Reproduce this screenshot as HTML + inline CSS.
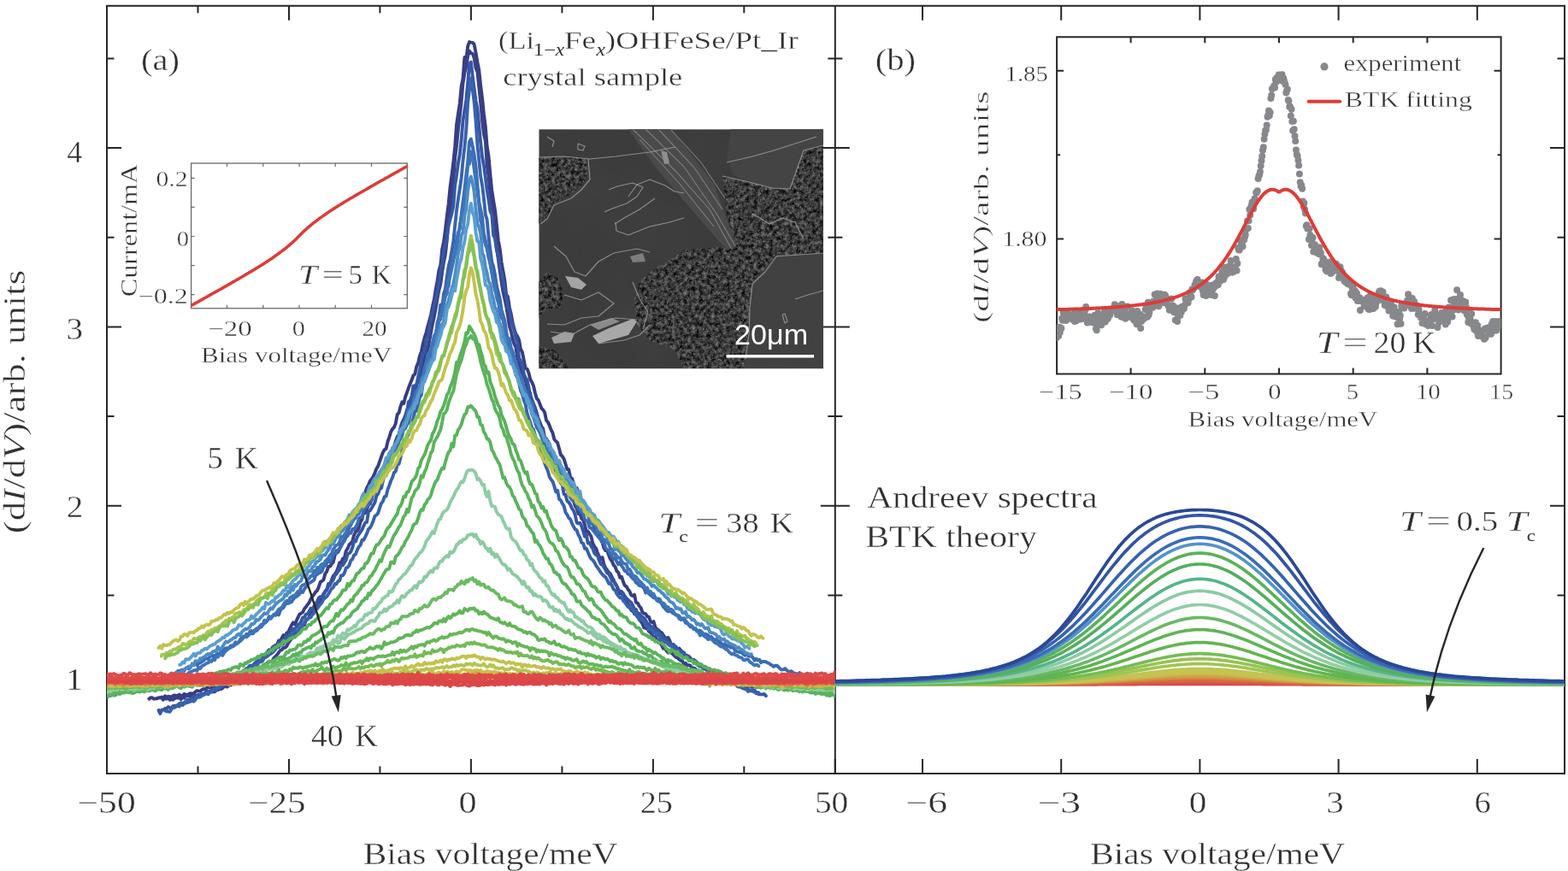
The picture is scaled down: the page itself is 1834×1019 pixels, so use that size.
<!DOCTYPE html>
<html><head><meta charset="utf-8"><style>html,body{margin:0;padding:0;background:#fff;overflow:hidden}svg{display:block}</style></head><body>
<svg width="1834" height="1019" viewBox="0 0 1834 1019">
<style>.t{stroke:#fff;stroke-width:0.4px;paint-order:fill stroke}</style>
<defs>
<clipPath id="clipA"><rect x="125.0" y="6.8" width="851.8" height="898.2"/></clipPath>
<clipPath id="clipB"><rect x="976.8" y="6.8" width="853.2" height="898.2"/></clipPath>
<clipPath id="clipIA"><rect x="223.6" y="191.0" width="252.70000000000002" height="169.7"/></clipPath>
<clipPath id="clipIB"><rect x="1236.1" y="43.3" width="519.5" height="394.2"/></clipPath>
<clipPath id="clipSEM"><rect x="630.3" y="151.2" width="332.70000000000005" height="280.2"/></clipPath>
<filter id="porous" x="0" y="0" width="100%" height="100%" color-interpolation-filters="sRGB"><feTurbulence type="fractalNoise" baseFrequency="0.22" numOctaves="4" seed="9"/><feColorMatrix type="matrix" values="0.65 0 0 0 -0.11  0.65 0 0 0 -0.11  0.65 0 0 0 -0.11  0 0 0 0 1"/></filter>
<filter id="speck" x="0" y="0" width="100%" height="100%" color-interpolation-filters="sRGB"><feTurbulence type="fractalNoise" baseFrequency="0.45" numOctaves="2" seed="21"/><feColorMatrix type="matrix" values="0 0 0 0 0.62  0 0 0 0 0.62  0 0 0 0 0.62  7 0 0 0 -4.1"/></filter>
<filter id="semsmooth" x="0" y="0" width="100%" height="100%" color-interpolation-filters="sRGB"><feTurbulence type="fractalNoise" baseFrequency="0.015" numOctaves="2" seed="3"/><feColorMatrix type="matrix" values="0 0 0 0 0.3  0 0 0 0 0.3  0 0 0 0 0.3  1.5 0 0 0 -0.5"/></filter>
<filter id="semnoise" x="0" y="0" width="100%" height="100%"><feTurbulence type="fractalNoise" baseFrequency="0.08" numOctaves="3" seed="4"/><feColorMatrix type="matrix" values="0 0 0 0 0.25  0 0 0 0 0.25  0 0 0 0 0.25  0 0 0 1.2 -0.3"/></filter>
</defs>
<rect width="1834" height="1019" fill="#fff"/>
<rect x="125.0" y="6.8" width="1705.0" height="898.2" fill="none" stroke="#262626" stroke-width="2"/>
<line x1="976.8" y1="6.8" x2="976.8" y2="905.0" stroke="#262626" stroke-width="2"/>
<path d="M338.0,6.8L338.0,23.8 M338.0,905.0L338.0,888.0 M550.9,6.8L550.9,23.8 M550.9,905.0L550.9,888.0 M763.9,6.8L763.9,23.8 M763.9,905.0L763.9,888.0 M231.5,6.8L231.5,15.3 M231.5,905.0L231.5,896.5 M444.4,6.8L444.4,15.3 M444.4,905.0L444.4,896.5 M657.4,6.8L657.4,15.3 M657.4,905.0L657.4,896.5 M870.3,6.8L870.3,15.3 M870.3,905.0L870.3,896.5 M1079.0,6.8L1079.0,23.8 M1079.0,905.0L1079.0,888.0 M1241.2,6.8L1241.2,23.8 M1241.2,905.0L1241.2,888.0 M1403.4,6.8L1403.4,23.8 M1403.4,905.0L1403.4,888.0 M1565.6,6.8L1565.6,23.8 M1565.6,905.0L1565.6,888.0 M1727.8,6.8L1727.8,23.8 M1727.8,905.0L1727.8,888.0 M125.0,801.0L142.0,801.0 M959.8,801.0L993.8,801.0 M1830.0,801.0L1813.0,801.0 M125.0,591.7L142.0,591.7 M959.8,591.7L993.8,591.7 M1830.0,591.7L1813.0,591.7 M125.0,382.4L142.0,382.4 M959.8,382.4L993.8,382.4 M1830.0,382.4L1813.0,382.4 M125.0,173.1L142.0,173.1 M959.8,173.1L993.8,173.1 M1830.0,173.1L1813.0,173.1 M125.0,696.4L133.5,696.4 M968.3,696.4L985.3,696.4 M1830.0,696.4L1821.5,696.4 M125.0,487.0L133.5,487.0 M968.3,487.0L985.3,487.0 M1830.0,487.0L1821.5,487.0 M125.0,277.8L133.5,277.8 M968.3,277.8L985.3,277.8 M1830.0,277.8L1821.5,277.8 M125.0,68.4L133.5,68.4 M968.3,68.4L985.3,68.4 M1830.0,68.4L1821.5,68.4 M976.8,905.0L976.8,888.0" stroke="#262626" stroke-width="2" fill="none"/>
<g clip-path="url(#clipA)">
<path d="M174.4,817.6 L176.1,816.3 L178.0,816.2 L179.9,817.7 L181.7,817.3 L183.6,817.3 L185.5,816.1 L187.4,816.5 L189.2,815.5 L191.1,817.7 L193.0,814.3 L194.8,815.6 L196.7,814.7 L198.6,815.2 L200.5,815.1 L202.3,814.1 L204.2,813.4 L206.1,814.1 L208.0,813.7 L209.8,812.6 L211.7,813.8 L213.6,814.0 L215.5,811.9 L217.3,812.5 L219.2,813.3 L221.1,811.9 L223.0,811.1 L224.8,811.4 L226.7,811.2 L228.6,809.3 L230.5,808.0 L232.3,808.6 L234.2,808.6 L236.1,807.0 L237.9,806.1 L239.8,806.5 L241.7,805.1 L243.6,804.1 L245.4,804.6 L247.3,804.5 L249.2,802.8 L251.1,802.2 L252.9,800.7 L254.8,802.2 L256.7,800.9 L258.6,800.2 L260.4,800.3 L262.3,797.7 L264.2,796.5 L266.1,796.8 L267.9,793.9 L269.8,793.5 L271.7,792.7 L273.6,791.9 L275.4,790.4 L277.3,791.6 L279.2,788.6 L281.0,787.5 L282.9,788.7 L284.8,785.4 L286.7,784.8 L288.5,782.5 L290.4,782.5 L292.3,780.8 L294.2,779.1 L296.0,778.9 L297.9,776.0 L299.8,775.3 L301.7,773.2 L303.5,772.7 L305.4,769.5 L307.3,768.4 L309.2,767.6 L311.0,765.0 L312.9,762.6 L314.8,760.3 L316.7,762.2 L318.5,757.6 L320.4,756.2 L322.3,754.9 L324.2,754.0 L326.0,749.4 L327.9,750.3 L329.8,746.1 L331.6,743.1 L333.5,744.3 L335.4,740.5 L337.3,739.5 L339.1,735.3 L341.0,731.4 L342.9,728.3 L344.8,730.5 L346.6,726.6 L348.5,722.4 L350.4,718.7 L352.3,717.5 L354.1,716.3 L356.0,712.2 L357.9,709.9 L359.8,707.3 L361.6,705.1 L363.5,700.7 L365.4,697.8 L367.3,695.4 L369.1,692.5 L371.0,690.9 L372.9,686.6 L374.7,681.0 L376.6,679.8 L378.5,678.3 L380.4,670.9 L382.2,668.7 L384.1,663.0 L386.0,662.6 L387.9,659.8 L389.7,657.8 L391.6,650.0 L393.5,644.4 L395.4,646.0 L397.2,642.1 L399.1,636.4 L401.0,634.9 L402.9,630.2 L404.7,626.5 L406.6,621.7 L408.5,616.3 L410.4,614.1 L412.2,608.6 L414.1,606.9 L416.0,601.6 L417.8,601.8 L419.7,596.6 L421.6,588.5 L423.5,586.8 L425.3,580.5 L427.2,576.4 L429.1,570.7 L431.0,567.4 L432.8,562.8 L434.7,560.6 L436.6,557.5 L438.5,553.2 L440.3,548.4 L442.2,545.3 L444.1,539.8 L446.0,534.5 L447.8,529.4 L449.7,526.2 L451.6,525.0 L453.5,516.7 L455.3,511.6 L457.2,505.3 L459.1,501.8 L460.9,499.9 L462.8,495.4 L464.7,484.8 L466.6,482.9 L468.4,475.8 L470.3,470.3 L472.2,472.1 L474.1,464.5 L475.9,459.4 L477.8,454.1 L479.7,449.0 L481.6,444.5 L483.4,439.3 L485.3,437.8 L487.2,429.0 L489.1,424.6 L490.9,416.4 L492.8,411.7 L494.7,402.5 L496.6,395.2 L498.4,389.5 L500.3,382.1 L502.2,374.9 L504.1,368.2 L505.9,358.8 L507.8,350.5 L509.7,338.4 L511.5,329.1 L513.4,316.5 L515.3,310.3 L517.2,291.4 L519.0,283.1 L520.9,269.1 L522.8,252.7 L524.7,238.3 L526.5,219.3 L528.4,205.3 L530.3,189.7 L532.2,171.4 L534.0,146.1 L535.9,133.2 L537.8,120.8 L539.7,100.7 L541.5,92.2 L543.4,66.9 L545.3,69.4 L547.2,54.0 L549.0,49.1 L550.9,49.6 L552.8,49.9 L554.6,51.8 L556.5,61.5 L558.4,72.5 L560.3,82.4 L562.1,99.7 L564.0,114.8 L565.9,133.3 L567.8,148.0 L569.6,171.1 L571.5,182.7 L573.4,204.3 L575.3,223.0 L577.1,234.5 L579.0,245.8 L580.9,262.9 L582.8,281.3 L584.6,290.8 L586.5,306.5 L588.4,317.2 L590.3,327.5 L592.1,344.5 L594.0,347.2 L595.9,359.6 L597.7,367.2 L599.6,377.4 L601.5,385.1 L603.4,390.9 L605.2,393.4 L607.1,397.9 L609.0,408.6 L610.9,412.0 L612.7,421.3 L614.6,431.0 L616.5,431.6 L618.4,436.3 L620.2,443.6 L622.1,447.1 L624.0,451.5 L625.9,459.8 L627.7,466.1 L629.6,468.1 L631.5,472.8 L633.4,477.8 L635.2,479.5 L637.1,482.5 L639.0,491.7 L640.9,493.9 L642.7,497.9 L644.6,502.9 L646.5,506.6 L648.3,514.0 L650.2,516.1 L652.1,517.9 L654.0,524.8 L655.8,532.0 L657.7,533.9 L659.6,536.9 L661.5,542.9 L663.3,549.0 L665.2,549.2 L667.1,558.8 L669.0,559.7 L670.8,564.9 L672.7,571.2 L674.6,570.9 L676.5,576.6 L678.3,583.5 L680.2,584.4 L682.1,590.3 L684.0,596.9 L685.8,598.7 L687.7,601.0 L689.6,604.3 L691.4,609.1 L693.3,613.1 L695.2,616.3 L697.1,621.2 L698.9,622.7 L700.8,628.2 L702.7,631.6 L704.6,634.9 L706.4,641.1 L708.3,644.1 L710.2,644.2 L712.1,649.6 L713.9,654.0 L715.8,656.5 L717.7,661.1 L719.6,663.3 L721.4,668.0 L723.3,669.9 L725.2,675.8 L727.1,674.8 L728.9,680.5 L730.8,685.1 L732.7,686.2 L734.5,689.4 L736.4,691.7 L738.3,696.3 L740.2,697.1 L742.0,695.7 L743.9,704.9 L745.8,705.5 L747.7,709.0 L749.5,711.0 L751.4,716.1 L753.3,717.8 L755.2,718.2 L757.0,721.3 L758.9,721.6 L760.8,726.8 L762.7,728.1 L764.5,727.1 L766.4,733.7 L768.3,736.0 L770.2,737.1 L772.0,739.2 L773.9,740.2 L775.8,743.0 L777.6,745.9 L779.5,746.7 L781.4,745.9 L783.3,749.2 L785.1,755.5 L787.0,754.3 L788.9,756.8 L790.8,756.8 L792.6,759.3 L794.5,758.6 L796.4,761.2 L798.3,762.7 L800.1,764.9 L802.0,766.6 L803.9,767.6 L805.8,767.9 L807.6,770.0 L809.5,772.2 L811.4,771.8 L813.3,774.1 L815.1,775.5 L817.0,777.4 L818.9,778.3 L820.8,779.4 L822.6,782.6 L824.5,779.8 L826.4,781.3 L828.2,783.0 L830.1,782.7 L832.0,784.2 L833.9,785.1 L835.7,788.7 L837.6,787.3 L839.5,787.4 L841.4,787.1 L843.2,787.7 L845.1,788.8 L847.0,791.9 L848.9,793.5 L850.7,791.6 L852.6,792.7 L854.5,792.4 L856.4,794.0 L858.2,794.3 L860.1,796.4 L862.0,795.1 L863.9,796.4 L865.7,796.2 L867.6,796.5 L869.5,797.5 L871.3,797.5 L873.2,798.3 L875.1,797.9 L877.0,798.6 L878.8,799.9 L880.7,800.3 L882.6,798.4 L884.5,800.5 L886.3,799.8 L888.2,800.6 L890.1,801.8 L892.0,802.3 L893.8,801.7 L894.2,801.6" fill="none" stroke="#373d82" stroke-width="3.9" stroke-linejoin="round" stroke-linecap="round"/>
<path d="M190.6,818.6 L191.1,817.5 L193.0,817.6 L194.8,817.5 L196.7,816.5 L198.6,818.9 L200.5,818.2 L202.3,818.7 L204.2,817.3 L206.1,816.0 L208.0,816.8 L209.8,816.0 L211.7,818.1 L213.6,815.9 L215.5,816.6 L217.3,813.8 L219.2,814.3 L221.1,814.0 L223.0,814.6 L224.8,813.6 L226.7,813.3 L228.6,813.8 L230.5,813.6 L232.3,812.9 L234.2,812.9 L236.1,812.5 L237.9,811.8 L239.8,811.8 L241.7,809.9 L243.6,811.7 L245.4,808.9 L247.3,809.7 L249.2,809.1 L251.1,809.4 L252.9,807.7 L254.8,807.2 L256.7,806.1 L258.6,806.2 L260.4,805.0 L262.3,802.7 L264.2,803.3 L266.1,803.5 L267.9,801.3 L269.8,801.6 L271.7,800.1 L273.6,799.3 L275.4,799.4 L277.3,800.0 L279.2,797.6 L281.0,795.8 L282.9,795.7 L284.8,794.0 L286.7,792.4 L288.5,792.9 L290.4,790.0 L292.3,788.5 L294.2,787.9 L296.0,786.7 L297.9,785.5 L299.8,783.1 L301.7,783.9 L303.5,782.8 L305.4,780.8 L307.3,781.0 L309.2,780.2 L311.0,778.1 L312.9,775.3 L314.8,773.7 L316.7,774.2 L318.5,773.0 L320.4,769.6 L322.3,767.8 L324.2,765.9 L326.0,763.3 L327.9,760.9 L329.8,760.1 L331.6,757.8 L333.5,757.7 L335.4,755.8 L337.3,752.2 L339.1,749.6 L341.0,747.3 L342.9,745.3 L344.8,742.8 L346.6,740.5 L348.5,741.2 L350.4,737.6 L352.3,733.8 L354.1,731.1 L356.0,731.2 L357.9,725.3 L359.8,724.7 L361.6,721.7 L363.5,718.4 L365.4,715.0 L367.3,715.0 L369.1,709.0 L371.0,707.2 L372.9,705.4 L374.7,701.7 L376.6,701.2 L378.5,696.0 L380.4,691.7 L382.2,689.8 L384.1,686.0 L386.0,682.4 L387.9,678.8 L389.7,674.0 L391.6,672.1 L393.5,668.9 L395.4,664.2 L397.2,658.3 L399.1,658.3 L401.0,653.4 L402.9,652.9 L404.7,644.6 L406.6,641.9 L408.5,637.0 L410.4,635.4 L412.2,633.1 L414.1,626.0 L416.0,622.2 L417.8,620.9 L419.7,617.9 L421.6,610.6 L423.5,607.6 L425.3,598.6 L427.2,600.1 L429.1,595.7 L431.0,590.8 L432.8,589.3 L434.7,583.7 L436.6,574.8 L438.5,573.7 L440.3,570.3 L442.2,567.2 L444.1,559.3 L446.0,554.7 L447.8,551.1 L449.7,547.9 L451.6,542.1 L453.5,537.4 L455.3,535.0 L457.2,527.9 L459.1,528.9 L460.9,522.6 L462.8,516.0 L464.7,510.9 L466.6,508.5 L468.4,500.6 L470.3,494.3 L472.2,490.7 L474.1,486.3 L475.9,480.1 L477.8,476.0 L479.7,474.4 L481.6,467.1 L483.4,458.3 L485.3,458.5 L487.2,450.2 L489.1,445.5 L490.9,440.8 L492.8,435.0 L494.7,426.0 L496.6,418.9 L498.4,412.0 L500.3,409.2 L502.2,398.7 L504.1,389.0 L505.9,379.0 L507.8,370.7 L509.7,360.7 L511.5,349.7 L513.4,339.6 L515.3,332.6 L517.2,317.8 L519.0,306.8 L520.9,297.8 L522.8,280.9 L524.7,253.4 L526.5,246.9 L528.4,233.2 L530.3,209.9 L532.2,184.4 L534.0,171.1 L535.9,151.1 L537.8,135.5 L539.7,117.9 L541.5,97.4 L543.4,85.5 L545.3,77.7 L547.2,65.6 L549.0,59.7 L550.9,62.2 L552.8,62.8 L554.6,67.9 L556.5,79.7 L558.4,83.9 L560.3,102.4 L562.1,119.5 L564.0,140.2 L565.9,156.5 L567.8,165.1 L569.6,192.8 L571.5,205.8 L573.4,226.4 L575.3,240.9 L577.1,257.2 L579.0,277.1 L580.9,290.5 L582.8,303.3 L584.6,316.4 L586.5,329.2 L588.4,341.5 L590.3,349.7 L592.1,358.0 L594.0,369.6 L595.9,381.9 L597.7,387.3 L599.6,396.1 L601.5,402.6 L603.4,406.4 L605.2,418.3 L607.1,424.3 L609.0,432.7 L610.9,437.3 L612.7,443.8 L614.6,444.4 L616.5,452.9 L618.4,460.3 L620.2,459.8 L622.1,472.3 L624.0,472.4 L625.9,477.1 L627.7,482.9 L629.6,489.6 L631.5,494.0 L633.4,499.2 L635.2,501.5 L637.1,512.6 L639.0,513.4 L640.9,516.6 L642.7,522.6 L644.6,529.6 L646.5,530.9 L648.3,536.3 L650.2,537.7 L652.1,540.9 L654.0,547.9 L655.8,556.1 L657.7,557.1 L659.6,562.8 L661.5,564.1 L663.3,566.5 L665.2,573.3 L667.1,574.4 L669.0,579.6 L670.8,585.2 L672.7,592.1 L674.6,594.4 L676.5,601.1 L678.3,600.9 L680.2,606.5 L682.1,608.4 L684.0,614.2 L685.8,621.8 L687.7,621.4 L689.6,624.9 L691.4,627.5 L693.3,635.5 L695.2,639.2 L697.1,641.4 L698.9,646.8 L700.8,650.9 L702.7,654.1 L704.6,652.1 L706.4,660.4 L708.3,664.4 L710.2,667.0 L712.1,669.8 L713.9,671.3 L715.8,675.1 L717.7,678.5 L719.6,682.8 L721.4,685.8 L723.3,690.0 L725.2,694.2 L727.1,692.4 L728.9,698.7 L730.8,699.7 L732.7,704.3 L734.5,706.8 L736.4,709.6 L738.3,713.9 L740.2,714.9 L742.0,716.9 L743.9,718.9 L745.8,721.9 L747.7,723.7 L749.5,727.0 L751.4,729.7 L753.3,734.4 L755.2,735.0 L757.0,734.7 L758.9,738.6 L760.8,739.9 L762.7,743.2 L764.5,745.7 L766.4,744.7 L768.3,748.5 L770.2,749.1 L772.0,752.1 L773.9,754.8 L775.8,758.7 L777.6,757.9 L779.5,761.3 L781.4,763.6 L783.3,761.6 L785.1,763.7 L787.0,765.3 L788.9,767.4 L790.8,768.9 L792.6,769.8 L794.5,771.4 L796.4,772.9 L798.3,773.5 L800.1,777.9 L802.0,775.8 L803.9,778.5 L805.8,778.1 L807.6,778.9 L809.5,782.0 L811.4,781.4 L813.3,782.5 L815.1,784.9 L817.0,785.7 L818.9,786.0 L820.8,789.1 L822.6,788.3 L824.5,788.5 L826.4,789.9 L828.2,791.8 L830.1,791.4 L832.0,790.3 L833.9,791.2 L835.7,793.3 L837.6,794.6 L839.5,794.5 L841.4,795.0 L843.2,796.3 L845.1,796.5 L847.0,796.2 L848.9,796.4 L850.7,800.1 L852.6,797.3 L854.5,798.6 L856.4,798.1 L858.2,799.6 L860.1,799.6 L862.0,798.8 L863.9,803.6 L865.7,799.6 L867.6,801.3 L869.5,803.5 L871.3,804.6 L873.2,802.1 L875.1,803.7 L877.0,802.0 L878.8,803.1 L880.7,803.6 L882.6,802.8 L884.5,803.8 L886.3,803.5 L888.2,803.6 L890.1,804.3 L891.6,804.0" fill="none" stroke="#394087" stroke-width="3.9" stroke-linejoin="round" stroke-linecap="round"/>
<path d="M185.5,830.9 L187.4,834.9 L189.2,830.4 L191.1,830.6 L193.0,828.8 L194.8,829.1 L196.7,827.0 L198.6,828.1 L200.5,827.9 L202.3,826.2 L204.2,825.6 L206.1,825.7 L208.0,824.9 L209.8,823.2 L211.7,822.5 L213.6,822.9 L215.5,822.0 L217.3,822.6 L219.2,818.6 L221.1,819.6 L223.0,817.3 L224.8,817.4 L226.7,815.1 L228.6,814.7 L230.5,815.0 L232.3,813.1 L234.2,814.5 L236.1,811.5 L237.9,813.2 L239.8,810.6 L241.7,809.0 L243.6,808.9 L245.4,808.5 L247.3,808.0 L249.2,806.6 L251.1,804.3 L252.9,803.5 L254.8,803.6 L256.7,803.5 L258.6,800.7 L260.4,801.7 L262.3,799.7 L264.2,798.9 L266.1,796.4 L267.9,795.8 L269.8,794.4 L271.7,793.5 L273.6,793.3 L275.4,790.9 L277.3,788.9 L279.2,789.1 L281.0,787.2 L282.9,786.8 L284.8,784.4 L286.7,783.5 L288.5,782.0 L290.4,781.2 L292.3,778.6 L294.2,779.3 L296.0,777.9 L297.9,776.8 L299.8,774.2 L301.7,774.0 L303.5,772.6 L305.4,769.7 L307.3,767.8 L309.2,766.9 L311.0,768.9 L312.9,765.5 L314.8,764.1 L316.7,762.7 L318.5,760.2 L320.4,756.1 L322.3,756.8 L324.2,755.6 L326.0,752.3 L327.9,751.3 L329.8,749.5 L331.6,748.7 L333.5,746.1 L335.4,743.7 L337.3,744.6 L339.1,742.4 L341.0,737.3 L342.9,735.7 L344.8,735.3 L346.6,734.0 L348.5,730.9 L350.4,730.1 L352.3,727.0 L354.1,722.4 L356.0,722.1 L357.9,718.7 L359.8,718.2 L361.6,715.2 L363.5,711.6 L365.4,712.8 L367.3,709.2 L369.1,706.6 L371.0,703.6 L372.9,699.4 L374.7,698.1 L376.6,698.5 L378.5,694.3 L380.4,692.5 L382.2,689.9 L384.1,683.1 L386.0,684.7 L387.9,680.1 L389.7,678.7 L391.6,673.5 L393.5,671.4 L395.4,668.7 L397.2,666.0 L399.1,661.2 L401.0,661.2 L402.9,657.8 L404.7,655.2 L406.6,648.2 L408.5,647.4 L410.4,645.2 L412.2,640.8 L414.1,632.7 L416.0,633.4 L417.8,628.3 L419.7,625.3 L421.6,622.4 L423.5,619.7 L425.3,615.3 L427.2,611.5 L429.1,610.8 L431.0,598.5 L432.8,597.3 L434.7,594.5 L436.6,590.9 L438.5,587.7 L440.3,580.2 L442.2,577.8 L444.1,572.1 L446.0,571.0 L447.8,563.0 L449.7,555.2 L451.6,554.7 L453.5,547.7 L455.3,544.2 L457.2,537.0 L459.1,531.9 L460.9,528.6 L462.8,524.5 L464.7,517.3 L466.6,512.2 L468.4,508.0 L470.3,499.9 L472.2,494.1 L474.1,491.0 L475.9,483.2 L477.8,470.2 L479.7,468.5 L481.6,463.7 L483.4,451.5 L485.3,451.6 L487.2,449.6 L489.1,441.3 L490.9,433.2 L492.8,421.6 L494.7,412.4 L496.6,412.7 L498.4,396.6 L500.3,394.7 L502.2,382.7 L504.1,373.8 L505.9,365.4 L507.8,357.9 L509.7,348.5 L511.5,343.1 L513.4,329.7 L515.3,318.1 L517.2,308.4 L519.0,293.3 L520.9,287.4 L522.8,277.7 L524.7,263.7 L526.5,256.7 L528.4,249.8 L530.3,240.7 L532.2,216.6 L534.0,205.7 L535.9,190.9 L537.8,180.4 L539.7,162.7 L541.5,141.0 L543.4,129.3 L545.3,116.8 L547.2,96.7 L549.0,74.7 L550.9,72.6 L552.8,89.8 L554.6,103.5 L556.5,117.5 L558.4,127.4 L560.3,147.1 L562.1,166.2 L564.0,183.2 L565.9,193.6 L567.8,207.5 L569.6,222.0 L571.5,233.6 L573.4,247.3 L575.3,251.0 L577.1,275.2 L579.0,278.6 L580.9,292.6 L582.8,297.8 L584.6,310.6 L586.5,318.7 L588.4,327.7 L590.3,338.0 L592.1,344.9 L594.0,360.2 L595.9,362.5 L597.7,374.0 L599.6,380.7 L601.5,385.7 L603.4,394.8 L605.2,400.3 L607.1,418.5 L609.0,422.6 L610.9,425.1 L612.7,437.3 L614.6,441.9 L616.5,444.3 L618.4,452.9 L620.2,463.7 L622.1,466.9 L624.0,472.7 L625.9,480.2 L627.7,486.6 L629.6,492.0 L631.5,501.3 L633.4,503.6 L635.2,511.5 L637.1,514.1 L639.0,519.5 L640.9,527.5 L642.7,529.6 L644.6,535.2 L646.5,541.1 L648.3,544.5 L650.2,551.4 L652.1,556.1 L654.0,560.0 L655.8,564.9 L657.7,567.2 L659.6,578.1 L661.5,578.7 L663.3,586.0 L665.2,587.6 L667.1,590.3 L669.0,594.9 L670.8,597.2 L672.7,602.3 L674.6,611.4 L676.5,612.4 L678.3,611.7 L680.2,615.4 L682.1,621.4 L684.0,627.7 L685.8,625.2 L687.7,635.5 L689.6,635.0 L691.4,638.9 L693.3,641.8 L695.2,647.2 L697.1,649.2 L698.9,650.0 L700.8,655.5 L702.7,659.9 L704.6,660.8 L706.4,663.6 L708.3,666.8 L710.2,670.6 L712.1,671.5 L713.9,675.2 L715.8,679.4 L717.7,680.0 L719.6,683.0 L721.4,685.4 L723.3,690.4 L725.2,691.7 L727.1,692.4 L728.9,694.2 L730.8,697.4 L732.7,700.0 L734.5,701.6 L736.4,703.5 L738.3,704.8 L740.2,708.6 L742.0,712.1 L743.9,713.0 L745.8,718.1 L747.7,717.7 L749.5,720.3 L751.4,721.8 L753.3,723.2 L755.2,725.7 L757.0,729.4 L758.9,730.0 L760.8,732.4 L762.7,733.3 L764.5,734.6 L766.4,738.0 L768.3,737.8 L770.2,738.8 L772.0,742.4 L773.9,742.9 L775.8,747.1 L777.6,747.6 L779.5,747.5 L781.4,752.2 L783.3,752.3 L785.1,754.3 L787.0,753.6 L788.9,755.1 L790.8,758.5 L792.6,759.1 L794.5,763.5 L796.4,761.2 L798.3,763.1 L800.1,763.4 L802.0,768.7 L803.9,767.1 L805.8,769.2 L807.6,772.8 L809.5,772.1 L811.4,772.7 L813.3,773.0 L815.1,774.9 L817.0,776.8 L818.9,777.0 L820.8,778.7 L822.6,780.4 L824.5,781.9 L826.4,781.8 L828.2,782.9 L830.1,782.4 L832.0,785.6 L833.9,784.7 L835.7,786.9 L837.6,787.2 L839.5,790.2 L841.4,791.1 L843.2,791.6 L845.1,791.4 L847.0,793.0 L848.9,793.4 L850.7,794.7 L852.6,795.0 L854.5,796.6 L856.4,798.2 L858.2,798.1 L860.1,799.3 L862.0,798.6 L863.9,801.2 L865.7,801.8 L867.6,803.0 L869.5,802.4 L871.3,803.5 L873.2,804.4 L875.1,807.0 L877.0,808.0 L878.8,807.1 L880.7,807.3 L882.6,807.4 L884.5,811.1 L886.3,810.3 L888.2,812.4 L890.1,812.4 L892.0,812.4 L893.8,811.9 L895.7,814.0 L895.9,814.2" fill="none" stroke="#3557a4" stroke-width="3.9" stroke-linejoin="round" stroke-linecap="round"/>
<path d="M193.1,831.4 L194.8,832.4 L196.7,832.3 L198.6,832.8 L200.5,829.7 L202.3,827.5 L204.2,827.9 L206.1,826.7 L208.0,825.5 L209.8,826.6 L211.7,822.5 L213.6,825.0 L215.5,823.1 L217.3,820.1 L219.2,822.0 L221.1,821.0 L223.0,820.7 L224.8,819.1 L226.7,820.6 L228.6,818.4 L230.5,815.3 L232.3,815.9 L234.2,815.4 L236.1,814.0 L237.9,813.0 L239.8,812.4 L241.7,811.1 L243.6,812.3 L245.4,809.2 L247.3,809.4 L249.2,807.1 L251.1,806.9 L252.9,806.9 L254.8,805.0 L256.7,804.9 L258.6,802.0 L260.4,801.9 L262.3,800.0 L264.2,800.9 L266.1,797.2 L267.9,798.0 L269.8,795.3 L271.7,794.6 L273.6,795.4 L275.4,792.9 L277.3,792.6 L279.2,790.5 L281.0,788.3 L282.9,787.9 L284.8,786.3 L286.7,787.3 L288.5,784.7 L290.4,783.3 L292.3,781.3 L294.2,781.8 L296.0,779.3 L297.9,778.1 L299.8,778.8 L301.7,776.9 L303.5,774.0 L305.4,774.4 L307.3,773.0 L309.2,769.4 L311.0,768.6 L312.9,767.7 L314.8,765.8 L316.7,764.9 L318.5,763.5 L320.4,761.9 L322.3,759.5 L324.2,756.8 L326.0,757.2 L327.9,755.2 L329.8,753.7 L331.6,753.3 L333.5,749.9 L335.4,747.5 L337.3,747.7 L339.1,744.0 L341.0,743.9 L342.9,740.1 L344.8,738.2 L346.6,738.2 L348.5,738.3 L350.4,734.5 L352.3,733.8 L354.1,731.8 L356.0,728.5 L357.9,724.5 L359.8,724.3 L361.6,722.4 L363.5,722.4 L365.4,718.7 L367.3,717.6 L369.1,713.0 L371.0,712.1 L372.9,709.3 L374.7,707.0 L376.6,704.9 L378.5,701.0 L380.4,699.3 L382.2,698.0 L384.1,694.9 L386.0,691.9 L387.9,688.3 L389.7,687.4 L391.6,683.0 L393.5,683.3 L395.4,680.1 L397.2,679.2 L399.1,673.1 L401.0,673.1 L402.9,670.3 L404.7,664.6 L406.6,663.8 L408.5,661.1 L410.4,655.6 L412.2,654.2 L414.1,649.4 L416.0,648.4 L417.8,643.4 L419.7,639.6 L421.6,637.9 L423.5,631.8 L425.3,631.9 L427.2,628.1 L429.1,624.1 L431.0,619.0 L432.8,617.5 L434.7,614.1 L436.6,609.2 L438.5,603.6 L440.3,602.6 L442.2,600.2 L444.1,594.2 L446.0,588.7 L447.8,586.7 L449.7,581.2 L451.6,580.6 L453.5,572.7 L455.3,568.1 L457.2,562.5 L459.1,558.5 L460.9,552.9 L462.8,551.5 L464.7,543.3 L466.6,542.9 L468.4,535.7 L470.3,527.1 L472.2,522.3 L474.1,522.5 L475.9,511.9 L477.8,508.4 L479.7,503.4 L481.6,495.5 L483.4,489.6 L485.3,480.7 L487.2,480.8 L489.1,472.1 L490.9,465.0 L492.8,462.2 L494.7,448.4 L496.6,439.9 L498.4,438.4 L500.3,428.7 L502.2,422.7 L504.1,413.6 L505.9,408.1 L507.8,396.1 L509.7,392.9 L511.5,377.7 L513.4,371.4 L515.3,356.7 L517.2,358.3 L519.0,344.3 L520.9,337.6 L522.8,323.9 L524.7,311.4 L526.5,304.1 L528.4,294.0 L530.3,282.6 L532.2,263.8 L534.0,246.8 L535.9,232.7 L537.8,220.9 L539.7,207.7 L541.5,187.9 L543.4,172.4 L545.3,151.8 L547.2,120.2 L549.0,104.7 L550.9,91.5 L552.8,104.6 L554.6,119.2 L556.5,140.8 L558.4,169.6 L560.3,187.6 L562.1,206.4 L564.0,216.3 L565.9,231.9 L567.8,251.2 L569.6,256.7 L571.5,276.6 L573.4,292.5 L575.3,306.6 L577.1,312.2 L579.0,321.7 L580.9,334.6 L582.8,342.0 L584.6,349.4 L586.5,362.2 L588.4,368.8 L590.3,375.5 L592.1,387.2 L594.0,398.2 L595.9,403.8 L597.7,411.4 L599.6,415.1 L601.5,428.9 L603.4,438.9 L605.2,441.5 L607.1,448.4 L609.0,456.9 L610.9,461.3 L612.7,468.3 L614.6,472.7 L616.5,483.4 L618.4,489.1 L620.2,493.6 L622.1,500.4 L624.0,502.3 L625.9,509.4 L627.7,516.1 L629.6,518.2 L631.5,525.6 L633.4,529.7 L635.2,535.1 L637.1,542.0 L639.0,546.8 L640.9,551.2 L642.7,558.0 L644.6,561.1 L646.5,563.4 L648.3,568.8 L650.2,575.4 L652.1,573.7 L654.0,584.0 L655.8,585.1 L657.7,589.0 L659.6,592.0 L661.5,599.6 L663.3,601.9 L665.2,606.0 L667.1,607.4 L669.0,612.3 L670.8,615.9 L672.7,619.2 L674.6,620.3 L676.5,625.8 L678.3,628.8 L680.2,635.0 L682.1,635.6 L684.0,641.9 L685.8,641.6 L687.7,645.9 L689.6,650.5 L691.4,653.8 L693.3,655.2 L695.2,657.7 L697.1,661.6 L698.9,664.0 L700.8,666.8 L702.7,669.8 L704.6,672.0 L706.4,673.9 L708.3,675.1 L710.2,678.6 L712.1,682.8 L713.9,682.2 L715.8,685.2 L717.7,689.6 L719.6,690.3 L721.4,694.7 L723.3,697.3 L725.2,699.5 L727.1,698.6 L728.9,702.8 L730.8,704.7 L732.7,707.2 L734.5,709.9 L736.4,710.8 L738.3,712.6 L740.2,713.0 L742.0,718.5 L743.9,717.5 L745.8,720.5 L747.7,725.4 L749.5,723.9 L751.4,725.0 L753.3,727.5 L755.2,730.3 L757.0,732.2 L758.9,736.5 L760.8,735.5 L762.7,737.3 L764.5,740.3 L766.4,740.7 L768.3,743.3 L770.2,741.6 L772.0,747.1 L773.9,748.3 L775.8,751.3 L777.6,750.8 L779.5,751.8 L781.4,753.4 L783.3,755.6 L785.1,755.4 L787.0,757.5 L788.9,757.9 L790.8,760.7 L792.6,763.8 L794.5,763.4 L796.4,765.7 L798.3,765.0 L800.1,767.8 L802.0,768.7 L803.9,769.8 L805.8,772.6 L807.6,772.6 L809.5,772.6 L811.4,775.2 L813.3,776.0 L815.1,776.9 L817.0,778.8 L818.9,779.6 L820.8,780.0 L822.6,781.9 L824.5,782.6 L826.4,783.9 L828.2,785.8 L830.1,787.1 L832.0,785.0 L833.9,786.6 L835.7,789.0 L837.6,789.0 L839.5,789.9 L841.4,791.0 L843.2,793.2 L845.1,795.1 L847.0,795.9 L848.9,795.9 L850.7,795.3 L852.6,796.0 L854.5,798.6 L856.4,799.5 L858.2,799.0 L860.1,799.0 L862.0,802.7 L863.9,802.2 L865.7,803.3 L867.6,804.6 L869.5,805.4 L871.3,806.2 L873.2,806.7 L875.1,808.9 L877.0,808.2 L878.8,808.2 L880.7,809.0 L882.6,809.7 L884.5,810.8 L886.3,811.7 L887.4,810.4" fill="none" stroke="#3862ae" stroke-width="3.9" stroke-linejoin="round" stroke-linecap="round"/>
<path d="M125.0,816.0 L125.5,815.4 L127.4,813.6 L129.3,814.0 L131.1,812.5 L133.0,811.7 L134.9,813.3 L136.8,810.4 L138.6,811.4 L140.5,808.3 L142.4,809.1 L144.3,809.7 L146.1,808.5 L148.0,807.9 L149.9,807.2 L151.7,805.6 L153.6,805.8 L155.5,804.2 L157.4,804.6 L159.2,804.7 L161.1,805.4 L163.0,804.8 L164.9,802.5 L166.7,801.5 L168.6,800.1 L170.5,801.4 L172.4,800.1 L174.2,800.3 L176.1,799.3 L178.0,800.4 L179.9,796.9 L181.7,797.6 L183.6,796.3 L185.5,795.1 L187.4,794.5 L189.2,795.4 L191.1,791.9 L193.0,792.0 L194.8,791.5 L196.7,791.9 L198.6,792.1 L200.5,791.4 L202.3,789.2 L204.2,788.1 L206.1,788.2 L208.0,784.9 L209.8,785.6 L211.7,784.1 L213.6,783.4 L215.5,784.6 L217.3,781.7 L219.2,781.4 L221.1,782.3 L223.0,779.4 L224.8,778.2 L226.7,777.5 L228.6,776.5 L230.5,778.2 L232.3,776.1 L234.2,775.5 L236.1,773.9 L237.9,773.0 L239.8,771.0 L241.7,770.4 L243.6,771.2 L245.4,768.3 L247.3,766.6 L249.2,767.0 L251.1,768.0 L252.9,766.1 L254.8,764.6 L256.7,765.1 L258.6,762.5 L260.4,762.7 L262.3,759.3 L264.2,758.4 L266.1,758.1 L267.9,758.4 L269.8,755.5 L271.7,755.5 L273.6,754.4 L275.4,751.2 L277.3,752.2 L279.2,751.7 L281.0,748.1 L282.9,745.7 L284.8,744.7 L286.7,744.4 L288.5,741.7 L290.4,743.3 L292.3,739.0 L294.2,737.9 L296.0,739.5 L297.9,737.3 L299.8,738.0 L301.7,736.3 L303.5,733.1 L305.4,733.8 L307.3,730.7 L309.2,729.0 L311.0,728.0 L312.9,725.6 L314.8,722.9 L316.7,723.6 L318.5,721.1 L320.4,719.0 L322.3,719.9 L324.2,718.7 L326.0,719.4 L327.9,714.1 L329.8,711.7 L331.6,710.9 L333.5,707.1 L335.4,706.2 L337.3,705.5 L339.1,704.9 L341.0,704.3 L342.9,701.3 L344.8,699.0 L346.6,698.0 L348.5,696.6 L350.4,694.9 L352.3,691.5 L354.1,693.0 L356.0,689.2 L357.9,686.8 L359.8,684.0 L361.6,682.0 L363.5,681.3 L365.4,679.9 L367.3,678.7 L369.1,673.3 L371.0,672.0 L372.9,670.5 L374.7,669.7 L376.6,668.2 L378.5,662.6 L380.4,662.1 L382.2,659.1 L384.1,654.8 L386.0,657.6 L387.9,654.1 L389.7,650.0 L391.6,647.2 L393.5,647.4 L395.4,643.4 L397.2,641.8 L399.1,639.2 L401.0,635.1 L402.9,632.8 L404.7,628.6 L406.6,626.9 L408.5,622.7 L410.4,623.8 L412.2,619.0 L414.1,619.2 L416.0,616.8 L417.8,613.5 L419.7,607.0 L421.6,604.9 L423.5,605.0 L425.3,596.8 L427.2,594.3 L429.1,593.2 L431.0,590.1 L432.8,586.4 L434.7,585.3 L436.6,575.5 L438.5,577.2 L440.3,573.3 L442.2,570.0 L444.1,567.1 L446.0,564.0 L447.8,557.9 L449.7,557.2 L451.6,553.1 L453.5,548.8 L455.3,541.7 L457.2,541.3 L459.1,537.3 L460.9,530.5 L462.8,529.3 L464.7,523.5 L466.6,516.6 L468.4,513.2 L470.3,509.5 L472.2,501.8 L474.1,501.3 L475.9,497.0 L477.8,494.8 L479.7,485.9 L481.6,479.6 L483.4,477.5 L485.3,466.5 L487.2,463.2 L489.1,458.0 L490.9,457.5 L492.8,448.4 L494.7,442.5 L496.6,442.4 L498.4,431.6 L500.3,426.0 L502.2,423.5 L504.1,411.6 L505.9,401.1 L507.8,397.7 L509.7,395.0 L511.5,386.4 L513.4,375.6 L515.3,373.4 L517.2,362.6 L519.0,355.6 L520.9,347.1 L522.8,334.6 L524.7,334.9 L526.5,318.3 L528.4,311.6 L530.3,302.9 L532.2,297.5 L534.0,281.0 L535.9,272.0 L537.8,268.0 L539.7,250.6 L541.5,236.5 L543.4,221.2 L545.3,204.2 L547.2,188.8 L549.0,165.7 L550.9,162.6 L552.8,171.4 L554.6,181.1 L556.5,194.8 L558.4,216.0 L560.3,236.5 L562.1,244.6 L564.0,253.9 L565.9,273.3 L567.8,281.4 L569.6,289.1 L571.5,298.4 L573.4,309.1 L575.3,319.7 L577.1,330.1 L579.0,339.8 L580.9,343.7 L582.8,352.0 L584.6,363.6 L586.5,371.7 L588.4,373.9 L590.3,381.8 L592.1,393.3 L594.0,402.3 L595.9,404.4 L597.7,409.2 L599.6,415.1 L601.5,421.7 L603.4,433.5 L605.2,435.5 L607.1,442.3 L609.0,448.8 L610.9,446.4 L612.7,458.0 L614.6,462.7 L616.5,469.2 L618.4,472.1 L620.2,476.0 L622.1,484.2 L624.0,488.4 L625.9,494.1 L627.7,500.0 L629.6,502.7 L631.5,506.1 L633.4,511.2 L635.2,516.1 L637.1,523.7 L639.0,523.3 L640.9,527.8 L642.7,529.1 L644.6,537.4 L646.5,542.8 L648.3,547.7 L650.2,548.9 L652.1,551.6 L654.0,554.6 L655.8,561.7 L657.7,563.3 L659.6,563.8 L661.5,569.0 L663.3,573.2 L665.2,576.6 L667.1,582.0 L669.0,584.9 L670.8,586.5 L672.7,586.6 L674.6,589.8 L676.5,595.1 L678.3,596.8 L680.2,600.1 L682.1,601.7 L684.0,607.8 L685.8,609.0 L687.7,610.6 L689.6,617.1 L691.4,617.8 L693.3,619.9 L695.2,622.3 L697.1,624.7 L698.9,627.2 L700.8,629.1 L702.7,630.9 L704.6,635.0 L706.4,634.6 L708.3,641.2 L710.2,643.1 L712.1,644.6 L713.9,648.6 L715.8,651.9 L717.7,653.9 L719.6,652.3 L721.4,657.3 L723.3,660.4 L725.2,657.7 L727.1,662.1 L728.9,664.4 L730.8,668.1 L732.7,668.4 L734.5,671.5 L736.4,672.3 L738.3,674.7 L740.2,676.9 L742.0,678.1 L743.9,681.6 L745.8,682.7 L747.7,685.0 L749.5,685.2 L751.4,686.5 L753.3,688.2 L755.2,693.6 L757.0,690.3 L758.9,694.6 L760.8,696.2 L762.7,697.7 L764.5,699.4 L766.4,699.2 L768.3,702.3 L770.2,703.6 L772.0,704.3 L773.9,705.4 L775.8,709.9 L777.6,711.6 L779.5,714.0 L781.4,715.4 L783.3,714.0 L785.1,715.7 L787.0,717.2 L788.9,718.2 L790.8,719.6 L792.6,719.8 L794.5,720.5 L796.4,724.9 L798.3,723.4 L800.1,725.2 L802.0,728.7 L803.9,728.8 L805.8,730.8 L807.6,733.5 L809.5,732.7 L811.4,735.8 L813.3,735.0 L815.1,737.5 L817.0,737.8 L818.9,737.6 L820.8,739.5 L822.6,741.7 L824.5,741.6 L826.4,742.2 L828.2,743.0 L830.1,746.1 L832.0,744.9 L833.9,747.4 L835.7,748.8 L837.6,747.9 L839.5,749.6 L841.4,750.5 L843.2,752.1 L845.1,755.2 L847.0,753.6 L848.9,754.5 L850.7,756.2 L852.6,755.1 L854.5,757.7 L856.4,757.0 L858.2,758.4 L860.1,761.3 L862.0,762.3 L863.9,762.6 L865.7,763.2 L867.6,763.3 L869.5,765.4 L871.3,766.7 L873.2,764.2 L875.1,767.2 L877.0,767.8 L878.8,767.1 L880.7,769.5 L882.6,772.7 L884.5,770.7 L886.3,772.5 L888.2,771.7 L890.1,775.2 L892.0,773.9 L893.8,774.0 L895.7,774.1 L897.6,775.3 L899.5,776.0 L901.3,777.6 L903.2,778.3 L905.1,780.0 L907.0,778.7 L908.8,778.8 L910.7,780.4 L912.6,782.5 L914.4,783.6 L916.3,783.4 L918.2,782.0 L920.1,784.0 L921.9,785.7 L923.8,785.7 L925.7,785.2 L927.6,787.2 L929.4,787.6 L931.3,788.2 L933.2,789.1 L935.1,787.0 L936.9,790.1 L938.8,789.7 L940.7,789.4 L942.6,791.1 L944.4,791.9 L946.3,792.2 L948.2,792.6 L949.5,793.2" fill="none" stroke="#3a6bb3" stroke-width="3.9" stroke-linejoin="round" stroke-linecap="round"/>
<path d="M197.4,800.4 L198.6,798.7 L200.5,797.4 L202.3,796.5 L204.2,794.8 L206.1,796.0 L208.0,794.1 L209.8,794.1 L211.7,794.1 L213.6,792.5 L215.5,790.7 L217.3,790.7 L219.2,789.0 L221.1,786.7 L223.0,786.2 L224.8,785.2 L226.7,784.4 L228.6,783.9 L230.5,784.6 L232.3,780.6 L234.2,782.1 L236.1,779.2 L237.9,778.5 L239.8,777.1 L241.7,775.9 L243.6,775.4 L245.4,773.0 L247.3,774.1 L249.2,770.8 L251.1,772.3 L252.9,768.0 L254.8,768.7 L256.7,766.5 L258.6,764.1 L260.4,766.9 L262.3,763.6 L264.2,761.4 L266.1,759.8 L267.9,758.0 L269.8,757.6 L271.7,756.4 L273.6,755.6 L275.4,754.1 L277.3,753.0 L279.2,750.6 L281.0,750.2 L282.9,748.2 L284.8,745.8 L286.7,744.9 L288.5,745.2 L290.4,743.5 L292.3,741.1 L294.2,741.3 L296.0,741.3 L297.9,738.8 L299.8,735.5 L301.7,734.9 L303.5,733.5 L305.4,730.7 L307.3,731.3 L309.2,725.7 L311.0,726.9 L312.9,725.7 L314.8,721.1 L316.7,723.4 L318.5,721.1 L320.4,718.9 L322.3,718.3 L324.2,715.8 L326.0,712.9 L327.9,711.7 L329.8,710.3 L331.6,707.2 L333.5,704.2 L335.4,702.8 L337.3,705.8 L339.1,699.4 L341.0,698.3 L342.9,696.9 L344.8,696.9 L346.6,694.3 L348.5,692.0 L350.4,691.7 L352.3,686.1 L354.1,684.5 L356.0,683.8 L357.9,683.1 L359.8,677.7 L361.6,676.7 L363.5,673.9 L365.4,673.9 L367.3,667.7 L369.1,669.2 L371.0,663.9 L372.9,667.5 L374.7,661.8 L376.6,659.9 L378.5,661.5 L380.4,656.4 L382.2,654.9 L384.1,652.8 L386.0,649.4 L387.9,647.6 L389.7,642.8 L391.6,640.1 L393.5,637.8 L395.4,637.0 L397.2,633.9 L399.1,627.8 L401.0,628.4 L402.9,625.2 L404.7,623.4 L406.6,618.8 L408.5,615.4 L410.4,612.8 L412.2,610.5 L414.1,607.1 L416.0,605.8 L417.8,601.4 L419.7,601.2 L421.6,596.3 L423.5,591.8 L425.3,592.1 L427.2,585.7 L429.1,583.3 L431.0,582.9 L432.8,580.5 L434.7,577.1 L436.6,572.7 L438.5,566.7 L440.3,563.4 L442.2,558.0 L444.1,552.4 L446.0,554.1 L447.8,553.5 L449.7,548.8 L451.6,546.1 L453.5,539.6 L455.3,535.5 L457.2,527.9 L459.1,529.6 L460.9,523.0 L462.8,518.9 L464.7,514.5 L466.6,511.2 L468.4,501.2 L470.3,501.7 L472.2,496.8 L474.1,490.8 L475.9,487.3 L477.8,479.2 L479.7,481.1 L481.6,474.1 L483.4,469.9 L485.3,463.9 L487.2,456.6 L489.1,454.9 L490.9,452.9 L492.8,442.7 L494.7,440.0 L496.6,430.4 L498.4,425.7 L500.3,415.3 L502.2,413.2 L504.1,410.6 L505.9,401.4 L507.8,393.3 L509.7,389.4 L511.5,383.1 L513.4,377.0 L515.3,370.4 L517.2,364.7 L519.0,351.6 L520.9,346.2 L522.8,343.6 L524.7,328.5 L526.5,323.2 L528.4,314.0 L530.3,305.3 L532.2,292.9 L534.0,293.3 L535.9,276.4 L537.8,263.8 L539.7,254.3 L541.5,246.7 L543.4,232.1 L545.3,212.9 L547.2,194.0 L549.0,191.8 L550.9,177.3 L552.8,184.0 L554.6,197.8 L556.5,211.6 L558.4,224.0 L560.3,238.6 L562.1,258.0 L564.0,265.9 L565.9,279.1 L567.8,286.0 L569.6,291.2 L571.5,301.9 L573.4,307.1 L575.3,318.4 L577.1,327.5 L579.0,335.6 L580.9,348.0 L582.8,354.0 L584.6,359.3 L586.5,365.9 L588.4,373.2 L590.3,383.9 L592.1,390.8 L594.0,397.3 L595.9,396.0 L597.7,407.0 L599.6,410.6 L601.5,418.7 L603.4,424.7 L605.2,430.5 L607.1,436.3 L609.0,440.6 L610.9,444.2 L612.7,454.2 L614.6,456.3 L616.5,462.0 L618.4,467.3 L620.2,469.6 L622.1,472.3 L624.0,483.5 L625.9,484.8 L627.7,487.3 L629.6,492.2 L631.5,501.9 L633.4,501.7 L635.2,507.8 L637.1,512.0 L639.0,513.7 L640.9,521.4 L642.7,522.8 L644.6,525.4 L646.5,532.3 L648.3,536.8 L650.2,534.3 L652.1,544.2 L654.0,543.4 L655.8,550.8 L657.7,552.7 L659.6,557.5 L661.5,559.7 L663.3,563.1 L665.2,568.7 L667.1,570.3 L669.0,571.6 L670.8,577.9 L672.7,583.7 L674.6,582.3 L676.5,587.4 L678.3,588.3 L680.2,592.7 L682.1,596.3 L684.0,598.3 L685.8,600.2 L687.7,603.1 L689.6,608.7 L691.4,611.6 L693.3,614.1 L695.2,612.8 L697.1,617.1 L698.9,621.6 L700.8,623.1 L702.7,623.1 L704.6,629.7 L706.4,631.1 L708.3,631.7 L710.2,634.2 L712.1,636.8 L713.9,641.6 L715.8,642.6 L717.7,648.6 L719.6,647.8 L721.4,650.5 L723.3,652.7 L725.2,652.3 L727.1,656.6 L728.9,658.8 L730.8,659.6 L732.7,660.1 L734.5,666.1 L736.4,665.9 L738.3,669.5 L740.2,673.3 L742.0,673.9 L743.9,674.7 L745.8,677.5 L747.7,679.7 L749.5,681.0 L751.4,683.3 L753.3,685.2 L755.2,688.1 L757.0,687.7 L758.9,693.5 L760.8,691.9 L762.7,695.0 L764.5,694.7 L766.4,699.0 L768.3,702.3 L770.2,700.3 L772.0,701.3 L773.9,706.7 L775.8,705.5 L777.6,707.3 L779.5,710.5 L781.4,710.1 L783.3,713.5 L785.1,712.8 L787.0,714.1 L788.9,717.7 L790.8,719.1 L792.6,720.1 L794.5,724.0 L796.4,724.0 L798.3,724.6 L800.1,723.4 L802.0,726.1 L803.9,728.6 L805.8,731.4 L807.6,731.3 L809.5,733.0 L811.4,736.1 L813.3,736.1 L815.1,738.7 L817.0,739.1 L818.9,743.6 L820.8,739.5 L822.6,743.0 L824.5,744.9 L826.4,745.7 L828.2,748.0 L830.1,747.6 L832.0,747.1 L833.9,749.5 L835.7,751.4 L837.6,752.4 L839.5,753.3 L841.4,755.0 L843.2,756.4 L845.1,756.8 L847.0,757.7 L848.9,759.7 L850.7,759.9 L852.6,762.6 L854.5,764.3 L856.4,765.5 L858.2,764.2 L860.1,766.4 L862.0,766.7 L863.9,768.5 L865.7,769.1 L867.6,769.5 L869.5,772.2 L871.3,772.4 L873.2,771.2 L875.1,771.7 L877.0,774.5 L878.8,775.4 L880.7,777.1 L882.6,778.5 L884.5,777.6 L886.3,778.1 L887.4,779.3" fill="none" stroke="#3d74ba" stroke-width="3.9" stroke-linejoin="round" stroke-linecap="round"/>
<path d="M205.9,786.7 L206.1,787.3 L208.0,787.2 L209.8,786.9 L211.7,786.5 L213.6,783.6 L215.5,783.4 L217.3,782.4 L219.2,780.7 L221.1,779.5 L223.0,780.7 L224.8,776.3 L226.7,778.3 L228.6,773.1 L230.5,773.4 L232.3,773.4 L234.2,770.3 L236.1,770.6 L237.9,768.7 L239.8,768.2 L241.7,766.0 L243.6,764.9 L245.4,765.8 L247.3,764.3 L249.2,762.1 L251.1,761.5 L252.9,762.6 L254.8,756.6 L256.7,760.0 L258.6,758.7 L260.4,756.5 L262.3,753.2 L264.2,750.5 L266.1,751.5 L267.9,750.4 L269.8,748.5 L271.7,747.8 L273.6,745.9 L275.4,746.0 L277.3,742.8 L279.2,741.5 L281.0,743.5 L282.9,739.4 L284.8,737.6 L286.7,735.8 L288.5,736.0 L290.4,735.2 L292.3,733.3 L294.2,730.0 L296.0,730.3 L297.9,728.7 L299.8,724.8 L301.7,725.7 L303.5,724.3 L305.4,721.8 L307.3,719.9 L309.2,717.3 L311.0,718.1 L312.9,717.4 L314.8,714.0 L316.7,711.4 L318.5,712.5 L320.4,709.6 L322.3,706.9 L324.2,705.3 L326.0,703.8 L327.9,702.5 L329.8,701.6 L331.6,700.0 L333.5,695.4 L335.4,696.7 L337.3,691.8 L339.1,693.4 L341.0,685.8 L342.9,690.4 L344.8,683.9 L346.6,685.5 L348.5,682.5 L350.4,680.6 L352.3,679.5 L354.1,673.4 L356.0,674.5 L357.9,674.6 L359.8,669.7 L361.6,667.6 L363.5,668.3 L365.4,663.7 L367.3,662.4 L369.1,659.1 L371.0,657.2 L372.9,656.1 L374.7,654.6 L376.6,650.3 L378.5,649.1 L380.4,649.6 L382.2,645.9 L384.1,643.5 L386.0,640.9 L387.9,634.5 L389.7,636.4 L391.6,632.7 L393.5,628.4 L395.4,627.8 L397.2,625.5 L399.1,621.5 L401.0,620.9 L402.9,618.3 L404.7,614.9 L406.6,612.8 L408.5,612.0 L410.4,610.2 L412.2,605.8 L414.1,600.4 L416.0,600.5 L417.8,595.3 L419.7,593.8 L421.6,592.3 L423.5,593.6 L425.3,585.6 L427.2,583.5 L429.1,583.0 L431.0,576.1 L432.8,574.1 L434.7,570.2 L436.6,569.0 L438.5,564.3 L440.3,562.4 L442.2,556.2 L444.1,554.7 L446.0,554.4 L447.8,547.9 L449.7,544.7 L451.6,541.8 L453.5,540.6 L455.3,532.2 L457.2,532.2 L459.1,523.9 L460.9,524.8 L462.8,519.6 L464.7,516.0 L466.6,511.7 L468.4,502.5 L470.3,505.2 L472.2,495.6 L474.1,494.6 L475.9,493.3 L477.8,484.8 L479.7,481.4 L481.6,476.8 L483.4,477.5 L485.3,468.9 L487.2,466.3 L489.1,461.1 L490.9,456.3 L492.8,451.1 L494.7,442.5 L496.6,440.3 L498.4,440.5 L500.3,427.8 L502.2,425.3 L504.1,419.8 L505.9,419.1 L507.8,407.9 L509.7,404.3 L511.5,394.7 L513.4,389.8 L515.3,382.6 L517.2,379.3 L519.0,376.6 L520.9,362.3 L522.8,356.8 L524.7,351.6 L526.5,344.7 L528.4,337.9 L530.3,332.3 L532.2,322.2 L534.0,310.2 L535.9,295.9 L537.8,289.3 L539.7,275.1 L541.5,271.6 L543.4,252.1 L545.3,243.8 L547.2,223.5 L549.0,210.9 L550.9,206.6 L552.8,214.4 L554.6,224.2 L556.5,244.8 L558.4,262.5 L560.3,265.6 L562.1,273.0 L564.0,295.8 L565.9,299.5 L567.8,312.8 L569.6,319.0 L571.5,329.4 L573.4,332.2 L575.3,343.9 L577.1,350.3 L579.0,359.9 L580.9,361.9 L582.8,372.0 L584.6,378.2 L586.5,383.7 L588.4,393.5 L590.3,395.8 L592.1,405.7 L594.0,407.9 L595.9,413.5 L597.7,419.5 L599.6,424.3 L601.5,430.8 L603.4,433.1 L605.2,439.3 L607.1,445.4 L609.0,449.7 L610.9,455.5 L612.7,458.9 L614.6,463.9 L616.5,471.8 L618.4,468.5 L620.2,477.6 L622.1,482.3 L624.0,484.4 L625.9,493.8 L627.7,494.2 L629.6,496.7 L631.5,501.9 L633.4,505.1 L635.2,510.0 L637.1,513.7 L639.0,516.7 L640.9,520.0 L642.7,526.2 L644.6,527.0 L646.5,530.5 L648.3,535.8 L650.2,539.1 L652.1,541.2 L654.0,542.5 L655.8,545.9 L657.7,552.9 L659.6,555.5 L661.5,558.7 L663.3,560.1 L665.2,564.2 L667.1,566.3 L669.0,567.7 L670.8,572.5 L672.7,575.2 L674.6,578.2 L676.5,583.1 L678.3,584.8 L680.2,587.7 L682.1,591.0 L684.0,590.2 L685.8,594.6 L687.7,602.9 L689.6,602.3 L691.4,603.6 L693.3,606.1 L695.2,610.0 L697.1,611.7 L698.9,614.3 L700.8,616.9 L702.7,617.5 L704.6,621.0 L706.4,624.3 L708.3,626.2 L710.2,628.0 L712.1,632.1 L713.9,633.5 L715.8,633.9 L717.7,635.5 L719.6,643.0 L721.4,637.7 L723.3,644.6 L725.2,644.5 L727.1,650.0 L728.9,648.9 L730.8,652.0 L732.7,654.2 L734.5,656.6 L736.4,658.5 L738.3,659.1 L740.2,663.2 L742.0,664.5 L743.9,666.6 L745.8,670.3 L747.7,669.7 L749.5,671.8 L751.4,674.3 L753.3,677.3 L755.2,677.7 L757.0,679.3 L758.9,680.8 L760.8,682.5 L762.7,686.0 L764.5,684.7 L766.4,686.7 L768.3,688.4 L770.2,690.6 L772.0,691.1 L773.9,693.5 L775.8,694.7 L777.6,697.4 L779.5,699.2 L781.4,700.2 L783.3,703.5 L785.1,704.4 L787.0,705.4 L788.9,708.0 L790.8,711.9 L792.6,711.0 L794.5,712.7 L796.4,712.2 L798.3,717.1 L800.1,717.1 L802.0,715.6 L803.9,722.0 L805.8,720.8 L807.6,722.6 L809.5,725.3 L811.4,724.6 L813.3,727.1 L815.1,730.6 L817.0,729.4 L818.9,731.6 L820.8,730.1 L822.6,732.6 L824.5,735.2 L826.4,735.0 L828.2,734.3 L830.1,739.3 L832.0,740.2 L833.9,740.4 L835.7,741.4 L837.6,742.5 L839.5,745.6 L841.4,745.0 L843.2,747.6 L845.1,748.4 L847.0,747.6 L848.9,750.6 L850.7,750.3 L852.6,752.5 L854.5,753.1 L856.4,754.2 L858.2,754.8 L860.1,755.8 L862.0,758.4 L863.9,757.0 L865.7,759.2 L867.6,759.9 L869.5,760.9 L871.3,763.5 L873.2,764.1 L875.1,764.9 L877.0,765.8 L878.8,765.3" fill="none" stroke="#4b8cc6" stroke-width="3.9" stroke-linejoin="round" stroke-linecap="round"/>
<path d="M210.2,777.7 L211.7,777.5 L213.6,774.6 L215.5,775.4 L217.3,771.1 L219.2,771.2 L221.1,771.5 L223.0,769.4 L224.8,767.2 L226.7,764.8 L228.6,767.7 L230.5,764.5 L232.3,763.9 L234.2,763.7 L236.1,761.0 L237.9,760.5 L239.8,758.7 L241.7,759.4 L243.6,757.6 L245.4,756.0 L247.3,755.2 L249.2,754.0 L251.1,753.7 L252.9,751.5 L254.8,750.2 L256.7,749.2 L258.6,747.9 L260.4,745.8 L262.3,746.1 L264.2,743.3 L266.1,743.0 L267.9,741.5 L269.8,740.4 L271.7,737.8 L273.6,736.7 L275.4,736.2 L277.3,735.4 L279.2,731.3 L281.0,731.5 L282.9,732.2 L284.8,729.4 L286.7,728.1 L288.5,725.7 L290.4,725.4 L292.3,724.7 L294.2,720.6 L296.0,723.3 L297.9,721.1 L299.8,718.5 L301.7,717.0 L303.5,715.0 L305.4,713.4 L307.3,710.5 L309.2,712.2 L311.0,704.8 L312.9,706.3 L314.8,706.6 L316.7,704.7 L318.5,703.0 L320.4,703.7 L322.3,698.5 L324.2,698.9 L326.0,696.5 L327.9,695.6 L329.8,693.2 L331.6,690.6 L333.5,690.7 L335.4,685.1 L337.3,687.2 L339.1,684.4 L341.0,681.9 L342.9,679.2 L344.8,677.9 L346.6,676.4 L348.5,673.9 L350.4,672.2 L352.3,672.2 L354.1,668.1 L356.0,668.0 L357.9,666.8 L359.8,663.3 L361.6,661.9 L363.5,658.8 L365.4,656.7 L367.3,656.0 L369.1,652.6 L371.0,651.1 L372.9,651.4 L374.7,644.4 L376.6,644.7 L378.5,642.8 L380.4,639.0 L382.2,640.4 L384.1,637.1 L386.0,632.2 L387.9,634.6 L389.7,630.6 L391.6,624.2 L393.5,623.6 L395.4,623.9 L397.2,619.8 L399.1,616.2 L401.0,616.4 L402.9,612.6 L404.7,609.6 L406.6,607.6 L408.5,602.5 L410.4,602.4 L412.2,600.3 L414.1,597.0 L416.0,595.5 L417.8,593.6 L419.7,589.9 L421.6,587.9 L423.5,580.6 L425.3,577.3 L427.2,579.1 L429.1,580.7 L431.0,573.3 L432.8,568.5 L434.7,568.0 L436.6,562.6 L438.5,559.6 L440.3,559.0 L442.2,555.2 L444.1,553.5 L446.0,549.3 L447.8,547.4 L449.7,543.1 L451.6,535.8 L453.5,536.1 L455.3,529.9 L457.2,528.0 L459.1,528.3 L460.9,522.0 L462.8,519.2 L464.7,517.2 L466.6,512.0 L468.4,504.8 L470.3,501.0 L472.2,500.7 L474.1,497.5 L475.9,492.2 L477.8,487.4 L479.7,481.3 L481.6,481.4 L483.4,478.1 L485.3,471.9 L487.2,472.0 L489.1,463.5 L490.9,457.8 L492.8,458.7 L494.7,447.7 L496.6,446.6 L498.4,440.9 L500.3,436.3 L502.2,431.1 L504.1,425.8 L505.9,422.1 L507.8,420.4 L509.7,407.9 L511.5,405.0 L513.4,397.8 L515.3,392.8 L517.2,384.5 L519.0,381.7 L520.9,376.9 L522.8,362.0 L524.7,358.7 L526.5,353.6 L528.4,345.8 L530.3,337.9 L532.2,340.2 L534.0,328.0 L535.9,317.7 L537.8,307.6 L539.7,302.0 L541.5,289.6 L543.4,282.4 L545.3,268.6 L547.2,261.9 L549.0,246.1 L550.9,238.0 L552.8,248.6 L554.6,253.7 L556.5,271.5 L558.4,282.3 L560.3,282.8 L562.1,302.3 L564.0,309.3 L565.9,318.9 L567.8,333.7 L569.6,334.2 L571.5,339.3 L573.4,352.0 L575.3,358.8 L577.1,364.2 L579.0,367.1 L580.9,377.0 L582.8,378.5 L584.6,384.8 L586.5,397.0 L588.4,401.4 L590.3,403.6 L592.1,411.1 L594.0,412.0 L595.9,416.2 L597.7,425.7 L599.6,426.5 L601.5,432.1 L603.4,438.4 L605.2,440.7 L607.1,448.6 L609.0,451.3 L610.9,458.1 L612.7,463.0 L614.6,461.6 L616.5,465.6 L618.4,473.1 L620.2,475.1 L622.1,482.3 L624.0,486.9 L625.9,488.1 L627.7,489.9 L629.6,496.9 L631.5,500.3 L633.4,504.3 L635.2,509.8 L637.1,515.5 L639.0,514.8 L640.9,521.3 L642.7,518.6 L644.6,525.0 L646.5,527.4 L648.3,530.3 L650.2,537.3 L652.1,540.7 L654.0,538.9 L655.8,543.8 L657.7,547.6 L659.6,549.3 L661.5,557.9 L663.3,554.9 L665.2,559.4 L667.1,561.9 L669.0,564.2 L670.8,564.6 L672.7,569.9 L674.6,574.1 L676.5,578.2 L678.3,574.7 L680.2,585.7 L682.1,585.3 L684.0,587.9 L685.8,591.8 L687.7,593.9 L689.6,595.6 L691.4,600.1 L693.3,601.2 L695.2,602.6 L697.1,608.2 L698.9,608.1 L700.8,610.1 L702.7,613.0 L704.6,615.3 L706.4,617.5 L708.3,620.4 L710.2,623.1 L712.1,622.9 L713.9,626.1 L715.8,628.1 L717.7,627.8 L719.6,630.5 L721.4,635.1 L723.3,633.8 L725.2,638.6 L727.1,638.8 L728.9,645.4 L730.8,642.0 L732.7,646.9 L734.5,649.8 L736.4,651.9 L738.3,656.3 L740.2,656.5 L742.0,657.6 L743.9,656.1 L745.8,660.2 L747.7,662.7 L749.5,662.3 L751.4,665.2 L753.3,668.5 L755.2,670.6 L757.0,673.7 L758.9,673.1 L760.8,677.7 L762.7,675.2 L764.5,680.4 L766.4,679.7 L768.3,680.0 L770.2,684.3 L772.0,684.9 L773.9,683.7 L775.8,688.6 L777.6,688.3 L779.5,690.0 L781.4,695.2 L783.3,693.9 L785.1,697.5 L787.0,697.1 L788.9,698.5 L790.8,698.9 L792.6,702.0 L794.5,703.2 L796.4,704.4 L798.3,703.3 L800.1,707.3 L802.0,706.7 L803.9,711.4 L805.8,713.1 L807.6,712.5 L809.5,715.7 L811.4,715.8 L813.3,717.5 L815.1,716.1 L817.0,718.1 L818.9,718.7 L820.8,721.8 L822.6,724.2 L824.5,725.5 L826.4,724.3 L828.2,729.3 L830.1,729.8 L832.0,731.6 L833.9,730.4 L835.7,733.0 L837.6,733.1 L839.5,733.8 L841.4,733.2 L843.2,736.7 L845.1,741.6 L847.0,742.5 L848.9,741.5 L850.7,740.7 L852.6,744.6 L854.5,745.1 L856.4,747.4 L858.2,747.6 L860.1,747.7 L862.0,749.2 L863.9,750.1 L865.7,750.3 L867.6,752.7 L869.5,754.3 L871.3,757.5 L873.2,756.8 L875.1,755.3 L876.3,758.7" fill="none" stroke="#5b9fd0" stroke-width="3.9" stroke-linejoin="round" stroke-linecap="round"/>
<path d="M188.9,767.5 L189.2,765.9 L191.1,765.6 L193.0,765.9 L194.8,763.6 L196.7,765.0 L198.6,761.9 L200.5,762.3 L202.3,760.0 L204.2,759.3 L206.1,759.8 L208.0,757.4 L209.8,756.7 L211.7,756.8 L213.6,752.9 L215.5,753.3 L217.3,754.6 L219.2,753.4 L221.1,751.0 L223.0,750.0 L224.8,750.2 L226.7,747.0 L228.6,747.3 L230.5,747.4 L232.3,745.8 L234.2,744.6 L236.1,745.2 L237.9,743.3 L239.8,743.4 L241.7,740.6 L243.6,738.5 L245.4,739.7 L247.3,736.7 L249.2,737.4 L251.1,735.1 L252.9,734.5 L254.8,734.2 L256.7,732.3 L258.6,732.1 L260.4,729.1 L262.3,728.3 L264.2,725.7 L266.1,727.9 L267.9,723.5 L269.8,723.8 L271.7,722.1 L273.6,721.6 L275.4,718.3 L277.3,717.3 L279.2,716.5 L281.0,716.3 L282.9,718.4 L284.8,713.5 L286.7,713.0 L288.5,711.9 L290.4,709.9 L292.3,707.6 L294.2,707.6 L296.0,707.3 L297.9,706.4 L299.8,703.6 L301.7,701.3 L303.5,700.7 L305.4,699.5 L307.3,699.4 L309.2,699.1 L311.0,694.8 L312.9,693.8 L314.8,695.8 L316.7,692.9 L318.5,689.1 L320.4,687.6 L322.3,688.6 L324.2,683.1 L326.0,682.8 L327.9,682.0 L329.8,682.0 L331.6,682.3 L333.5,677.7 L335.4,674.8 L337.3,674.5 L339.1,675.9 L341.0,671.1 L342.9,672.2 L344.8,672.8 L346.6,667.6 L348.5,670.4 L350.4,664.7 L352.3,661.7 L354.1,660.0 L356.0,655.8 L357.9,657.2 L359.8,658.0 L361.6,653.9 L363.5,652.1 L365.4,652.3 L367.3,652.4 L369.1,648.5 L371.0,647.2 L372.9,645.0 L374.7,642.8 L376.6,639.5 L378.5,637.9 L380.4,634.7 L382.2,636.0 L384.1,631.8 L386.0,634.2 L387.9,629.4 L389.7,630.1 L391.6,627.0 L393.5,621.8 L395.4,623.1 L397.2,617.1 L399.1,614.6 L401.0,614.5 L402.9,613.8 L404.7,612.9 L406.6,610.5 L408.5,607.1 L410.4,606.5 L412.2,602.7 L414.1,601.7 L416.0,597.1 L417.8,599.1 L419.7,592.7 L421.6,589.6 L423.5,590.7 L425.3,583.9 L427.2,581.4 L429.1,580.5 L431.0,582.1 L432.8,576.4 L434.7,577.4 L436.6,572.7 L438.5,571.7 L440.3,566.4 L442.2,565.5 L444.1,560.8 L446.0,557.0 L447.8,557.4 L449.7,552.3 L451.6,551.3 L453.5,548.1 L455.3,545.5 L457.2,543.5 L459.1,540.2 L460.9,534.2 L462.8,531.0 L464.7,530.1 L466.6,525.2 L468.4,521.8 L470.3,519.3 L472.2,521.7 L474.1,514.3 L475.9,508.1 L477.8,506.7 L479.7,504.2 L481.6,501.2 L483.4,496.3 L485.3,494.1 L487.2,487.8 L489.1,486.2 L490.9,482.2 L492.8,477.2 L494.7,471.6 L496.6,470.7 L498.4,465.3 L500.3,462.8 L502.2,460.7 L504.1,453.5 L505.9,447.8 L507.8,443.7 L509.7,440.1 L511.5,435.8 L513.4,433.3 L515.3,425.6 L517.2,416.3 L519.0,415.4 L520.9,409.5 L522.8,400.3 L524.7,397.7 L526.5,391.3 L528.4,388.6 L530.3,376.9 L532.2,368.5 L534.0,365.1 L535.9,354.4 L537.8,346.4 L539.7,347.9 L541.5,326.9 L543.4,324.2 L545.3,307.3 L547.2,294.8 L549.0,284.7 L550.9,275.7 L552.8,285.1 L554.6,297.6 L556.5,309.9 L558.4,322.2 L560.3,331.0 L562.1,340.0 L564.0,349.7 L565.9,356.5 L567.8,367.2 L569.6,371.7 L571.5,377.0 L573.4,381.6 L575.3,395.2 L577.1,396.0 L579.0,403.1 L580.9,414.3 L582.8,416.4 L584.6,422.6 L586.5,424.0 L588.4,426.7 L590.3,432.2 L592.1,439.3 L594.0,441.3 L595.9,448.2 L597.7,453.0 L599.6,461.4 L601.5,463.8 L603.4,467.1 L605.2,472.1 L607.1,476.6 L609.0,479.4 L610.9,480.0 L612.7,484.9 L614.6,489.1 L616.5,494.1 L618.4,497.9 L620.2,500.5 L622.1,505.5 L624.0,507.0 L625.9,511.1 L627.7,514.7 L629.6,517.0 L631.5,520.7 L633.4,523.2 L635.2,528.9 L637.1,532.0 L639.0,534.8 L640.9,538.1 L642.7,536.6 L644.6,543.7 L646.5,544.2 L648.3,546.4 L650.2,547.9 L652.1,553.8 L654.0,557.2 L655.8,558.5 L657.7,558.2 L659.6,564.7 L661.5,565.1 L663.3,567.6 L665.2,574.0 L667.1,572.4 L669.0,575.6 L670.8,582.2 L672.7,580.1 L674.6,582.0 L676.5,586.5 L678.3,588.5 L680.2,590.1 L682.1,593.0 L684.0,597.4 L685.8,600.2 L687.7,601.7 L689.6,603.9 L691.4,603.8 L693.3,609.1 L695.2,610.6 L697.1,612.7 L698.9,611.3 L700.8,612.6 L702.7,616.8 L704.6,618.2 L706.4,620.5 L708.3,625.1 L710.2,626.6 L712.1,626.8 L713.9,629.3 L715.8,634.8 L717.7,634.8 L719.6,635.3 L721.4,639.4 L723.3,638.0 L725.2,639.8 L727.1,640.6 L728.9,646.2 L730.8,646.6 L732.7,646.7 L734.5,651.1 L736.4,651.4 L738.3,654.3 L740.2,655.0 L742.0,658.5 L743.9,658.3 L745.8,657.7 L747.7,659.9 L749.5,664.2 L751.4,665.1 L753.3,668.1 L755.2,666.7 L757.0,669.3 L758.9,669.7 L760.8,672.8 L762.7,675.3 L764.5,674.8 L766.4,679.2 L768.3,679.2 L770.2,678.9 L772.0,682.8 L773.9,687.3 L775.8,686.3 L777.6,683.8 L779.5,688.3 L781.4,690.9 L783.3,691.3 L785.1,690.1 L787.0,694.1 L788.9,696.3 L790.8,693.7 L792.6,697.4 L794.5,697.8 L796.4,702.2 L798.3,699.6 L800.1,702.6 L802.0,702.0 L803.9,703.9 L805.8,706.7 L807.6,707.8 L809.5,709.2 L811.4,706.7 L813.3,710.6 L815.1,711.2 L817.0,713.2 L818.9,717.8 L820.8,718.3 L822.6,715.9 L824.5,718.8 L826.4,721.0 L828.2,720.7 L830.1,722.3 L832.0,720.9 L833.9,725.6 L835.7,726.8 L837.6,726.8 L839.5,726.9 L841.4,729.3 L843.2,729.7 L845.1,731.8 L847.0,732.9 L848.9,734.1 L850.7,735.4 L852.6,734.9 L854.5,737.6 L856.4,736.9 L858.2,741.1 L860.1,742.8 L862.0,738.1 L863.9,743.7 L865.7,742.3 L867.6,744.2 L869.5,744.3 L871.3,743.7 L873.2,747.1 L875.1,747.5 L877.0,749.8 L878.8,749.6 L880.7,752.8 L882.6,750.7 L884.5,753.2 L885.7,755.0" fill="none" stroke="#a6c64e" stroke-width="3.9" stroke-linejoin="round" stroke-linecap="round"/>
<path d="M193.1,770.1 L194.8,767.6 L196.7,766.5 L198.6,766.7 L200.5,765.7 L202.3,765.8 L204.2,765.3 L206.1,764.3 L208.0,763.5 L209.8,760.4 L211.7,760.5 L213.6,759.3 L215.5,759.2 L217.3,758.7 L219.2,757.9 L221.1,756.5 L223.0,753.9 L224.8,753.5 L226.7,753.0 L228.6,751.8 L230.5,752.1 L232.3,748.0 L234.2,749.8 L236.1,747.3 L237.9,743.8 L239.8,748.2 L241.7,745.7 L243.6,743.9 L245.4,741.8 L247.3,742.9 L249.2,740.0 L251.1,738.6 L252.9,737.3 L254.8,739.2 L256.7,734.4 L258.6,732.1 L260.4,732.4 L262.3,732.6 L264.2,731.3 L266.1,732.7 L267.9,727.6 L269.8,725.2 L271.7,725.0 L273.6,728.3 L275.4,723.9 L277.3,722.3 L279.2,721.5 L281.0,718.4 L282.9,720.6 L284.8,718.1 L286.7,715.1 L288.5,713.3 L290.4,713.1 L292.3,710.6 L294.2,710.0 L296.0,710.7 L297.9,706.3 L299.8,707.4 L301.7,707.5 L303.5,703.4 L305.4,700.2 L307.3,699.9 L309.2,698.5 L311.0,698.1 L312.9,700.3 L314.8,694.6 L316.7,693.9 L318.5,696.3 L320.4,692.1 L322.3,690.9 L324.2,686.8 L326.0,686.6 L327.9,684.8 L329.8,683.4 L331.6,684.1 L333.5,683.4 L335.4,679.0 L337.3,677.9 L339.1,675.9 L341.0,674.6 L342.9,673.4 L344.8,670.3 L346.6,669.2 L348.5,668.7 L350.4,668.9 L352.3,668.3 L354.1,664.9 L356.0,661.3 L357.9,657.9 L359.8,658.2 L361.6,654.8 L363.5,652.3 L365.4,648.6 L367.3,650.0 L369.1,646.3 L371.0,646.5 L372.9,646.9 L374.7,646.7 L376.6,640.8 L378.5,637.9 L380.4,633.5 L382.2,636.6 L384.1,632.7 L386.0,631.8 L387.9,633.4 L389.7,627.0 L391.6,626.1 L393.5,625.6 L395.4,618.6 L397.2,620.4 L399.1,616.5 L401.0,615.6 L402.9,614.2 L404.7,611.1 L406.6,607.3 L408.5,607.6 L410.4,607.1 L412.2,598.8 L414.1,598.9 L416.0,599.1 L417.8,595.2 L419.7,595.5 L421.6,590.4 L423.5,586.4 L425.3,589.0 L427.2,581.5 L429.1,579.1 L431.0,578.6 L432.8,575.4 L434.7,573.6 L436.6,571.2 L438.5,571.3 L440.3,562.1 L442.2,563.7 L444.1,559.5 L446.0,557.5 L447.8,553.4 L449.7,550.3 L451.6,550.6 L453.5,545.0 L455.3,543.4 L457.2,541.6 L459.1,534.3 L460.9,531.5 L462.8,532.6 L464.7,528.3 L466.6,526.6 L468.4,523.7 L470.3,520.2 L472.2,513.7 L474.1,514.5 L475.9,511.3 L477.8,504.1 L479.7,502.8 L481.6,495.1 L483.4,496.3 L485.3,491.6 L487.2,488.6 L489.1,488.2 L490.9,478.5 L492.8,473.9 L494.7,469.3 L496.6,467.9 L498.4,461.8 L500.3,459.5 L502.2,455.2 L504.1,452.5 L505.9,446.6 L507.8,443.9 L509.7,435.6 L511.5,434.0 L513.4,430.1 L515.3,422.8 L517.2,417.6 L519.0,416.5 L520.9,409.6 L522.8,402.9 L524.7,394.7 L526.5,388.4 L528.4,381.6 L530.3,378.0 L532.2,372.9 L534.0,367.6 L535.9,356.1 L537.8,349.7 L539.7,339.0 L541.5,328.3 L543.4,315.6 L545.3,313.2 L547.2,297.8 L549.0,293.7 L550.9,281.9 L552.8,292.4 L554.6,299.8 L556.5,313.9 L558.4,316.9 L560.3,329.6 L562.1,337.7 L564.0,348.9 L565.9,355.3 L567.8,366.7 L569.6,371.9 L571.5,373.7 L573.4,388.5 L575.3,389.6 L577.1,392.6 L579.0,398.7 L580.9,405.2 L582.8,412.2 L584.6,414.1 L586.5,423.3 L588.4,427.6 L590.3,436.4 L592.1,436.3 L594.0,442.4 L595.9,446.2 L597.7,455.9 L599.6,457.7 L601.5,459.5 L603.4,466.1 L605.2,466.0 L607.1,466.8 L609.0,475.5 L610.9,478.3 L612.7,484.1 L614.6,487.9 L616.5,493.8 L618.4,493.1 L620.2,500.7 L622.1,502.5 L624.0,506.1 L625.9,510.9 L627.7,513.2 L629.6,515.3 L631.5,516.2 L633.4,521.6 L635.2,522.2 L637.1,527.3 L639.0,530.8 L640.9,533.2 L642.7,537.7 L644.6,538.3 L646.5,542.8 L648.3,545.8 L650.2,545.4 L652.1,553.3 L654.0,556.4 L655.8,557.4 L657.7,559.5 L659.6,563.3 L661.5,563.7 L663.3,567.4 L665.2,570.0 L667.1,575.6 L669.0,572.7 L670.8,578.1 L672.7,582.4 L674.6,580.8 L676.5,585.7 L678.3,589.4 L680.2,592.4 L682.1,592.9 L684.0,596.3 L685.8,599.2 L687.7,600.0 L689.6,602.5 L691.4,605.3 L693.3,605.0 L695.2,606.3 L697.1,608.5 L698.9,613.7 L700.8,616.1 L702.7,620.0 L704.6,619.9 L706.4,623.1 L708.3,623.3 L710.2,626.1 L712.1,626.7 L713.9,629.8 L715.8,631.0 L717.7,632.7 L719.6,639.4 L721.4,639.1 L723.3,639.1 L725.2,641.3 L727.1,642.9 L728.9,645.9 L730.8,645.8 L732.7,649.5 L734.5,651.0 L736.4,653.4 L738.3,653.1 L740.2,654.7 L742.0,657.8 L743.9,658.9 L745.8,664.2 L747.7,661.4 L749.5,667.5 L751.4,667.1 L753.3,671.4 L755.2,670.4 L757.0,672.1 L758.9,669.9 L760.8,676.1 L762.7,679.9 L764.5,677.4 L766.4,679.7 L768.3,679.1 L770.2,681.2 L772.0,686.3 L773.9,685.9 L775.8,687.3 L777.6,688.2 L779.5,690.3 L781.4,691.5 L783.3,692.4 L785.1,696.7 L787.0,697.0 L788.9,695.2 L790.8,696.8 L792.6,699.6 L794.5,700.5 L796.4,701.3 L798.3,702.1 L800.1,705.4 L802.0,707.5 L803.9,706.4 L805.8,709.7 L807.6,711.8 L809.5,711.2 L811.4,713.5 L813.3,714.7 L815.1,716.0 L817.0,716.2 L818.9,718.2 L820.8,719.5 L822.6,722.7 L824.5,723.9 L826.4,724.8 L828.2,725.4 L830.1,724.4 L832.0,727.7 L833.9,728.8 L835.7,726.9 L837.6,730.1 L839.5,732.2 L841.4,732.1 L843.2,733.9 L845.1,733.3 L847.0,735.4 L848.9,738.4 L850.7,737.0 L852.6,740.9 L854.5,738.3 L856.4,741.1 L858.2,745.2 L860.1,741.2 L862.0,745.8 L863.9,748.6 L865.7,744.7 L867.6,749.1 L869.5,749.3 L871.3,750.4 L873.2,751.1 L875.1,751.6 L877.0,755.3 L878.8,751.3 L880.7,754.5 L882.6,756.3 L883.1,755.8" fill="none" stroke="#86c157" stroke-width="3.9" stroke-linejoin="round" stroke-linecap="round"/>
<path d="M185.5,758.0 L187.4,755.9 L189.2,758.8 L191.1,754.0 L193.0,755.1 L194.8,755.1 L196.7,754.3 L198.6,753.8 L200.5,751.9 L202.3,749.8 L204.2,749.3 L206.1,748.3 L208.0,750.1 L209.8,749.1 L211.7,744.6 L213.6,744.3 L215.5,742.0 L217.3,742.2 L219.2,743.9 L221.1,740.3 L223.0,740.1 L224.8,739.7 L226.7,740.0 L228.6,738.1 L230.5,737.3 L232.3,735.1 L234.2,735.0 L236.1,732.3 L237.9,734.2 L239.8,731.7 L241.7,730.6 L243.6,731.3 L245.4,730.7 L247.3,727.0 L249.2,726.6 L251.1,726.4 L252.9,724.7 L254.8,725.0 L256.7,722.8 L258.6,722.8 L260.4,720.8 L262.3,718.7 L264.2,719.3 L266.1,716.7 L267.9,718.0 L269.8,716.0 L271.7,716.3 L273.6,713.5 L275.4,712.2 L277.3,711.4 L279.2,710.4 L281.0,707.1 L282.9,705.9 L284.8,708.2 L286.7,703.9 L288.5,706.6 L290.4,704.1 L292.3,702.1 L294.2,700.6 L296.0,700.9 L297.9,699.3 L299.8,697.0 L301.7,696.8 L303.5,695.5 L305.4,692.5 L307.3,690.8 L309.2,690.9 L311.0,689.6 L312.9,688.3 L314.8,687.6 L316.7,686.4 L318.5,685.9 L320.4,682.2 L322.3,681.9 L324.2,680.6 L326.0,678.8 L327.9,676.9 L329.8,674.3 L331.6,675.3 L333.5,674.1 L335.4,671.9 L337.3,672.0 L339.1,667.5 L341.0,666.5 L342.9,665.4 L344.8,665.2 L346.6,662.4 L348.5,660.5 L350.4,659.8 L352.3,659.5 L354.1,660.1 L356.0,654.5 L357.9,655.0 L359.8,654.2 L361.6,649.9 L363.5,649.2 L365.4,650.4 L367.3,646.7 L369.1,645.3 L371.0,641.7 L372.9,644.6 L374.7,640.6 L376.6,638.5 L378.5,634.3 L380.4,636.6 L382.2,637.9 L384.1,633.7 L386.0,629.3 L387.9,626.6 L389.7,623.3 L391.6,623.7 L393.5,623.9 L395.4,619.2 L397.2,618.9 L399.1,617.3 L401.0,615.1 L402.9,611.0 L404.7,612.8 L406.6,611.1 L408.5,607.5 L410.4,605.5 L412.2,604.8 L414.1,602.9 L416.0,598.7 L417.8,594.9 L419.7,594.0 L421.6,591.9 L423.5,588.8 L425.3,592.4 L427.2,589.4 L429.1,585.8 L431.0,584.5 L432.8,581.9 L434.7,577.7 L436.6,577.9 L438.5,574.0 L440.3,574.7 L442.2,570.3 L444.1,563.6 L446.0,564.7 L447.8,560.6 L449.7,557.4 L451.6,557.2 L453.5,552.6 L455.3,550.7 L457.2,547.2 L459.1,547.2 L460.9,546.1 L462.8,542.6 L464.7,538.9 L466.6,533.9 L468.4,532.6 L470.3,530.2 L472.2,526.8 L474.1,521.3 L475.9,521.7 L477.8,514.4 L479.7,517.0 L481.6,512.6 L483.4,506.4 L485.3,503.9 L487.2,503.6 L489.1,498.6 L490.9,496.6 L492.8,489.7 L494.7,486.9 L496.6,486.1 L498.4,480.0 L500.3,478.0 L502.2,473.6 L504.1,469.5 L505.9,467.0 L507.8,460.7 L509.7,456.5 L511.5,452.4 L513.4,446.5 L515.3,445.3 L517.2,443.6 L519.0,436.6 L520.9,430.1 L522.8,425.6 L524.7,419.1 L526.5,413.2 L528.4,410.0 L530.3,404.2 L532.2,400.4 L534.0,388.9 L535.9,385.5 L537.8,380.5 L539.7,372.9 L541.5,362.7 L543.4,348.1 L545.3,340.1 L547.2,336.1 L549.0,321.0 L550.9,313.3 L552.8,318.9 L554.6,330.4 L556.5,344.0 L558.4,351.2 L560.3,363.0 L562.1,375.9 L564.0,379.5 L565.9,386.6 L567.8,389.1 L569.6,395.2 L571.5,406.6 L573.4,409.3 L575.3,415.0 L577.1,424.1 L579.0,430.7 L580.9,430.9 L582.8,435.1 L584.6,441.5 L586.5,451.1 L588.4,449.1 L590.3,454.7 L592.1,459.6 L594.0,462.4 L595.9,468.3 L597.7,468.3 L599.6,473.4 L601.5,478.5 L603.4,480.3 L605.2,484.6 L607.1,491.4 L609.0,491.9 L610.9,496.0 L612.7,502.2 L614.6,503.1 L616.5,504.1 L618.4,509.5 L620.2,508.4 L622.1,510.9 L624.0,518.2 L625.9,519.4 L627.7,519.4 L629.6,527.1 L631.5,531.2 L633.4,533.1 L635.2,537.8 L637.1,540.5 L639.0,540.1 L640.9,544.1 L642.7,545.4 L644.6,547.6 L646.5,552.6 L648.3,554.1 L650.2,556.8 L652.1,560.0 L654.0,562.8 L655.8,563.1 L657.7,566.4 L659.6,567.9 L661.5,569.0 L663.3,571.3 L665.2,577.5 L667.1,579.4 L669.0,580.5 L670.8,582.1 L672.7,582.8 L674.6,588.4 L676.5,589.6 L678.3,590.6 L680.2,590.9 L682.1,592.8 L684.0,599.1 L685.8,599.7 L687.7,602.8 L689.6,601.9 L691.4,604.6 L693.3,608.0 L695.2,610.4 L697.1,610.8 L698.9,611.5 L700.8,616.4 L702.7,617.5 L704.6,618.7 L706.4,620.7 L708.3,622.0 L710.2,626.0 L712.1,627.1 L713.9,631.4 L715.8,629.6 L717.7,629.7 L719.6,636.5 L721.4,635.9 L723.3,635.2 L725.2,638.5 L727.1,643.0 L728.9,639.8 L730.8,645.5 L732.7,642.8 L734.5,647.5 L736.4,649.2 L738.3,649.7 L740.2,651.4 L742.0,652.0 L743.9,653.7 L745.8,656.2 L747.7,655.5 L749.5,658.0 L751.4,660.1 L753.3,661.8 L755.2,663.7 L757.0,665.1 L758.9,665.5 L760.8,667.2 L762.7,669.3 L764.5,669.3 L766.4,672.5 L768.3,672.9 L770.2,673.7 L772.0,677.9 L773.9,678.1 L775.8,676.7 L777.6,681.8 L779.5,680.1 L781.4,684.6 L783.3,683.8 L785.1,687.2 L787.0,687.9 L788.9,688.8 L790.8,690.3 L792.6,689.5 L794.5,691.0 L796.4,692.2 L798.3,694.4 L800.1,693.6 L802.0,695.7 L803.9,697.9 L805.8,700.9 L807.6,699.8 L809.5,701.0 L811.4,703.0 L813.3,703.3 L815.1,704.4 L817.0,707.0 L818.9,707.0 L820.8,708.4 L822.6,709.6 L824.5,711.6 L826.4,712.9 L828.2,713.3 L830.1,712.7 L832.0,712.6 L833.9,717.2 L835.7,719.1 L837.6,719.3 L839.5,721.0 L841.4,721.5 L843.2,721.6 L845.1,724.2 L847.0,723.4 L848.9,724.2 L850.7,724.3 L852.6,725.0 L854.5,727.0 L856.4,726.5 L858.2,730.9 L860.1,730.9 L862.0,732.0 L863.9,732.7 L865.7,733.0 L867.6,735.6 L869.5,734.1 L871.3,735.6 L873.2,737.6 L875.1,738.4 L877.0,741.1 L878.8,743.8 L880.7,741.9 L882.6,742.4 L884.5,743.4 L886.3,745.8 L888.2,746.0 L890.1,744.3 L892.0,746.4 L892.5,746.8" fill="none" stroke="#c3c34f" stroke-width="3.9" stroke-linejoin="round" stroke-linecap="round"/>
<path d="M125.0,814.4 L125.5,814.1 L127.4,814.0 L129.3,813.2 L131.1,811.1 L133.0,813.7 L134.9,811.1 L136.8,810.6 L138.6,811.9 L140.5,812.0 L142.4,810.7 L144.3,809.8 L146.1,808.7 L148.0,809.6 L149.9,808.7 L151.7,810.4 L153.6,810.6 L155.5,811.1 L157.4,810.3 L159.2,809.3 L161.1,808.5 L163.0,809.7 L164.9,807.4 L166.7,808.0 L168.6,808.2 L170.5,808.1 L172.4,805.1 L174.2,806.6 L176.1,807.3 L178.0,807.0 L179.9,804.1 L181.7,806.1 L183.6,804.1 L185.5,803.5 L187.4,806.7 L189.2,802.9 L191.1,804.1 L193.0,804.5 L194.8,803.7 L196.7,802.3 L198.6,802.1 L200.5,801.7 L202.3,802.4 L204.2,800.1 L206.1,799.5 L208.0,798.8 L209.8,799.2 L211.7,797.9 L213.6,797.3 L215.5,798.2 L217.3,797.6 L219.2,797.4 L221.1,797.0 L223.0,796.2 L224.8,798.2 L226.7,796.4 L228.6,795.2 L230.5,797.2 L232.3,796.1 L234.2,792.6 L236.1,794.7 L237.9,793.6 L239.8,792.2 L241.7,792.5 L243.6,792.4 L245.4,791.5 L247.3,790.8 L249.2,790.4 L251.1,789.1 L252.9,787.1 L254.8,787.7 L256.7,785.8 L258.6,786.1 L260.4,785.3 L262.3,784.9 L264.2,785.2 L266.1,783.8 L267.9,783.2 L269.8,784.0 L271.7,781.4 L273.6,780.8 L275.4,780.3 L277.3,780.5 L279.2,781.9 L281.0,776.9 L282.9,777.8 L284.8,779.2 L286.7,775.4 L288.5,776.0 L290.4,773.7 L292.3,773.7 L294.2,771.6 L296.0,771.7 L297.9,770.7 L299.8,770.0 L301.7,767.9 L303.5,769.7 L305.4,766.1 L307.3,765.7 L309.2,766.0 L311.0,764.4 L312.9,763.9 L314.8,762.4 L316.7,760.4 L318.5,761.1 L320.4,758.4 L322.3,757.1 L324.2,756.4 L326.0,754.2 L327.9,754.9 L329.8,752.9 L331.6,749.7 L333.5,751.3 L335.4,750.2 L337.3,748.8 L339.1,746.9 L341.0,747.0 L342.9,745.3 L344.8,745.7 L346.6,743.6 L348.5,742.2 L350.4,741.0 L352.3,738.7 L354.1,736.0 L356.0,735.8 L357.9,735.5 L359.8,732.1 L361.6,730.6 L363.5,731.0 L365.4,727.6 L367.3,727.5 L369.1,725.3 L371.0,723.8 L372.9,720.2 L374.7,720.6 L376.6,718.2 L378.5,715.8 L380.4,713.0 L382.2,711.0 L384.1,712.0 L386.0,707.2 L387.9,706.5 L389.7,703.4 L391.6,701.6 L393.5,701.8 L395.4,699.0 L397.2,697.4 L399.1,694.4 L401.0,690.5 L402.9,690.6 L404.7,689.4 L406.6,682.8 L408.5,685.5 L410.4,681.8 L412.2,679.5 L414.1,679.0 L416.0,673.6 L417.8,670.8 L419.7,670.0 L421.6,667.3 L423.5,665.1 L425.3,664.9 L427.2,659.3 L429.1,658.9 L431.0,655.8 L432.8,651.0 L434.7,647.5 L436.6,647.4 L438.5,641.4 L440.3,637.5 L442.2,637.1 L444.1,634.6 L446.0,631.1 L447.8,629.0 L449.7,626.6 L451.6,621.0 L453.5,617.7 L455.3,616.5 L457.2,613.0 L459.1,610.0 L460.9,606.8 L462.8,603.8 L464.7,601.3 L466.6,593.5 L468.4,592.1 L470.3,587.8 L472.2,580.9 L474.1,581.3 L475.9,575.6 L477.8,575.3 L479.7,570.0 L481.6,563.6 L483.4,561.4 L485.3,559.6 L487.2,555.7 L489.1,547.9 L490.9,546.1 L492.8,538.6 L494.7,535.1 L496.6,531.8 L498.4,526.9 L500.3,520.7 L502.2,517.5 L504.1,514.9 L505.9,507.5 L507.8,504.2 L509.7,499.1 L511.5,492.5 L513.4,488.0 L515.3,481.5 L517.2,479.0 L519.0,474.4 L520.9,469.0 L522.8,462.0 L524.7,459.4 L526.5,452.9 L528.4,448.5 L530.3,442.8 L532.2,435.8 L534.0,423.8 L535.9,424.7 L537.8,417.3 L539.7,411.7 L541.5,406.3 L543.4,399.9 L545.3,389.3 L547.2,389.9 L549.0,381.6 L550.9,384.5 L552.8,387.9 L554.6,390.9 L556.5,395.4 L558.4,402.7 L560.3,403.1 L562.1,410.9 L564.0,416.6 L565.9,426.2 L567.8,428.5 L569.6,436.6 L571.5,435.3 L573.4,446.8 L575.3,451.4 L577.1,456.6 L579.0,463.9 L580.9,469.0 L582.8,474.3 L584.6,476.7 L586.5,485.2 L588.4,489.0 L590.3,493.0 L592.1,499.4 L594.0,506.3 L595.9,510.7 L597.7,513.8 L599.6,519.5 L601.5,520.2 L603.4,526.7 L605.2,531.2 L607.1,537.6 L609.0,539.0 L610.9,545.0 L612.7,550.3 L614.6,553.9 L616.5,552.4 L618.4,562.0 L620.2,566.5 L622.1,566.8 L624.0,571.5 L625.9,577.2 L627.7,578.0 L629.6,586.8 L631.5,588.7 L633.4,594.4 L635.2,592.8 L637.1,598.6 L639.0,597.8 L640.9,604.8 L642.7,608.2 L644.6,614.2 L646.5,617.6 L648.3,619.7 L650.2,620.7 L652.1,627.0 L654.0,632.2 L655.8,630.1 L657.7,633.1 L659.6,638.9 L661.5,639.8 L663.3,641.6 L665.2,644.4 L667.1,651.4 L669.0,651.7 L670.8,655.6 L672.7,655.8 L674.6,659.7 L676.5,664.2 L678.3,664.9 L680.2,666.7 L682.1,672.2 L684.0,674.4 L685.8,675.9 L687.7,677.7 L689.6,680.4 L691.4,684.5 L693.3,686.4 L695.2,686.5 L697.1,688.1 L698.9,692.0 L700.8,692.8 L702.7,692.6 L704.6,697.4 L706.4,699.8 L708.3,702.1 L710.2,702.5 L712.1,704.8 L713.9,706.7 L715.8,709.4 L717.7,710.2 L719.6,712.1 L721.4,714.6 L723.3,714.7 L725.2,719.8 L727.1,718.7 L728.9,721.5 L730.8,721.9 L732.7,722.3 L734.5,726.2 L736.4,728.0 L738.3,729.4 L740.2,729.2 L742.0,730.6 L743.9,733.7 L745.8,734.6 L747.7,734.7 L749.5,737.6 L751.4,741.4 L753.3,742.0 L755.2,742.9 L757.0,743.3 L758.9,745.7 L760.8,744.7 L762.7,748.1 L764.5,747.1 L766.4,750.8 L768.3,749.8 L770.2,752.3 L772.0,752.1 L773.9,752.6 L775.8,754.0 L777.6,755.9 L779.5,759.0 L781.4,760.1 L783.3,763.8 L785.1,759.8 L787.0,761.0 L788.9,762.3 L790.8,765.6 L792.6,762.4 L794.5,767.1 L796.4,766.4 L798.3,770.0 L800.1,769.8 L802.0,768.8 L803.9,769.9 L805.8,773.0 L807.6,772.8 L809.5,772.4 L811.4,776.3 L813.3,774.4 L815.1,777.6 L817.0,776.2 L818.9,777.9 L820.8,777.4 L822.6,779.7 L824.5,780.3 L826.4,781.0 L828.2,782.4 L830.1,782.4 L832.0,783.8 L833.9,784.1 L835.7,783.5 L837.6,785.2 L839.5,784.5 L841.4,785.5 L843.2,786.0 L845.1,788.6 L847.0,787.6 L848.9,787.2 L850.7,788.3 L852.6,788.6 L854.5,788.9 L856.4,792.4 L858.2,791.0 L860.1,791.5 L862.0,792.8 L863.9,794.4 L865.7,793.5 L867.6,794.3 L869.5,792.8 L871.3,793.9 L873.2,796.0 L875.1,797.1 L877.0,797.4 L878.8,797.1 L880.7,798.2 L882.6,796.1 L884.5,799.5 L886.3,798.9 L888.2,799.1 L890.1,799.3 L892.0,801.0 L893.8,800.7 L895.7,800.7 L897.6,801.0 L899.5,802.2 L901.3,802.3 L903.2,802.2 L905.1,801.0 L907.0,804.3 L908.8,802.8 L910.7,802.4 L912.6,805.5 L914.4,803.2 L916.3,803.5 L918.2,805.1 L920.1,804.6 L921.9,804.4 L923.8,806.2 L925.7,806.2 L927.6,807.7 L929.4,807.6 L931.3,807.2 L933.2,807.6 L935.1,806.3 L936.9,808.3 L938.8,809.5 L940.7,807.8 L942.6,808.0 L944.4,808.8 L946.3,809.5 L948.2,810.4 L950.1,810.5 L951.9,808.7 L953.8,809.6 L955.7,810.5 L957.5,810.4 L959.4,811.4 L961.3,812.1 L963.2,811.9 L965.0,811.8 L966.9,813.5 L968.8,813.5 L970.7,814.0 L972.5,813.0 L974.4,812.2 L976.3,814.2 L976.8,814.1" fill="none" stroke="#59b25a" stroke-width="3.9" stroke-linejoin="round" stroke-linecap="round"/>
<path d="M125.0,810.8 L125.5,811.1 L127.4,811.3 L129.3,813.3 L131.1,810.6 L133.0,812.9 L134.9,809.9 L136.8,810.1 L138.6,809.7 L140.5,809.6 L142.4,810.0 L144.3,810.6 L146.1,810.3 L148.0,808.4 L149.9,810.3 L151.7,809.8 L153.6,810.1 L155.5,809.8 L157.4,809.4 L159.2,808.7 L161.1,809.1 L163.0,809.0 L164.9,809.0 L166.7,808.2 L168.6,809.4 L170.5,807.9 L172.4,806.5 L174.2,808.3 L176.1,807.4 L178.0,804.5 L179.9,807.9 L181.7,808.3 L183.6,807.0 L185.5,804.7 L187.4,804.3 L189.2,807.1 L191.1,805.2 L193.0,805.5 L194.8,805.8 L196.7,806.9 L198.6,803.8 L200.5,805.4 L202.3,804.0 L204.2,804.0 L206.1,802.0 L208.0,802.4 L209.8,804.3 L211.7,803.2 L213.6,801.7 L215.5,803.7 L217.3,802.5 L219.2,801.6 L221.1,803.0 L223.0,802.3 L224.8,802.5 L226.7,800.3 L228.6,800.7 L230.5,799.0 L232.3,799.4 L234.2,798.6 L236.1,798.9 L237.9,797.7 L239.8,798.2 L241.7,798.6 L243.6,796.1 L245.4,795.9 L247.3,794.3 L249.2,796.2 L251.1,796.2 L252.9,796.6 L254.8,798.5 L256.7,795.6 L258.6,793.4 L260.4,794.2 L262.3,795.4 L264.2,791.8 L266.1,792.5 L267.9,791.8 L269.8,791.3 L271.7,790.5 L273.6,789.4 L275.4,791.0 L277.3,788.9 L279.2,788.7 L281.0,786.4 L282.9,788.0 L284.8,784.7 L286.7,785.1 L288.5,783.5 L290.4,785.2 L292.3,783.0 L294.2,782.8 L296.0,784.0 L297.9,782.0 L299.8,781.5 L301.7,781.3 L303.5,780.4 L305.4,780.3 L307.3,778.6 L309.2,777.0 L311.0,777.3 L312.9,777.3 L314.8,773.8 L316.7,774.4 L318.5,773.1 L320.4,772.5 L322.3,772.0 L324.2,769.9 L326.0,770.1 L327.9,768.6 L329.8,769.2 L331.6,768.4 L333.5,766.1 L335.4,762.6 L337.3,763.4 L339.1,760.4 L341.0,760.9 L342.9,759.8 L344.8,759.9 L346.6,758.1 L348.5,754.9 L350.4,754.4 L352.3,755.2 L354.1,753.8 L356.0,750.5 L357.9,751.3 L359.8,748.3 L361.6,749.1 L363.5,746.0 L365.4,743.5 L367.3,742.9 L369.1,742.2 L371.0,740.8 L372.9,739.6 L374.7,738.0 L376.6,735.0 L378.5,733.4 L380.4,732.7 L382.2,733.1 L384.1,730.6 L386.0,727.8 L387.9,726.4 L389.7,726.4 L391.6,722.1 L393.5,717.8 L395.4,720.8 L397.2,717.2 L399.1,713.3 L401.0,714.0 L402.9,711.9 L404.7,709.1 L406.6,706.5 L408.5,705.7 L410.4,701.7 L412.2,703.4 L414.1,697.7 L416.0,695.8 L417.8,694.2 L419.7,691.1 L421.6,689.1 L423.5,684.9 L425.3,684.9 L427.2,681.8 L429.1,681.1 L431.0,678.2 L432.8,674.2 L434.7,673.4 L436.6,669.6 L438.5,667.5 L440.3,663.4 L442.2,659.6 L444.1,655.4 L446.0,656.8 L447.8,651.0 L449.7,646.3 L451.6,642.3 L453.5,639.0 L455.3,640.2 L457.2,635.4 L459.1,630.3 L460.9,626.2 L462.8,623.7 L464.7,620.2 L466.6,616.6 L468.4,614.6 L470.3,609.3 L472.2,604.3 L474.1,602.4 L475.9,595.9 L477.8,598.9 L479.7,590.4 L481.6,582.6 L483.4,579.9 L485.3,574.6 L487.2,572.6 L489.1,570.7 L490.9,565.0 L492.8,556.6 L494.7,558.4 L496.6,552.0 L498.4,548.8 L500.3,541.7 L502.2,536.5 L504.1,529.6 L505.9,527.4 L507.8,517.0 L509.7,514.0 L511.5,511.1 L513.4,506.9 L515.3,502.6 L517.2,493.6 L519.0,484.0 L520.9,483.0 L522.8,479.2 L524.7,471.3 L526.5,466.4 L528.4,461.4 L530.3,457.7 L532.2,447.3 L534.0,437.4 L535.9,431.7 L537.8,425.9 L539.7,421.3 L541.5,414.2 L543.4,406.5 L545.3,403.1 L547.2,397.0 L549.0,395.1 L550.9,392.9 L552.8,396.4 L554.6,395.9 L556.5,400.8 L558.4,406.9 L560.3,413.6 L562.1,423.0 L564.0,429.6 L565.9,435.6 L567.8,441.8 L569.6,449.8 L571.5,454.3 L573.4,460.7 L575.3,467.4 L577.1,470.3 L579.0,478.6 L580.9,482.1 L582.8,485.0 L584.6,490.2 L586.5,499.3 L588.4,502.6 L590.3,509.6 L592.1,510.4 L594.0,517.1 L595.9,523.4 L597.7,531.0 L599.6,536.2 L601.5,539.5 L603.4,545.5 L605.2,550.6 L607.1,553.5 L609.0,561.8 L610.9,567.8 L612.7,570.4 L614.6,575.0 L616.5,577.4 L618.4,583.1 L620.2,586.0 L622.1,593.4 L624.0,591.3 L625.9,597.2 L627.7,603.3 L629.6,605.2 L631.5,607.4 L633.4,611.9 L635.2,617.1 L637.1,619.6 L639.0,622.7 L640.9,629.7 L642.7,633.5 L644.6,635.5 L646.5,636.3 L648.3,638.8 L650.2,644.2 L652.1,645.2 L654.0,649.2 L655.8,653.9 L657.7,657.9 L659.6,660.7 L661.5,662.6 L663.3,663.4 L665.2,667.1 L667.1,673.0 L669.0,675.6 L670.8,675.3 L672.7,678.9 L674.6,683.1 L676.5,683.3 L678.3,684.8 L680.2,688.1 L682.1,691.4 L684.0,692.1 L685.8,696.8 L687.7,699.4 L689.6,702.0 L691.4,700.4 L693.3,702.3 L695.2,707.3 L697.1,708.6 L698.9,710.8 L700.8,712.2 L702.7,713.8 L704.6,716.4 L706.4,719.3 L708.3,721.7 L710.2,724.2 L712.1,728.0 L713.9,726.6 L715.8,729.2 L717.7,729.9 L719.6,731.7 L721.4,734.5 L723.3,735.4 L725.2,735.9 L727.1,737.7 L728.9,740.5 L730.8,741.9 L732.7,741.8 L734.5,743.6 L736.4,744.9 L738.3,746.9 L740.2,747.2 L742.0,749.3 L743.9,747.8 L745.8,752.5 L747.7,754.0 L749.5,752.6 L751.4,755.8 L753.3,757.7 L755.2,757.6 L757.0,761.8 L758.9,759.8 L760.8,761.4 L762.7,762.2 L764.5,764.5 L766.4,763.2 L768.3,765.3 L770.2,766.7 L772.0,767.2 L773.9,769.5 L775.8,769.7 L777.6,772.1 L779.5,772.6 L781.4,772.0 L783.3,773.0 L785.1,773.2 L787.0,775.6 L788.9,775.8 L790.8,777.2 L792.6,777.0 L794.5,777.3 L796.4,777.8 L798.3,779.0 L800.1,781.2 L802.0,780.9 L803.9,782.8 L805.8,784.4 L807.6,783.0 L809.5,783.7 L811.4,783.7 L813.3,784.3 L815.1,787.0 L817.0,787.3 L818.9,787.0 L820.8,787.5 L822.6,787.8 L824.5,790.0 L826.4,789.5 L828.2,789.2 L830.1,788.5 L832.0,792.1 L833.9,789.8 L835.7,792.2 L837.6,793.8 L839.5,791.6 L841.4,794.4 L843.2,795.0 L845.1,793.6 L847.0,793.8 L848.9,795.2 L850.7,796.4 L852.6,797.5 L854.5,796.4 L856.4,799.1 L858.2,798.7 L860.1,796.7 L862.0,797.5 L863.9,797.3 L865.7,798.4 L867.6,800.3 L869.5,799.1 L871.3,801.6 L873.2,799.6 L875.1,799.3 L877.0,801.8 L878.8,800.3 L880.7,801.5 L882.6,802.0 L884.5,804.0 L886.3,802.6 L888.2,801.9 L890.1,804.6 L892.0,803.7 L893.8,804.2 L895.7,805.4 L897.6,803.1 L899.5,804.3 L901.3,804.6 L903.2,803.9 L905.1,805.8 L907.0,802.3 L908.8,806.0 L910.7,806.9 L912.6,805.4 L914.4,805.9 L916.3,807.3 L918.2,807.5 L920.1,806.0 L921.9,806.8 L923.8,806.8 L925.7,806.6 L927.6,808.2 L929.4,806.6 L931.3,807.9 L933.2,807.5 L935.1,809.2 L936.9,807.8 L938.8,808.4 L940.7,806.5 L942.6,809.1 L944.4,807.7 L946.3,808.7 L948.2,807.9 L950.1,809.3 L951.9,809.2 L953.8,811.9 L955.7,811.2 L957.5,809.1 L959.4,809.8 L961.3,809.6 L963.2,810.7 L965.0,809.9 L966.9,811.1 L968.8,810.9 L970.7,809.8 L972.5,810.1 L974.4,811.6 L976.3,811.3 L976.8,811.1" fill="none" stroke="#5cb45c" stroke-width="3.9" stroke-linejoin="round" stroke-linecap="round"/>
<path d="M125.0,807.9 L125.5,808.8 L127.4,810.2 L129.3,809.2 L131.1,809.2 L133.0,809.0 L134.9,808.2 L136.8,809.9 L138.6,807.6 L140.5,809.5 L142.4,808.5 L144.3,807.4 L146.1,807.5 L148.0,808.7 L149.9,806.3 L151.7,807.5 L153.6,808.6 L155.5,807.6 L157.4,808.3 L159.2,807.0 L161.1,808.6 L163.0,806.7 L164.9,808.7 L166.7,805.9 L168.6,806.5 L170.5,805.4 L172.4,807.2 L174.2,808.3 L176.1,807.5 L178.0,806.3 L179.9,804.1 L181.7,805.2 L183.6,804.4 L185.5,806.3 L187.4,805.8 L189.2,805.4 L191.1,803.9 L193.0,805.3 L194.8,804.9 L196.7,802.9 L198.6,805.1 L200.5,804.1 L202.3,805.1 L204.2,803.9 L206.1,802.7 L208.0,802.1 L209.8,804.3 L211.7,805.2 L213.6,802.1 L215.5,800.8 L217.3,802.8 L219.2,801.6 L221.1,801.6 L223.0,803.4 L224.8,803.7 L226.7,801.0 L228.6,800.2 L230.5,801.8 L232.3,800.4 L234.2,800.5 L236.1,800.4 L237.9,800.4 L239.8,797.8 L241.7,798.6 L243.6,798.5 L245.4,798.4 L247.3,797.3 L249.2,797.8 L251.1,796.8 L252.9,797.4 L254.8,795.9 L256.7,796.2 L258.6,795.0 L260.4,796.7 L262.3,795.6 L264.2,795.6 L266.1,792.5 L267.9,794.2 L269.8,793.2 L271.7,794.4 L273.6,793.2 L275.4,793.5 L277.3,791.5 L279.2,791.9 L281.0,789.0 L282.9,790.9 L284.8,788.5 L286.7,789.1 L288.5,788.0 L290.4,788.9 L292.3,787.4 L294.2,787.0 L296.0,787.1 L297.9,785.1 L299.8,786.6 L301.7,784.7 L303.5,784.1 L305.4,783.2 L307.3,783.8 L309.2,781.3 L311.0,782.2 L312.9,781.2 L314.8,780.9 L316.7,779.6 L318.5,778.1 L320.4,774.8 L322.3,779.8 L324.2,775.3 L326.0,774.5 L327.9,773.1 L329.8,773.6 L331.6,772.5 L333.5,770.3 L335.4,771.2 L337.3,770.2 L339.1,769.5 L341.0,768.1 L342.9,765.7 L344.8,767.6 L346.6,764.4 L348.5,767.2 L350.4,763.2 L352.3,763.1 L354.1,760.2 L356.0,759.7 L357.9,758.6 L359.8,757.7 L361.6,756.8 L363.5,758.3 L365.4,754.5 L367.3,755.2 L369.1,751.3 L371.0,752.0 L372.9,749.9 L374.7,749.2 L376.6,747.2 L378.5,745.8 L380.4,744.0 L382.2,744.7 L384.1,740.0 L386.0,741.6 L387.9,739.1 L389.7,740.6 L391.6,735.5 L393.5,733.1 L395.4,731.2 L397.2,730.4 L399.1,728.8 L401.0,728.6 L402.9,726.5 L404.7,724.5 L406.6,722.3 L408.5,722.1 L410.4,719.3 L412.2,716.3 L414.1,714.9 L416.0,713.3 L417.8,712.2 L419.7,708.8 L421.6,706.9 L423.5,703.1 L425.3,702.9 L427.2,699.5 L429.1,700.4 L431.0,694.0 L432.8,696.0 L434.7,691.9 L436.6,690.0 L438.5,687.9 L440.3,685.1 L442.2,683.0 L444.1,679.6 L446.0,676.8 L447.8,673.0 L449.7,670.2 L451.6,666.7 L453.5,665.9 L455.3,665.1 L457.2,657.6 L459.1,657.4 L460.9,659.2 L462.8,651.2 L464.7,649.6 L466.6,647.5 L468.4,644.3 L470.3,640.1 L472.2,638.3 L474.1,633.5 L475.9,630.9 L477.8,627.6 L479.7,623.2 L481.6,620.0 L483.4,614.4 L485.3,612.8 L487.2,611.7 L489.1,606.4 L490.9,599.9 L492.8,596.2 L494.7,596.8 L496.6,590.4 L498.4,588.6 L500.3,584.4 L502.2,582.8 L504.1,579.1 L505.9,572.6 L507.8,567.6 L509.7,563.0 L511.5,561.5 L513.4,556.1 L515.3,551.2 L517.2,547.5 L519.0,548.4 L520.9,540.7 L522.8,534.0 L524.7,528.7 L526.5,527.3 L528.4,518.8 L530.3,522.6 L532.2,509.3 L534.0,509.0 L535.9,502.9 L537.8,500.4 L539.7,496.4 L541.5,490.1 L543.4,484.9 L545.3,483.5 L547.2,475.9 L549.0,476.4 L550.9,474.5 L552.8,477.1 L554.6,479.2 L556.5,481.1 L558.4,488.1 L560.3,487.9 L562.1,496.7 L564.0,497.6 L565.9,505.4 L567.8,508.0 L569.6,513.5 L571.5,514.0 L573.4,517.5 L575.3,526.4 L577.1,529.0 L579.0,533.8 L580.9,537.2 L582.8,540.9 L584.6,543.7 L586.5,551.4 L588.4,559.2 L590.3,558.6 L592.1,564.8 L594.0,568.4 L595.9,569.8 L597.7,573.3 L599.6,579.9 L601.5,581.7 L603.4,587.0 L605.2,590.2 L607.1,595.6 L609.0,596.8 L610.9,603.9 L612.7,606.3 L614.6,608.4 L616.5,615.2 L618.4,616.4 L620.2,619.7 L622.1,622.5 L624.0,624.4 L625.9,634.0 L627.7,632.2 L629.6,636.4 L631.5,638.3 L633.4,642.2 L635.2,647.4 L637.1,650.2 L639.0,653.9 L640.9,653.4 L642.7,659.1 L644.6,660.5 L646.5,664.2 L648.3,669.6 L650.2,669.8 L652.1,672.2 L654.0,672.5 L655.8,677.5 L657.7,681.3 L659.6,683.0 L661.5,683.5 L663.3,686.3 L665.2,688.7 L667.1,690.9 L669.0,695.2 L670.8,695.1 L672.7,698.1 L674.6,703.6 L676.5,703.8 L678.3,703.3 L680.2,707.9 L682.1,709.7 L684.0,711.1 L685.8,712.9 L687.7,715.1 L689.6,716.2 L691.4,719.8 L693.3,722.5 L695.2,722.5 L697.1,724.3 L698.9,724.8 L700.8,725.1 L702.7,728.7 L704.6,729.9 L706.4,730.5 L708.3,733.2 L710.2,734.9 L712.1,738.4 L713.9,739.3 L715.8,741.2 L717.7,742.1 L719.6,741.9 L721.4,743.7 L723.3,745.9 L725.2,749.8 L727.1,747.9 L728.9,749.3 L730.8,752.5 L732.7,752.3 L734.5,754.0 L736.4,754.1 L738.3,758.4 L740.2,758.6 L742.0,756.9 L743.9,760.6 L745.8,761.4 L747.7,762.1 L749.5,762.4 L751.4,762.3 L753.3,764.8 L755.2,764.7 L757.0,766.2 L758.9,768.2 L760.8,766.8 L762.7,768.4 L764.5,770.8 L766.4,771.4 L768.3,773.2 L770.2,774.8 L772.0,773.9 L773.9,773.5 L775.8,778.5 L777.6,776.8 L779.5,774.8 L781.4,776.0 L783.3,779.4 L785.1,779.8 L787.0,778.4 L788.9,781.6 L790.8,781.2 L792.6,782.7 L794.5,782.0 L796.4,782.9 L798.3,781.9 L800.1,785.4 L802.0,786.6 L803.9,785.9 L805.8,785.8 L807.6,787.0 L809.5,784.7 L811.4,788.3 L813.3,788.5 L815.1,787.9 L817.0,787.6 L818.9,789.7 L820.8,789.7 L822.6,792.1 L824.5,792.3 L826.4,791.4 L828.2,791.4 L830.1,792.1 L832.0,792.5 L833.9,792.7 L835.7,793.9 L837.6,794.6 L839.5,794.9 L841.4,796.3 L843.2,796.1 L845.1,796.6 L847.0,795.6 L848.9,794.1 L850.7,796.1 L852.6,795.2 L854.5,798.3 L856.4,798.2 L858.2,798.3 L860.1,797.3 L862.0,796.8 L863.9,798.1 L865.7,798.9 L867.6,799.4 L869.5,800.4 L871.3,799.6 L873.2,800.0 L875.1,800.6 L877.0,801.7 L878.8,801.0 L880.7,801.5 L882.6,802.4 L884.5,800.8 L886.3,802.2 L888.2,801.8 L890.1,803.7 L892.0,803.2 L893.8,803.7 L895.7,804.3 L897.6,803.3 L899.5,803.9 L901.3,805.0 L903.2,804.6 L905.1,804.2 L907.0,804.4 L908.8,802.8 L910.7,806.9 L912.6,804.1 L914.4,804.4 L916.3,804.8 L918.2,806.1 L920.1,806.2 L921.9,807.6 L923.8,805.4 L925.7,806.5 L927.6,806.7 L929.4,804.7 L931.3,807.3 L933.2,806.6 L935.1,806.1 L936.9,806.9 L938.8,806.5 L940.7,806.8 L942.6,806.9 L944.4,808.4 L946.3,808.6 L948.2,806.5 L950.1,807.1 L951.9,807.9 L953.8,808.5 L955.7,806.6 L957.5,808.4 L959.4,809.0 L961.3,807.2 L963.2,809.3 L965.0,808.8 L966.9,808.4 L968.8,809.7 L970.7,808.4 L972.5,808.5 L974.4,808.3 L976.3,809.1 L976.8,807.4" fill="none" stroke="#5ab45e" stroke-width="3.9" stroke-linejoin="round" stroke-linecap="round"/>
<path d="M125.0,806.9 L125.5,807.2 L127.4,807.6 L129.3,809.2 L131.1,806.9 L133.0,806.0 L134.9,805.8 L136.8,807.3 L138.6,804.6 L140.5,804.8 L142.4,806.7 L144.3,806.6 L146.1,805.5 L148.0,806.5 L149.9,806.0 L151.7,804.9 L153.6,804.9 L155.5,806.4 L157.4,806.2 L159.2,806.2 L161.1,805.6 L163.0,805.5 L164.9,805.8 L166.7,804.6 L168.6,805.2 L170.5,805.1 L172.4,806.8 L174.2,806.2 L176.1,805.4 L178.0,804.3 L179.9,805.3 L181.7,802.9 L183.6,804.1 L185.5,803.9 L187.4,803.9 L189.2,803.4 L191.1,802.8 L193.0,804.1 L194.8,802.0 L196.7,804.0 L198.6,802.6 L200.5,803.2 L202.3,803.0 L204.2,802.0 L206.1,802.3 L208.0,800.8 L209.8,802.6 L211.7,801.5 L213.6,801.2 L215.5,799.6 L217.3,799.9 L219.2,800.6 L221.1,799.4 L223.0,800.0 L224.8,801.4 L226.7,800.1 L228.6,799.0 L230.5,800.5 L232.3,798.3 L234.2,799.2 L236.1,799.9 L237.9,798.6 L239.8,800.3 L241.7,799.2 L243.6,799.3 L245.4,797.6 L247.3,798.8 L249.2,799.0 L251.1,796.9 L252.9,797.4 L254.8,797.4 L256.7,796.9 L258.6,795.1 L260.4,795.6 L262.3,796.2 L264.2,792.4 L266.1,794.3 L267.9,792.6 L269.8,793.1 L271.7,792.5 L273.6,794.3 L275.4,793.6 L277.3,792.1 L279.2,792.4 L281.0,791.9 L282.9,790.5 L284.8,793.4 L286.7,791.1 L288.5,788.8 L290.4,790.4 L292.3,789.4 L294.2,788.7 L296.0,788.3 L297.9,787.8 L299.8,788.6 L301.7,786.8 L303.5,787.3 L305.4,784.6 L307.3,786.3 L309.2,784.9 L311.0,784.8 L312.9,782.9 L314.8,783.4 L316.7,782.3 L318.5,783.0 L320.4,782.2 L322.3,782.2 L324.2,780.8 L326.0,780.3 L327.9,780.5 L329.8,780.0 L331.6,777.9 L333.5,777.6 L335.4,777.4 L337.3,777.0 L339.1,776.5 L341.0,774.5 L342.9,774.4 L344.8,773.8 L346.6,772.9 L348.5,772.0 L350.4,771.1 L352.3,769.8 L354.1,771.0 L356.0,768.5 L357.9,768.7 L359.8,766.9 L361.6,764.3 L363.5,766.8 L365.4,765.2 L367.3,763.4 L369.1,764.4 L371.0,758.3 L372.9,760.6 L374.7,757.1 L376.6,758.0 L378.5,755.5 L380.4,754.8 L382.2,755.0 L384.1,753.0 L386.0,753.1 L387.9,751.8 L389.7,748.4 L391.6,749.9 L393.5,748.7 L395.4,743.4 L397.2,745.6 L399.1,743.5 L401.0,740.6 L402.9,741.8 L404.7,740.5 L406.6,736.3 L408.5,737.1 L410.4,735.3 L412.2,734.6 L414.1,732.1 L416.0,733.1 L417.8,729.5 L419.7,726.9 L421.6,725.3 L423.5,725.6 L425.3,722.5 L427.2,718.9 L429.1,719.8 L431.0,717.3 L432.8,716.9 L434.7,716.9 L436.6,711.9 L438.5,712.3 L440.3,710.1 L442.2,707.2 L444.1,705.4 L446.0,703.5 L447.8,699.9 L449.7,699.2 L451.6,697.3 L453.5,696.7 L455.3,691.9 L457.2,692.7 L459.1,691.9 L460.9,687.7 L462.8,683.3 L464.7,681.5 L466.6,677.9 L468.4,676.8 L470.3,674.4 L472.2,672.1 L474.1,671.0 L475.9,668.3 L477.8,665.8 L479.7,662.3 L481.6,661.3 L483.4,658.0 L485.3,654.2 L487.2,652.1 L489.1,649.7 L490.9,646.8 L492.8,645.6 L494.7,643.0 L496.6,639.2 L498.4,633.5 L500.3,630.9 L502.2,628.7 L504.1,625.1 L505.9,621.8 L507.8,624.0 L509.7,617.9 L511.5,612.4 L513.4,607.7 L515.3,607.2 L517.2,601.3 L519.0,599.0 L520.9,597.5 L522.8,596.3 L524.7,592.9 L526.5,587.9 L528.4,584.1 L530.3,581.2 L532.2,576.6 L534.0,573.2 L535.9,570.8 L537.8,566.6 L539.7,563.5 L541.5,564.3 L543.4,559.9 L545.3,553.8 L547.2,550.5 L549.0,550.1 L550.9,549.8 L552.8,549.9 L554.6,551.1 L556.5,554.1 L558.4,561.2 L560.3,560.1 L562.1,562.7 L564.0,567.2 L565.9,566.8 L567.8,576.9 L569.6,581.0 L571.5,574.9 L573.4,586.3 L575.3,592.2 L577.1,592.2 L579.0,593.0 L580.9,599.0 L582.8,601.8 L584.6,603.0 L586.5,604.1 L588.4,609.4 L590.3,613.3 L592.1,617.7 L594.0,618.8 L595.9,618.5 L597.7,628.0 L599.6,630.9 L601.5,632.7 L603.4,633.9 L605.2,637.0 L607.1,641.2 L609.0,644.4 L610.9,644.3 L612.7,648.5 L614.6,649.9 L616.5,655.0 L618.4,655.6 L620.2,661.2 L622.1,659.4 L624.0,665.7 L625.9,668.1 L627.7,669.5 L629.6,672.8 L631.5,675.8 L633.4,676.7 L635.2,680.6 L637.1,679.3 L639.0,685.3 L640.9,685.4 L642.7,689.8 L644.6,693.4 L646.5,696.3 L648.3,695.2 L650.2,699.2 L652.1,699.2 L654.0,702.5 L655.8,703.5 L657.7,705.4 L659.6,704.9 L661.5,709.4 L663.3,712.8 L665.2,715.9 L667.1,713.5 L669.0,716.3 L670.8,716.4 L672.7,722.0 L674.6,721.8 L676.5,724.3 L678.3,724.3 L680.2,726.9 L682.1,726.4 L684.0,730.2 L685.8,731.5 L687.7,733.5 L689.6,733.6 L691.4,734.3 L693.3,736.4 L695.2,739.2 L697.1,741.1 L698.9,742.3 L700.8,742.3 L702.7,744.4 L704.6,745.3 L706.4,745.1 L708.3,747.1 L710.2,748.6 L712.1,750.6 L713.9,751.5 L715.8,752.7 L717.7,753.5 L719.6,754.9 L721.4,755.5 L723.3,757.5 L725.2,756.4 L727.1,758.5 L728.9,759.6 L730.8,759.9 L732.7,763.1 L734.5,764.2 L736.4,765.4 L738.3,765.5 L740.2,765.0 L742.0,766.3 L743.9,765.7 L745.8,769.8 L747.7,768.6 L749.5,771.3 L751.4,772.1 L753.3,772.9 L755.2,771.1 L757.0,773.0 L758.9,772.5 L760.8,774.5 L762.7,774.6 L764.5,775.3 L766.4,776.1 L768.3,777.2 L770.2,777.1 L772.0,778.5 L773.9,779.3 L775.8,780.0 L777.6,781.2 L779.5,782.8 L781.4,782.6 L783.3,780.6 L785.1,782.8 L787.0,784.6 L788.9,784.4 L790.8,783.6 L792.6,783.3 L794.5,787.5 L796.4,787.8 L798.3,788.8 L800.1,787.8 L802.0,788.6 L803.9,787.0 L805.8,787.9 L807.6,789.6 L809.5,787.2 L811.4,790.5 L813.3,790.0 L815.1,790.0 L817.0,792.2 L818.9,791.4 L820.8,791.7 L822.6,792.5 L824.5,792.0 L826.4,793.2 L828.2,794.1 L830.1,793.0 L832.0,794.6 L833.9,794.0 L835.7,795.3 L837.6,794.6 L839.5,795.3 L841.4,796.9 L843.2,795.7 L845.1,796.8 L847.0,795.0 L848.9,797.5 L850.7,796.4 L852.6,799.7 L854.5,798.3 L856.4,799.8 L858.2,798.3 L860.1,799.3 L862.0,797.5 L863.9,798.4 L865.7,797.9 L867.6,800.4 L869.5,801.9 L871.3,800.0 L873.2,798.9 L875.1,800.1 L877.0,798.8 L878.8,801.1 L880.7,801.6 L882.6,800.7 L884.5,800.4 L886.3,802.0 L888.2,802.4 L890.1,802.6 L892.0,800.3 L893.8,804.3 L895.7,801.3 L897.6,802.8 L899.5,801.3 L901.3,802.2 L903.2,804.2 L905.1,803.1 L907.0,803.9 L908.8,804.1 L910.7,805.0 L912.6,802.6 L914.4,805.8 L916.3,803.9 L918.2,802.3 L920.1,803.9 L921.9,803.0 L923.8,803.8 L925.7,803.5 L927.6,805.7 L929.4,804.8 L931.3,804.6 L933.2,805.0 L935.1,806.2 L936.9,806.4 L938.8,805.5 L940.7,805.2 L942.6,805.5 L944.4,807.3 L946.3,806.4 L948.2,806.5 L950.1,805.7 L951.9,807.0 L953.8,806.2 L955.7,807.5 L957.5,806.8 L959.4,805.9 L961.3,805.8 L963.2,807.8 L965.0,806.6 L966.9,807.5 L968.8,805.1 L970.7,806.5 L972.5,807.0 L974.4,805.3 L976.3,809.9 L976.8,808.0" fill="none" stroke="#8ecda5" stroke-width="3.9" stroke-linejoin="round" stroke-linecap="round"/>
<path d="M125.0,809.2 L125.5,810.2 L127.4,806.2 L129.3,805.7 L131.1,805.8 L133.0,807.3 L134.9,806.9 L136.8,807.0 L138.6,805.3 L140.5,805.7 L142.4,806.3 L144.3,805.6 L146.1,804.9 L148.0,805.7 L149.9,806.9 L151.7,805.9 L153.6,806.1 L155.5,807.0 L157.4,807.3 L159.2,805.1 L161.1,806.1 L163.0,804.6 L164.9,805.6 L166.7,804.0 L168.6,803.8 L170.5,804.1 L172.4,805.4 L174.2,806.1 L176.1,802.0 L178.0,803.9 L179.9,801.7 L181.7,803.7 L183.6,804.5 L185.5,803.2 L187.4,804.2 L189.2,802.8 L191.1,801.1 L193.0,801.6 L194.8,799.4 L196.7,801.8 L198.6,801.6 L200.5,802.6 L202.3,802.4 L204.2,801.1 L206.1,802.0 L208.0,801.2 L209.8,801.0 L211.7,801.6 L213.6,798.1 L215.5,801.9 L217.3,799.7 L219.2,798.7 L221.1,798.3 L223.0,799.5 L224.8,799.9 L226.7,796.3 L228.6,796.3 L230.5,798.0 L232.3,797.9 L234.2,797.5 L236.1,798.4 L237.9,797.1 L239.8,795.7 L241.7,795.8 L243.6,797.2 L245.4,795.2 L247.3,796.5 L249.2,797.0 L251.1,794.7 L252.9,794.1 L254.8,793.0 L256.7,795.0 L258.6,792.8 L260.4,792.9 L262.3,792.9 L264.2,793.2 L266.1,792.7 L267.9,791.6 L269.8,791.4 L271.7,792.6 L273.6,791.6 L275.4,790.7 L277.3,789.3 L279.2,789.4 L281.0,789.5 L282.9,789.4 L284.8,787.1 L286.7,788.8 L288.5,788.7 L290.4,787.9 L292.3,786.7 L294.2,786.6 L296.0,786.7 L297.9,786.2 L299.8,784.7 L301.7,784.3 L303.5,784.0 L305.4,784.8 L307.3,783.3 L309.2,781.5 L311.0,783.1 L312.9,780.0 L314.8,781.0 L316.7,779.7 L318.5,781.3 L320.4,778.2 L322.3,779.0 L324.2,778.1 L326.0,777.2 L327.9,775.7 L329.8,776.9 L331.6,775.5 L333.5,775.3 L335.4,776.5 L337.3,775.5 L339.1,775.2 L341.0,773.2 L342.9,772.1 L344.8,771.2 L346.6,770.0 L348.5,770.1 L350.4,771.0 L352.3,767.0 L354.1,768.1 L356.0,768.2 L357.9,768.6 L359.8,765.4 L361.6,767.0 L363.5,763.2 L365.4,763.5 L367.3,765.0 L369.1,762.7 L371.0,759.3 L372.9,762.7 L374.7,760.4 L376.6,761.3 L378.5,757.9 L380.4,755.1 L382.2,756.4 L384.1,755.6 L386.0,754.9 L387.9,754.0 L389.7,753.1 L391.6,751.0 L393.5,749.6 L395.4,752.6 L397.2,752.0 L399.1,746.7 L401.0,745.7 L402.9,747.6 L404.7,745.2 L406.6,743.4 L408.5,741.9 L410.4,741.5 L412.2,740.2 L414.1,739.7 L416.0,737.4 L417.8,737.2 L419.7,736.4 L421.6,735.3 L423.5,734.6 L425.3,731.7 L427.2,730.9 L429.1,729.8 L431.0,729.2 L432.8,726.7 L434.7,726.0 L436.6,726.5 L438.5,726.9 L440.3,723.1 L442.2,721.2 L444.1,717.1 L446.0,716.6 L447.8,716.0 L449.7,712.5 L451.6,714.9 L453.5,712.6 L455.3,710.3 L457.2,709.9 L459.1,708.7 L460.9,706.4 L462.8,705.7 L464.7,702.4 L466.6,705.1 L468.4,700.2 L470.3,697.0 L472.2,698.6 L474.1,697.3 L475.9,694.1 L477.8,692.9 L479.7,690.6 L481.6,690.3 L483.4,687.6 L485.3,685.3 L487.2,687.9 L489.1,683.0 L490.9,680.5 L492.8,681.2 L494.7,679.6 L496.6,674.7 L498.4,675.2 L500.3,672.0 L502.2,669.4 L504.1,667.6 L505.9,669.4 L507.8,664.9 L509.7,664.3 L511.5,664.7 L513.4,659.2 L515.3,656.6 L517.2,656.6 L519.0,653.2 L520.9,651.7 L522.8,650.0 L524.7,651.4 L526.5,645.7 L528.4,646.9 L530.3,645.4 L532.2,642.2 L534.0,637.3 L535.9,636.4 L537.8,633.3 L539.7,634.3 L541.5,631.1 L543.4,631.0 L545.3,629.5 L547.2,626.2 L549.0,625.8 L550.9,625.2 L552.8,624.8 L554.6,627.9 L556.5,625.4 L558.4,630.3 L560.3,631.6 L562.1,636.2 L564.0,633.8 L565.9,636.3 L567.8,640.8 L569.6,641.7 L571.5,645.0 L573.4,641.8 L575.3,648.6 L577.1,646.8 L579.0,652.0 L580.9,648.5 L582.8,651.5 L584.6,654.5 L586.5,658.0 L588.4,660.5 L590.3,660.5 L592.1,662.8 L594.0,666.8 L595.9,665.3 L597.7,668.1 L599.6,671.2 L601.5,672.5 L603.4,673.4 L605.2,675.0 L607.1,677.6 L609.0,679.2 L610.9,683.6 L612.7,680.2 L614.6,684.7 L616.5,687.8 L618.4,687.0 L620.2,691.7 L622.1,691.5 L624.0,696.7 L625.9,694.9 L627.7,697.4 L629.6,697.8 L631.5,697.7 L633.4,699.1 L635.2,703.0 L637.1,702.0 L639.0,703.0 L640.9,705.4 L642.7,709.8 L644.6,710.6 L646.5,710.0 L648.3,714.8 L650.2,712.9 L652.1,715.5 L654.0,714.0 L655.8,718.3 L657.7,718.8 L659.6,721.6 L661.5,724.0 L663.3,723.6 L665.2,725.9 L667.1,725.2 L669.0,726.4 L670.8,728.4 L672.7,730.2 L674.6,731.1 L676.5,733.1 L678.3,733.8 L680.2,734.6 L682.1,735.5 L684.0,737.5 L685.8,738.0 L687.7,740.7 L689.6,740.3 L691.4,739.3 L693.3,742.3 L695.2,743.9 L697.1,745.2 L698.9,747.3 L700.8,746.5 L702.7,747.1 L704.6,748.6 L706.4,750.5 L708.3,750.7 L710.2,752.2 L712.1,751.3 L713.9,754.1 L715.8,753.5 L717.7,756.1 L719.6,757.3 L721.4,757.2 L723.3,758.0 L725.2,759.5 L727.1,758.7 L728.9,762.2 L730.8,761.7 L732.7,762.2 L734.5,763.9 L736.4,763.5 L738.3,766.2 L740.2,767.0 L742.0,765.9 L743.9,766.7 L745.8,766.4 L747.7,767.9 L749.5,768.9 L751.4,769.5 L753.3,770.0 L755.2,772.5 L757.0,771.2 L758.9,772.6 L760.8,772.5 L762.7,775.3 L764.5,773.4 L766.4,773.6 L768.3,775.2 L770.2,773.8 L772.0,778.3 L773.9,778.0 L775.8,778.0 L777.6,777.9 L779.5,779.0 L781.4,779.3 L783.3,779.6 L785.1,781.3 L787.0,780.0 L788.9,780.5 L790.8,782.8 L792.6,783.6 L794.5,783.8 L796.4,784.7 L798.3,784.1 L800.1,784.9 L802.0,784.7 L803.9,786.9 L805.8,786.2 L807.6,786.6 L809.5,786.7 L811.4,787.1 L813.3,787.5 L815.1,788.3 L817.0,789.9 L818.9,789.3 L820.8,787.9 L822.6,789.0 L824.5,789.6 L826.4,792.2 L828.2,790.5 L830.1,790.6 L832.0,791.9 L833.9,793.7 L835.7,791.2 L837.6,793.5 L839.5,793.0 L841.4,792.7 L843.2,792.9 L845.1,793.5 L847.0,796.7 L848.9,795.0 L850.7,796.1 L852.6,795.4 L854.5,796.5 L856.4,794.3 L858.2,797.8 L860.1,795.5 L862.0,797.0 L863.9,796.7 L865.7,797.7 L867.6,798.0 L869.5,798.7 L871.3,796.9 L873.2,798.3 L875.1,798.9 L877.0,798.5 L878.8,798.9 L880.7,799.7 L882.6,799.3 L884.5,799.3 L886.3,798.4 L888.2,801.3 L890.1,802.4 L892.0,801.1 L893.8,799.1 L895.7,800.6 L897.6,801.4 L899.5,801.9 L901.3,803.1 L903.2,800.6 L905.1,801.1 L907.0,800.7 L908.8,803.4 L910.7,801.3 L912.6,801.9 L914.4,802.4 L916.3,804.1 L918.2,803.3 L920.1,804.1 L921.9,803.6 L923.8,805.4 L925.7,805.0 L927.6,804.6 L929.4,806.2 L931.3,804.2 L933.2,803.9 L935.1,805.1 L936.9,805.1 L938.8,805.1 L940.7,804.1 L942.6,804.6 L944.4,804.5 L946.3,805.0 L948.2,805.4 L950.1,805.1 L951.9,804.7 L953.8,803.7 L955.7,805.2 L957.5,806.7 L959.4,806.8 L961.3,807.3 L963.2,806.3 L965.0,806.2 L966.9,807.6 L968.8,807.3 L970.7,806.6 L972.5,806.1 L974.4,807.3 L976.3,805.2 L976.8,806.7" fill="none" stroke="#8dcaa1" stroke-width="3.9" stroke-linejoin="round" stroke-linecap="round"/>
<path d="M125.0,801.3 L125.5,801.7 L127.4,801.5 L129.3,803.3 L131.1,801.3 L133.0,802.2 L134.9,802.1 L136.8,800.8 L138.6,802.1 L140.5,802.8 L142.4,801.9 L144.3,802.5 L146.1,803.0 L148.0,801.2 L149.9,800.6 L151.7,802.9 L153.6,800.7 L155.5,800.4 L157.4,800.3 L159.2,801.5 L161.1,800.5 L163.0,800.3 L164.9,799.5 L166.7,801.0 L168.6,799.3 L170.5,798.6 L172.4,801.5 L174.2,799.0 L176.1,800.5 L178.0,799.1 L179.9,799.4 L181.7,797.4 L183.6,798.4 L185.5,797.5 L187.4,799.1 L189.2,797.5 L191.1,796.4 L193.0,798.3 L194.8,796.8 L196.7,796.8 L198.6,797.2 L200.5,798.1 L202.3,796.5 L204.2,796.8 L206.1,795.8 L208.0,795.4 L209.8,794.5 L211.7,796.6 L213.6,794.8 L215.5,794.7 L217.3,795.1 L219.2,794.4 L221.1,794.6 L223.0,793.9 L224.8,794.0 L226.7,794.7 L228.6,793.8 L230.5,793.0 L232.3,794.3 L234.2,793.6 L236.1,791.7 L237.9,792.4 L239.8,793.1 L241.7,792.8 L243.6,790.6 L245.4,791.3 L247.3,793.4 L249.2,790.8 L251.1,791.9 L252.9,790.9 L254.8,792.1 L256.7,790.5 L258.6,790.7 L260.4,790.9 L262.3,788.5 L264.2,786.7 L266.1,788.3 L267.9,788.3 L269.8,789.5 L271.7,788.2 L273.6,788.3 L275.4,789.2 L277.3,786.5 L279.2,786.8 L281.0,787.1 L282.9,787.6 L284.8,785.3 L286.7,784.1 L288.5,785.0 L290.4,785.2 L292.3,783.8 L294.2,785.0 L296.0,785.9 L297.9,781.6 L299.8,781.3 L301.7,782.9 L303.5,782.2 L305.4,780.2 L307.3,782.6 L309.2,781.0 L311.0,779.8 L312.9,778.5 L314.8,780.7 L316.7,780.3 L318.5,778.9 L320.4,779.3 L322.3,776.7 L324.2,778.6 L326.0,777.2 L327.9,776.8 L329.8,776.8 L331.6,777.8 L333.5,774.2 L335.4,774.9 L337.3,774.0 L339.1,773.6 L341.0,774.3 L342.9,773.7 L344.8,773.2 L346.6,771.1 L348.5,772.3 L350.4,773.7 L352.3,771.1 L354.1,771.2 L356.0,768.7 L357.9,769.9 L359.8,768.2 L361.6,768.2 L363.5,767.4 L365.4,768.0 L367.3,767.0 L369.1,766.0 L371.0,764.8 L372.9,764.3 L374.7,765.4 L376.6,763.9 L378.5,761.9 L380.4,761.6 L382.2,762.3 L384.1,761.6 L386.0,758.8 L387.9,759.0 L389.7,761.1 L391.6,756.2 L393.5,757.1 L395.4,756.9 L397.2,757.1 L399.1,757.1 L401.0,755.9 L402.9,755.3 L404.7,755.1 L406.6,755.4 L408.5,750.7 L410.4,750.1 L412.2,750.2 L414.1,750.0 L416.0,750.1 L417.8,749.1 L419.7,747.9 L421.6,748.1 L423.5,745.9 L425.3,745.5 L427.2,745.1 L429.1,743.7 L431.0,743.0 L432.8,741.1 L434.7,741.7 L436.6,741.7 L438.5,739.3 L440.3,737.3 L442.2,735.8 L444.1,736.0 L446.0,737.7 L447.8,736.2 L449.7,736.3 L451.6,733.4 L453.5,732.8 L455.3,732.9 L457.2,728.8 L459.1,728.7 L460.9,729.3 L462.8,726.8 L464.7,729.4 L466.6,725.3 L468.4,724.7 L470.3,721.1 L472.2,721.2 L474.1,721.1 L475.9,721.2 L477.8,720.4 L479.7,718.4 L481.6,718.0 L483.4,717.6 L485.3,714.0 L487.2,715.2 L489.1,715.8 L490.9,712.0 L492.8,712.1 L494.7,710.1 L496.6,708.1 L498.4,709.8 L500.3,709.5 L502.2,707.3 L504.1,703.8 L505.9,701.3 L507.8,700.5 L509.7,702.0 L511.5,700.4 L513.4,698.6 L515.3,699.1 L517.2,696.9 L519.0,696.0 L520.9,693.0 L522.8,694.0 L524.7,689.7 L526.5,689.9 L528.4,689.7 L530.3,691.0 L532.2,687.3 L534.0,686.3 L535.9,683.4 L537.8,683.6 L539.7,679.9 L541.5,682.0 L543.4,683.2 L545.3,678.9 L547.2,680.6 L549.0,677.7 L550.9,677.5 L552.8,676.1 L554.6,679.9 L556.5,678.6 L558.4,683.2 L560.3,680.5 L562.1,684.6 L564.0,683.7 L565.9,683.7 L567.8,687.1 L569.6,687.7 L571.5,686.9 L573.4,689.7 L575.3,690.9 L577.1,690.4 L579.0,692.7 L580.9,694.6 L582.8,695.2 L584.6,699.8 L586.5,701.6 L588.4,700.5 L590.3,699.6 L592.1,702.7 L594.0,703.3 L595.9,703.3 L597.7,703.9 L599.6,705.1 L601.5,707.8 L603.4,707.5 L605.2,709.5 L607.1,710.2 L609.0,709.9 L610.9,709.3 L612.7,715.9 L614.6,715.6 L616.5,717.8 L618.4,718.2 L620.2,716.2 L622.1,715.5 L624.0,718.6 L625.9,721.7 L627.7,724.0 L629.6,725.4 L631.5,722.5 L633.4,723.8 L635.2,726.3 L637.1,725.3 L639.0,727.1 L640.9,727.4 L642.7,730.2 L644.6,729.0 L646.5,733.4 L648.3,732.1 L650.2,731.7 L652.1,734.8 L654.0,734.8 L655.8,735.9 L657.7,737.4 L659.6,738.8 L661.5,740.0 L663.3,739.8 L665.2,737.6 L667.1,741.8 L669.0,742.6 L670.8,741.6 L672.7,746.9 L674.6,745.9 L676.5,746.1 L678.3,746.1 L680.2,747.7 L682.1,748.1 L684.0,749.4 L685.8,749.9 L687.7,750.1 L689.6,752.3 L691.4,749.6 L693.3,754.6 L695.2,752.0 L697.1,752.8 L698.9,754.4 L700.8,754.4 L702.7,757.5 L704.6,755.4 L706.4,757.0 L708.3,757.2 L710.2,757.5 L712.1,758.3 L713.9,758.2 L715.8,759.9 L717.7,759.5 L719.6,762.8 L721.4,761.1 L723.3,764.8 L725.2,764.1 L727.1,767.4 L728.9,764.8 L730.8,763.5 L732.7,767.9 L734.5,767.3 L736.4,767.5 L738.3,768.5 L740.2,766.5 L742.0,770.0 L743.9,766.7 L745.8,768.3 L747.7,770.6 L749.5,769.0 L751.4,770.9 L753.3,772.3 L755.2,772.2 L757.0,771.6 L758.9,773.3 L760.8,773.9 L762.7,774.4 L764.5,775.6 L766.4,774.6 L768.3,775.5 L770.2,777.1 L772.0,776.9 L773.9,777.1 L775.8,778.9 L777.6,777.6 L779.5,779.0 L781.4,778.1 L783.3,779.8 L785.1,779.2 L787.0,780.0 L788.9,780.2 L790.8,780.4 L792.6,779.9 L794.5,780.8 L796.4,782.2 L798.3,783.1 L800.1,780.6 L802.0,783.3 L803.9,783.8 L805.8,785.0 L807.6,784.4 L809.5,786.3 L811.4,785.2 L813.3,784.6 L815.1,785.8 L817.0,783.6 L818.9,785.4 L820.8,784.7 L822.6,787.7 L824.5,788.3 L826.4,788.5 L828.2,787.1 L830.1,789.4 L832.0,788.0 L833.9,788.9 L835.7,787.8 L837.6,789.8 L839.5,789.9 L841.4,788.7 L843.2,791.8 L845.1,789.8 L847.0,790.3 L848.9,791.1 L850.7,791.2 L852.6,790.2 L854.5,790.5 L856.4,790.6 L858.2,790.8 L860.1,792.9 L862.0,791.8 L863.9,792.6 L865.7,790.8 L867.6,792.4 L869.5,793.1 L871.3,794.7 L873.2,793.3 L875.1,793.7 L877.0,794.5 L878.8,796.3 L880.7,794.7 L882.6,793.4 L884.5,795.2 L886.3,795.3 L888.2,795.2 L890.1,794.8 L892.0,796.0 L893.8,795.8 L895.7,798.6 L897.6,797.4 L899.5,798.1 L901.3,796.1 L903.2,797.4 L905.1,796.8 L907.0,799.9 L908.8,799.2 L910.7,798.0 L912.6,797.6 L914.4,796.5 L916.3,797.3 L918.2,799.3 L920.1,799.8 L921.9,800.4 L923.8,797.5 L925.7,798.4 L927.6,799.3 L929.4,798.3 L931.3,799.3 L933.2,800.6 L935.1,798.2 L936.9,801.9 L938.8,799.3 L940.7,800.2 L942.6,801.0 L944.4,799.9 L946.3,801.7 L948.2,799.0 L950.1,800.9 L951.9,803.0 L953.8,801.6 L955.7,801.0 L957.5,801.9 L959.4,802.3 L961.3,801.9 L963.2,801.5 L965.0,800.9 L966.9,801.4 L968.8,801.6 L970.7,802.0 L972.5,801.1 L974.4,802.0 L976.3,803.4 L976.8,801.1" fill="none" stroke="#6cbb63" stroke-width="3.9" stroke-linejoin="round" stroke-linecap="round"/>
<path d="M125.0,805.4 L125.5,804.1 L127.4,804.4 L129.3,804.6 L131.1,803.8 L133.0,803.1 L134.9,803.9 L136.8,804.9 L138.6,803.3 L140.5,804.1 L142.4,802.6 L144.3,803.8 L146.1,802.7 L148.0,804.4 L149.9,801.6 L151.7,803.9 L153.6,803.5 L155.5,802.6 L157.4,800.6 L159.2,802.8 L161.1,802.4 L163.0,804.6 L164.9,801.5 L166.7,802.6 L168.6,801.6 L170.5,800.5 L172.4,803.6 L174.2,802.2 L176.1,800.6 L178.0,800.3 L179.9,801.2 L181.7,802.4 L183.6,802.1 L185.5,801.9 L187.4,800.9 L189.2,800.5 L191.1,800.7 L193.0,800.6 L194.8,800.2 L196.7,801.2 L198.6,800.3 L200.5,802.1 L202.3,800.8 L204.2,799.2 L206.1,799.3 L208.0,798.4 L209.8,801.0 L211.7,798.6 L213.6,800.2 L215.5,798.4 L217.3,800.8 L219.2,799.5 L221.1,798.9 L223.0,800.0 L224.8,799.3 L226.7,796.3 L228.6,797.0 L230.5,797.5 L232.3,798.0 L234.2,797.9 L236.1,797.8 L237.9,794.7 L239.8,796.5 L241.7,796.0 L243.6,797.0 L245.4,796.3 L247.3,795.6 L249.2,796.3 L251.1,795.6 L252.9,795.7 L254.8,795.6 L256.7,795.8 L258.6,794.4 L260.4,794.8 L262.3,793.7 L264.2,794.1 L266.1,795.0 L267.9,793.6 L269.8,793.4 L271.7,792.4 L273.6,793.1 L275.4,792.6 L277.3,791.5 L279.2,791.6 L281.0,792.5 L282.9,790.6 L284.8,792.1 L286.7,791.8 L288.5,790.4 L290.4,791.1 L292.3,792.5 L294.2,790.7 L296.0,790.2 L297.9,788.6 L299.8,790.3 L301.7,790.7 L303.5,788.1 L305.4,788.7 L307.3,787.7 L309.2,788.4 L311.0,788.1 L312.9,787.8 L314.8,787.6 L316.7,787.9 L318.5,786.3 L320.4,787.5 L322.3,787.5 L324.2,786.2 L326.0,783.8 L327.9,788.2 L329.8,786.2 L331.6,787.0 L333.5,784.2 L335.4,784.7 L337.3,785.6 L339.1,782.7 L341.0,784.3 L342.9,780.5 L344.8,781.8 L346.6,781.4 L348.5,781.9 L350.4,780.4 L352.3,780.6 L354.1,781.9 L356.0,780.5 L357.9,780.7 L359.8,779.7 L361.6,779.5 L363.5,778.9 L365.4,778.2 L367.3,778.7 L369.1,776.4 L371.0,778.9 L372.9,777.4 L374.7,777.8 L376.6,775.0 L378.5,775.7 L380.4,774.5 L382.2,775.2 L384.1,773.4 L386.0,773.0 L387.9,772.6 L389.7,771.2 L391.6,770.8 L393.5,772.0 L395.4,772.9 L397.2,771.8 L399.1,769.1 L401.0,769.9 L402.9,768.3 L404.7,770.1 L406.6,767.5 L408.5,767.8 L410.4,767.2 L412.2,766.9 L414.1,766.2 L416.0,764.5 L417.8,763.2 L419.7,763.5 L421.6,762.3 L423.5,762.0 L425.3,763.0 L427.2,762.7 L429.1,760.3 L431.0,759.4 L432.8,757.3 L434.7,758.6 L436.6,759.1 L438.5,758.0 L440.3,756.0 L442.2,756.9 L444.1,755.9 L446.0,758.9 L447.8,756.4 L449.7,751.3 L451.6,753.9 L453.5,753.1 L455.3,752.7 L457.2,751.2 L459.1,751.4 L460.9,751.0 L462.8,750.0 L464.7,749.0 L466.6,746.4 L468.4,746.8 L470.3,746.2 L472.2,745.3 L474.1,743.4 L475.9,743.0 L477.8,742.9 L479.7,743.6 L481.6,743.1 L483.4,740.1 L485.3,739.9 L487.2,737.2 L489.1,739.0 L490.9,737.1 L492.8,737.3 L494.7,736.5 L496.6,735.6 L498.4,734.7 L500.3,733.8 L502.2,734.6 L504.1,732.9 L505.9,731.6 L507.8,729.0 L509.7,729.0 L511.5,729.7 L513.4,726.6 L515.3,726.3 L517.2,727.4 L519.0,724.0 L520.9,727.1 L522.8,723.7 L524.7,721.0 L526.5,723.3 L528.4,721.3 L530.3,718.4 L532.2,719.5 L534.0,718.2 L535.9,717.1 L537.8,714.5 L539.7,717.4 L541.5,717.0 L543.4,712.0 L545.3,713.3 L547.2,714.5 L549.0,712.2 L550.9,712.0 L552.8,712.3 L554.6,711.5 L556.5,714.6 L558.4,714.2 L560.3,718.2 L562.1,716.5 L564.0,718.3 L565.9,715.6 L567.8,717.8 L569.6,718.3 L571.5,720.0 L573.4,722.3 L575.3,723.0 L577.1,723.4 L579.0,724.4 L580.9,725.2 L582.8,723.2 L584.6,727.6 L586.5,728.1 L588.4,729.5 L590.3,728.1 L592.1,730.4 L594.0,731.8 L595.9,729.0 L597.7,732.1 L599.6,732.6 L601.5,732.7 L603.4,733.8 L605.2,735.6 L607.1,736.4 L609.0,736.8 L610.9,737.7 L612.7,739.8 L614.6,739.0 L616.5,741.0 L618.4,739.9 L620.2,739.8 L622.1,741.8 L624.0,742.0 L625.9,743.5 L627.7,745.1 L629.6,749.0 L631.5,748.8 L633.4,747.8 L635.2,748.5 L637.1,747.3 L639.0,750.1 L640.9,750.7 L642.7,751.7 L644.6,752.8 L646.5,751.9 L648.3,750.2 L650.2,754.3 L652.1,754.2 L654.0,753.8 L655.8,755.8 L657.7,756.9 L659.6,756.2 L661.5,757.3 L663.3,757.9 L665.2,760.0 L667.1,759.2 L669.0,759.9 L670.8,760.6 L672.7,760.2 L674.6,761.9 L676.5,763.6 L678.3,762.6 L680.2,764.5 L682.1,764.9 L684.0,764.8 L685.8,767.1 L687.7,764.6 L689.6,766.8 L691.4,766.1 L693.3,767.5 L695.2,767.1 L697.1,769.7 L698.9,768.7 L700.8,768.1 L702.7,771.3 L704.6,769.4 L706.4,770.3 L708.3,771.6 L710.2,770.6 L712.1,772.1 L713.9,774.0 L715.8,772.7 L717.7,774.4 L719.6,773.9 L721.4,775.3 L723.3,776.9 L725.2,776.1 L727.1,775.4 L728.9,778.0 L730.8,775.3 L732.7,777.2 L734.5,776.9 L736.4,777.6 L738.3,777.6 L740.2,779.3 L742.0,780.6 L743.9,780.7 L745.8,779.7 L747.7,781.1 L749.5,780.5 L751.4,781.2 L753.3,780.6 L755.2,782.7 L757.0,784.2 L758.9,781.7 L760.8,783.0 L762.7,785.3 L764.5,784.2 L766.4,781.9 L768.3,785.9 L770.2,783.7 L772.0,785.4 L773.9,787.2 L775.8,785.7 L777.6,785.9 L779.5,785.3 L781.4,787.4 L783.3,785.5 L785.1,787.0 L787.0,789.3 L788.9,787.6 L790.8,789.2 L792.6,789.1 L794.5,788.9 L796.4,788.6 L798.3,788.5 L800.1,790.1 L802.0,788.7 L803.9,790.6 L805.8,790.7 L807.6,790.7 L809.5,792.3 L811.4,793.2 L813.3,790.7 L815.1,791.7 L817.0,790.9 L818.9,791.0 L820.8,793.9 L822.6,791.9 L824.5,792.8 L826.4,794.9 L828.2,792.8 L830.1,792.3 L832.0,792.3 L833.9,792.9 L835.7,793.4 L837.6,795.7 L839.5,793.7 L841.4,794.7 L843.2,796.4 L845.1,791.7 L847.0,795.3 L848.9,795.0 L850.7,795.8 L852.6,795.5 L854.5,797.0 L856.4,796.5 L858.2,796.9 L860.1,797.1 L862.0,797.7 L863.9,794.3 L865.7,797.9 L867.6,797.3 L869.5,795.8 L871.3,798.6 L873.2,795.8 L875.1,799.1 L877.0,798.0 L878.8,798.5 L880.7,799.5 L882.6,799.0 L884.5,799.8 L886.3,799.4 L888.2,799.6 L890.1,799.7 L892.0,801.0 L893.8,799.9 L895.7,800.1 L897.6,799.1 L899.5,800.2 L901.3,800.4 L903.2,799.8 L905.1,801.6 L907.0,801.1 L908.8,799.8 L910.7,801.1 L912.6,801.1 L914.4,800.7 L916.3,801.2 L918.2,802.1 L920.1,801.8 L921.9,800.9 L923.8,801.7 L925.7,802.7 L927.6,802.8 L929.4,801.9 L931.3,802.2 L933.2,802.4 L935.1,801.4 L936.9,804.2 L938.8,803.8 L940.7,801.0 L942.6,804.2 L944.4,803.3 L946.3,803.5 L948.2,803.3 L950.1,802.4 L951.9,803.0 L953.8,803.9 L955.7,803.1 L957.5,802.8 L959.4,804.0 L961.3,803.4 L963.2,804.4 L965.0,803.2 L966.9,803.6 L968.8,803.0 L970.7,805.8 L972.5,804.8 L974.4,803.2 L976.3,803.9 L976.8,805.2" fill="none" stroke="#62b658" stroke-width="3.9" stroke-linejoin="round" stroke-linecap="round"/>
<path d="M125.0,804.9 L125.5,804.5 L127.4,804.6 L129.3,804.6 L131.1,804.3 L133.0,804.5 L134.9,804.0 L136.8,804.2 L138.6,803.6 L140.5,804.7 L142.4,804.3 L144.3,804.7 L146.1,805.4 L148.0,805.9 L149.9,803.7 L151.7,804.4 L153.6,804.3 L155.5,804.1 L157.4,803.1 L159.2,802.8 L161.1,802.7 L163.0,802.4 L164.9,800.4 L166.7,802.8 L168.6,802.9 L170.5,805.0 L172.4,804.4 L174.2,800.7 L176.1,800.1 L178.0,802.2 L179.9,802.6 L181.7,801.9 L183.6,804.3 L185.5,802.8 L187.4,802.5 L189.2,800.4 L191.1,802.9 L193.0,801.5 L194.8,801.1 L196.7,800.7 L198.6,802.0 L200.5,802.2 L202.3,803.5 L204.2,800.2 L206.1,800.1 L208.0,801.6 L209.8,800.8 L211.7,802.2 L213.6,801.0 L215.5,800.0 L217.3,801.0 L219.2,800.4 L221.1,799.3 L223.0,799.6 L224.8,800.7 L226.7,798.5 L228.6,798.2 L230.5,798.8 L232.3,799.0 L234.2,798.8 L236.1,798.5 L237.9,800.4 L239.8,798.1 L241.7,799.8 L243.6,798.6 L245.4,798.8 L247.3,798.1 L249.2,796.7 L251.1,797.8 L252.9,798.2 L254.8,797.4 L256.7,797.7 L258.6,799.3 L260.4,799.3 L262.3,797.9 L264.2,795.3 L266.1,797.3 L267.9,796.3 L269.8,795.5 L271.7,797.9 L273.6,795.1 L275.4,795.4 L277.3,795.6 L279.2,795.0 L281.0,797.7 L282.9,795.4 L284.8,796.9 L286.7,794.9 L288.5,795.2 L290.4,795.3 L292.3,794.1 L294.2,796.2 L296.0,794.2 L297.9,792.0 L299.8,792.9 L301.7,794.6 L303.5,793.1 L305.4,793.4 L307.3,792.6 L309.2,794.0 L311.0,792.2 L312.9,792.4 L314.8,793.3 L316.7,791.3 L318.5,790.4 L320.4,790.4 L322.3,793.9 L324.2,790.7 L326.0,790.5 L327.9,790.8 L329.8,790.5 L331.6,789.7 L333.5,789.2 L335.4,790.3 L337.3,789.1 L339.1,789.3 L341.0,789.6 L342.9,788.2 L344.8,788.9 L346.6,789.8 L348.5,788.3 L350.4,789.2 L352.3,786.3 L354.1,787.2 L356.0,785.6 L357.9,788.4 L359.8,784.4 L361.6,785.2 L363.5,786.6 L365.4,783.1 L367.3,785.5 L369.1,785.7 L371.0,784.4 L372.9,783.5 L374.7,782.7 L376.6,780.8 L378.5,783.8 L380.4,784.4 L382.2,781.9 L384.1,783.2 L386.0,782.9 L387.9,781.2 L389.7,779.5 L391.6,781.4 L393.5,780.9 L395.4,780.0 L397.2,779.7 L399.1,777.9 L401.0,778.6 L402.9,779.6 L404.7,775.4 L406.6,778.1 L408.5,778.8 L410.4,776.1 L412.2,776.2 L414.1,775.2 L416.0,775.6 L417.8,775.0 L419.7,774.4 L421.6,773.3 L423.5,776.1 L425.3,773.2 L427.2,772.9 L429.1,770.1 L431.0,772.8 L432.8,770.2 L434.7,770.1 L436.6,771.4 L438.5,769.5 L440.3,768.8 L442.2,767.8 L444.1,767.8 L446.0,768.3 L447.8,767.2 L449.7,768.0 L451.6,767.8 L453.5,766.8 L455.3,766.5 L457.2,766.2 L459.1,762.9 L460.9,766.2 L462.8,763.3 L464.7,762.7 L466.6,763.9 L468.4,760.6 L470.3,762.7 L472.2,760.8 L474.1,762.4 L475.9,761.5 L477.8,760.3 L479.7,758.5 L481.6,756.5 L483.4,759.0 L485.3,756.1 L487.2,757.1 L489.1,755.1 L490.9,754.5 L492.8,754.5 L494.7,753.8 L496.6,755.7 L498.4,752.1 L500.3,750.9 L502.2,751.8 L504.1,750.1 L505.9,749.6 L507.8,748.4 L509.7,750.1 L511.5,749.2 L513.4,747.1 L515.3,746.5 L517.2,745.1 L519.0,746.4 L520.9,745.4 L522.8,745.6 L524.7,744.4 L526.5,741.9 L528.4,742.9 L530.3,741.6 L532.2,741.7 L534.0,741.4 L535.9,740.4 L537.8,739.8 L539.7,740.3 L541.5,739.4 L543.4,738.2 L545.3,736.6 L547.2,736.9 L549.0,738.2 L550.9,736.1 L552.8,735.9 L554.6,737.1 L556.5,737.2 L558.4,737.9 L560.3,738.5 L562.1,738.5 L564.0,739.2 L565.9,740.2 L567.8,739.7 L569.6,742.7 L571.5,739.8 L573.4,742.6 L575.3,744.7 L577.1,746.5 L579.0,744.5 L580.9,744.5 L582.8,746.5 L584.6,747.0 L586.5,747.8 L588.4,747.2 L590.3,748.3 L592.1,750.9 L594.0,749.3 L595.9,750.4 L597.7,750.5 L599.6,752.7 L601.5,751.3 L603.4,751.3 L605.2,755.9 L607.1,753.0 L609.0,754.8 L610.9,755.4 L612.7,756.2 L614.6,756.9 L616.5,756.8 L618.4,758.0 L620.2,761.0 L622.1,758.0 L624.0,759.2 L625.9,759.2 L627.7,762.5 L629.6,760.5 L631.5,762.3 L633.4,761.2 L635.2,762.3 L637.1,761.5 L639.0,762.4 L640.9,763.0 L642.7,767.1 L644.6,763.8 L646.5,765.0 L648.3,766.3 L650.2,765.4 L652.1,767.0 L654.0,767.3 L655.8,767.7 L657.7,769.3 L659.6,768.9 L661.5,771.2 L663.3,769.3 L665.2,770.7 L667.1,770.6 L669.0,772.5 L670.8,772.8 L672.7,772.1 L674.6,771.3 L676.5,774.9 L678.3,775.4 L680.2,774.9 L682.1,773.4 L684.0,774.9 L685.8,774.1 L687.7,776.1 L689.6,777.2 L691.4,776.9 L693.3,776.6 L695.2,778.6 L697.1,777.6 L698.9,778.2 L700.8,778.8 L702.7,778.4 L704.6,780.8 L706.4,780.6 L708.3,779.6 L710.2,780.3 L712.1,780.3 L713.9,780.4 L715.8,779.5 L717.7,781.0 L719.6,780.8 L721.4,782.6 L723.3,782.0 L725.2,782.9 L727.1,784.1 L728.9,784.0 L730.8,784.5 L732.7,785.1 L734.5,785.4 L736.4,783.1 L738.3,786.4 L740.2,785.9 L742.0,788.4 L743.9,787.0 L745.8,786.4 L747.7,785.9 L749.5,788.5 L751.4,787.4 L753.3,788.3 L755.2,787.9 L757.0,789.1 L758.9,788.6 L760.8,788.5 L762.7,789.1 L764.5,787.7 L766.4,789.0 L768.3,789.2 L770.2,792.0 L772.0,789.2 L773.9,790.0 L775.8,789.3 L777.6,791.5 L779.5,790.8 L781.4,789.1 L783.3,791.5 L785.1,791.7 L787.0,791.6 L788.9,791.2 L790.8,793.1 L792.6,792.5 L794.5,794.3 L796.4,795.0 L798.3,794.3 L800.1,794.5 L802.0,795.5 L803.9,795.4 L805.8,795.2 L807.6,794.2 L809.5,794.3 L811.4,793.9 L813.3,795.0 L815.1,795.9 L817.0,796.4 L818.9,795.0 L820.8,795.8 L822.6,795.3 L824.5,796.8 L826.4,797.4 L828.2,796.7 L830.1,793.9 L832.0,796.5 L833.9,796.9 L835.7,796.9 L837.6,798.2 L839.5,795.6 L841.4,798.7 L843.2,798.0 L845.1,798.0 L847.0,799.3 L848.9,798.7 L850.7,799.1 L852.6,798.1 L854.5,799.0 L856.4,798.0 L858.2,797.9 L860.1,800.9 L862.0,798.6 L863.9,799.1 L865.7,799.9 L867.6,798.5 L869.5,799.4 L871.3,800.6 L873.2,801.3 L875.1,800.1 L877.0,799.6 L878.8,801.0 L880.7,798.4 L882.6,802.3 L884.5,800.2 L886.3,801.3 L888.2,799.6 L890.1,800.3 L892.0,800.7 L893.8,801.6 L895.7,801.9 L897.6,800.2 L899.5,802.1 L901.3,801.7 L903.2,802.6 L905.1,802.0 L907.0,804.0 L908.8,799.9 L910.7,800.8 L912.6,803.4 L914.4,803.4 L916.3,802.3 L918.2,801.9 L920.1,802.1 L921.9,803.8 L923.8,802.4 L925.7,802.9 L927.6,803.5 L929.4,801.8 L931.3,802.7 L933.2,802.5 L935.1,802.9 L936.9,803.4 L938.8,801.4 L940.7,803.7 L942.6,805.2 L944.4,803.8 L946.3,805.0 L948.2,802.7 L950.1,802.4 L951.9,804.2 L953.8,803.4 L955.7,804.3 L957.5,802.8 L959.4,802.7 L961.3,803.8 L963.2,804.3 L965.0,805.0 L966.9,806.2 L968.8,805.1 L970.7,804.6 L972.5,804.6 L974.4,803.8 L976.3,804.1 L976.8,804.4" fill="none" stroke="#66b856" stroke-width="3.9" stroke-linejoin="round" stroke-linecap="round"/>
<path d="M125.0,802.9 L125.5,803.7 L127.4,805.2 L129.3,804.5 L131.1,804.5 L133.0,802.0 L134.9,805.0 L136.8,802.8 L138.6,803.9 L140.5,803.0 L142.4,804.0 L144.3,803.5 L146.1,803.4 L148.0,803.7 L149.9,803.1 L151.7,803.4 L153.6,802.5 L155.5,801.9 L157.4,803.6 L159.2,803.7 L161.1,803.0 L163.0,804.9 L164.9,803.0 L166.7,803.7 L168.6,804.0 L170.5,804.6 L172.4,803.3 L174.2,802.5 L176.1,803.4 L178.0,803.7 L179.9,803.3 L181.7,802.9 L183.6,803.8 L185.5,803.1 L187.4,803.6 L189.2,802.6 L191.1,800.8 L193.0,802.2 L194.8,800.4 L196.7,802.8 L198.6,803.2 L200.5,802.3 L202.3,801.9 L204.2,801.5 L206.1,801.4 L208.0,802.0 L209.8,800.8 L211.7,801.6 L213.6,800.8 L215.5,801.0 L217.3,801.1 L219.2,801.0 L221.1,801.8 L223.0,800.5 L224.8,800.4 L226.7,801.3 L228.6,798.4 L230.5,800.5 L232.3,801.8 L234.2,802.0 L236.1,801.2 L237.9,802.4 L239.8,799.8 L241.7,801.1 L243.6,799.6 L245.4,801.2 L247.3,799.6 L249.2,798.6 L251.1,799.0 L252.9,801.1 L254.8,799.3 L256.7,799.6 L258.6,798.0 L260.4,798.6 L262.3,797.1 L264.2,798.6 L266.1,799.6 L267.9,799.3 L269.8,797.2 L271.7,799.2 L273.6,798.0 L275.4,795.9 L277.3,797.8 L279.2,798.6 L281.0,796.7 L282.9,797.1 L284.8,798.4 L286.7,796.4 L288.5,796.8 L290.4,796.2 L292.3,797.4 L294.2,795.5 L296.0,796.9 L297.9,795.1 L299.8,797.2 L301.7,795.7 L303.5,795.5 L305.4,796.9 L307.3,797.3 L309.2,796.0 L311.0,795.9 L312.9,795.6 L314.8,795.0 L316.7,792.5 L318.5,794.3 L320.4,792.8 L322.3,793.8 L324.2,792.9 L326.0,793.2 L327.9,793.5 L329.8,792.9 L331.6,791.1 L333.5,794.6 L335.4,792.6 L337.3,792.0 L339.1,793.6 L341.0,791.7 L342.9,791.9 L344.8,790.6 L346.6,791.0 L348.5,791.4 L350.4,790.9 L352.3,793.1 L354.1,788.8 L356.0,790.3 L357.9,791.7 L359.8,791.1 L361.6,790.1 L363.5,790.3 L365.4,789.3 L367.3,789.9 L369.1,788.5 L371.0,789.2 L372.9,788.6 L374.7,789.6 L376.6,788.8 L378.5,787.9 L380.4,788.5 L382.2,787.5 L384.1,787.3 L386.0,788.3 L387.9,785.4 L389.7,787.6 L391.6,784.3 L393.5,784.7 L395.4,784.8 L397.2,785.2 L399.1,785.7 L401.0,782.9 L402.9,782.2 L404.7,784.6 L406.6,781.8 L408.5,782.2 L410.4,782.1 L412.2,782.2 L414.1,782.6 L416.0,782.1 L417.8,781.5 L419.7,780.0 L421.6,782.4 L423.5,780.5 L425.3,781.5 L427.2,780.0 L429.1,780.0 L431.0,780.1 L432.8,778.4 L434.7,778.0 L436.6,779.6 L438.5,778.7 L440.3,777.1 L442.2,777.8 L444.1,776.6 L446.0,779.4 L447.8,776.6 L449.7,776.1 L451.6,775.1 L453.5,772.7 L455.3,774.9 L457.2,774.4 L459.1,772.3 L460.9,773.6 L462.8,771.3 L464.7,771.8 L466.6,774.1 L468.4,771.6 L470.3,769.7 L472.2,770.7 L474.1,770.2 L475.9,769.9 L477.8,769.5 L479.7,767.9 L481.6,768.2 L483.4,768.1 L485.3,765.4 L487.2,769.0 L489.1,767.7 L490.9,766.9 L492.8,766.5 L494.7,767.5 L496.6,762.3 L498.4,764.8 L500.3,763.7 L502.2,763.8 L504.1,764.6 L505.9,760.3 L507.8,762.5 L509.7,761.8 L511.5,761.5 L513.4,760.6 L515.3,758.9 L517.2,760.0 L519.0,763.2 L520.9,759.7 L522.8,759.7 L524.7,757.4 L526.5,758.0 L528.4,756.5 L530.3,756.4 L532.2,756.7 L534.0,754.7 L535.9,755.4 L537.8,756.0 L539.7,755.9 L541.5,754.8 L543.4,756.2 L545.3,752.8 L547.2,752.1 L549.0,753.4 L550.9,751.8 L552.8,753.3 L554.6,751.3 L556.5,753.0 L558.4,753.2 L560.3,753.4 L562.1,754.2 L564.0,754.9 L565.9,754.4 L567.8,754.9 L569.6,756.9 L571.5,757.4 L573.4,757.2 L575.3,757.2 L577.1,757.4 L579.0,758.7 L580.9,759.2 L582.8,760.8 L584.6,758.7 L586.5,760.5 L588.4,760.1 L590.3,761.8 L592.1,763.1 L594.0,763.0 L595.9,763.5 L597.7,762.8 L599.6,764.2 L601.5,763.1 L603.4,764.1 L605.2,762.5 L607.1,767.5 L609.0,764.6 L610.9,767.1 L612.7,767.1 L614.6,767.2 L616.5,766.7 L618.4,768.3 L620.2,769.3 L622.1,767.4 L624.0,770.4 L625.9,769.0 L627.7,770.7 L629.6,769.6 L631.5,771.4 L633.4,772.6 L635.2,773.4 L637.1,773.3 L639.0,772.3 L640.9,771.9 L642.7,773.7 L644.6,773.8 L646.5,776.1 L648.3,775.2 L650.2,774.2 L652.1,774.7 L654.0,777.4 L655.8,777.0 L657.7,777.5 L659.6,776.9 L661.5,778.3 L663.3,778.0 L665.2,777.0 L667.1,778.5 L669.0,779.4 L670.8,779.2 L672.7,781.2 L674.6,780.1 L676.5,780.3 L678.3,779.1 L680.2,782.1 L682.1,780.3 L684.0,781.1 L685.8,780.2 L687.7,780.8 L689.6,782.1 L691.4,783.2 L693.3,781.6 L695.2,781.7 L697.1,784.0 L698.9,782.3 L700.8,784.2 L702.7,783.7 L704.6,786.0 L706.4,784.6 L708.3,785.5 L710.2,785.8 L712.1,786.7 L713.9,786.9 L715.8,786.0 L717.7,787.2 L719.6,789.0 L721.4,788.5 L723.3,786.4 L725.2,787.9 L727.1,788.4 L728.9,786.9 L730.8,790.5 L732.7,790.0 L734.5,788.5 L736.4,788.3 L738.3,789.3 L740.2,791.1 L742.0,789.1 L743.9,790.1 L745.8,791.5 L747.7,792.9 L749.5,791.0 L751.4,792.0 L753.3,792.4 L755.2,792.5 L757.0,792.3 L758.9,792.6 L760.8,792.2 L762.7,791.2 L764.5,794.9 L766.4,793.8 L768.3,793.1 L770.2,793.2 L772.0,793.0 L773.9,793.9 L775.8,794.0 L777.6,793.7 L779.5,793.2 L781.4,793.8 L783.3,794.9 L785.1,794.0 L787.0,794.5 L788.9,795.8 L790.8,794.4 L792.6,794.6 L794.5,796.5 L796.4,794.7 L798.3,796.1 L800.1,794.1 L802.0,797.1 L803.9,796.4 L805.8,796.7 L807.6,797.6 L809.5,797.3 L811.4,796.7 L813.3,797.4 L815.1,797.0 L817.0,797.9 L818.9,797.2 L820.8,797.4 L822.6,798.7 L824.5,800.5 L826.4,797.7 L828.2,799.1 L830.1,802.7 L832.0,797.5 L833.9,798.8 L835.7,798.0 L837.6,797.9 L839.5,795.8 L841.4,798.6 L843.2,798.2 L845.1,797.9 L847.0,797.6 L848.9,799.5 L850.7,799.3 L852.6,798.9 L854.5,801.1 L856.4,799.3 L858.2,798.5 L860.1,799.9 L862.0,799.2 L863.9,801.1 L865.7,799.5 L867.6,802.0 L869.5,800.9 L871.3,799.6 L873.2,801.4 L875.1,800.3 L877.0,802.0 L878.8,801.0 L880.7,801.0 L882.6,801.5 L884.5,802.1 L886.3,801.8 L888.2,802.5 L890.1,802.4 L892.0,802.8 L893.8,802.0 L895.7,800.7 L897.6,799.6 L899.5,801.4 L901.3,801.6 L903.2,802.9 L905.1,802.9 L907.0,801.5 L908.8,801.2 L910.7,803.2 L912.6,802.9 L914.4,801.4 L916.3,801.4 L918.2,801.8 L920.1,803.2 L921.9,803.2 L923.8,802.8 L925.7,805.2 L927.6,802.7 L929.4,802.2 L931.3,803.0 L933.2,802.9 L935.1,804.2 L936.9,803.0 L938.8,803.1 L940.7,804.0 L942.6,803.3 L944.4,804.7 L946.3,804.3 L948.2,803.7 L950.1,804.5 L951.9,804.8 L953.8,804.9 L955.7,803.5 L957.5,802.9 L959.4,802.8 L961.3,804.0 L963.2,804.2 L965.0,804.1 L966.9,803.3 L968.8,805.1 L970.7,804.3 L972.5,804.2 L974.4,804.7 L976.3,803.2 L976.8,804.2" fill="none" stroke="#74bb55" stroke-width="3.9" stroke-linejoin="round" stroke-linecap="round"/>
<path d="M125.0,802.5 L125.5,801.9 L127.4,801.5 L129.3,803.0 L131.1,801.3 L133.0,801.8 L134.9,801.2 L136.8,801.7 L138.6,800.8 L140.5,802.8 L142.4,800.2 L144.3,800.7 L146.1,802.3 L148.0,801.1 L149.9,801.3 L151.7,803.3 L153.6,801.1 L155.5,802.2 L157.4,801.8 L159.2,802.1 L161.1,801.9 L163.0,801.4 L164.9,801.3 L166.7,802.9 L168.6,801.6 L170.5,802.6 L172.4,802.5 L174.2,801.6 L176.1,800.4 L178.0,800.6 L179.9,801.7 L181.7,801.7 L183.6,801.8 L185.5,800.8 L187.4,800.1 L189.2,800.9 L191.1,800.2 L193.0,800.5 L194.8,799.3 L196.7,802.6 L198.6,802.7 L200.5,800.8 L202.3,800.0 L204.2,800.9 L206.1,800.1 L208.0,801.5 L209.8,801.5 L211.7,801.0 L213.6,799.5 L215.5,799.5 L217.3,800.8 L219.2,799.9 L221.1,800.6 L223.0,800.0 L224.8,801.0 L226.7,799.9 L228.6,800.5 L230.5,799.8 L232.3,800.3 L234.2,800.4 L236.1,799.5 L237.9,799.8 L239.8,799.4 L241.7,799.8 L243.6,798.7 L245.4,800.0 L247.3,798.4 L249.2,797.8 L251.1,799.3 L252.9,797.3 L254.8,797.0 L256.7,798.4 L258.6,800.0 L260.4,800.2 L262.3,798.8 L264.2,796.8 L266.1,797.9 L267.9,797.7 L269.8,798.5 L271.7,798.9 L273.6,797.8 L275.4,799.1 L277.3,798.2 L279.2,797.4 L281.0,797.8 L282.9,797.2 L284.8,798.1 L286.7,797.0 L288.5,797.1 L290.4,798.9 L292.3,798.3 L294.2,797.9 L296.0,796.5 L297.9,796.7 L299.8,796.6 L301.7,796.6 L303.5,796.1 L305.4,795.7 L307.3,797.0 L309.2,797.9 L311.0,795.7 L312.9,796.4 L314.8,796.0 L316.7,796.1 L318.5,796.9 L320.4,797.2 L322.3,794.7 L324.2,794.5 L326.0,794.5 L327.9,795.1 L329.8,794.9 L331.6,795.5 L333.5,794.9 L335.4,795.2 L337.3,795.2 L339.1,794.4 L341.0,792.8 L342.9,796.2 L344.8,793.6 L346.6,793.4 L348.5,795.1 L350.4,793.5 L352.3,793.6 L354.1,794.0 L356.0,793.9 L357.9,794.6 L359.8,791.5 L361.6,790.7 L363.5,791.3 L365.4,793.0 L367.3,792.3 L369.1,792.0 L371.0,793.0 L372.9,792.3 L374.7,791.4 L376.6,792.2 L378.5,793.3 L380.4,792.7 L382.2,791.0 L384.1,791.4 L386.0,791.2 L387.9,789.4 L389.7,790.5 L391.6,791.1 L393.5,790.3 L395.4,787.9 L397.2,791.0 L399.1,787.9 L401.0,788.1 L402.9,789.5 L404.7,789.5 L406.6,787.6 L408.5,788.5 L410.4,789.1 L412.2,786.6 L414.1,788.0 L416.0,787.7 L417.8,787.7 L419.7,787.9 L421.6,787.2 L423.5,787.5 L425.3,786.4 L427.2,785.7 L429.1,785.4 L431.0,785.1 L432.8,784.6 L434.7,785.1 L436.6,786.2 L438.5,784.4 L440.3,786.8 L442.2,785.6 L444.1,784.4 L446.0,786.1 L447.8,782.7 L449.7,785.0 L451.6,785.2 L453.5,784.2 L455.3,784.0 L457.2,783.0 L459.1,782.9 L460.9,781.4 L462.8,782.4 L464.7,781.7 L466.6,782.7 L468.4,780.9 L470.3,781.9 L472.2,782.8 L474.1,779.2 L475.9,781.4 L477.8,781.1 L479.7,780.6 L481.6,778.7 L483.4,780.7 L485.3,779.2 L487.2,777.9 L489.1,776.3 L490.9,778.2 L492.8,777.6 L494.7,778.2 L496.6,775.0 L498.4,776.9 L500.3,776.5 L502.2,775.9 L504.1,776.7 L505.9,775.4 L507.8,776.4 L509.7,773.2 L511.5,774.6 L513.4,774.3 L515.3,772.6 L517.2,774.7 L519.0,771.6 L520.9,771.2 L522.8,773.3 L524.7,771.4 L526.5,771.9 L528.4,770.5 L530.3,771.0 L532.2,771.7 L534.0,769.7 L535.9,770.3 L537.8,769.5 L539.7,768.3 L541.5,767.7 L543.4,767.9 L545.3,769.8 L547.2,767.2 L549.0,768.0 L550.9,767.5 L552.8,767.8 L554.6,766.4 L556.5,767.7 L558.4,768.6 L560.3,768.7 L562.1,771.2 L564.0,769.1 L565.9,769.9 L567.8,771.5 L569.6,770.3 L571.5,770.7 L573.4,771.0 L575.3,771.9 L577.1,771.3 L579.0,771.6 L580.9,772.7 L582.8,773.2 L584.6,773.9 L586.5,774.4 L588.4,773.5 L590.3,775.0 L592.1,776.3 L594.0,774.9 L595.9,774.3 L597.7,776.0 L599.6,775.2 L601.5,775.9 L603.4,777.8 L605.2,776.7 L607.1,777.4 L609.0,776.9 L610.9,780.8 L612.7,777.4 L614.6,777.8 L616.5,779.8 L618.4,778.0 L620.2,779.6 L622.1,779.5 L624.0,779.1 L625.9,778.9 L627.7,780.4 L629.6,780.1 L631.5,780.7 L633.4,782.1 L635.2,780.0 L637.1,781.1 L639.0,782.0 L640.9,781.3 L642.7,782.1 L644.6,783.5 L646.5,782.2 L648.3,783.4 L650.2,783.1 L652.1,783.0 L654.0,783.2 L655.8,782.5 L657.7,784.5 L659.6,785.1 L661.5,785.9 L663.3,786.0 L665.2,784.9 L667.1,785.4 L669.0,786.9 L670.8,786.9 L672.7,786.9 L674.6,785.1 L676.5,787.8 L678.3,786.8 L680.2,788.9 L682.1,787.8 L684.0,786.4 L685.8,789.2 L687.7,787.0 L689.6,790.2 L691.4,788.5 L693.3,789.8 L695.2,788.9 L697.1,789.4 L698.9,788.5 L700.8,789.2 L702.7,789.5 L704.6,790.4 L706.4,789.6 L708.3,791.0 L710.2,791.0 L712.1,791.2 L713.9,790.2 L715.8,788.7 L717.7,791.1 L719.6,789.4 L721.4,792.4 L723.3,792.1 L725.2,791.2 L727.1,791.3 L728.9,791.3 L730.8,790.6 L732.7,792.5 L734.5,791.4 L736.4,792.4 L738.3,795.5 L740.2,793.9 L742.0,793.6 L743.9,793.1 L745.8,792.8 L747.7,793.8 L749.5,792.4 L751.4,794.7 L753.3,793.9 L755.2,793.1 L757.0,795.2 L758.9,793.1 L760.8,793.5 L762.7,794.7 L764.5,794.7 L766.4,794.9 L768.3,794.9 L770.2,793.8 L772.0,794.7 L773.9,796.6 L775.8,796.9 L777.6,794.9 L779.5,798.1 L781.4,797.2 L783.3,796.4 L785.1,796.0 L787.0,794.8 L788.9,796.0 L790.8,792.9 L792.6,796.2 L794.5,795.6 L796.4,795.6 L798.3,796.8 L800.1,795.9 L802.0,796.3 L803.9,796.7 L805.8,797.7 L807.6,797.6 L809.5,796.5 L811.4,797.4 L813.3,797.0 L815.1,797.1 L817.0,797.3 L818.9,797.7 L820.8,797.2 L822.6,797.1 L824.5,796.6 L826.4,797.5 L828.2,798.6 L830.1,798.8 L832.0,797.7 L833.9,799.8 L835.7,798.9 L837.6,797.5 L839.5,798.9 L841.4,799.3 L843.2,797.5 L845.1,801.3 L847.0,798.9 L848.9,799.4 L850.7,799.5 L852.6,798.2 L854.5,797.7 L856.4,798.1 L858.2,798.7 L860.1,799.0 L862.0,799.6 L863.9,799.5 L865.7,801.1 L867.6,800.1 L869.5,799.1 L871.3,799.8 L873.2,799.0 L875.1,801.3 L877.0,800.4 L878.8,800.9 L880.7,799.0 L882.6,800.3 L884.5,800.4 L886.3,801.3 L888.2,800.7 L890.1,801.2 L892.0,800.9 L893.8,798.3 L895.7,801.5 L897.6,800.7 L899.5,801.4 L901.3,799.4 L903.2,801.5 L905.1,801.5 L907.0,800.4 L908.8,799.2 L910.7,800.6 L912.6,801.4 L914.4,803.3 L916.3,804.4 L918.2,801.1 L920.1,801.0 L921.9,800.0 L923.8,800.7 L925.7,801.4 L927.6,800.0 L929.4,799.6 L931.3,801.9 L933.2,800.5 L935.1,800.2 L936.9,802.1 L938.8,800.9 L940.7,801.5 L942.6,800.4 L944.4,800.5 L946.3,803.6 L948.2,801.8 L950.1,800.4 L951.9,801.2 L953.8,802.7 L955.7,802.2 L957.5,802.8 L959.4,801.5 L961.3,803.1 L963.2,800.7 L965.0,801.1 L966.9,800.4 L968.8,801.0 L970.7,801.0 L972.5,801.2 L974.4,801.5 L976.3,803.9 L976.8,801.6" fill="none" stroke="#c3c24c" stroke-width="3.9" stroke-linejoin="round" stroke-linecap="round"/>
<path d="M125.0,800.8 L125.5,800.9 L127.4,801.6 L129.3,801.0 L131.1,802.2 L133.0,803.3 L134.9,800.0 L136.8,801.1 L138.6,803.4 L140.5,802.5 L142.4,802.0 L144.3,801.1 L146.1,800.2 L148.0,801.1 L149.9,801.8 L151.7,800.9 L153.6,801.5 L155.5,801.1 L157.4,801.9 L159.2,802.4 L161.1,800.0 L163.0,801.5 L164.9,801.0 L166.7,801.7 L168.6,801.6 L170.5,801.4 L172.4,800.4 L174.2,799.9 L176.1,800.5 L178.0,801.5 L179.9,798.3 L181.7,800.1 L183.6,800.0 L185.5,801.3 L187.4,801.0 L189.2,800.2 L191.1,802.4 L193.0,801.4 L194.8,800.3 L196.7,798.4 L198.6,800.2 L200.5,801.5 L202.3,801.7 L204.2,799.6 L206.1,801.2 L208.0,800.8 L209.8,798.5 L211.7,800.3 L213.6,800.7 L215.5,801.0 L217.3,799.0 L219.2,799.0 L221.1,800.8 L223.0,801.5 L224.8,800.2 L226.7,798.7 L228.6,799.6 L230.5,801.1 L232.3,799.6 L234.2,799.1 L236.1,799.9 L237.9,799.6 L239.8,799.7 L241.7,800.2 L243.6,800.3 L245.4,800.9 L247.3,800.7 L249.2,801.1 L251.1,799.0 L252.9,798.9 L254.8,799.3 L256.7,798.9 L258.6,799.2 L260.4,799.9 L262.3,799.0 L264.2,799.4 L266.1,799.3 L267.9,801.0 L269.8,799.5 L271.7,798.5 L273.6,799.2 L275.4,799.6 L277.3,800.3 L279.2,799.3 L281.0,797.3 L282.9,799.1 L284.8,797.5 L286.7,798.9 L288.5,797.4 L290.4,798.8 L292.3,797.9 L294.2,797.5 L296.0,797.5 L297.9,798.9 L299.8,798.3 L301.7,798.7 L303.5,797.9 L305.4,798.0 L307.3,797.9 L309.2,797.0 L311.0,798.5 L312.9,798.2 L314.8,797.9 L316.7,797.5 L318.5,798.0 L320.4,796.6 L322.3,798.1 L324.2,795.3 L326.0,796.8 L327.9,795.7 L329.8,797.7 L331.6,796.9 L333.5,796.4 L335.4,794.7 L337.3,796.2 L339.1,794.8 L341.0,796.8 L342.9,794.6 L344.8,796.6 L346.6,797.6 L348.5,797.7 L350.4,795.5 L352.3,795.8 L354.1,795.3 L356.0,795.5 L357.9,794.8 L359.8,793.6 L361.6,795.3 L363.5,794.7 L365.4,795.3 L367.3,796.4 L369.1,794.9 L371.0,793.1 L372.9,795.2 L374.7,792.1 L376.6,793.7 L378.5,793.6 L380.4,793.1 L382.2,793.8 L384.1,793.7 L386.0,792.3 L387.9,794.2 L389.7,793.5 L391.6,794.4 L393.5,793.0 L395.4,790.0 L397.2,791.7 L399.1,793.6 L401.0,794.3 L402.9,791.9 L404.7,791.6 L406.6,792.8 L408.5,790.7 L410.4,791.5 L412.2,791.1 L414.1,790.9 L416.0,790.4 L417.8,791.8 L419.7,791.9 L421.6,789.7 L423.5,791.0 L425.3,791.9 L427.2,790.2 L429.1,790.9 L431.0,789.9 L432.8,787.0 L434.7,788.2 L436.6,790.2 L438.5,790.8 L440.3,789.4 L442.2,790.2 L444.1,788.9 L446.0,788.6 L447.8,788.1 L449.7,788.6 L451.6,789.8 L453.5,788.4 L455.3,788.0 L457.2,787.6 L459.1,786.5 L460.9,788.5 L462.8,787.5 L464.7,787.7 L466.6,787.8 L468.4,786.1 L470.3,787.2 L472.2,784.4 L474.1,788.7 L475.9,784.5 L477.8,786.0 L479.7,786.8 L481.6,785.2 L483.4,785.0 L485.3,784.0 L487.2,783.5 L489.1,785.3 L490.9,784.3 L492.8,783.7 L494.7,783.7 L496.6,784.0 L498.4,782.1 L500.3,782.9 L502.2,784.3 L504.1,782.5 L505.9,782.8 L507.8,782.6 L509.7,781.2 L511.5,781.2 L513.4,781.3 L515.3,780.9 L517.2,780.2 L519.0,781.5 L520.9,780.5 L522.8,779.1 L524.7,780.8 L526.5,780.4 L528.4,780.3 L530.3,778.3 L532.2,779.7 L534.0,777.8 L535.9,779.1 L537.8,778.2 L539.7,777.9 L541.5,778.5 L543.4,778.7 L545.3,776.4 L547.2,777.6 L549.0,776.5 L550.9,776.9 L552.8,778.5 L554.6,775.9 L556.5,777.3 L558.4,778.0 L560.3,778.3 L562.1,778.7 L564.0,778.2 L565.9,776.6 L567.8,779.1 L569.6,780.3 L571.5,779.7 L573.4,777.5 L575.3,779.8 L577.1,778.2 L579.0,781.2 L580.9,781.5 L582.8,782.1 L584.6,782.1 L586.5,781.5 L588.4,781.5 L590.3,783.7 L592.1,783.2 L594.0,783.2 L595.9,783.0 L597.7,781.5 L599.6,781.5 L601.5,782.9 L603.4,782.8 L605.2,784.6 L607.1,783.7 L609.0,786.0 L610.9,784.5 L612.7,784.4 L614.6,784.1 L616.5,785.2 L618.4,785.5 L620.2,786.6 L622.1,788.0 L624.0,786.6 L625.9,788.1 L627.7,786.8 L629.6,786.9 L631.5,788.2 L633.4,788.8 L635.2,787.4 L637.1,788.0 L639.0,787.1 L640.9,786.9 L642.7,786.3 L644.6,787.2 L646.5,789.2 L648.3,788.5 L650.2,786.6 L652.1,789.7 L654.0,789.4 L655.8,787.9 L657.7,788.7 L659.6,790.1 L661.5,789.3 L663.3,790.4 L665.2,789.1 L667.1,790.3 L669.0,790.3 L670.8,790.3 L672.7,792.6 L674.6,790.9 L676.5,790.5 L678.3,791.0 L680.2,791.7 L682.1,791.4 L684.0,790.0 L685.8,791.0 L687.7,792.4 L689.6,790.9 L691.4,791.8 L693.3,792.7 L695.2,794.1 L697.1,791.9 L698.9,793.7 L700.8,792.4 L702.7,791.8 L704.6,792.3 L706.4,794.3 L708.3,794.1 L710.2,792.7 L712.1,792.4 L713.9,793.6 L715.8,793.8 L717.7,792.0 L719.6,792.3 L721.4,793.8 L723.3,794.5 L725.2,793.6 L727.1,795.6 L728.9,794.3 L730.8,794.3 L732.7,793.5 L734.5,794.3 L736.4,796.6 L738.3,793.2 L740.2,794.5 L742.0,797.1 L743.9,796.8 L745.8,794.7 L747.7,796.8 L749.5,794.8 L751.4,796.7 L753.3,797.3 L755.2,794.4 L757.0,794.3 L758.9,796.3 L760.8,794.6 L762.7,795.9 L764.5,795.8 L766.4,796.6 L768.3,795.8 L770.2,795.1 L772.0,795.2 L773.9,794.7 L775.8,795.0 L777.6,796.2 L779.5,797.4 L781.4,796.1 L783.3,796.4 L785.1,797.5 L787.0,798.3 L788.9,798.0 L790.8,798.8 L792.6,798.2 L794.5,797.3 L796.4,796.3 L798.3,797.5 L800.1,798.2 L802.0,798.2 L803.9,798.0 L805.8,796.7 L807.6,797.8 L809.5,799.7 L811.4,798.1 L813.3,799.8 L815.1,798.9 L817.0,798.2 L818.9,799.2 L820.8,798.6 L822.6,797.4 L824.5,799.4 L826.4,797.6 L828.2,797.9 L830.1,798.1 L832.0,799.6 L833.9,797.8 L835.7,798.6 L837.6,798.3 L839.5,799.0 L841.4,797.9 L843.2,800.4 L845.1,798.8 L847.0,798.5 L848.9,796.7 L850.7,800.8 L852.6,800.5 L854.5,799.6 L856.4,799.2 L858.2,800.3 L860.1,798.9 L862.0,799.9 L863.9,799.6 L865.7,801.0 L867.6,799.4 L869.5,799.8 L871.3,798.5 L873.2,799.2 L875.1,798.6 L877.0,799.7 L878.8,800.8 L880.7,799.5 L882.6,801.6 L884.5,801.5 L886.3,800.9 L888.2,799.5 L890.1,799.4 L892.0,802.0 L893.8,800.8 L895.7,799.4 L897.6,800.9 L899.5,802.1 L901.3,800.6 L903.2,799.4 L905.1,801.2 L907.0,801.2 L908.8,798.8 L910.7,800.1 L912.6,801.8 L914.4,800.0 L916.3,799.7 L918.2,801.1 L920.1,800.7 L921.9,800.1 L923.8,800.6 L925.7,799.5 L927.6,799.7 L929.4,800.1 L931.3,799.5 L933.2,801.3 L935.1,801.8 L936.9,802.3 L938.8,801.6 L940.7,802.2 L942.6,801.4 L944.4,800.2 L946.3,799.7 L948.2,800.5 L950.1,800.6 L951.9,800.9 L953.8,800.7 L955.7,801.7 L957.5,801.9 L959.4,802.4 L961.3,801.6 L963.2,801.0 L965.0,801.5 L966.9,801.2 L968.8,799.6 L970.7,801.0 L972.5,800.9 L974.4,801.4 L976.3,801.0 L976.8,802.5" fill="none" stroke="#b5c54e" stroke-width="3.9" stroke-linejoin="round" stroke-linecap="round"/>
<path d="M125.0,800.7 L125.5,801.6 L127.4,800.5 L129.3,801.0 L131.1,802.5 L133.0,800.1 L134.9,801.1 L136.8,800.4 L138.6,799.2 L140.5,800.7 L142.4,801.9 L144.3,801.6 L146.1,799.9 L148.0,802.3 L149.9,800.6 L151.7,800.5 L153.6,801.9 L155.5,800.7 L157.4,800.3 L159.2,801.5 L161.1,801.2 L163.0,800.2 L164.9,802.0 L166.7,801.5 L168.6,799.8 L170.5,800.6 L172.4,802.0 L174.2,800.6 L176.1,798.8 L178.0,802.0 L179.9,799.8 L181.7,799.8 L183.6,800.7 L185.5,799.9 L187.4,801.1 L189.2,799.0 L191.1,798.8 L193.0,801.3 L194.8,800.6 L196.7,800.3 L198.6,800.9 L200.5,800.0 L202.3,801.3 L204.2,799.7 L206.1,800.5 L208.0,800.3 L209.8,799.8 L211.7,799.3 L213.6,801.1 L215.5,799.4 L217.3,799.3 L219.2,800.2 L221.1,798.6 L223.0,800.7 L224.8,800.5 L226.7,799.6 L228.6,800.6 L230.5,798.6 L232.3,799.7 L234.2,798.2 L236.1,800.8 L237.9,800.7 L239.8,798.5 L241.7,800.7 L243.6,798.7 L245.4,800.4 L247.3,799.4 L249.2,798.5 L251.1,799.6 L252.9,800.6 L254.8,800.0 L256.7,798.4 L258.6,799.2 L260.4,798.7 L262.3,799.3 L264.2,799.0 L266.1,799.5 L267.9,800.2 L269.8,798.7 L271.7,799.0 L273.6,801.0 L275.4,799.1 L277.3,798.1 L279.2,797.2 L281.0,800.3 L282.9,798.8 L284.8,798.4 L286.7,798.1 L288.5,799.5 L290.4,798.3 L292.3,799.1 L294.2,798.7 L296.0,799.1 L297.9,798.3 L299.8,798.9 L301.7,798.2 L303.5,798.5 L305.4,797.5 L307.3,796.7 L309.2,798.4 L311.0,798.9 L312.9,798.4 L314.8,798.6 L316.7,799.7 L318.5,798.0 L320.4,798.4 L322.3,797.1 L324.2,798.0 L326.0,796.9 L327.9,797.0 L329.8,798.2 L331.6,798.0 L333.5,798.1 L335.4,798.0 L337.3,796.7 L339.1,797.9 L341.0,797.7 L342.9,798.1 L344.8,795.9 L346.6,797.5 L348.5,797.2 L350.4,797.9 L352.3,796.7 L354.1,797.7 L356.0,797.5 L357.9,798.7 L359.8,798.3 L361.6,796.5 L363.5,795.8 L365.4,798.1 L367.3,796.3 L369.1,796.2 L371.0,793.4 L372.9,797.2 L374.7,796.8 L376.6,797.1 L378.5,795.2 L380.4,794.9 L382.2,796.1 L384.1,794.3 L386.0,793.6 L387.9,796.0 L389.7,795.0 L391.6,795.6 L393.5,795.9 L395.4,795.7 L397.2,795.4 L399.1,796.3 L401.0,795.0 L402.9,794.1 L404.7,795.7 L406.6,795.2 L408.5,795.5 L410.4,794.1 L412.2,794.5 L414.1,793.4 L416.0,794.5 L417.8,795.5 L419.7,793.5 L421.6,794.2 L423.5,792.7 L425.3,793.0 L427.2,796.1 L429.1,795.4 L431.0,793.4 L432.8,794.0 L434.7,795.4 L436.6,793.6 L438.5,791.7 L440.3,792.2 L442.2,793.6 L444.1,792.3 L446.0,791.5 L447.8,792.6 L449.7,790.5 L451.6,792.8 L453.5,790.0 L455.3,790.4 L457.2,791.3 L459.1,791.4 L460.9,791.5 L462.8,792.3 L464.7,790.3 L466.6,789.9 L468.4,790.2 L470.3,790.6 L472.2,790.6 L474.1,791.5 L475.9,791.1 L477.8,791.7 L479.7,789.7 L481.6,790.9 L483.4,789.1 L485.3,790.4 L487.2,788.2 L489.1,787.9 L490.9,787.8 L492.8,788.0 L494.7,789.3 L496.6,789.2 L498.4,789.5 L500.3,788.2 L502.2,786.8 L504.1,789.3 L505.9,785.7 L507.8,788.5 L509.7,789.0 L511.5,787.3 L513.4,786.4 L515.3,787.7 L517.2,788.2 L519.0,785.2 L520.9,787.9 L522.8,785.7 L524.7,786.3 L526.5,786.7 L528.4,786.1 L530.3,787.1 L532.2,786.9 L534.0,785.3 L535.9,786.5 L537.8,786.1 L539.7,783.7 L541.5,783.2 L543.4,783.7 L545.3,783.7 L547.2,784.7 L549.0,784.2 L550.9,784.3 L552.8,787.2 L554.6,784.3 L556.5,784.4 L558.4,783.8 L560.3,786.2 L562.1,784.0 L564.0,785.9 L565.9,786.7 L567.8,785.9 L569.6,784.9 L571.5,786.0 L573.4,785.7 L575.3,787.2 L577.1,786.0 L579.0,785.7 L580.9,787.7 L582.8,786.6 L584.6,788.5 L586.5,787.1 L588.4,789.0 L590.3,787.2 L592.1,787.8 L594.0,789.1 L595.9,787.8 L597.7,789.3 L599.6,788.3 L601.5,789.5 L603.4,788.2 L605.2,789.4 L607.1,787.6 L609.0,788.7 L610.9,788.8 L612.7,790.8 L614.6,791.7 L616.5,790.5 L618.4,788.1 L620.2,791.0 L622.1,789.0 L624.0,789.1 L625.9,791.0 L627.7,790.8 L629.6,789.4 L631.5,791.1 L633.4,791.4 L635.2,791.7 L637.1,791.2 L639.0,791.5 L640.9,790.3 L642.7,791.4 L644.6,790.6 L646.5,792.0 L648.3,789.6 L650.2,792.2 L652.1,792.4 L654.0,793.1 L655.8,794.1 L657.7,793.4 L659.6,792.5 L661.5,793.8 L663.3,792.1 L665.2,794.6 L667.1,794.8 L669.0,793.0 L670.8,793.0 L672.7,794.6 L674.6,792.5 L676.5,792.3 L678.3,793.4 L680.2,795.1 L682.1,792.8 L684.0,794.4 L685.8,794.4 L687.7,793.8 L689.6,795.1 L691.4,793.0 L693.3,795.2 L695.2,793.6 L697.1,794.0 L698.9,793.1 L700.8,794.5 L702.7,794.2 L704.6,795.5 L706.4,795.4 L708.3,795.9 L710.2,794.6 L712.1,796.1 L713.9,794.1 L715.8,795.7 L717.7,796.8 L719.6,796.4 L721.4,794.7 L723.3,796.4 L725.2,795.4 L727.1,797.6 L728.9,795.7 L730.8,795.5 L732.7,795.8 L734.5,795.6 L736.4,797.4 L738.3,798.1 L740.2,797.8 L742.0,795.8 L743.9,796.3 L745.8,796.0 L747.7,797.4 L749.5,796.1 L751.4,798.4 L753.3,796.6 L755.2,798.1 L757.0,797.6 L758.9,796.6 L760.8,796.4 L762.7,797.5 L764.5,797.7 L766.4,796.2 L768.3,796.5 L770.2,798.2 L772.0,797.3 L773.9,797.9 L775.8,796.8 L777.6,797.3 L779.5,797.4 L781.4,797.8 L783.3,798.4 L785.1,796.9 L787.0,797.6 L788.9,800.3 L790.8,798.5 L792.6,797.9 L794.5,798.9 L796.4,799.1 L798.3,798.9 L800.1,798.0 L802.0,799.3 L803.9,798.1 L805.8,797.2 L807.6,797.7 L809.5,797.7 L811.4,798.8 L813.3,797.6 L815.1,798.7 L817.0,797.9 L818.9,799.9 L820.8,797.7 L822.6,799.5 L824.5,798.9 L826.4,798.0 L828.2,799.0 L830.1,799.5 L832.0,799.3 L833.9,798.1 L835.7,798.1 L837.6,798.6 L839.5,799.9 L841.4,799.7 L843.2,798.7 L845.1,798.7 L847.0,800.1 L848.9,800.1 L850.7,798.8 L852.6,798.5 L854.5,799.5 L856.4,800.7 L858.2,798.1 L860.1,799.6 L862.0,799.2 L863.9,801.7 L865.7,800.4 L867.6,800.0 L869.5,799.5 L871.3,800.7 L873.2,801.3 L875.1,801.5 L877.0,800.3 L878.8,799.7 L880.7,799.8 L882.6,801.7 L884.5,800.8 L886.3,800.2 L888.2,799.2 L890.1,799.7 L892.0,800.0 L893.8,801.8 L895.7,799.2 L897.6,800.4 L899.5,800.1 L901.3,801.0 L903.2,800.6 L905.1,800.7 L907.0,800.8 L908.8,801.3 L910.7,799.8 L912.6,799.6 L914.4,801.0 L916.3,801.3 L918.2,801.3 L920.1,800.8 L921.9,799.3 L923.8,800.7 L925.7,798.9 L927.6,801.8 L929.4,801.7 L931.3,801.4 L933.2,801.5 L935.1,800.4 L936.9,799.1 L938.8,801.4 L940.7,800.5 L942.6,799.6 L944.4,798.6 L946.3,800.6 L948.2,799.9 L950.1,799.6 L951.9,800.8 L953.8,800.4 L955.7,801.2 L957.5,801.7 L959.4,801.5 L961.3,799.9 L963.2,799.7 L965.0,800.7 L966.9,802.1 L968.8,799.8 L970.7,801.0 L972.5,799.6 L974.4,800.9 L976.3,802.1 L976.8,801.3" fill="none" stroke="#cdbf4a" stroke-width="3.9" stroke-linejoin="round" stroke-linecap="round"/>
<path d="M125.0,800.3 L125.5,801.5 L127.4,797.9 L129.3,799.8 L131.1,799.7 L133.0,800.5 L134.9,800.2 L136.8,799.9 L138.6,800.0 L140.5,800.8 L142.4,799.6 L144.3,799.7 L146.1,800.3 L148.0,800.9 L149.9,801.0 L151.7,801.1 L153.6,799.9 L155.5,800.5 L157.4,799.3 L159.2,800.9 L161.1,799.4 L163.0,800.1 L164.9,800.6 L166.7,799.1 L168.6,799.9 L170.5,799.3 L172.4,799.0 L174.2,799.5 L176.1,800.4 L178.0,799.8 L179.9,799.0 L181.7,800.5 L183.6,799.4 L185.5,800.1 L187.4,800.4 L189.2,800.4 L191.1,800.9 L193.0,800.1 L194.8,799.5 L196.7,801.7 L198.6,800.2 L200.5,799.6 L202.3,800.1 L204.2,799.1 L206.1,800.5 L208.0,799.1 L209.8,799.0 L211.7,799.3 L213.6,800.4 L215.5,798.0 L217.3,799.9 L219.2,799.1 L221.1,800.5 L223.0,800.3 L224.8,799.2 L226.7,800.9 L228.6,799.1 L230.5,797.9 L232.3,800.8 L234.2,799.7 L236.1,798.7 L237.9,799.8 L239.8,798.6 L241.7,799.2 L243.6,801.0 L245.4,801.8 L247.3,799.6 L249.2,798.4 L251.1,800.1 L252.9,798.1 L254.8,800.7 L256.7,798.6 L258.6,799.4 L260.4,799.3 L262.3,799.5 L264.2,799.7 L266.1,799.2 L267.9,800.1 L269.8,798.2 L271.7,800.1 L273.6,798.4 L275.4,800.0 L277.3,800.2 L279.2,798.3 L281.0,798.5 L282.9,798.8 L284.8,797.1 L286.7,799.5 L288.5,797.8 L290.4,798.4 L292.3,797.0 L294.2,799.6 L296.0,798.9 L297.9,799.1 L299.8,799.4 L301.7,799.9 L303.5,798.7 L305.4,798.7 L307.3,799.3 L309.2,798.6 L311.0,800.0 L312.9,797.0 L314.8,797.8 L316.7,798.0 L318.5,797.5 L320.4,798.5 L322.3,798.7 L324.2,798.6 L326.0,798.8 L327.9,798.4 L329.8,797.0 L331.6,798.4 L333.5,796.6 L335.4,797.4 L337.3,796.0 L339.1,798.2 L341.0,798.4 L342.9,798.3 L344.8,799.7 L346.6,796.9 L348.5,797.1 L350.4,797.4 L352.3,797.3 L354.1,796.5 L356.0,798.2 L357.9,796.9 L359.8,796.9 L361.6,796.4 L363.5,795.7 L365.4,796.6 L367.3,797.8 L369.1,796.5 L371.0,797.2 L372.9,796.8 L374.7,797.8 L376.6,797.0 L378.5,796.7 L380.4,796.9 L382.2,796.1 L384.1,794.8 L386.0,796.5 L387.9,797.3 L389.7,796.6 L391.6,795.2 L393.5,796.1 L395.4,795.2 L397.2,795.9 L399.1,795.1 L401.0,796.4 L402.9,794.7 L404.7,795.6 L406.6,795.2 L408.5,794.4 L410.4,797.7 L412.2,794.2 L414.1,793.2 L416.0,795.6 L417.8,795.9 L419.7,795.5 L421.6,794.6 L423.5,795.3 L425.3,796.3 L427.2,796.0 L429.1,796.6 L431.0,795.6 L432.8,795.7 L434.7,796.4 L436.6,794.4 L438.5,794.7 L440.3,794.0 L442.2,796.5 L444.1,793.5 L446.0,792.8 L447.8,794.7 L449.7,795.6 L451.6,796.0 L453.5,793.1 L455.3,794.0 L457.2,793.5 L459.1,794.0 L460.9,795.3 L462.8,794.1 L464.7,793.6 L466.6,794.3 L468.4,793.1 L470.3,794.0 L472.2,792.3 L474.1,795.0 L475.9,792.5 L477.8,792.9 L479.7,791.9 L481.6,791.3 L483.4,792.0 L485.3,792.2 L487.2,792.9 L489.1,791.2 L490.9,792.0 L492.8,791.6 L494.7,792.0 L496.6,791.6 L498.4,792.3 L500.3,789.0 L502.2,791.2 L504.1,791.7 L505.9,791.6 L507.8,790.7 L509.7,791.4 L511.5,790.1 L513.4,790.7 L515.3,790.3 L517.2,789.4 L519.0,790.0 L520.9,789.8 L522.8,789.6 L524.7,788.7 L526.5,790.0 L528.4,788.6 L530.3,788.9 L532.2,789.1 L534.0,790.6 L535.9,789.1 L537.8,790.6 L539.7,789.7 L541.5,789.2 L543.4,789.3 L545.3,790.0 L547.2,787.7 L549.0,788.7 L550.9,788.4 L552.8,788.5 L554.6,790.4 L556.5,787.3 L558.4,787.9 L560.3,787.3 L562.1,789.4 L564.0,791.3 L565.9,789.2 L567.8,790.5 L569.6,790.5 L571.5,790.8 L573.4,791.0 L575.3,788.9 L577.1,791.2 L579.0,792.4 L580.9,788.6 L582.8,791.2 L584.6,791.7 L586.5,789.8 L588.4,790.5 L590.3,792.5 L592.1,790.1 L594.0,790.3 L595.9,790.9 L597.7,793.1 L599.6,791.5 L601.5,793.4 L603.4,791.5 L605.2,791.2 L607.1,791.0 L609.0,792.8 L610.9,790.7 L612.7,792.4 L614.6,792.6 L616.5,793.1 L618.4,792.0 L620.2,792.0 L622.1,792.7 L624.0,793.5 L625.9,791.6 L627.7,792.7 L629.6,792.2 L631.5,792.6 L633.4,793.1 L635.2,794.0 L637.1,794.0 L639.0,793.9 L640.9,796.1 L642.7,794.3 L644.6,792.9 L646.5,793.8 L648.3,795.3 L650.2,793.6 L652.1,794.5 L654.0,793.2 L655.8,794.5 L657.7,795.2 L659.6,794.3 L661.5,794.8 L663.3,794.0 L665.2,795.3 L667.1,793.6 L669.0,795.1 L670.8,796.1 L672.7,795.6 L674.6,795.5 L676.5,794.3 L678.3,794.8 L680.2,795.3 L682.1,794.5 L684.0,795.0 L685.8,794.6 L687.7,795.9 L689.6,794.2 L691.4,797.5 L693.3,797.0 L695.2,795.8 L697.1,795.1 L698.9,794.5 L700.8,795.8 L702.7,796.0 L704.6,795.7 L706.4,795.9 L708.3,796.2 L710.2,797.5 L712.1,797.1 L713.9,796.4 L715.8,797.9 L717.7,796.6 L719.6,795.7 L721.4,797.0 L723.3,797.7 L725.2,798.2 L727.1,797.6 L728.9,796.8 L730.8,796.1 L732.7,797.1 L734.5,796.6 L736.4,796.6 L738.3,797.4 L740.2,797.9 L742.0,795.9 L743.9,796.7 L745.8,796.0 L747.7,797.9 L749.5,797.8 L751.4,797.3 L753.3,797.9 L755.2,798.7 L757.0,798.3 L758.9,798.9 L760.8,798.0 L762.7,799.7 L764.5,797.4 L766.4,797.2 L768.3,799.8 L770.2,798.4 L772.0,798.0 L773.9,799.2 L775.8,798.1 L777.6,797.7 L779.5,798.7 L781.4,797.4 L783.3,798.1 L785.1,799.4 L787.0,799.2 L788.9,797.1 L790.8,797.1 L792.6,798.2 L794.5,797.2 L796.4,799.7 L798.3,796.9 L800.1,796.9 L802.0,798.8 L803.9,798.7 L805.8,799.6 L807.6,795.9 L809.5,798.6 L811.4,799.0 L813.3,799.5 L815.1,799.3 L817.0,799.3 L818.9,797.9 L820.8,798.3 L822.6,799.6 L824.5,798.7 L826.4,799.7 L828.2,798.8 L830.1,801.6 L832.0,797.3 L833.9,798.7 L835.7,799.9 L837.6,798.2 L839.5,799.0 L841.4,799.4 L843.2,797.5 L845.1,798.9 L847.0,798.5 L848.9,798.0 L850.7,798.8 L852.6,799.3 L854.5,799.4 L856.4,800.3 L858.2,798.6 L860.1,801.1 L862.0,798.7 L863.9,798.4 L865.7,798.8 L867.6,799.4 L869.5,800.3 L871.3,799.1 L873.2,798.3 L875.1,798.9 L877.0,798.7 L878.8,800.2 L880.7,800.1 L882.6,799.1 L884.5,801.5 L886.3,800.3 L888.2,801.1 L890.1,801.3 L892.0,799.1 L893.8,798.9 L895.7,799.6 L897.6,800.0 L899.5,800.8 L901.3,799.8 L903.2,800.5 L905.1,799.0 L907.0,801.2 L908.8,800.4 L910.7,798.5 L912.6,800.9 L914.4,799.4 L916.3,800.3 L918.2,802.9 L920.1,799.9 L921.9,799.9 L923.8,801.2 L925.7,799.7 L927.6,798.9 L929.4,800.2 L931.3,799.6 L933.2,800.9 L935.1,798.7 L936.9,800.2 L938.8,800.0 L940.7,801.2 L942.6,800.7 L944.4,799.1 L946.3,799.8 L948.2,801.0 L950.1,801.9 L951.9,802.1 L953.8,799.6 L955.7,801.1 L957.5,800.4 L959.4,798.6 L961.3,801.5 L963.2,801.0 L965.0,799.2 L966.9,800.1 L968.8,799.3 L970.7,799.3 L972.5,800.9 L974.4,800.7 L976.3,799.5 L976.8,800.1" fill="none" stroke="#d9a044" stroke-width="3.9" stroke-linejoin="round" stroke-linecap="round"/>
<path d="M125.0,800.6 L125.5,798.8 L127.4,798.4 L129.3,798.8 L131.1,798.1 L133.0,799.5 L134.9,800.8 L136.8,799.5 L138.6,799.0 L140.5,799.0 L142.4,800.0 L144.3,801.4 L146.1,797.4 L148.0,799.4 L149.9,799.0 L151.7,800.0 L153.6,800.2 L155.5,798.8 L157.4,798.5 L159.2,800.3 L161.1,799.9 L163.0,800.0 L164.9,800.4 L166.7,800.1 L168.6,799.4 L170.5,801.0 L172.4,797.3 L174.2,800.6 L176.1,799.7 L178.0,797.6 L179.9,799.7 L181.7,799.2 L183.6,798.6 L185.5,797.6 L187.4,800.1 L189.2,797.8 L191.1,800.3 L193.0,797.4 L194.8,798.1 L196.7,798.6 L198.6,799.4 L200.5,797.6 L202.3,798.3 L204.2,797.9 L206.1,800.3 L208.0,799.1 L209.8,798.8 L211.7,798.5 L213.6,800.6 L215.5,800.6 L217.3,798.5 L219.2,799.4 L221.1,798.8 L223.0,800.1 L224.8,798.9 L226.7,799.8 L228.6,800.1 L230.5,800.1 L232.3,798.6 L234.2,800.5 L236.1,800.6 L237.9,799.7 L239.8,798.6 L241.7,798.3 L243.6,798.2 L245.4,797.9 L247.3,799.4 L249.2,799.3 L251.1,797.3 L252.9,798.9 L254.8,798.5 L256.7,799.6 L258.6,798.3 L260.4,799.9 L262.3,799.2 L264.2,798.9 L266.1,798.9 L267.9,798.1 L269.8,797.9 L271.7,797.8 L273.6,798.6 L275.4,799.2 L277.3,798.7 L279.2,799.0 L281.0,799.4 L282.9,797.0 L284.8,799.7 L286.7,797.8 L288.5,799.0 L290.4,800.2 L292.3,796.5 L294.2,798.8 L296.0,799.5 L297.9,796.2 L299.8,798.7 L301.7,798.3 L303.5,796.8 L305.4,799.3 L307.3,799.2 L309.2,797.6 L311.0,797.8 L312.9,799.0 L314.8,799.6 L316.7,799.5 L318.5,797.6 L320.4,796.9 L322.3,796.9 L324.2,797.6 L326.0,797.6 L327.9,800.1 L329.8,798.0 L331.6,798.4 L333.5,796.5 L335.4,798.0 L337.3,797.7 L339.1,797.6 L341.0,797.3 L342.9,797.2 L344.8,795.6 L346.6,796.2 L348.5,797.2 L350.4,798.3 L352.3,795.9 L354.1,796.7 L356.0,797.4 L357.9,798.0 L359.8,798.4 L361.6,796.4 L363.5,796.3 L365.4,797.3 L367.3,797.3 L369.1,795.5 L371.0,796.7 L372.9,797.3 L374.7,797.8 L376.6,796.2 L378.5,796.2 L380.4,798.1 L382.2,799.1 L384.1,796.3 L386.0,796.3 L387.9,795.8 L389.7,796.1 L391.6,798.5 L393.5,795.7 L395.4,797.1 L397.2,795.2 L399.1,796.3 L401.0,796.9 L402.9,797.6 L404.7,797.0 L406.6,796.1 L408.5,796.6 L410.4,795.2 L412.2,796.4 L414.1,795.9 L416.0,796.9 L417.8,796.9 L419.7,796.7 L421.6,797.0 L423.5,795.0 L425.3,794.5 L427.2,796.5 L429.1,796.3 L431.0,794.6 L432.8,795.2 L434.7,795.0 L436.6,796.7 L438.5,793.7 L440.3,795.2 L442.2,795.2 L444.1,795.7 L446.0,795.5 L447.8,795.4 L449.7,795.5 L451.6,794.9 L453.5,794.3 L455.3,795.7 L457.2,795.2 L459.1,794.2 L460.9,794.4 L462.8,791.8 L464.7,795.7 L466.6,794.1 L468.4,795.0 L470.3,794.8 L472.2,794.7 L474.1,794.6 L475.9,793.7 L477.8,794.1 L479.7,793.3 L481.6,791.4 L483.4,793.2 L485.3,794.2 L487.2,792.8 L489.1,796.7 L490.9,792.5 L492.8,792.0 L494.7,793.7 L496.6,793.3 L498.4,793.8 L500.3,794.5 L502.2,792.8 L504.1,792.9 L505.9,793.7 L507.8,792.0 L509.7,794.2 L511.5,792.1 L513.4,792.3 L515.3,792.4 L517.2,792.4 L519.0,792.4 L520.9,794.0 L522.8,794.8 L524.7,792.6 L526.5,791.0 L528.4,792.2 L530.3,791.9 L532.2,791.8 L534.0,791.8 L535.9,791.7 L537.8,791.4 L539.7,793.9 L541.5,791.7 L543.4,793.2 L545.3,790.6 L547.2,793.1 L549.0,792.3 L550.9,791.6 L552.8,791.9 L554.6,791.2 L556.5,792.7 L558.4,789.3 L560.3,792.0 L562.1,793.2 L564.0,791.1 L565.9,792.7 L567.8,792.1 L569.6,792.4 L571.5,792.1 L573.4,792.4 L575.3,790.9 L577.1,791.5 L579.0,793.5 L580.9,792.0 L582.8,793.1 L584.6,793.1 L586.5,793.4 L588.4,794.3 L590.3,792.5 L592.1,793.9 L594.0,793.1 L595.9,792.1 L597.7,794.5 L599.6,793.7 L601.5,793.5 L603.4,794.1 L605.2,794.1 L607.1,794.6 L609.0,795.8 L610.9,793.9 L612.7,792.0 L614.6,794.9 L616.5,793.7 L618.4,794.0 L620.2,794.9 L622.1,794.6 L624.0,793.6 L625.9,794.5 L627.7,794.6 L629.6,793.8 L631.5,795.0 L633.4,795.8 L635.2,795.0 L637.1,795.3 L639.0,795.0 L640.9,792.6 L642.7,795.8 L644.6,795.8 L646.5,794.3 L648.3,794.1 L650.2,795.8 L652.1,795.5 L654.0,796.2 L655.8,794.5 L657.7,795.5 L659.6,795.2 L661.5,796.4 L663.3,795.4 L665.2,795.8 L667.1,795.5 L669.0,795.5 L670.8,797.7 L672.7,797.2 L674.6,794.1 L676.5,795.9 L678.3,795.2 L680.2,796.0 L682.1,796.2 L684.0,795.5 L685.8,796.4 L687.7,796.1 L689.6,795.7 L691.4,797.2 L693.3,795.4 L695.2,797.2 L697.1,798.3 L698.9,797.7 L700.8,796.7 L702.7,794.8 L704.6,797.0 L706.4,796.8 L708.3,797.4 L710.2,796.1 L712.1,796.1 L713.9,796.0 L715.8,796.5 L717.7,798.2 L719.6,796.9 L721.4,797.8 L723.3,797.0 L725.2,797.7 L727.1,797.8 L728.9,796.9 L730.8,797.5 L732.7,796.8 L734.5,796.7 L736.4,798.4 L738.3,796.7 L740.2,794.9 L742.0,796.5 L743.9,798.1 L745.8,796.4 L747.7,796.3 L749.5,797.5 L751.4,798.3 L753.3,798.5 L755.2,797.8 L757.0,798.1 L758.9,798.1 L760.8,797.5 L762.7,796.8 L764.5,797.7 L766.4,798.5 L768.3,797.8 L770.2,799.2 L772.0,799.4 L773.9,798.0 L775.8,798.0 L777.6,797.7 L779.5,799.2 L781.4,797.8 L783.3,799.6 L785.1,798.2 L787.0,799.7 L788.9,798.0 L790.8,798.1 L792.6,798.8 L794.5,797.7 L796.4,797.4 L798.3,797.2 L800.1,797.8 L802.0,797.4 L803.9,799.5 L805.8,796.9 L807.6,798.0 L809.5,799.3 L811.4,798.4 L813.3,799.2 L815.1,798.0 L817.0,798.1 L818.9,798.3 L820.8,799.6 L822.6,798.8 L824.5,797.1 L826.4,797.6 L828.2,799.1 L830.1,799.9 L832.0,798.9 L833.9,797.9 L835.7,798.4 L837.6,797.6 L839.5,798.1 L841.4,799.8 L843.2,798.5 L845.1,800.1 L847.0,798.7 L848.9,798.3 L850.7,798.1 L852.6,798.2 L854.5,798.2 L856.4,798.4 L858.2,798.3 L860.1,800.1 L862.0,798.5 L863.9,798.9 L865.7,798.9 L867.6,797.5 L869.5,798.3 L871.3,799.3 L873.2,798.2 L875.1,800.3 L877.0,798.6 L878.8,800.5 L880.7,798.1 L882.6,797.3 L884.5,799.0 L886.3,799.7 L888.2,800.7 L890.1,798.5 L892.0,799.4 L893.8,799.2 L895.7,798.6 L897.6,800.0 L899.5,798.7 L901.3,797.4 L903.2,799.7 L905.1,799.3 L907.0,798.6 L908.8,798.8 L910.7,800.0 L912.6,799.7 L914.4,800.4 L916.3,798.9 L918.2,801.4 L920.1,799.5 L921.9,800.6 L923.8,800.3 L925.7,801.1 L927.6,799.4 L929.4,798.3 L931.3,798.3 L933.2,800.7 L935.1,798.6 L936.9,798.8 L938.8,799.0 L940.7,798.6 L942.6,798.8 L944.4,802.2 L946.3,798.4 L948.2,799.0 L950.1,800.1 L951.9,800.8 L953.8,800.0 L955.7,799.0 L957.5,798.7 L959.4,799.9 L961.3,799.1 L963.2,799.6 L965.0,798.7 L966.9,800.5 L968.8,798.5 L970.7,798.0 L972.5,797.7 L974.4,798.1 L976.3,798.2 L976.8,799.4" fill="none" stroke="#de7a44" stroke-width="3.9" stroke-linejoin="round" stroke-linecap="round"/>
<path d="M125.0,798.7 L125.5,798.1 L127.4,798.1 L129.3,798.1 L131.1,797.1 L133.0,797.8 L134.9,797.7 L136.8,797.9 L138.6,798.6 L140.5,797.8 L142.4,797.4 L144.3,797.8 L146.1,798.3 L148.0,798.8 L149.9,796.7 L151.7,798.5 L153.6,798.5 L155.5,798.9 L157.4,797.7 L159.2,797.8 L161.1,798.4 L163.0,798.0 L164.9,797.8 L166.7,798.2 L168.6,798.6 L170.5,798.1 L172.4,797.7 L174.2,798.6 L176.1,798.3 L178.0,797.5 L179.9,797.1 L181.7,797.3 L183.6,797.7 L185.5,797.0 L187.4,798.2 L189.2,797.9 L191.1,798.0 L193.0,797.2 L194.8,798.4 L196.7,798.2 L198.6,796.7 L200.5,798.2 L202.3,799.1 L204.2,797.3 L206.1,797.2 L208.0,798.5 L209.8,798.5 L211.7,798.3 L213.6,797.8 L215.5,797.0 L217.3,797.1 L219.2,798.8 L221.1,796.8 L223.0,798.4 L224.8,797.6 L226.7,797.8 L228.6,798.1 L230.5,798.6 L232.3,796.3 L234.2,797.8 L236.1,796.8 L237.9,798.3 L239.8,797.3 L241.7,798.1 L243.6,797.5 L245.4,797.0 L247.3,798.3 L249.2,797.8 L251.1,797.4 L252.9,797.0 L254.8,797.0 L256.7,798.1 L258.6,798.4 L260.4,797.9 L262.3,797.1 L264.2,797.0 L266.1,798.6 L267.9,799.0 L269.8,798.1 L271.7,797.5 L273.6,796.8 L275.4,798.2 L277.3,797.8 L279.2,796.9 L281.0,798.2 L282.9,797.1 L284.8,796.5 L286.7,796.9 L288.5,796.4 L290.4,797.8 L292.3,798.6 L294.2,796.4 L296.0,797.0 L297.9,796.6 L299.8,797.4 L301.7,798.3 L303.5,797.9 L305.4,797.8 L307.3,798.0 L309.2,797.4 L311.0,797.3 L312.9,797.9 L314.8,798.7 L316.7,799.2 L318.5,797.6 L320.4,797.6 L322.3,798.0 L324.2,796.4 L326.0,798.0 L327.9,797.0 L329.8,797.1 L331.6,797.9 L333.5,796.5 L335.4,797.1 L337.3,797.2 L339.1,798.3 L341.0,797.9 L342.9,798.2 L344.8,797.5 L346.6,797.4 L348.5,796.8 L350.4,798.5 L352.3,797.2 L354.1,797.2 L356.0,796.8 L357.9,799.1 L359.8,796.9 L361.6,798.3 L363.5,797.4 L365.4,797.7 L367.3,797.9 L369.1,796.6 L371.0,796.7 L372.9,796.4 L374.7,797.1 L376.6,798.2 L378.5,796.7 L380.4,796.9 L382.2,796.1 L384.1,797.0 L386.0,797.6 L387.9,796.9 L389.7,797.8 L391.6,797.3 L393.5,797.2 L395.4,796.8 L397.2,797.1 L399.1,797.5 L401.0,796.7 L402.9,796.3 L404.7,796.4 L406.6,796.4 L408.5,796.9 L410.4,796.3 L412.2,797.3 L414.1,798.1 L416.0,797.2 L417.8,796.1 L419.7,798.1 L421.6,798.6 L423.5,795.9 L425.3,797.9 L427.2,796.5 L429.1,797.5 L431.0,796.3 L432.8,797.8 L434.7,797.6 L436.6,796.7 L438.5,797.0 L440.3,796.4 L442.2,795.7 L444.1,797.1 L446.0,796.8 L447.8,796.9 L449.7,797.1 L451.6,796.2 L453.5,797.0 L455.3,796.4 L457.2,795.6 L459.1,797.5 L460.9,796.8 L462.8,796.7 L464.7,796.8 L466.6,795.7 L468.4,796.1 L470.3,796.3 L472.2,796.8 L474.1,795.0 L475.9,798.3 L477.8,797.7 L479.7,796.5 L481.6,795.5 L483.4,796.7 L485.3,796.1 L487.2,797.2 L489.1,796.3 L490.9,796.6 L492.8,796.0 L494.7,796.6 L496.6,796.8 L498.4,796.5 L500.3,797.6 L502.2,796.3 L504.1,795.7 L505.9,796.7 L507.8,795.3 L509.7,795.8 L511.5,796.9 L513.4,795.5 L515.3,796.6 L517.2,795.3 L519.0,797.0 L520.9,796.5 L522.8,797.7 L524.7,796.4 L526.5,796.8 L528.4,796.7 L530.3,795.3 L532.2,795.3 L534.0,795.0 L535.9,796.1 L537.8,795.3 L539.7,797.3 L541.5,796.8 L543.4,795.9 L545.3,796.1 L547.2,796.2 L549.0,794.9 L550.9,795.8 L552.8,795.9 L554.6,794.8 L556.5,795.9 L558.4,796.2 L560.3,795.1 L562.1,795.6 L564.0,796.9 L565.9,795.8 L567.8,795.2 L569.6,797.1 L571.5,796.5 L573.4,795.9 L575.3,796.9 L577.1,796.7 L579.0,795.3 L580.9,794.9 L582.8,796.4 L584.6,796.6 L586.5,796.5 L588.4,797.5 L590.3,796.2 L592.1,795.9 L594.0,795.7 L595.9,794.8 L597.7,796.9 L599.6,795.5 L601.5,796.2 L603.4,796.6 L605.2,795.8 L607.1,796.5 L609.0,796.9 L610.9,795.9 L612.7,796.9 L614.6,796.2 L616.5,795.9 L618.4,796.3 L620.2,797.3 L622.1,796.0 L624.0,795.8 L625.9,797.2 L627.7,797.3 L629.6,798.3 L631.5,796.9 L633.4,797.7 L635.2,796.6 L637.1,796.5 L639.0,795.9 L640.9,797.0 L642.7,797.2 L644.6,796.4 L646.5,797.1 L648.3,796.6 L650.2,796.4 L652.1,797.6 L654.0,795.8 L655.8,796.9 L657.7,796.0 L659.6,796.1 L661.5,797.4 L663.3,798.1 L665.2,796.3 L667.1,796.1 L669.0,797.2 L670.8,797.0 L672.7,797.3 L674.6,796.7 L676.5,798.1 L678.3,797.2 L680.2,796.4 L682.1,796.6 L684.0,797.9 L685.8,796.0 L687.7,797.8 L689.6,797.0 L691.4,797.8 L693.3,797.1 L695.2,797.2 L697.1,796.9 L698.9,796.3 L700.8,798.0 L702.7,797.6 L704.6,797.0 L706.4,798.2 L708.3,797.0 L710.2,797.2 L712.1,797.3 L713.9,796.8 L715.8,796.5 L717.7,797.3 L719.6,797.7 L721.4,797.0 L723.3,798.4 L725.2,797.1 L727.1,796.8 L728.9,796.7 L730.8,795.9 L732.7,798.4 L734.5,797.4 L736.4,798.8 L738.3,797.8 L740.2,798.4 L742.0,797.0 L743.9,797.0 L745.8,798.5 L747.7,797.3 L749.5,797.2 L751.4,796.7 L753.3,798.4 L755.2,796.9 L757.0,797.6 L758.9,797.7 L760.8,797.1 L762.7,797.2 L764.5,797.4 L766.4,796.9 L768.3,796.4 L770.2,796.1 L772.0,797.2 L773.9,797.0 L775.8,798.8 L777.6,796.9 L779.5,799.0 L781.4,797.5 L783.3,796.9 L785.1,798.2 L787.0,797.6 L788.9,798.3 L790.8,796.6 L792.6,797.7 L794.5,796.7 L796.4,797.9 L798.3,797.3 L800.1,798.4 L802.0,798.6 L803.9,796.4 L805.8,796.1 L807.6,797.8 L809.5,797.9 L811.4,797.8 L813.3,797.4 L815.1,798.1 L817.0,797.0 L818.9,797.5 L820.8,797.2 L822.6,797.8 L824.5,796.7 L826.4,798.2 L828.2,798.6 L830.1,797.7 L832.0,797.4 L833.9,797.3 L835.7,797.9 L837.6,798.2 L839.5,798.0 L841.4,795.5 L843.2,798.8 L845.1,797.9 L847.0,797.6 L848.9,797.7 L850.7,797.2 L852.6,797.2 L854.5,797.5 L856.4,799.2 L858.2,799.3 L860.1,798.3 L862.0,797.8 L863.9,797.5 L865.7,798.0 L867.6,798.6 L869.5,797.3 L871.3,798.2 L873.2,797.3 L875.1,797.8 L877.0,798.4 L878.8,796.6 L880.7,798.0 L882.6,798.1 L884.5,799.0 L886.3,798.8 L888.2,798.9 L890.1,798.1 L892.0,798.6 L893.8,797.4 L895.7,798.0 L897.6,799.0 L899.5,797.9 L901.3,798.8 L903.2,796.7 L905.1,797.2 L907.0,798.2 L908.8,799.3 L910.7,798.0 L912.6,797.9 L914.4,797.6 L916.3,798.5 L918.2,798.6 L920.1,797.2 L921.9,798.0 L923.8,798.3 L925.7,797.8 L927.6,798.3 L929.4,797.2 L931.3,798.2 L933.2,798.0 L935.1,798.4 L936.9,797.6 L938.8,798.1 L940.7,797.9 L942.6,798.8 L944.4,799.0 L946.3,797.3 L948.2,797.4 L950.1,798.2 L951.9,798.6 L953.8,798.3 L955.7,798.0 L957.5,797.8 L959.4,798.2 L961.3,798.2 L963.2,796.8 L965.0,798.2 L966.9,798.5 L968.8,797.3 L970.7,797.0 L972.5,799.2 L974.4,799.3 L976.3,796.8 L976.8,797.0" fill="none" stroke="#dd4d47" stroke-width="3.9" stroke-linejoin="round" stroke-linecap="round"/>
<path d="M125.0,794.3 L125.5,795.3 L127.4,796.0 L129.3,794.5 L131.1,794.3 L133.0,794.6 L134.9,796.9 L136.8,796.1 L138.6,794.5 L140.5,793.9 L142.4,796.1 L144.3,794.3 L146.1,794.2 L148.0,795.0 L149.9,796.0 L151.7,795.4 L153.6,795.2 L155.5,794.5 L157.4,794.3 L159.2,795.7 L161.1,795.0 L163.0,795.0 L164.9,795.1 L166.7,794.3 L168.6,795.1 L170.5,795.0 L172.4,796.0 L174.2,794.8 L176.1,795.6 L178.0,793.6 L179.9,794.8 L181.7,794.8 L183.6,794.9 L185.5,795.8 L187.4,795.2 L189.2,794.8 L191.1,794.2 L193.0,794.7 L194.8,795.9 L196.7,795.1 L198.6,795.0 L200.5,796.1 L202.3,794.5 L204.2,794.3 L206.1,795.6 L208.0,793.3 L209.8,794.6 L211.7,795.3 L213.6,793.5 L215.5,795.3 L217.3,794.8 L219.2,796.2 L221.1,795.7 L223.0,793.6 L224.8,795.6 L226.7,795.5 L228.6,795.0 L230.5,795.4 L232.3,795.7 L234.2,795.6 L236.1,794.9 L237.9,793.7 L239.8,794.3 L241.7,793.2 L243.6,795.4 L245.4,794.7 L247.3,794.6 L249.2,794.4 L251.1,794.3 L252.9,796.0 L254.8,793.7 L256.7,794.8 L258.6,795.1 L260.4,794.6 L262.3,795.2 L264.2,795.7 L266.1,795.0 L267.9,796.2 L269.8,795.6 L271.7,794.2 L273.6,794.4 L275.4,795.6 L277.3,796.4 L279.2,794.6 L281.0,794.4 L282.9,794.7 L284.8,795.4 L286.7,794.6 L288.5,794.9 L290.4,794.5 L292.3,794.3 L294.2,794.7 L296.0,794.8 L297.9,794.3 L299.8,794.5 L301.7,795.3 L303.5,794.7 L305.4,794.1 L307.3,794.2 L309.2,794.8 L311.0,794.7 L312.9,795.4 L314.8,794.4 L316.7,793.8 L318.5,794.3 L320.4,794.9 L322.3,794.1 L324.2,794.6 L326.0,794.1 L327.9,795.4 L329.8,794.8 L331.6,794.0 L333.5,793.7 L335.4,795.1 L337.3,794.9 L339.1,793.1 L341.0,794.2 L342.9,794.6 L344.8,794.1 L346.6,794.9 L348.5,795.7 L350.4,794.4 L352.3,794.7 L354.1,794.9 L356.0,794.4 L357.9,795.0 L359.8,794.7 L361.6,795.7 L363.5,793.5 L365.4,793.3 L367.3,795.2 L369.1,795.5 L371.0,794.0 L372.9,793.7 L374.7,794.6 L376.6,795.1 L378.5,792.9 L380.4,794.8 L382.2,794.0 L384.1,794.0 L386.0,794.0 L387.9,793.3 L389.7,793.2 L391.6,795.3 L393.5,794.3 L395.4,793.4 L397.2,794.0 L399.1,794.6 L401.0,793.6 L402.9,794.5 L404.7,794.3 L406.6,793.5 L408.5,793.7 L410.4,792.7 L412.2,793.6 L414.1,794.0 L416.0,793.3 L417.8,794.1 L419.7,794.0 L421.6,793.9 L423.5,794.3 L425.3,793.8 L427.2,793.8 L429.1,793.8 L431.0,794.6 L432.8,793.5 L434.7,793.8 L436.6,794.0 L438.5,794.0 L440.3,794.3 L442.2,794.3 L444.1,792.4 L446.0,793.7 L447.8,793.2 L449.7,793.3 L451.6,794.3 L453.5,793.8 L455.3,794.1 L457.2,793.3 L459.1,793.4 L460.9,794.4 L462.8,792.9 L464.7,793.0 L466.6,794.6 L468.4,793.3 L470.3,793.4 L472.2,794.8 L474.1,794.4 L475.9,793.1 L477.8,794.4 L479.7,794.9 L481.6,793.4 L483.4,794.9 L485.3,793.6 L487.2,793.3 L489.1,793.4 L490.9,792.9 L492.8,793.4 L494.7,793.5 L496.6,794.1 L498.4,792.4 L500.3,794.1 L502.2,793.0 L504.1,793.3 L505.9,793.5 L507.8,794.1 L509.7,794.4 L511.5,793.2 L513.4,792.6 L515.3,793.0 L517.2,793.9 L519.0,792.3 L520.9,794.9 L522.8,793.1 L524.7,792.3 L526.5,792.2 L528.4,793.0 L530.3,792.0 L532.2,791.6 L534.0,793.0 L535.9,792.0 L537.8,792.7 L539.7,792.0 L541.5,793.6 L543.4,792.2 L545.3,791.8 L547.2,791.8 L549.0,792.6 L550.9,792.6 L552.8,792.4 L554.6,794.4 L556.5,792.6 L558.4,792.6 L560.3,792.2 L562.1,793.2 L564.0,792.3 L565.9,793.0 L567.8,793.7 L569.6,792.7 L571.5,791.2 L573.4,792.6 L575.3,792.6 L577.1,791.7 L579.0,792.2 L580.9,792.2 L582.8,794.1 L584.6,793.6 L586.5,791.4 L588.4,792.9 L590.3,793.7 L592.1,792.2 L594.0,792.9 L595.9,794.6 L597.7,793.7 L599.6,794.1 L601.5,794.1 L603.4,793.8 L605.2,794.3 L607.1,793.6 L609.0,793.1 L610.9,793.5 L612.7,793.5 L614.6,792.7 L616.5,793.6 L618.4,793.3 L620.2,794.1 L622.1,794.3 L624.0,793.1 L625.9,794.2 L627.7,793.4 L629.6,792.9 L631.5,793.9 L633.4,792.0 L635.2,792.7 L637.1,794.2 L639.0,792.1 L640.9,793.3 L642.7,792.9 L644.6,794.0 L646.5,793.4 L648.3,793.9 L650.2,793.5 L652.1,794.2 L654.0,794.1 L655.8,794.3 L657.7,795.4 L659.6,794.5 L661.5,793.6 L663.3,794.8 L665.2,794.6 L667.1,792.9 L669.0,795.2 L670.8,794.1 L672.7,793.6 L674.6,793.5 L676.5,793.7 L678.3,793.8 L680.2,794.0 L682.1,794.8 L684.0,795.6 L685.8,792.8 L687.7,794.4 L689.6,794.0 L691.4,794.8 L693.3,794.1 L695.2,795.1 L697.1,794.7 L698.9,794.0 L700.8,792.8 L702.7,793.8 L704.6,792.7 L706.4,794.0 L708.3,794.0 L710.2,793.1 L712.1,794.2 L713.9,795.3 L715.8,793.9 L717.7,794.0 L719.6,794.1 L721.4,793.9 L723.3,794.5 L725.2,794.4 L727.1,795.2 L728.9,793.8 L730.8,794.8 L732.7,793.4 L734.5,794.3 L736.4,795.0 L738.3,793.9 L740.2,794.1 L742.0,794.1 L743.9,794.4 L745.8,794.8 L747.7,793.3 L749.5,795.6 L751.4,795.2 L753.3,793.5 L755.2,793.2 L757.0,795.9 L758.9,793.2 L760.8,794.0 L762.7,796.0 L764.5,795.0 L766.4,795.3 L768.3,794.5 L770.2,794.7 L772.0,793.6 L773.9,794.4 L775.8,793.9 L777.6,793.8 L779.5,795.4 L781.4,794.7 L783.3,794.2 L785.1,794.4 L787.0,795.1 L788.9,794.2 L790.8,795.5 L792.6,795.1 L794.5,794.2 L796.4,794.1 L798.3,795.4 L800.1,794.5 L802.0,794.2 L803.9,794.0 L805.8,794.2 L807.6,794.5 L809.5,795.4 L811.4,795.9 L813.3,795.3 L815.1,795.2 L817.0,795.0 L818.9,794.5 L820.8,794.3 L822.6,793.2 L824.5,796.0 L826.4,795.4 L828.2,796.0 L830.1,795.6 L832.0,795.8 L833.9,795.4 L835.7,795.4 L837.6,795.7 L839.5,795.3 L841.4,794.3 L843.2,794.3 L845.1,794.9 L847.0,794.2 L848.9,796.4 L850.7,795.6 L852.6,794.3 L854.5,795.1 L856.4,795.3 L858.2,795.1 L860.1,795.2 L862.0,794.3 L863.9,793.8 L865.7,795.8 L867.6,795.7 L869.5,795.3 L871.3,794.7 L873.2,794.3 L875.1,794.9 L877.0,794.6 L878.8,795.1 L880.7,794.6 L882.6,796.4 L884.5,794.3 L886.3,794.8 L888.2,795.7 L890.1,794.9 L892.0,795.8 L893.8,794.1 L895.7,794.1 L897.6,794.8 L899.5,796.2 L901.3,796.4 L903.2,794.8 L905.1,795.7 L907.0,793.4 L908.8,796.0 L910.7,796.1 L912.6,794.2 L914.4,793.4 L916.3,796.1 L918.2,794.3 L920.1,794.6 L921.9,795.2 L923.8,796.0 L925.7,795.5 L927.6,795.3 L929.4,794.5 L931.3,794.5 L933.2,795.2 L935.1,796.5 L936.9,795.5 L938.8,795.4 L940.7,795.8 L942.6,794.7 L944.4,794.0 L946.3,794.5 L948.2,795.3 L950.1,796.2 L951.9,794.6 L953.8,794.1 L955.7,794.8 L957.5,794.9 L959.4,794.8 L961.3,795.1 L963.2,795.8 L965.0,793.7 L966.9,794.2 L968.8,794.0 L970.7,795.0 L972.5,794.5 L974.4,796.5 L976.3,795.1 L976.8,795.1" fill="none" stroke="#dc4a47" stroke-width="3.9" stroke-linejoin="round" stroke-linecap="round"/>
<path d="M125.0,797.5 L125.5,798.4 L127.4,798.3 L129.3,797.9 L131.1,798.2 L133.0,797.4 L134.9,799.3 L136.8,797.9 L138.6,798.5 L140.5,797.6 L142.4,797.6 L144.3,797.9 L146.1,798.9 L148.0,798.9 L149.9,798.4 L151.7,798.9 L153.6,799.9 L155.5,799.5 L157.4,798.3 L159.2,799.3 L161.1,798.8 L163.0,798.5 L164.9,799.5 L166.7,798.8 L168.6,797.6 L170.5,797.6 L172.4,798.2 L174.2,798.2 L176.1,798.7 L178.0,798.5 L179.9,798.0 L181.7,799.6 L183.6,798.9 L185.5,798.8 L187.4,798.0 L189.2,799.3 L191.1,797.2 L193.0,799.1 L194.8,797.1 L196.7,798.6 L198.6,798.5 L200.5,797.4 L202.3,799.8 L204.2,798.1 L206.1,797.3 L208.0,799.2 L209.8,798.0 L211.7,799.0 L213.6,797.9 L215.5,798.8 L217.3,797.8 L219.2,798.9 L221.1,798.9 L223.0,798.8 L224.8,799.3 L226.7,797.5 L228.6,798.1 L230.5,797.7 L232.3,797.8 L234.2,797.6 L236.1,799.4 L237.9,798.3 L239.8,798.7 L241.7,798.6 L243.6,798.6 L245.4,799.7 L247.3,799.6 L249.2,800.2 L251.1,797.8 L252.9,798.7 L254.8,799.2 L256.7,798.6 L258.6,799.2 L260.4,799.3 L262.3,798.9 L264.2,798.9 L266.1,799.3 L267.9,799.5 L269.8,798.6 L271.7,796.8 L273.6,798.8 L275.4,797.8 L277.3,797.9 L279.2,798.9 L281.0,800.0 L282.9,799.2 L284.8,798.6 L286.7,798.0 L288.5,798.7 L290.4,799.1 L292.3,797.4 L294.2,798.6 L296.0,798.8 L297.9,798.4 L299.8,800.1 L301.7,798.1 L303.5,800.2 L305.4,799.2 L307.3,800.2 L309.2,799.5 L311.0,798.2 L312.9,797.6 L314.8,798.1 L316.7,798.3 L318.5,800.1 L320.4,797.1 L322.3,798.8 L324.2,798.1 L326.0,798.1 L327.9,798.2 L329.8,799.6 L331.6,798.8 L333.5,798.3 L335.4,799.5 L337.3,798.6 L339.1,799.1 L341.0,800.2 L342.9,798.7 L344.8,798.9 L346.6,797.7 L348.5,798.9 L350.4,798.0 L352.3,798.6 L354.1,798.0 L356.0,800.2 L357.9,798.7 L359.8,799.4 L361.6,798.4 L363.5,799.1 L365.4,798.9 L367.3,798.9 L369.1,798.5 L371.0,799.3 L372.9,798.5 L374.7,798.8 L376.6,798.9 L378.5,799.4 L380.4,798.1 L382.2,798.6 L384.1,798.7 L386.0,798.0 L387.9,799.2 L389.7,798.7 L391.6,799.2 L393.5,798.3 L395.4,798.7 L397.2,799.3 L399.1,799.0 L401.0,798.9 L402.9,799.7 L404.7,798.5 L406.6,798.9 L408.5,799.2 L410.4,798.2 L412.2,800.2 L414.1,799.0 L416.0,799.4 L417.8,799.5 L419.7,799.4 L421.6,800.0 L423.5,798.8 L425.3,800.4 L427.2,800.2 L429.1,799.8 L431.0,798.3 L432.8,798.9 L434.7,798.8 L436.6,800.1 L438.5,799.3 L440.3,799.0 L442.2,799.9 L444.1,800.2 L446.0,798.5 L447.8,800.2 L449.7,800.0 L451.6,800.3 L453.5,799.6 L455.3,799.9 L457.2,798.8 L459.1,801.3 L460.9,800.5 L462.8,800.2 L464.7,800.3 L466.6,800.0 L468.4,799.6 L470.3,799.9 L472.2,799.9 L474.1,801.3 L475.9,800.5 L477.8,800.1 L479.7,801.2 L481.6,800.0 L483.4,800.8 L485.3,800.1 L487.2,799.8 L489.1,800.2 L490.9,800.9 L492.8,800.5 L494.7,800.4 L496.6,800.2 L498.4,800.5 L500.3,799.3 L502.2,800.4 L504.1,801.1 L505.9,801.4 L507.8,799.1 L509.7,799.9 L511.5,801.0 L513.4,801.4 L515.3,799.8 L517.2,800.3 L519.0,800.7 L520.9,801.8 L522.8,800.2 L524.7,801.2 L526.5,803.0 L528.4,800.9 L530.3,800.9 L532.2,800.8 L534.0,801.5 L535.9,802.0 L537.8,801.3 L539.7,801.6 L541.5,801.3 L543.4,800.1 L545.3,801.5 L547.2,802.1 L549.0,802.6 L550.9,801.4 L552.8,801.4 L554.6,800.7 L556.5,801.3 L558.4,802.1 L560.3,802.0 L562.1,801.5 L564.0,800.6 L565.9,801.6 L567.8,801.2 L569.6,800.8 L571.5,801.1 L573.4,800.5 L575.3,800.4 L577.1,800.6 L579.0,801.5 L580.9,800.2 L582.8,800.8 L584.6,800.7 L586.5,800.1 L588.4,800.5 L590.3,799.7 L592.1,801.6 L594.0,799.4 L595.9,800.7 L597.7,799.9 L599.6,799.5 L601.5,800.1 L603.4,800.8 L605.2,800.2 L607.1,799.5 L609.0,800.4 L610.9,800.6 L612.7,800.8 L614.6,799.8 L616.5,800.2 L618.4,800.0 L620.2,799.1 L622.1,799.8 L624.0,800.6 L625.9,800.0 L627.7,800.4 L629.6,800.2 L631.5,800.5 L633.4,799.1 L635.2,799.6 L637.1,799.3 L639.0,801.5 L640.9,799.5 L642.7,799.9 L644.6,799.4 L646.5,800.3 L648.3,798.8 L650.2,799.0 L652.1,799.3 L654.0,800.0 L655.8,800.1 L657.7,798.9 L659.6,800.8 L661.5,799.4 L663.3,798.6 L665.2,800.1 L667.1,798.5 L669.0,798.9 L670.8,800.0 L672.7,799.3 L674.6,799.6 L676.5,800.6 L678.3,797.4 L680.2,799.3 L682.1,798.5 L684.0,798.7 L685.8,798.6 L687.7,800.4 L689.6,798.8 L691.4,799.1 L693.3,799.8 L695.2,799.1 L697.1,797.9 L698.9,799.8 L700.8,800.5 L702.7,799.6 L704.6,799.1 L706.4,798.4 L708.3,799.2 L710.2,798.2 L712.1,797.1 L713.9,798.9 L715.8,797.8 L717.7,799.3 L719.6,798.8 L721.4,799.3 L723.3,798.4 L725.2,800.1 L727.1,798.1 L728.9,799.7 L730.8,798.5 L732.7,799.3 L734.5,799.2 L736.4,798.8 L738.3,799.0 L740.2,799.2 L742.0,799.9 L743.9,797.8 L745.8,798.7 L747.7,799.0 L749.5,798.8 L751.4,799.4 L753.3,799.2 L755.2,799.1 L757.0,799.4 L758.9,798.6 L760.8,798.7 L762.7,798.6 L764.5,799.6 L766.4,799.1 L768.3,799.2 L770.2,799.5 L772.0,797.8 L773.9,798.8 L775.8,797.6 L777.6,798.0 L779.5,799.4 L781.4,799.1 L783.3,799.3 L785.1,798.3 L787.0,799.3 L788.9,798.9 L790.8,799.8 L792.6,798.8 L794.5,798.6 L796.4,798.4 L798.3,799.2 L800.1,799.6 L802.0,799.1 L803.9,798.9 L805.8,798.9 L807.6,798.8 L809.5,799.2 L811.4,798.2 L813.3,799.3 L815.1,799.7 L817.0,799.0 L818.9,799.1 L820.8,799.8 L822.6,800.0 L824.5,798.0 L826.4,799.7 L828.2,798.2 L830.1,798.8 L832.0,798.9 L833.9,797.9 L835.7,797.6 L837.6,800.7 L839.5,798.1 L841.4,798.3 L843.2,798.6 L845.1,799.4 L847.0,798.6 L848.9,799.6 L850.7,798.8 L852.6,798.7 L854.5,798.9 L856.4,797.9 L858.2,797.6 L860.1,799.0 L862.0,799.0 L863.9,798.1 L865.7,798.3 L867.6,799.0 L869.5,798.7 L871.3,797.5 L873.2,797.4 L875.1,798.9 L877.0,798.3 L878.8,798.1 L880.7,799.0 L882.6,798.7 L884.5,799.7 L886.3,798.6 L888.2,799.3 L890.1,797.5 L892.0,799.1 L893.8,799.0 L895.7,799.2 L897.6,798.9 L899.5,798.1 L901.3,798.5 L903.2,799.2 L905.1,798.1 L907.0,798.6 L908.8,797.8 L910.7,799.9 L912.6,797.7 L914.4,798.3 L916.3,798.8 L918.2,798.8 L920.1,798.3 L921.9,798.0 L923.8,799.0 L925.7,797.5 L927.6,799.3 L929.4,798.7 L931.3,798.8 L933.2,797.3 L935.1,798.5 L936.9,796.9 L938.8,797.7 L940.7,798.9 L942.6,800.0 L944.4,797.9 L946.3,799.0 L948.2,798.0 L950.1,799.0 L951.9,799.3 L953.8,799.0 L955.7,799.0 L957.5,798.1 L959.4,797.8 L961.3,798.0 L963.2,798.5 L965.0,798.5 L966.9,799.0 L968.8,796.7 L970.7,797.5 L972.5,797.7 L974.4,798.8 L976.3,799.2 L976.8,798.8" fill="none" stroke="#dd4848" stroke-width="3.9" stroke-linejoin="round" stroke-linecap="round"/>
<path d="M125.0,796.4 L125.5,796.2 L127.4,796.3 L129.3,797.1 L131.1,797.3 L133.0,796.2 L134.9,796.1 L136.8,795.1 L138.6,796.9 L140.5,796.1 L142.4,796.3 L144.3,796.6 L146.1,797.4 L148.0,797.5 L149.9,795.0 L151.7,796.8 L153.6,795.0 L155.5,795.9 L157.4,796.9 L159.2,796.1 L161.1,797.5 L163.0,796.8 L164.9,796.4 L166.7,796.2 L168.6,796.8 L170.5,797.2 L172.4,796.6 L174.2,796.4 L176.1,796.7 L178.0,796.5 L179.9,795.7 L181.7,795.5 L183.6,795.5 L185.5,797.0 L187.4,796.7 L189.2,796.0 L191.1,796.1 L193.0,795.3 L194.8,796.4 L196.7,795.7 L198.6,796.8 L200.5,796.9 L202.3,796.7 L204.2,795.6 L206.1,797.8 L208.0,796.9 L209.8,797.3 L211.7,796.6 L213.6,795.9 L215.5,796.1 L217.3,796.1 L219.2,797.4 L221.1,796.2 L223.0,795.4 L224.8,796.2 L226.7,795.5 L228.6,797.3 L230.5,796.3 L232.3,795.7 L234.2,796.6 L236.1,797.4 L237.9,797.5 L239.8,797.2 L241.7,796.6 L243.6,797.3 L245.4,797.0 L247.3,797.4 L249.2,797.0 L251.1,796.7 L252.9,796.8 L254.8,796.6 L256.7,796.2 L258.6,795.8 L260.4,796.4 L262.3,797.7 L264.2,796.1 L266.1,797.0 L267.9,796.1 L269.8,796.7 L271.7,796.0 L273.6,796.3 L275.4,797.2 L277.3,795.7 L279.2,797.0 L281.0,796.7 L282.9,795.9 L284.8,797.1 L286.7,796.4 L288.5,795.7 L290.4,796.2 L292.3,796.2 L294.2,795.5 L296.0,795.8 L297.9,796.5 L299.8,796.8 L301.7,796.9 L303.5,796.7 L305.4,795.4 L307.3,797.2 L309.2,796.1 L311.0,797.2 L312.9,795.7 L314.8,796.0 L316.7,795.3 L318.5,797.2 L320.4,796.3 L322.3,796.1 L324.2,797.5 L326.0,796.8 L327.9,797.1 L329.8,796.1 L331.6,797.2 L333.5,796.9 L335.4,796.6 L337.3,796.4 L339.1,797.1 L341.0,797.4 L342.9,796.9 L344.8,796.3 L346.6,796.2 L348.5,795.9 L350.4,796.9 L352.3,795.5 L354.1,798.1 L356.0,798.4 L357.9,797.0 L359.8,797.0 L361.6,796.7 L363.5,796.5 L365.4,796.4 L367.3,795.8 L369.1,797.1 L371.0,796.5 L372.9,796.7 L374.7,796.8 L376.6,796.9 L378.5,796.0 L380.4,797.8 L382.2,797.0 L384.1,796.2 L386.0,797.4 L387.9,797.2 L389.7,797.4 L391.6,797.4 L393.5,798.4 L395.4,796.3 L397.2,797.5 L399.1,796.7 L401.0,796.9 L402.9,797.3 L404.7,797.2 L406.6,797.4 L408.5,796.4 L410.4,797.6 L412.2,797.1 L414.1,796.4 L416.0,797.8 L417.8,796.5 L419.7,797.9 L421.6,796.7 L423.5,796.2 L425.3,797.4 L427.2,797.7 L429.1,797.5 L431.0,796.3 L432.8,796.3 L434.7,797.1 L436.6,797.3 L438.5,797.3 L440.3,797.0 L442.2,796.8 L444.1,796.9 L446.0,797.6 L447.8,798.0 L449.7,798.5 L451.6,795.8 L453.5,797.2 L455.3,797.3 L457.2,798.0 L459.1,797.3 L460.9,797.3 L462.8,797.4 L464.7,797.4 L466.6,797.2 L468.4,797.4 L470.3,798.0 L472.2,797.3 L474.1,798.4 L475.9,799.3 L477.8,796.5 L479.7,798.3 L481.6,798.2 L483.4,796.5 L485.3,797.5 L487.2,797.8 L489.1,798.2 L490.9,797.4 L492.8,798.7 L494.7,797.6 L496.6,797.5 L498.4,798.3 L500.3,799.9 L502.2,796.8 L504.1,797.8 L505.9,797.5 L507.8,797.1 L509.7,797.7 L511.5,796.5 L513.4,797.5 L515.3,798.4 L517.2,798.1 L519.0,798.8 L520.9,798.1 L522.8,799.6 L524.7,798.4 L526.5,798.6 L528.4,797.9 L530.3,798.2 L532.2,797.8 L534.0,799.8 L535.9,799.1 L537.8,796.8 L539.7,797.4 L541.5,798.4 L543.4,797.5 L545.3,798.2 L547.2,797.7 L549.0,799.0 L550.9,798.5 L552.8,799.1 L554.6,798.6 L556.5,797.7 L558.4,799.1 L560.3,798.5 L562.1,798.3 L564.0,798.0 L565.9,798.0 L567.8,800.0 L569.6,799.4 L571.5,799.3 L573.4,797.8 L575.3,797.1 L577.1,798.3 L579.0,798.2 L580.9,796.9 L582.8,797.7 L584.6,798.3 L586.5,797.1 L588.4,799.2 L590.3,798.6 L592.1,796.3 L594.0,797.3 L595.9,798.6 L597.7,797.7 L599.6,798.2 L601.5,797.5 L603.4,797.8 L605.2,797.6 L607.1,797.9 L609.0,798.3 L610.9,798.1 L612.7,797.5 L614.6,797.5 L616.5,797.9 L618.4,797.8 L620.2,797.4 L622.1,796.8 L624.0,796.5 L625.9,797.6 L627.7,797.4 L629.6,798.7 L631.5,798.0 L633.4,797.0 L635.2,797.0 L637.1,797.4 L639.0,796.9 L640.9,798.1 L642.7,796.0 L644.6,798.5 L646.5,796.3 L648.3,797.2 L650.2,797.8 L652.1,797.5 L654.0,797.5 L655.8,796.4 L657.7,796.3 L659.6,798.1 L661.5,797.0 L663.3,797.7 L665.2,797.2 L667.1,796.6 L669.0,797.6 L670.8,797.7 L672.7,797.4 L674.6,797.1 L676.5,796.7 L678.3,797.3 L680.2,797.7 L682.1,797.7 L684.0,796.8 L685.8,796.0 L687.7,797.0 L689.6,796.1 L691.4,798.3 L693.3,797.3 L695.2,795.7 L697.1,796.8 L698.9,796.3 L700.8,796.5 L702.7,797.1 L704.6,797.0 L706.4,797.0 L708.3,797.4 L710.2,796.4 L712.1,796.0 L713.9,797.4 L715.8,797.0 L717.7,797.7 L719.6,796.8 L721.4,796.4 L723.3,796.4 L725.2,797.3 L727.1,796.1 L728.9,797.5 L730.8,797.4 L732.7,796.2 L734.5,797.0 L736.4,797.1 L738.3,796.5 L740.2,796.3 L742.0,794.7 L743.9,796.3 L745.8,798.0 L747.7,796.5 L749.5,796.9 L751.4,795.8 L753.3,798.1 L755.2,796.0 L757.0,797.9 L758.9,795.5 L760.8,797.0 L762.7,796.6 L764.5,797.3 L766.4,797.8 L768.3,797.0 L770.2,795.0 L772.0,796.8 L773.9,797.1 L775.8,797.2 L777.6,795.3 L779.5,796.0 L781.4,796.7 L783.3,796.6 L785.1,797.4 L787.0,796.3 L788.9,796.5 L790.8,797.2 L792.6,797.1 L794.5,795.7 L796.4,795.9 L798.3,796.6 L800.1,795.7 L802.0,796.4 L803.9,797.3 L805.8,797.0 L807.6,797.0 L809.5,795.9 L811.4,795.9 L813.3,795.8 L815.1,796.8 L817.0,796.1 L818.9,794.6 L820.8,797.4 L822.6,795.7 L824.5,796.9 L826.4,796.3 L828.2,795.6 L830.1,797.4 L832.0,797.7 L833.9,796.8 L835.7,797.1 L837.6,797.4 L839.5,795.3 L841.4,795.9 L843.2,795.7 L845.1,796.3 L847.0,795.8 L848.9,797.4 L850.7,795.2 L852.6,795.7 L854.5,796.5 L856.4,796.4 L858.2,796.7 L860.1,797.8 L862.0,796.5 L863.9,796.1 L865.7,796.2 L867.6,797.1 L869.5,796.4 L871.3,797.3 L873.2,796.2 L875.1,798.1 L877.0,796.6 L878.8,796.4 L880.7,796.7 L882.6,797.3 L884.5,795.8 L886.3,796.7 L888.2,796.1 L890.1,795.8 L892.0,797.0 L893.8,796.4 L895.7,797.2 L897.6,796.6 L899.5,797.7 L901.3,796.7 L903.2,795.2 L905.1,795.6 L907.0,797.2 L908.8,797.2 L910.7,796.5 L912.6,796.1 L914.4,796.7 L916.3,797.4 L918.2,796.0 L920.1,795.8 L921.9,796.5 L923.8,795.7 L925.7,795.1 L927.6,797.0 L929.4,795.8 L931.3,796.5 L933.2,796.6 L935.1,797.3 L936.9,796.0 L938.8,796.6 L940.7,796.8 L942.6,795.3 L944.4,796.5 L946.3,797.3 L948.2,796.4 L950.1,796.1 L951.9,796.4 L953.8,796.5 L955.7,795.8 L957.5,794.4 L959.4,797.4 L961.3,797.6 L963.2,795.4 L965.0,796.5 L966.9,795.7 L968.8,796.7 L970.7,796.2 L972.5,797.9 L974.4,796.3 L976.3,797.4 L976.8,796.7" fill="none" stroke="#dc4547" stroke-width="3.9" stroke-linejoin="round" stroke-linecap="round"/>
<path d="M125.0,793.4 L125.5,793.3 L127.4,793.1 L129.3,792.0 L131.1,793.3 L133.0,793.3 L134.9,792.8 L136.8,791.5 L138.6,793.2 L140.5,793.0 L142.4,792.4 L144.3,792.4 L146.1,792.2 L148.0,792.9 L149.9,793.2 L151.7,793.5 L153.6,792.3 L155.5,792.7 L157.4,792.2 L159.2,792.5 L161.1,791.5 L163.0,792.1 L164.9,792.4 L166.7,792.5 L168.6,792.9 L170.5,792.8 L172.4,792.7 L174.2,791.4 L176.1,792.6 L178.0,792.9 L179.9,792.3 L181.7,792.0 L183.6,793.3 L185.5,794.2 L187.4,792.7 L189.2,791.7 L191.1,793.0 L193.0,792.0 L194.8,792.2 L196.7,792.0 L198.6,792.9 L200.5,792.7 L202.3,791.3 L204.2,792.0 L206.1,794.3 L208.0,791.5 L209.8,791.0 L211.7,792.7 L213.6,791.8 L215.5,793.1 L217.3,792.4 L219.2,792.4 L221.1,792.9 L223.0,791.8 L224.8,792.0 L226.7,792.0 L228.6,791.8 L230.5,794.0 L232.3,792.2 L234.2,793.6 L236.1,792.7 L237.9,792.4 L239.8,793.2 L241.7,792.3 L243.6,793.4 L245.4,792.7 L247.3,791.8 L249.2,793.1 L251.1,792.3 L252.9,793.5 L254.8,792.2 L256.7,793.7 L258.6,793.1 L260.4,793.6 L262.3,792.2 L264.2,793.1 L266.1,792.8 L267.9,792.2 L269.8,791.7 L271.7,791.9 L273.6,792.5 L275.4,791.3 L277.3,791.7 L279.2,792.5 L281.0,790.9 L282.9,793.0 L284.8,792.4 L286.7,791.4 L288.5,791.8 L290.4,792.0 L292.3,792.6 L294.2,793.0 L296.0,792.6 L297.9,791.9 L299.8,792.6 L301.7,793.3 L303.5,792.5 L305.4,790.7 L307.3,791.5 L309.2,790.6 L311.0,792.2 L312.9,792.3 L314.8,792.6 L316.7,790.8 L318.5,792.8 L320.4,792.2 L322.3,791.6 L324.2,793.2 L326.0,792.5 L327.9,792.7 L329.8,792.3 L331.6,791.7 L333.5,792.7 L335.4,791.8 L337.3,792.6 L339.1,792.2 L341.0,792.3 L342.9,792.7 L344.8,793.2 L346.6,792.3 L348.5,792.3 L350.4,790.5 L352.3,791.1 L354.1,791.1 L356.0,792.4 L357.9,791.0 L359.8,791.2 L361.6,791.8 L363.5,790.9 L365.4,791.7 L367.3,791.6 L369.1,792.0 L371.0,792.6 L372.9,791.0 L374.7,792.9 L376.6,791.7 L378.5,792.9 L380.4,791.9 L382.2,792.7 L384.1,791.3 L386.0,792.4 L387.9,792.2 L389.7,792.5 L391.6,792.5 L393.5,792.5 L395.4,791.0 L397.2,791.8 L399.1,792.6 L401.0,790.9 L402.9,791.7 L404.7,791.3 L406.6,791.1 L408.5,792.7 L410.4,792.3 L412.2,791.8 L414.1,790.6 L416.0,791.1 L417.8,793.0 L419.7,793.0 L421.6,790.7 L423.5,791.7 L425.3,791.0 L427.2,790.9 L429.1,793.2 L431.0,791.1 L432.8,791.8 L434.7,791.8 L436.6,790.2 L438.5,791.7 L440.3,792.1 L442.2,792.8 L444.1,790.3 L446.0,791.1 L447.8,792.5 L449.7,791.5 L451.6,791.3 L453.5,793.0 L455.3,791.2 L457.2,792.1 L459.1,790.8 L460.9,792.1 L462.8,791.6 L464.7,793.3 L466.6,792.3 L468.4,792.4 L470.3,790.2 L472.2,791.8 L474.1,791.4 L475.9,792.2 L477.8,792.0 L479.7,791.4 L481.6,789.6 L483.4,792.0 L485.3,790.2 L487.2,790.3 L489.1,791.3 L490.9,790.9 L492.8,790.5 L494.7,792.0 L496.6,791.6 L498.4,791.9 L500.3,791.5 L502.2,790.8 L504.1,789.6 L505.9,790.6 L507.8,790.8 L509.7,792.9 L511.5,790.2 L513.4,791.7 L515.3,790.6 L517.2,790.7 L519.0,790.1 L520.9,791.4 L522.8,790.8 L524.7,791.0 L526.5,791.3 L528.4,790.3 L530.3,791.3 L532.2,791.2 L534.0,790.5 L535.9,790.1 L537.8,793.3 L539.7,790.9 L541.5,791.1 L543.4,788.8 L545.3,793.8 L547.2,790.8 L549.0,790.7 L550.9,791.0 L552.8,789.9 L554.6,790.8 L556.5,790.9 L558.4,792.6 L560.3,790.7 L562.1,790.6 L564.0,789.8 L565.9,790.9 L567.8,789.7 L569.6,789.5 L571.5,791.6 L573.4,790.2 L575.3,792.0 L577.1,792.2 L579.0,790.5 L580.9,790.7 L582.8,791.3 L584.6,791.9 L586.5,792.2 L588.4,791.1 L590.3,791.7 L592.1,790.6 L594.0,790.5 L595.9,792.2 L597.7,791.6 L599.6,791.9 L601.5,791.4 L603.4,791.7 L605.2,792.3 L607.1,792.3 L609.0,792.1 L610.9,791.7 L612.7,793.2 L614.6,791.9 L616.5,790.7 L618.4,791.2 L620.2,792.1 L622.1,792.9 L624.0,790.1 L625.9,791.0 L627.7,790.7 L629.6,791.6 L631.5,791.6 L633.4,792.5 L635.2,792.8 L637.1,791.7 L639.0,791.4 L640.9,791.7 L642.7,792.4 L644.6,792.5 L646.5,791.6 L648.3,791.4 L650.2,792.0 L652.1,792.7 L654.0,791.1 L655.8,791.5 L657.7,793.1 L659.6,792.6 L661.5,790.9 L663.3,791.9 L665.2,792.9 L667.1,791.8 L669.0,791.7 L670.8,791.5 L672.7,792.2 L674.6,792.3 L676.5,792.0 L678.3,791.6 L680.2,791.8 L682.1,791.0 L684.0,793.7 L685.8,792.7 L687.7,791.9 L689.6,791.7 L691.4,790.8 L693.3,791.7 L695.2,792.2 L697.1,793.6 L698.9,792.1 L700.8,792.2 L702.7,791.2 L704.6,792.2 L706.4,792.2 L708.3,792.8 L710.2,792.7 L712.1,791.9 L713.9,792.4 L715.8,792.8 L717.7,792.7 L719.6,792.1 L721.4,792.1 L723.3,791.5 L725.2,793.1 L727.1,791.7 L728.9,791.2 L730.8,792.6 L732.7,792.5 L734.5,791.4 L736.4,794.1 L738.3,792.3 L740.2,792.8 L742.0,790.7 L743.9,791.1 L745.8,791.4 L747.7,791.6 L749.5,791.6 L751.4,791.3 L753.3,791.8 L755.2,791.7 L757.0,792.6 L758.9,793.2 L760.8,793.3 L762.7,791.9 L764.5,792.1 L766.4,791.6 L768.3,793.4 L770.2,791.4 L772.0,792.6 L773.9,793.3 L775.8,791.5 L777.6,792.5 L779.5,793.1 L781.4,791.9 L783.3,791.9 L785.1,792.7 L787.0,792.0 L788.9,791.5 L790.8,792.6 L792.6,791.6 L794.5,792.6 L796.4,793.3 L798.3,792.4 L800.1,791.9 L802.0,792.1 L803.9,792.5 L805.8,791.7 L807.6,793.3 L809.5,792.7 L811.4,792.3 L813.3,792.3 L815.1,792.2 L817.0,792.2 L818.9,790.5 L820.8,793.6 L822.6,792.4 L824.5,790.7 L826.4,792.5 L828.2,792.4 L830.1,791.7 L832.0,792.4 L833.9,791.9 L835.7,792.9 L837.6,792.3 L839.5,791.8 L841.4,791.8 L843.2,792.2 L845.1,792.7 L847.0,792.2 L848.9,794.3 L850.7,792.9 L852.6,792.7 L854.5,792.5 L856.4,791.4 L858.2,792.6 L860.1,792.4 L862.0,790.5 L863.9,791.8 L865.7,792.5 L867.6,792.7 L869.5,792.9 L871.3,792.8 L873.2,792.2 L875.1,791.6 L877.0,793.1 L878.8,792.6 L880.7,791.5 L882.6,793.4 L884.5,792.7 L886.3,791.8 L888.2,793.1 L890.1,794.0 L892.0,792.0 L893.8,792.7 L895.7,791.2 L897.6,792.6 L899.5,791.9 L901.3,792.5 L903.2,791.5 L905.1,793.0 L907.0,791.7 L908.8,792.8 L910.7,792.8 L912.6,791.4 L914.4,792.9 L916.3,791.5 L918.2,793.4 L920.1,791.7 L921.9,791.3 L923.8,791.3 L925.7,792.8 L927.6,792.3 L929.4,794.3 L931.3,791.5 L933.2,794.0 L935.1,792.2 L936.9,792.5 L938.8,792.9 L940.7,792.1 L942.6,793.4 L944.4,791.4 L946.3,790.9 L948.2,792.0 L950.1,792.4 L951.9,793.1 L953.8,792.2 L955.7,792.4 L957.5,793.4 L959.4,792.0 L961.3,793.0 L963.2,792.7 L965.0,793.3 L966.9,791.8 L968.8,793.4 L970.7,793.3 L972.5,793.5 L974.4,791.5 L976.3,792.6 L976.8,792.6" fill="none" stroke="#de4a48" stroke-width="3.9" stroke-linejoin="round" stroke-linecap="round"/>
<path d="M125.0,790.1 L125.5,788.7 L127.4,789.0 L129.3,788.5 L131.1,790.2 L133.0,787.9 L134.9,788.9 L136.8,790.0 L138.6,790.2 L140.5,790.2 L142.4,789.6 L144.3,787.9 L146.1,788.2 L148.0,789.5 L149.9,789.5 L151.7,787.2 L153.6,788.2 L155.5,789.7 L157.4,789.1 L159.2,789.4 L161.1,788.8 L163.0,788.2 L164.9,789.2 L166.7,788.6 L168.6,788.5 L170.5,788.3 L172.4,789.6 L174.2,789.2 L176.1,787.2 L178.0,789.2 L179.9,789.0 L181.7,788.6 L183.6,789.5 L185.5,789.4 L187.4,787.5 L189.2,787.8 L191.1,790.0 L193.0,789.0 L194.8,790.2 L196.7,790.4 L198.6,789.0 L200.5,787.6 L202.3,789.1 L204.2,787.7 L206.1,790.0 L208.0,788.9 L209.8,789.0 L211.7,789.0 L213.6,788.1 L215.5,788.5 L217.3,789.5 L219.2,790.3 L221.1,789.6 L223.0,789.1 L224.8,789.6 L226.7,790.4 L228.6,790.7 L230.5,788.3 L232.3,788.8 L234.2,789.6 L236.1,788.7 L237.9,788.6 L239.8,789.3 L241.7,789.5 L243.6,788.0 L245.4,788.3 L247.3,787.8 L249.2,788.2 L251.1,788.9 L252.9,789.5 L254.8,789.4 L256.7,789.6 L258.6,789.0 L260.4,788.9 L262.3,788.1 L264.2,787.9 L266.1,789.1 L267.9,788.8 L269.8,790.2 L271.7,789.7 L273.6,790.1 L275.4,789.0 L277.3,789.6 L279.2,789.9 L281.0,789.2 L282.9,790.9 L284.8,789.2 L286.7,788.7 L288.5,788.0 L290.4,790.2 L292.3,789.6 L294.2,791.1 L296.0,788.0 L297.9,789.4 L299.8,789.0 L301.7,790.6 L303.5,789.4 L305.4,789.8 L307.3,790.3 L309.2,790.3 L311.0,790.1 L312.9,790.1 L314.8,790.9 L316.7,788.1 L318.5,789.3 L320.4,789.2 L322.3,789.2 L324.2,789.6 L326.0,789.4 L327.9,788.9 L329.8,789.6 L331.6,788.2 L333.5,789.6 L335.4,788.4 L337.3,790.2 L339.1,789.2 L341.0,788.8 L342.9,788.2 L344.8,788.2 L346.6,790.3 L348.5,790.0 L350.4,788.0 L352.3,789.8 L354.1,790.8 L356.0,788.5 L357.9,788.9 L359.8,790.6 L361.6,790.0 L363.5,788.3 L365.4,789.9 L367.3,790.0 L369.1,789.9 L371.0,788.3 L372.9,791.0 L374.7,789.2 L376.6,789.5 L378.5,789.2 L380.4,789.0 L382.2,789.6 L384.1,789.1 L386.0,789.3 L387.9,788.4 L389.7,791.7 L391.6,789.8 L393.5,789.6 L395.4,790.8 L397.2,788.4 L399.1,789.2 L401.0,791.1 L402.9,789.9 L404.7,789.0 L406.6,789.5 L408.5,790.3 L410.4,789.1 L412.2,789.4 L414.1,790.4 L416.0,789.8 L417.8,788.5 L419.7,788.6 L421.6,790.5 L423.5,790.2 L425.3,788.4 L427.2,789.2 L429.1,789.6 L431.0,790.0 L432.8,789.5 L434.7,788.9 L436.6,791.8 L438.5,789.0 L440.3,790.5 L442.2,790.9 L444.1,790.3 L446.0,790.7 L447.8,790.7 L449.7,789.7 L451.6,790.2 L453.5,788.9 L455.3,791.2 L457.2,789.1 L459.1,790.9 L460.9,789.7 L462.8,790.2 L464.7,789.0 L466.6,791.0 L468.4,789.8 L470.3,788.5 L472.2,788.8 L474.1,790.2 L475.9,789.3 L477.8,789.0 L479.7,789.5 L481.6,788.9 L483.4,789.1 L485.3,792.0 L487.2,789.4 L489.1,786.8 L490.9,790.3 L492.8,790.3 L494.7,790.0 L496.6,790.8 L498.4,790.4 L500.3,790.2 L502.2,788.3 L504.1,790.3 L505.9,789.6 L507.8,790.3 L509.7,791.0 L511.5,790.8 L513.4,791.2 L515.3,789.0 L517.2,790.4 L519.0,791.5 L520.9,790.3 L522.8,788.4 L524.7,790.0 L526.5,790.3 L528.4,790.1 L530.3,790.7 L532.2,791.3 L534.0,789.2 L535.9,793.4 L537.8,790.9 L539.7,791.2 L541.5,790.6 L543.4,791.1 L545.3,789.5 L547.2,789.1 L549.0,790.4 L550.9,790.5 L552.8,791.2 L554.6,790.8 L556.5,791.3 L558.4,791.6 L560.3,788.9 L562.1,789.6 L564.0,791.3 L565.9,791.2 L567.8,790.3 L569.6,791.0 L571.5,789.8 L573.4,789.6 L575.3,790.3 L577.1,791.1 L579.0,790.6 L580.9,791.8 L582.8,790.6 L584.6,788.6 L586.5,790.7 L588.4,789.6 L590.3,789.1 L592.1,788.7 L594.0,791.4 L595.9,790.3 L597.7,790.7 L599.6,788.9 L601.5,789.1 L603.4,791.1 L605.2,790.6 L607.1,789.8 L609.0,788.2 L610.9,790.4 L612.7,788.9 L614.6,790.8 L616.5,791.1 L618.4,789.3 L620.2,790.7 L622.1,791.4 L624.0,788.8 L625.9,789.4 L627.7,791.1 L629.6,789.1 L631.5,789.5 L633.4,789.4 L635.2,790.9 L637.1,790.3 L639.0,791.8 L640.9,791.8 L642.7,789.1 L644.6,790.3 L646.5,789.6 L648.3,790.0 L650.2,790.3 L652.1,790.3 L654.0,789.3 L655.8,790.0 L657.7,791.2 L659.6,788.7 L661.5,788.5 L663.3,789.0 L665.2,788.4 L667.1,789.5 L669.0,789.7 L670.8,788.7 L672.7,789.2 L674.6,790.7 L676.5,789.8 L678.3,789.6 L680.2,787.6 L682.1,789.6 L684.0,790.3 L685.8,790.6 L687.7,789.7 L689.6,790.2 L691.4,789.7 L693.3,790.5 L695.2,791.0 L697.1,789.8 L698.9,789.2 L700.8,789.4 L702.7,790.9 L704.6,789.8 L706.4,788.8 L708.3,789.3 L710.2,790.1 L712.1,789.9 L713.9,789.9 L715.8,789.3 L717.7,789.8 L719.6,789.1 L721.4,789.3 L723.3,789.3 L725.2,788.7 L727.1,788.7 L728.9,789.8 L730.8,789.7 L732.7,788.6 L734.5,789.7 L736.4,790.5 L738.3,789.9 L740.2,790.4 L742.0,789.4 L743.9,789.3 L745.8,788.2 L747.7,789.0 L749.5,788.8 L751.4,788.0 L753.3,788.7 L755.2,790.1 L757.0,789.4 L758.9,789.9 L760.8,789.5 L762.7,788.2 L764.5,786.7 L766.4,788.6 L768.3,789.1 L770.2,789.9 L772.0,789.0 L773.9,787.9 L775.8,790.0 L777.6,788.9 L779.5,788.5 L781.4,788.4 L783.3,787.1 L785.1,789.2 L787.0,789.0 L788.9,790.2 L790.8,789.7 L792.6,790.1 L794.5,789.1 L796.4,788.8 L798.3,788.6 L800.1,788.5 L802.0,789.7 L803.9,790.1 L805.8,790.1 L807.6,789.5 L809.5,789.6 L811.4,790.3 L813.3,788.8 L815.1,790.2 L817.0,789.3 L818.9,789.7 L820.8,788.9 L822.6,788.7 L824.5,790.0 L826.4,788.8 L828.2,787.3 L830.1,788.7 L832.0,790.1 L833.9,787.1 L835.7,790.0 L837.6,788.5 L839.5,790.1 L841.4,788.4 L843.2,789.2 L845.1,788.6 L847.0,788.9 L848.9,790.4 L850.7,790.6 L852.6,789.9 L854.5,788.3 L856.4,788.8 L858.2,788.0 L860.1,788.0 L862.0,787.5 L863.9,789.9 L865.7,790.1 L867.6,790.1 L869.5,787.8 L871.3,789.4 L873.2,788.8 L875.1,787.3 L877.0,789.4 L878.8,789.6 L880.7,789.9 L882.6,788.2 L884.5,788.1 L886.3,788.9 L888.2,789.4 L890.1,789.1 L892.0,788.7 L893.8,788.1 L895.7,789.9 L897.6,789.7 L899.5,788.2 L901.3,788.3 L903.2,789.0 L905.1,789.1 L907.0,788.1 L908.8,788.9 L910.7,790.6 L912.6,790.0 L914.4,788.4 L916.3,789.2 L918.2,788.6 L920.1,790.6 L921.9,788.0 L923.8,788.8 L925.7,789.2 L927.6,788.9 L929.4,789.3 L931.3,789.2 L933.2,791.1 L935.1,789.9 L936.9,788.0 L938.8,789.2 L940.7,789.8 L942.6,788.5 L944.4,787.6 L946.3,789.0 L948.2,788.2 L950.1,789.6 L951.9,790.6 L953.8,787.6 L955.7,789.6 L957.5,788.2 L959.4,788.0 L961.3,787.4 L963.2,789.4 L965.0,788.0 L966.9,789.8 L968.8,790.3 L970.7,790.4 L972.5,788.7 L974.4,790.3 L976.3,786.5 L976.8,788.0" fill="none" stroke="#dd4b49" stroke-width="3.9" stroke-linejoin="round" stroke-linecap="round"/>
</g>
<g clip-path="url(#clipB)">
<path d="M973.5,801.0 L976.9,801.0 L980.2,801.0 L983.5,801.0 L986.8,801.0 L990.1,801.0 L993.5,801.0 L996.8,801.0 L1000.1,801.0 L1003.4,801.0 L1006.7,801.0 L1010.1,801.0 L1013.4,801.0 L1016.7,801.0 L1020.0,801.0 L1023.3,801.0 L1026.7,801.0 L1030.0,801.0 L1033.3,801.0 L1036.6,801.0 L1039.9,801.0 L1043.2,801.0 L1046.6,801.0 L1049.9,801.0 L1053.2,801.0 L1056.5,801.0 L1059.8,801.0 L1063.2,801.0 L1066.5,801.0 L1069.8,801.0 L1073.1,801.0 L1076.4,801.0 L1079.8,801.0 L1083.1,801.0 L1086.4,801.0 L1089.7,801.0 L1093.0,801.0 L1096.4,801.0 L1099.7,801.0 L1103.0,801.0 L1106.3,801.0 L1109.6,801.0 L1113.0,801.0 L1116.3,801.0 L1119.6,801.0 L1122.9,801.0 L1126.2,801.0 L1129.6,801.0 L1132.9,801.0 L1136.2,801.0 L1139.5,801.0 L1142.8,801.0 L1146.1,801.0 L1149.5,801.0 L1152.8,801.0 L1156.1,801.0 L1159.4,801.0 L1162.7,801.0 L1166.1,801.0 L1169.4,801.0 L1172.7,801.0 L1176.0,801.0 L1179.3,801.0 L1182.7,801.0 L1186.0,801.0 L1189.3,800.9 L1192.6,800.9 L1195.9,800.9 L1199.3,800.9 L1202.6,800.9 L1205.9,800.9 L1209.2,800.9 L1212.5,800.9 L1215.9,800.9 L1219.2,800.9 L1222.5,800.9 L1225.8,800.9 L1229.1,800.9 L1232.5,800.9 L1235.8,800.9 L1239.1,800.9 L1242.4,800.9 L1245.7,800.9 L1249.0,800.9 L1252.4,800.8 L1255.7,800.8 L1259.0,800.8 L1262.3,800.8 L1265.6,800.8 L1269.0,800.8 L1272.3,800.8 L1275.6,800.8 L1278.9,800.8 L1282.2,800.8 L1285.6,800.7 L1288.9,800.7 L1292.2,800.7 L1295.5,800.7 L1298.8,800.7 L1302.2,800.7 L1305.5,800.7 L1308.8,800.6 L1312.1,800.6 L1315.4,800.6 L1318.8,800.6 L1322.1,800.6 L1325.4,800.6 L1328.7,800.6 L1332.0,800.5 L1335.4,800.5 L1338.7,800.5 L1342.0,800.5 L1345.3,800.5 L1348.6,800.5 L1351.9,800.4 L1355.3,800.4 L1358.6,800.4 L1361.9,800.4 L1365.2,800.4 L1368.5,800.4 L1371.9,800.4 L1375.2,800.3 L1378.5,800.3 L1381.8,800.3 L1385.1,800.3 L1388.5,800.3 L1391.8,800.3 L1395.1,800.3 L1398.4,800.3 L1401.7,800.3 L1405.1,800.3 L1408.4,800.3 L1411.7,800.3 L1415.0,800.3 L1418.3,800.3 L1421.7,800.3 L1425.0,800.3 L1428.3,800.3 L1431.6,800.3 L1434.9,800.4 L1438.3,800.4 L1441.6,800.4 L1444.9,800.4 L1448.2,800.4 L1451.5,800.4 L1454.9,800.4 L1458.2,800.5 L1461.5,800.5 L1464.8,800.5 L1468.1,800.5 L1471.4,800.5 L1474.8,800.5 L1478.1,800.6 L1481.4,800.6 L1484.7,800.6 L1488.0,800.6 L1491.4,800.6 L1494.7,800.6 L1498.0,800.6 L1501.3,800.7 L1504.6,800.7 L1508.0,800.7 L1511.3,800.7 L1514.6,800.7 L1517.9,800.7 L1521.2,800.7 L1524.6,800.8 L1527.9,800.8 L1531.2,800.8 L1534.5,800.8 L1537.8,800.8 L1541.2,800.8 L1544.5,800.8 L1547.8,800.8 L1551.1,800.8 L1554.4,800.8 L1557.8,800.9 L1561.1,800.9 L1564.4,800.9 L1567.7,800.9 L1571.0,800.9 L1574.3,800.9 L1577.7,800.9 L1581.0,800.9 L1584.3,800.9 L1587.6,800.9 L1590.9,800.9 L1594.3,800.9 L1597.6,800.9 L1600.9,800.9 L1604.2,800.9 L1607.5,800.9 L1610.9,800.9 L1614.2,800.9 L1617.5,800.9 L1620.8,801.0 L1624.1,801.0 L1627.5,801.0 L1630.8,801.0 L1634.1,801.0 L1637.4,801.0 L1640.7,801.0 L1644.1,801.0 L1647.4,801.0 L1650.7,801.0 L1654.0,801.0 L1657.3,801.0 L1660.7,801.0 L1664.0,801.0 L1667.3,801.0 L1670.6,801.0 L1673.9,801.0 L1677.2,801.0 L1680.6,801.0 L1683.9,801.0 L1687.2,801.0 L1690.5,801.0 L1693.8,801.0 L1697.2,801.0 L1700.5,801.0 L1703.8,801.0 L1707.1,801.0 L1710.4,801.0 L1713.8,801.0 L1717.1,801.0 L1720.4,801.0 L1723.7,801.0 L1727.0,801.0 L1730.4,801.0 L1733.7,801.0 L1737.0,801.0 L1740.3,801.0 L1743.6,801.0 L1747.0,801.0 L1750.3,801.0 L1753.6,801.0 L1756.9,801.0 L1760.2,801.0 L1763.6,801.0 L1766.9,801.0 L1770.2,801.0 L1773.5,801.0 L1776.8,801.0 L1780.1,801.0 L1783.5,801.0 L1786.8,801.0 L1790.1,801.0 L1793.4,801.0 L1796.7,801.0 L1800.1,801.0 L1803.4,801.0 L1806.7,801.0 L1810.0,801.0 L1813.3,801.0 L1816.7,801.0 L1820.0,801.0 L1823.3,801.0 L1826.6,801.0 L1829.9,801.0 L1833.3,801.0" fill="none" stroke="#dc4547" stroke-width="3.7" stroke-linejoin="round"/>
<path d="M973.5,801.0 L976.9,801.0 L980.2,801.0 L983.5,801.0 L986.8,801.0 L990.1,801.0 L993.5,801.0 L996.8,801.0 L1000.1,801.0 L1003.4,801.0 L1006.7,801.0 L1010.1,801.0 L1013.4,801.0 L1016.7,801.0 L1020.0,801.0 L1023.3,801.0 L1026.7,801.0 L1030.0,801.0 L1033.3,801.0 L1036.6,801.0 L1039.9,801.0 L1043.2,801.0 L1046.6,801.0 L1049.9,801.0 L1053.2,801.0 L1056.5,801.0 L1059.8,801.0 L1063.2,801.0 L1066.5,801.0 L1069.8,801.0 L1073.1,801.0 L1076.4,801.0 L1079.8,801.0 L1083.1,801.0 L1086.4,801.0 L1089.7,801.0 L1093.0,801.0 L1096.4,801.0 L1099.7,801.0 L1103.0,801.0 L1106.3,800.9 L1109.6,800.9 L1113.0,800.9 L1116.3,800.9 L1119.6,800.9 L1122.9,800.9 L1126.2,800.9 L1129.6,800.9 L1132.9,800.9 L1136.2,800.9 L1139.5,800.9 L1142.8,800.9 L1146.1,800.9 L1149.5,800.9 L1152.8,800.9 L1156.1,800.9 L1159.4,800.9 L1162.7,800.9 L1166.1,800.9 L1169.4,800.8 L1172.7,800.8 L1176.0,800.8 L1179.3,800.8 L1182.7,800.8 L1186.0,800.8 L1189.3,800.8 L1192.6,800.8 L1195.9,800.7 L1199.3,800.7 L1202.6,800.7 L1205.9,800.7 L1209.2,800.7 L1212.5,800.7 L1215.9,800.6 L1219.2,800.6 L1222.5,800.6 L1225.8,800.6 L1229.1,800.6 L1232.5,800.5 L1235.8,800.5 L1239.1,800.5 L1242.4,800.4 L1245.7,800.4 L1249.0,800.4 L1252.4,800.3 L1255.7,800.3 L1259.0,800.3 L1262.3,800.2 L1265.6,800.2 L1269.0,800.1 L1272.3,800.1 L1275.6,800.1 L1278.9,800.0 L1282.2,800.0 L1285.6,799.9 L1288.9,799.8 L1292.2,799.8 L1295.5,799.7 L1298.8,799.7 L1302.2,799.6 L1305.5,799.5 L1308.8,799.5 L1312.1,799.4 L1315.4,799.3 L1318.8,799.3 L1322.1,799.2 L1325.4,799.1 L1328.7,799.1 L1332.0,799.0 L1335.4,798.9 L1338.7,798.9 L1342.0,798.8 L1345.3,798.7 L1348.6,798.7 L1351.9,798.6 L1355.3,798.5 L1358.6,798.5 L1361.9,798.4 L1365.2,798.3 L1368.5,798.3 L1371.9,798.2 L1375.2,798.2 L1378.5,798.2 L1381.8,798.1 L1385.1,798.1 L1388.5,798.1 L1391.8,798.0 L1395.1,798.0 L1398.4,798.0 L1401.7,798.0 L1405.1,798.0 L1408.4,798.0 L1411.7,798.0 L1415.0,798.0 L1418.3,798.1 L1421.7,798.1 L1425.0,798.1 L1428.3,798.2 L1431.6,798.2 L1434.9,798.2 L1438.3,798.3 L1441.6,798.3 L1444.9,798.4 L1448.2,798.5 L1451.5,798.5 L1454.9,798.6 L1458.2,798.7 L1461.5,798.7 L1464.8,798.8 L1468.1,798.9 L1471.4,798.9 L1474.8,799.0 L1478.1,799.1 L1481.4,799.1 L1484.7,799.2 L1488.0,799.3 L1491.4,799.3 L1494.7,799.4 L1498.0,799.5 L1501.3,799.5 L1504.6,799.6 L1508.0,799.7 L1511.3,799.7 L1514.6,799.8 L1517.9,799.8 L1521.2,799.9 L1524.6,800.0 L1527.9,800.0 L1531.2,800.1 L1534.5,800.1 L1537.8,800.1 L1541.2,800.2 L1544.5,800.2 L1547.8,800.3 L1551.1,800.3 L1554.4,800.3 L1557.8,800.4 L1561.1,800.4 L1564.4,800.4 L1567.7,800.5 L1571.0,800.5 L1574.3,800.5 L1577.7,800.6 L1581.0,800.6 L1584.3,800.6 L1587.6,800.6 L1590.9,800.6 L1594.3,800.7 L1597.6,800.7 L1600.9,800.7 L1604.2,800.7 L1607.5,800.7 L1610.9,800.7 L1614.2,800.8 L1617.5,800.8 L1620.8,800.8 L1624.1,800.8 L1627.5,800.8 L1630.8,800.8 L1634.1,800.8 L1637.4,800.8 L1640.7,800.9 L1644.1,800.9 L1647.4,800.9 L1650.7,800.9 L1654.0,800.9 L1657.3,800.9 L1660.7,800.9 L1664.0,800.9 L1667.3,800.9 L1670.6,800.9 L1673.9,800.9 L1677.2,800.9 L1680.6,800.9 L1683.9,800.9 L1687.2,800.9 L1690.5,800.9 L1693.8,800.9 L1697.2,800.9 L1700.5,800.9 L1703.8,801.0 L1707.1,801.0 L1710.4,801.0 L1713.8,801.0 L1717.1,801.0 L1720.4,801.0 L1723.7,801.0 L1727.0,801.0 L1730.4,801.0 L1733.7,801.0 L1737.0,801.0 L1740.3,801.0 L1743.6,801.0 L1747.0,801.0 L1750.3,801.0 L1753.6,801.0 L1756.9,801.0 L1760.2,801.0 L1763.6,801.0 L1766.9,801.0 L1770.2,801.0 L1773.5,801.0 L1776.8,801.0 L1780.1,801.0 L1783.5,801.0 L1786.8,801.0 L1790.1,801.0 L1793.4,801.0 L1796.7,801.0 L1800.1,801.0 L1803.4,801.0 L1806.7,801.0 L1810.0,801.0 L1813.3,801.0 L1816.7,801.0 L1820.0,801.0 L1823.3,801.0 L1826.6,801.0 L1829.9,801.0 L1833.3,801.0" fill="none" stroke="#d95a48" stroke-width="3.7" stroke-linejoin="round"/>
<path d="M973.5,801.0 L976.9,801.0 L980.2,801.0 L983.5,801.0 L986.8,801.0 L990.1,801.0 L993.5,801.0 L996.8,801.0 L1000.1,801.0 L1003.4,801.0 L1006.7,801.0 L1010.1,801.0 L1013.4,801.0 L1016.7,801.0 L1020.0,801.0 L1023.3,801.0 L1026.7,801.0 L1030.0,801.0 L1033.3,801.0 L1036.6,801.0 L1039.9,801.0 L1043.2,801.0 L1046.6,801.0 L1049.9,801.0 L1053.2,801.0 L1056.5,801.0 L1059.8,801.0 L1063.2,801.0 L1066.5,801.0 L1069.8,801.0 L1073.1,800.9 L1076.4,800.9 L1079.8,800.9 L1083.1,800.9 L1086.4,800.9 L1089.7,800.9 L1093.0,800.9 L1096.4,800.9 L1099.7,800.9 L1103.0,800.9 L1106.3,800.9 L1109.6,800.9 L1113.0,800.9 L1116.3,800.9 L1119.6,800.9 L1122.9,800.9 L1126.2,800.9 L1129.6,800.9 L1132.9,800.8 L1136.2,800.8 L1139.5,800.8 L1142.8,800.8 L1146.1,800.8 L1149.5,800.8 L1152.8,800.8 L1156.1,800.8 L1159.4,800.8 L1162.7,800.7 L1166.1,800.7 L1169.4,800.7 L1172.7,800.7 L1176.0,800.7 L1179.3,800.7 L1182.7,800.6 L1186.0,800.6 L1189.3,800.6 L1192.6,800.6 L1195.9,800.5 L1199.3,800.5 L1202.6,800.5 L1205.9,800.4 L1209.2,800.4 L1212.5,800.4 L1215.9,800.3 L1219.2,800.3 L1222.5,800.3 L1225.8,800.2 L1229.1,800.2 L1232.5,800.1 L1235.8,800.1 L1239.1,800.0 L1242.4,800.0 L1245.7,799.9 L1249.0,799.9 L1252.4,799.8 L1255.7,799.7 L1259.0,799.7 L1262.3,799.6 L1265.6,799.5 L1269.0,799.4 L1272.3,799.3 L1275.6,799.3 L1278.9,799.2 L1282.2,799.1 L1285.6,799.0 L1288.9,798.9 L1292.2,798.8 L1295.5,798.7 L1298.8,798.6 L1302.2,798.4 L1305.5,798.3 L1308.8,798.2 L1312.1,798.1 L1315.4,798.0 L1318.8,797.8 L1322.1,797.7 L1325.4,797.6 L1328.7,797.5 L1332.0,797.3 L1335.4,797.2 L1338.7,797.1 L1342.0,796.9 L1345.3,796.8 L1348.6,796.7 L1351.9,796.6 L1355.3,796.5 L1358.6,796.3 L1361.9,796.2 L1365.2,796.1 L1368.5,796.0 L1371.9,795.9 L1375.2,795.9 L1378.5,795.8 L1381.8,795.7 L1385.1,795.7 L1388.5,795.6 L1391.8,795.6 L1395.1,795.5 L1398.4,795.5 L1401.7,795.5 L1405.1,795.5 L1408.4,795.5 L1411.7,795.5 L1415.0,795.6 L1418.3,795.6 L1421.7,795.7 L1425.0,795.7 L1428.3,795.8 L1431.6,795.9 L1434.9,795.9 L1438.3,796.0 L1441.6,796.1 L1444.9,796.2 L1448.2,796.3 L1451.5,796.5 L1454.9,796.6 L1458.2,796.7 L1461.5,796.8 L1464.8,796.9 L1468.1,797.1 L1471.4,797.2 L1474.8,797.3 L1478.1,797.5 L1481.4,797.6 L1484.7,797.7 L1488.0,797.8 L1491.4,798.0 L1494.7,798.1 L1498.0,798.2 L1501.3,798.3 L1504.6,798.4 L1508.0,798.6 L1511.3,798.7 L1514.6,798.8 L1517.9,798.9 L1521.2,799.0 L1524.6,799.1 L1527.9,799.2 L1531.2,799.3 L1534.5,799.3 L1537.8,799.4 L1541.2,799.5 L1544.5,799.6 L1547.8,799.7 L1551.1,799.7 L1554.4,799.8 L1557.8,799.9 L1561.1,799.9 L1564.4,800.0 L1567.7,800.0 L1571.0,800.1 L1574.3,800.1 L1577.7,800.2 L1581.0,800.2 L1584.3,800.3 L1587.6,800.3 L1590.9,800.3 L1594.3,800.4 L1597.6,800.4 L1600.9,800.4 L1604.2,800.5 L1607.5,800.5 L1610.9,800.5 L1614.2,800.6 L1617.5,800.6 L1620.8,800.6 L1624.1,800.6 L1627.5,800.7 L1630.8,800.7 L1634.1,800.7 L1637.4,800.7 L1640.7,800.7 L1644.1,800.7 L1647.4,800.8 L1650.7,800.8 L1654.0,800.8 L1657.3,800.8 L1660.7,800.8 L1664.0,800.8 L1667.3,800.8 L1670.6,800.8 L1673.9,800.8 L1677.2,800.9 L1680.6,800.9 L1683.9,800.9 L1687.2,800.9 L1690.5,800.9 L1693.8,800.9 L1697.2,800.9 L1700.5,800.9 L1703.8,800.9 L1707.1,800.9 L1710.4,800.9 L1713.8,800.9 L1717.1,800.9 L1720.4,800.9 L1723.7,800.9 L1727.0,800.9 L1730.4,800.9 L1733.7,800.9 L1737.0,801.0 L1740.3,801.0 L1743.6,801.0 L1747.0,801.0 L1750.3,801.0 L1753.6,801.0 L1756.9,801.0 L1760.2,801.0 L1763.6,801.0 L1766.9,801.0 L1770.2,801.0 L1773.5,801.0 L1776.8,801.0 L1780.1,801.0 L1783.5,801.0 L1786.8,801.0 L1790.1,801.0 L1793.4,801.0 L1796.7,801.0 L1800.1,801.0 L1803.4,801.0 L1806.7,801.0 L1810.0,801.0 L1813.3,801.0 L1816.7,801.0 L1820.0,801.0 L1823.3,801.0 L1826.6,801.0 L1829.9,801.0 L1833.3,801.0" fill="none" stroke="#d56c43" stroke-width="3.7" stroke-linejoin="round"/>
<path d="M973.5,801.0 L976.9,801.0 L980.2,801.0 L983.5,801.0 L986.8,801.0 L990.1,801.0 L993.5,801.0 L996.8,801.0 L1000.1,801.0 L1003.4,801.0 L1006.7,801.0 L1010.1,801.0 L1013.4,801.0 L1016.7,801.0 L1020.0,801.0 L1023.3,801.0 L1026.7,801.0 L1030.0,801.0 L1033.3,801.0 L1036.6,801.0 L1039.9,801.0 L1043.2,801.0 L1046.6,801.0 L1049.9,800.9 L1053.2,800.9 L1056.5,800.9 L1059.8,800.9 L1063.2,800.9 L1066.5,800.9 L1069.8,800.9 L1073.1,800.9 L1076.4,800.9 L1079.8,800.9 L1083.1,800.9 L1086.4,800.9 L1089.7,800.9 L1093.0,800.9 L1096.4,800.9 L1099.7,800.9 L1103.0,800.9 L1106.3,800.9 L1109.6,800.9 L1113.0,800.8 L1116.3,800.8 L1119.6,800.8 L1122.9,800.8 L1126.2,800.8 L1129.6,800.8 L1132.9,800.8 L1136.2,800.8 L1139.5,800.7 L1142.8,800.7 L1146.1,800.7 L1149.5,800.7 L1152.8,800.7 L1156.1,800.7 L1159.4,800.6 L1162.7,800.6 L1166.1,800.6 L1169.4,800.6 L1172.7,800.5 L1176.0,800.5 L1179.3,800.5 L1182.7,800.5 L1186.0,800.4 L1189.3,800.4 L1192.6,800.4 L1195.9,800.3 L1199.3,800.3 L1202.6,800.2 L1205.9,800.2 L1209.2,800.1 L1212.5,800.1 L1215.9,800.0 L1219.2,800.0 L1222.5,799.9 L1225.8,799.9 L1229.1,799.8 L1232.5,799.7 L1235.8,799.7 L1239.1,799.6 L1242.4,799.5 L1245.7,799.4 L1249.0,799.3 L1252.4,799.2 L1255.7,799.1 L1259.0,799.0 L1262.3,798.9 L1265.6,798.8 L1269.0,798.7 L1272.3,798.6 L1275.6,798.4 L1278.9,798.3 L1282.2,798.2 L1285.6,798.0 L1288.9,797.9 L1292.2,797.7 L1295.5,797.6 L1298.8,797.4 L1302.2,797.3 L1305.5,797.1 L1308.8,796.9 L1312.1,796.8 L1315.4,796.6 L1318.8,796.4 L1322.1,796.2 L1325.4,796.0 L1328.7,795.8 L1332.0,795.6 L1335.4,795.5 L1338.7,795.3 L1342.0,795.1 L1345.3,794.9 L1348.6,794.7 L1351.9,794.6 L1355.3,794.4 L1358.6,794.2 L1361.9,794.1 L1365.2,793.9 L1368.5,793.8 L1371.9,793.6 L1375.2,793.5 L1378.5,793.4 L1381.8,793.3 L1385.1,793.2 L1388.5,793.1 L1391.8,793.1 L1395.1,793.0 L1398.4,793.0 L1401.7,793.0 L1405.1,793.0 L1408.4,793.0 L1411.7,793.0 L1415.0,793.1 L1418.3,793.1 L1421.7,793.2 L1425.0,793.3 L1428.3,793.4 L1431.6,793.5 L1434.9,793.6 L1438.3,793.8 L1441.6,793.9 L1444.9,794.1 L1448.2,794.2 L1451.5,794.4 L1454.9,794.6 L1458.2,794.7 L1461.5,794.9 L1464.8,795.1 L1468.1,795.3 L1471.4,795.5 L1474.8,795.6 L1478.1,795.8 L1481.4,796.0 L1484.7,796.2 L1488.0,796.4 L1491.4,796.6 L1494.7,796.8 L1498.0,796.9 L1501.3,797.1 L1504.6,797.3 L1508.0,797.4 L1511.3,797.6 L1514.6,797.7 L1517.9,797.9 L1521.2,798.0 L1524.6,798.2 L1527.9,798.3 L1531.2,798.4 L1534.5,798.6 L1537.8,798.7 L1541.2,798.8 L1544.5,798.9 L1547.8,799.0 L1551.1,799.1 L1554.4,799.2 L1557.8,799.3 L1561.1,799.4 L1564.4,799.5 L1567.7,799.6 L1571.0,799.7 L1574.3,799.7 L1577.7,799.8 L1581.0,799.9 L1584.3,799.9 L1587.6,800.0 L1590.9,800.0 L1594.3,800.1 L1597.6,800.1 L1600.9,800.2 L1604.2,800.2 L1607.5,800.3 L1610.9,800.3 L1614.2,800.4 L1617.5,800.4 L1620.8,800.4 L1624.1,800.5 L1627.5,800.5 L1630.8,800.5 L1634.1,800.5 L1637.4,800.6 L1640.7,800.6 L1644.1,800.6 L1647.4,800.6 L1650.7,800.7 L1654.0,800.7 L1657.3,800.7 L1660.7,800.7 L1664.0,800.7 L1667.3,800.7 L1670.6,800.8 L1673.9,800.8 L1677.2,800.8 L1680.6,800.8 L1683.9,800.8 L1687.2,800.8 L1690.5,800.8 L1693.8,800.8 L1697.2,800.9 L1700.5,800.9 L1703.8,800.9 L1707.1,800.9 L1710.4,800.9 L1713.8,800.9 L1717.1,800.9 L1720.4,800.9 L1723.7,800.9 L1727.0,800.9 L1730.4,800.9 L1733.7,800.9 L1737.0,800.9 L1740.3,800.9 L1743.6,800.9 L1747.0,800.9 L1750.3,800.9 L1753.6,800.9 L1756.9,800.9 L1760.2,801.0 L1763.6,801.0 L1766.9,801.0 L1770.2,801.0 L1773.5,801.0 L1776.8,801.0 L1780.1,801.0 L1783.5,801.0 L1786.8,801.0 L1790.1,801.0 L1793.4,801.0 L1796.7,801.0 L1800.1,801.0 L1803.4,801.0 L1806.7,801.0 L1810.0,801.0 L1813.3,801.0 L1816.7,801.0 L1820.0,801.0 L1823.3,801.0 L1826.6,801.0 L1829.9,801.0 L1833.3,801.0" fill="none" stroke="#d48a44" stroke-width="3.7" stroke-linejoin="round"/>
<path d="M973.5,801.0 L976.9,801.0 L980.2,801.0 L983.5,801.0 L986.8,801.0 L990.1,801.0 L993.5,801.0 L996.8,801.0 L1000.1,801.0 L1003.4,801.0 L1006.7,801.0 L1010.1,801.0 L1013.4,801.0 L1016.7,801.0 L1020.0,801.0 L1023.3,801.0 L1026.7,801.0 L1030.0,800.9 L1033.3,800.9 L1036.6,800.9 L1039.9,800.9 L1043.2,800.9 L1046.6,800.9 L1049.9,800.9 L1053.2,800.9 L1056.5,800.9 L1059.8,800.9 L1063.2,800.9 L1066.5,800.9 L1069.8,800.9 L1073.1,800.9 L1076.4,800.9 L1079.8,800.9 L1083.1,800.9 L1086.4,800.9 L1089.7,800.9 L1093.0,800.9 L1096.4,800.8 L1099.7,800.8 L1103.0,800.8 L1106.3,800.8 L1109.6,800.8 L1113.0,800.8 L1116.3,800.8 L1119.6,800.8 L1122.9,800.7 L1126.2,800.7 L1129.6,800.7 L1132.9,800.7 L1136.2,800.7 L1139.5,800.7 L1142.8,800.6 L1146.1,800.6 L1149.5,800.6 L1152.8,800.6 L1156.1,800.6 L1159.4,800.5 L1162.7,800.5 L1166.1,800.5 L1169.4,800.4 L1172.7,800.4 L1176.0,800.4 L1179.3,800.3 L1182.7,800.3 L1186.0,800.2 L1189.3,800.2 L1192.6,800.1 L1195.9,800.1 L1199.3,800.0 L1202.6,800.0 L1205.9,799.9 L1209.2,799.9 L1212.5,799.8 L1215.9,799.7 L1219.2,799.7 L1222.5,799.6 L1225.8,799.5 L1229.1,799.4 L1232.5,799.3 L1235.8,799.2 L1239.1,799.1 L1242.4,799.0 L1245.7,798.9 L1249.0,798.8 L1252.4,798.7 L1255.7,798.5 L1259.0,798.4 L1262.3,798.3 L1265.6,798.1 L1269.0,798.0 L1272.3,797.8 L1275.6,797.6 L1278.9,797.5 L1282.2,797.3 L1285.6,797.1 L1288.9,796.9 L1292.2,796.7 L1295.5,796.5 L1298.8,796.3 L1302.2,796.1 L1305.5,795.9 L1308.8,795.6 L1312.1,795.4 L1315.4,795.2 L1318.8,794.9 L1322.1,794.7 L1325.4,794.5 L1328.7,794.2 L1332.0,794.0 L1335.4,793.7 L1338.7,793.5 L1342.0,793.2 L1345.3,793.0 L1348.6,792.8 L1351.9,792.5 L1355.3,792.3 L1358.6,792.1 L1361.9,791.9 L1365.2,791.7 L1368.5,791.5 L1371.9,791.3 L1375.2,791.2 L1378.5,791.0 L1381.8,790.9 L1385.1,790.8 L1388.5,790.7 L1391.8,790.6 L1395.1,790.6 L1398.4,790.5 L1401.7,790.5 L1405.1,790.5 L1408.4,790.5 L1411.7,790.6 L1415.0,790.6 L1418.3,790.7 L1421.7,790.8 L1425.0,790.9 L1428.3,791.0 L1431.6,791.2 L1434.9,791.3 L1438.3,791.5 L1441.6,791.7 L1444.9,791.9 L1448.2,792.1 L1451.5,792.3 L1454.9,792.5 L1458.2,792.8 L1461.5,793.0 L1464.8,793.2 L1468.1,793.5 L1471.4,793.7 L1474.8,794.0 L1478.1,794.2 L1481.4,794.5 L1484.7,794.7 L1488.0,794.9 L1491.4,795.2 L1494.7,795.4 L1498.0,795.6 L1501.3,795.9 L1504.6,796.1 L1508.0,796.3 L1511.3,796.5 L1514.6,796.7 L1517.9,796.9 L1521.2,797.1 L1524.6,797.3 L1527.9,797.5 L1531.2,797.6 L1534.5,797.8 L1537.8,798.0 L1541.2,798.1 L1544.5,798.3 L1547.8,798.4 L1551.1,798.5 L1554.4,798.7 L1557.8,798.8 L1561.1,798.9 L1564.4,799.0 L1567.7,799.1 L1571.0,799.2 L1574.3,799.3 L1577.7,799.4 L1581.0,799.5 L1584.3,799.6 L1587.6,799.7 L1590.9,799.7 L1594.3,799.8 L1597.6,799.9 L1600.9,799.9 L1604.2,800.0 L1607.5,800.0 L1610.9,800.1 L1614.2,800.1 L1617.5,800.2 L1620.8,800.2 L1624.1,800.3 L1627.5,800.3 L1630.8,800.4 L1634.1,800.4 L1637.4,800.4 L1640.7,800.5 L1644.1,800.5 L1647.4,800.5 L1650.7,800.6 L1654.0,800.6 L1657.3,800.6 L1660.7,800.6 L1664.0,800.6 L1667.3,800.7 L1670.6,800.7 L1673.9,800.7 L1677.2,800.7 L1680.6,800.7 L1683.9,800.7 L1687.2,800.8 L1690.5,800.8 L1693.8,800.8 L1697.2,800.8 L1700.5,800.8 L1703.8,800.8 L1707.1,800.8 L1710.4,800.8 L1713.8,800.9 L1717.1,800.9 L1720.4,800.9 L1723.7,800.9 L1727.0,800.9 L1730.4,800.9 L1733.7,800.9 L1737.0,800.9 L1740.3,800.9 L1743.6,800.9 L1747.0,800.9 L1750.3,800.9 L1753.6,800.9 L1756.9,800.9 L1760.2,800.9 L1763.6,800.9 L1766.9,800.9 L1770.2,800.9 L1773.5,800.9 L1776.8,800.9 L1780.1,801.0 L1783.5,801.0 L1786.8,801.0 L1790.1,801.0 L1793.4,801.0 L1796.7,801.0 L1800.1,801.0 L1803.4,801.0 L1806.7,801.0 L1810.0,801.0 L1813.3,801.0 L1816.7,801.0 L1820.0,801.0 L1823.3,801.0 L1826.6,801.0 L1829.9,801.0 L1833.3,801.0" fill="none" stroke="#cfa548" stroke-width="3.7" stroke-linejoin="round"/>
<path d="M973.5,801.0 L976.9,801.0 L980.2,801.0 L983.5,801.0 L986.8,801.0 L990.1,801.0 L993.5,801.0 L996.8,801.0 L1000.1,801.0 L1003.4,801.0 L1006.7,801.0 L1010.1,801.0 L1013.4,801.0 L1016.7,800.9 L1020.0,800.9 L1023.3,800.9 L1026.7,800.9 L1030.0,800.9 L1033.3,800.9 L1036.6,800.9 L1039.9,800.9 L1043.2,800.9 L1046.6,800.9 L1049.9,800.9 L1053.2,800.9 L1056.5,800.9 L1059.8,800.9 L1063.2,800.9 L1066.5,800.9 L1069.8,800.9 L1073.1,800.9 L1076.4,800.9 L1079.8,800.9 L1083.1,800.8 L1086.4,800.8 L1089.7,800.8 L1093.0,800.8 L1096.4,800.8 L1099.7,800.8 L1103.0,800.8 L1106.3,800.8 L1109.6,800.8 L1113.0,800.7 L1116.3,800.7 L1119.6,800.7 L1122.9,800.7 L1126.2,800.7 L1129.6,800.6 L1132.9,800.6 L1136.2,800.6 L1139.5,800.6 L1142.8,800.6 L1146.1,800.5 L1149.5,800.5 L1152.8,800.5 L1156.1,800.4 L1159.4,800.4 L1162.7,800.4 L1166.1,800.3 L1169.4,800.3 L1172.7,800.2 L1176.0,800.2 L1179.3,800.2 L1182.7,800.1 L1186.0,800.1 L1189.3,800.0 L1192.6,799.9 L1195.9,799.9 L1199.3,799.8 L1202.6,799.7 L1205.9,799.7 L1209.2,799.6 L1212.5,799.5 L1215.9,799.4 L1219.2,799.3 L1222.5,799.2 L1225.8,799.1 L1229.1,799.0 L1232.5,798.9 L1235.8,798.8 L1239.1,798.7 L1242.4,798.5 L1245.7,798.4 L1249.0,798.2 L1252.4,798.1 L1255.7,797.9 L1259.0,797.8 L1262.3,797.6 L1265.6,797.4 L1269.0,797.2 L1272.3,797.0 L1275.6,796.8 L1278.9,796.6 L1282.2,796.4 L1285.6,796.2 L1288.9,795.9 L1292.2,795.7 L1295.5,795.4 L1298.8,795.2 L1302.2,794.9 L1305.5,794.6 L1308.8,794.4 L1312.1,794.1 L1315.4,793.8 L1318.8,793.5 L1322.1,793.2 L1325.4,792.9 L1328.7,792.6 L1332.0,792.3 L1335.4,792.0 L1338.7,791.7 L1342.0,791.4 L1345.3,791.1 L1348.6,790.8 L1351.9,790.5 L1355.3,790.2 L1358.6,790.0 L1361.9,789.7 L1365.2,789.5 L1368.5,789.2 L1371.9,789.0 L1375.2,788.8 L1378.5,788.7 L1381.8,788.5 L1385.1,788.4 L1388.5,788.2 L1391.8,788.1 L1395.1,788.1 L1398.4,788.0 L1401.7,788.0 L1405.1,788.0 L1408.4,788.0 L1411.7,788.1 L1415.0,788.1 L1418.3,788.2 L1421.7,788.4 L1425.0,788.5 L1428.3,788.7 L1431.6,788.8 L1434.9,789.0 L1438.3,789.2 L1441.6,789.5 L1444.9,789.7 L1448.2,790.0 L1451.5,790.2 L1454.9,790.5 L1458.2,790.8 L1461.5,791.1 L1464.8,791.4 L1468.1,791.7 L1471.4,792.0 L1474.8,792.3 L1478.1,792.6 L1481.4,792.9 L1484.7,793.2 L1488.0,793.5 L1491.4,793.8 L1494.7,794.1 L1498.0,794.4 L1501.3,794.6 L1504.6,794.9 L1508.0,795.2 L1511.3,795.4 L1514.6,795.7 L1517.9,795.9 L1521.2,796.2 L1524.6,796.4 L1527.9,796.6 L1531.2,796.8 L1534.5,797.0 L1537.8,797.2 L1541.2,797.4 L1544.5,797.6 L1547.8,797.8 L1551.1,797.9 L1554.4,798.1 L1557.8,798.2 L1561.1,798.4 L1564.4,798.5 L1567.7,798.7 L1571.0,798.8 L1574.3,798.9 L1577.7,799.0 L1581.0,799.1 L1584.3,799.2 L1587.6,799.3 L1590.9,799.4 L1594.3,799.5 L1597.6,799.6 L1600.9,799.7 L1604.2,799.7 L1607.5,799.8 L1610.9,799.9 L1614.2,799.9 L1617.5,800.0 L1620.8,800.1 L1624.1,800.1 L1627.5,800.2 L1630.8,800.2 L1634.1,800.2 L1637.4,800.3 L1640.7,800.3 L1644.1,800.4 L1647.4,800.4 L1650.7,800.4 L1654.0,800.5 L1657.3,800.5 L1660.7,800.5 L1664.0,800.6 L1667.3,800.6 L1670.6,800.6 L1673.9,800.6 L1677.2,800.6 L1680.6,800.7 L1683.9,800.7 L1687.2,800.7 L1690.5,800.7 L1693.8,800.7 L1697.2,800.8 L1700.5,800.8 L1703.8,800.8 L1707.1,800.8 L1710.4,800.8 L1713.8,800.8 L1717.1,800.8 L1720.4,800.8 L1723.7,800.8 L1727.0,800.9 L1730.4,800.9 L1733.7,800.9 L1737.0,800.9 L1740.3,800.9 L1743.6,800.9 L1747.0,800.9 L1750.3,800.9 L1753.6,800.9 L1756.9,800.9 L1760.2,800.9 L1763.6,800.9 L1766.9,800.9 L1770.2,800.9 L1773.5,800.9 L1776.8,800.9 L1780.1,800.9 L1783.5,800.9 L1786.8,800.9 L1790.1,800.9 L1793.4,801.0 L1796.7,801.0 L1800.1,801.0 L1803.4,801.0 L1806.7,801.0 L1810.0,801.0 L1813.3,801.0 L1816.7,801.0 L1820.0,801.0 L1823.3,801.0 L1826.6,801.0 L1829.9,801.0 L1833.3,801.0" fill="none" stroke="#cabd4c" stroke-width="3.7" stroke-linejoin="round"/>
<path d="M973.5,801.0 L976.9,801.0 L980.2,801.0 L983.5,801.0 L986.8,801.0 L990.1,801.0 L993.5,801.0 L996.8,801.0 L1000.1,800.9 L1003.4,800.9 L1006.7,800.9 L1010.1,800.9 L1013.4,800.9 L1016.7,800.9 L1020.0,800.9 L1023.3,800.9 L1026.7,800.9 L1030.0,800.9 L1033.3,800.9 L1036.6,800.9 L1039.9,800.9 L1043.2,800.9 L1046.6,800.9 L1049.9,800.9 L1053.2,800.9 L1056.5,800.9 L1059.8,800.9 L1063.2,800.9 L1066.5,800.9 L1069.8,800.8 L1073.1,800.8 L1076.4,800.8 L1079.8,800.8 L1083.1,800.8 L1086.4,800.8 L1089.7,800.8 L1093.0,800.8 L1096.4,800.8 L1099.7,800.7 L1103.0,800.7 L1106.3,800.7 L1109.6,800.7 L1113.0,800.7 L1116.3,800.7 L1119.6,800.6 L1122.9,800.6 L1126.2,800.6 L1129.6,800.6 L1132.9,800.5 L1136.2,800.5 L1139.5,800.5 L1142.8,800.5 L1146.1,800.4 L1149.5,800.4 L1152.8,800.4 L1156.1,800.3 L1159.4,800.3 L1162.7,800.2 L1166.1,800.2 L1169.4,800.1 L1172.7,800.1 L1176.0,800.0 L1179.3,800.0 L1182.7,799.9 L1186.0,799.9 L1189.3,799.8 L1192.6,799.7 L1195.9,799.6 L1199.3,799.6 L1202.6,799.5 L1205.9,799.4 L1209.2,799.3 L1212.5,799.2 L1215.9,799.1 L1219.2,799.0 L1222.5,798.9 L1225.8,798.7 L1229.1,798.6 L1232.5,798.5 L1235.8,798.3 L1239.1,798.2 L1242.4,798.0 L1245.7,797.9 L1249.0,797.7 L1252.4,797.5 L1255.7,797.3 L1259.0,797.1 L1262.3,796.9 L1265.6,796.7 L1269.0,796.5 L1272.3,796.2 L1275.6,796.0 L1278.9,795.7 L1282.2,795.5 L1285.6,795.2 L1288.9,794.9 L1292.2,794.6 L1295.5,794.3 L1298.8,794.0 L1302.2,793.7 L1305.5,793.4 L1308.8,793.1 L1312.1,792.7 L1315.4,792.4 L1318.8,792.0 L1322.1,791.7 L1325.4,791.3 L1328.7,790.9 L1332.0,790.6 L1335.4,790.2 L1338.7,789.9 L1342.0,789.5 L1345.3,789.2 L1348.6,788.8 L1351.9,788.5 L1355.3,788.1 L1358.6,787.8 L1361.9,787.5 L1365.2,787.2 L1368.5,787.0 L1371.9,786.7 L1375.2,786.5 L1378.5,786.3 L1381.8,786.1 L1385.1,785.9 L1388.5,785.8 L1391.8,785.7 L1395.1,785.6 L1398.4,785.5 L1401.7,785.5 L1405.1,785.5 L1408.4,785.5 L1411.7,785.6 L1415.0,785.7 L1418.3,785.8 L1421.7,785.9 L1425.0,786.1 L1428.3,786.3 L1431.6,786.5 L1434.9,786.7 L1438.3,787.0 L1441.6,787.2 L1444.9,787.5 L1448.2,787.8 L1451.5,788.1 L1454.9,788.5 L1458.2,788.8 L1461.5,789.2 L1464.8,789.5 L1468.1,789.9 L1471.4,790.2 L1474.8,790.6 L1478.1,790.9 L1481.4,791.3 L1484.7,791.7 L1488.0,792.0 L1491.4,792.4 L1494.7,792.7 L1498.0,793.1 L1501.3,793.4 L1504.6,793.7 L1508.0,794.0 L1511.3,794.3 L1514.6,794.6 L1517.9,794.9 L1521.2,795.2 L1524.6,795.5 L1527.9,795.7 L1531.2,796.0 L1534.5,796.2 L1537.8,796.5 L1541.2,796.7 L1544.5,796.9 L1547.8,797.1 L1551.1,797.3 L1554.4,797.5 L1557.8,797.7 L1561.1,797.9 L1564.4,798.0 L1567.7,798.2 L1571.0,798.3 L1574.3,798.5 L1577.7,798.6 L1581.0,798.7 L1584.3,798.9 L1587.6,799.0 L1590.9,799.1 L1594.3,799.2 L1597.6,799.3 L1600.9,799.4 L1604.2,799.5 L1607.5,799.6 L1610.9,799.6 L1614.2,799.7 L1617.5,799.8 L1620.8,799.9 L1624.1,799.9 L1627.5,800.0 L1630.8,800.0 L1634.1,800.1 L1637.4,800.1 L1640.7,800.2 L1644.1,800.2 L1647.4,800.3 L1650.7,800.3 L1654.0,800.4 L1657.3,800.4 L1660.7,800.4 L1664.0,800.5 L1667.3,800.5 L1670.6,800.5 L1673.9,800.5 L1677.2,800.6 L1680.6,800.6 L1683.9,800.6 L1687.2,800.6 L1690.5,800.7 L1693.8,800.7 L1697.2,800.7 L1700.5,800.7 L1703.8,800.7 L1707.1,800.7 L1710.4,800.8 L1713.8,800.8 L1717.1,800.8 L1720.4,800.8 L1723.7,800.8 L1727.0,800.8 L1730.4,800.8 L1733.7,800.8 L1737.0,800.8 L1740.3,800.9 L1743.6,800.9 L1747.0,800.9 L1750.3,800.9 L1753.6,800.9 L1756.9,800.9 L1760.2,800.9 L1763.6,800.9 L1766.9,800.9 L1770.2,800.9 L1773.5,800.9 L1776.8,800.9 L1780.1,800.9 L1783.5,800.9 L1786.8,800.9 L1790.1,800.9 L1793.4,800.9 L1796.7,800.9 L1800.1,800.9 L1803.4,800.9 L1806.7,800.9 L1810.0,801.0 L1813.3,801.0 L1816.7,801.0 L1820.0,801.0 L1823.3,801.0 L1826.6,801.0 L1829.9,801.0 L1833.3,801.0" fill="none" stroke="#c6c450" stroke-width="3.7" stroke-linejoin="round"/>
<path d="M973.5,801.0 L976.9,801.0 L980.2,801.0 L983.5,800.9 L986.8,800.9 L990.1,800.9 L993.5,800.9 L996.8,800.9 L1000.1,800.9 L1003.4,800.9 L1006.7,800.9 L1010.1,800.9 L1013.4,800.9 L1016.7,800.9 L1020.0,800.9 L1023.3,800.9 L1026.7,800.9 L1030.0,800.9 L1033.3,800.9 L1036.6,800.9 L1039.9,800.9 L1043.2,800.9 L1046.6,800.9 L1049.9,800.9 L1053.2,800.9 L1056.5,800.8 L1059.8,800.8 L1063.2,800.8 L1066.5,800.8 L1069.8,800.8 L1073.1,800.8 L1076.4,800.8 L1079.8,800.8 L1083.1,800.8 L1086.4,800.8 L1089.7,800.7 L1093.0,800.7 L1096.4,800.7 L1099.7,800.7 L1103.0,800.7 L1106.3,800.7 L1109.6,800.6 L1113.0,800.6 L1116.3,800.6 L1119.6,800.6 L1122.9,800.5 L1126.2,800.5 L1129.6,800.5 L1132.9,800.4 L1136.2,800.4 L1139.5,800.4 L1142.8,800.3 L1146.1,800.3 L1149.5,800.3 L1152.8,800.2 L1156.1,800.2 L1159.4,800.1 L1162.7,800.1 L1166.1,800.0 L1169.4,800.0 L1172.7,799.9 L1176.0,799.8 L1179.3,799.8 L1182.7,799.7 L1186.0,799.6 L1189.3,799.5 L1192.6,799.5 L1195.9,799.4 L1199.3,799.3 L1202.6,799.2 L1205.9,799.1 L1209.2,799.0 L1212.5,798.8 L1215.9,798.7 L1219.2,798.6 L1222.5,798.4 L1225.8,798.3 L1229.1,798.1 L1232.5,798.0 L1235.8,797.8 L1239.1,797.6 L1242.4,797.4 L1245.7,797.2 L1249.0,797.0 L1252.4,796.8 L1255.7,796.6 L1259.0,796.4 L1262.3,796.1 L1265.6,795.9 L1269.0,795.6 L1272.3,795.3 L1275.6,795.0 L1278.9,794.7 L1282.2,794.4 L1285.6,794.1 L1288.9,793.7 L1292.2,793.4 L1295.5,793.0 L1298.8,792.7 L1302.2,792.3 L1305.5,791.9 L1308.8,791.5 L1312.1,791.1 L1315.4,790.7 L1318.8,790.3 L1322.1,789.8 L1325.4,789.4 L1328.7,789.0 L1332.0,788.6 L1335.4,788.1 L1338.7,787.7 L1342.0,787.3 L1345.3,786.9 L1348.6,786.4 L1351.9,786.0 L1355.3,785.7 L1358.6,785.3 L1361.9,784.9 L1365.2,784.6 L1368.5,784.2 L1371.9,783.9 L1375.2,783.7 L1378.5,783.4 L1381.8,783.2 L1385.1,783.0 L1388.5,782.8 L1391.8,782.7 L1395.1,782.6 L1398.4,782.5 L1401.7,782.5 L1405.1,782.5 L1408.4,782.5 L1411.7,782.6 L1415.0,782.7 L1418.3,782.8 L1421.7,783.0 L1425.0,783.2 L1428.3,783.4 L1431.6,783.7 L1434.9,783.9 L1438.3,784.2 L1441.6,784.6 L1444.9,784.9 L1448.2,785.3 L1451.5,785.7 L1454.9,786.0 L1458.2,786.4 L1461.5,786.9 L1464.8,787.3 L1468.1,787.7 L1471.4,788.1 L1474.8,788.6 L1478.1,789.0 L1481.4,789.4 L1484.7,789.8 L1488.0,790.3 L1491.4,790.7 L1494.7,791.1 L1498.0,791.5 L1501.3,791.9 L1504.6,792.3 L1508.0,792.7 L1511.3,793.0 L1514.6,793.4 L1517.9,793.7 L1521.2,794.1 L1524.6,794.4 L1527.9,794.7 L1531.2,795.0 L1534.5,795.3 L1537.8,795.6 L1541.2,795.9 L1544.5,796.1 L1547.8,796.4 L1551.1,796.6 L1554.4,796.8 L1557.8,797.0 L1561.1,797.2 L1564.4,797.4 L1567.7,797.6 L1571.0,797.8 L1574.3,798.0 L1577.7,798.1 L1581.0,798.3 L1584.3,798.4 L1587.6,798.6 L1590.9,798.7 L1594.3,798.8 L1597.6,799.0 L1600.9,799.1 L1604.2,799.2 L1607.5,799.3 L1610.9,799.4 L1614.2,799.5 L1617.5,799.5 L1620.8,799.6 L1624.1,799.7 L1627.5,799.8 L1630.8,799.8 L1634.1,799.9 L1637.4,800.0 L1640.7,800.0 L1644.1,800.1 L1647.4,800.1 L1650.7,800.2 L1654.0,800.2 L1657.3,800.3 L1660.7,800.3 L1664.0,800.3 L1667.3,800.4 L1670.6,800.4 L1673.9,800.4 L1677.2,800.5 L1680.6,800.5 L1683.9,800.5 L1687.2,800.6 L1690.5,800.6 L1693.8,800.6 L1697.2,800.6 L1700.5,800.7 L1703.8,800.7 L1707.1,800.7 L1710.4,800.7 L1713.8,800.7 L1717.1,800.7 L1720.4,800.8 L1723.7,800.8 L1727.0,800.8 L1730.4,800.8 L1733.7,800.8 L1737.0,800.8 L1740.3,800.8 L1743.6,800.8 L1747.0,800.8 L1750.3,800.8 L1753.6,800.9 L1756.9,800.9 L1760.2,800.9 L1763.6,800.9 L1766.9,800.9 L1770.2,800.9 L1773.5,800.9 L1776.8,800.9 L1780.1,800.9 L1783.5,800.9 L1786.8,800.9 L1790.1,800.9 L1793.4,800.9 L1796.7,800.9 L1800.1,800.9 L1803.4,800.9 L1806.7,800.9 L1810.0,800.9 L1813.3,800.9 L1816.7,800.9 L1820.0,800.9 L1823.3,800.9 L1826.6,801.0 L1829.9,801.0 L1833.3,801.0" fill="none" stroke="#c2c452" stroke-width="3.7" stroke-linejoin="round"/>
<path d="M973.5,800.9 L976.9,800.9 L980.2,800.9 L983.5,800.9 L986.8,800.9 L990.1,800.9 L993.5,800.9 L996.8,800.9 L1000.1,800.9 L1003.4,800.9 L1006.7,800.9 L1010.1,800.9 L1013.4,800.9 L1016.7,800.9 L1020.0,800.9 L1023.3,800.9 L1026.7,800.9 L1030.0,800.9 L1033.3,800.8 L1036.6,800.8 L1039.9,800.8 L1043.2,800.8 L1046.6,800.8 L1049.9,800.8 L1053.2,800.8 L1056.5,800.8 L1059.8,800.8 L1063.2,800.8 L1066.5,800.7 L1069.8,800.7 L1073.1,800.7 L1076.4,800.7 L1079.8,800.7 L1083.1,800.7 L1086.4,800.7 L1089.7,800.6 L1093.0,800.6 L1096.4,800.6 L1099.7,800.6 L1103.0,800.5 L1106.3,800.5 L1109.6,800.5 L1113.0,800.5 L1116.3,800.4 L1119.6,800.4 L1122.9,800.4 L1126.2,800.3 L1129.6,800.3 L1132.9,800.2 L1136.2,800.2 L1139.5,800.2 L1142.8,800.1 L1146.1,800.1 L1149.5,800.0 L1152.8,799.9 L1156.1,799.9 L1159.4,799.8 L1162.7,799.7 L1166.1,799.7 L1169.4,799.6 L1172.7,799.5 L1176.0,799.4 L1179.3,799.3 L1182.7,799.2 L1186.0,799.1 L1189.3,799.0 L1192.6,798.9 L1195.9,798.8 L1199.3,798.7 L1202.6,798.5 L1205.9,798.4 L1209.2,798.2 L1212.5,798.1 L1215.9,797.9 L1219.2,797.7 L1222.5,797.6 L1225.8,797.4 L1229.1,797.2 L1232.5,796.9 L1235.8,796.7 L1239.1,796.5 L1242.4,796.2 L1245.7,796.0 L1249.0,795.7 L1252.4,795.4 L1255.7,795.1 L1259.0,794.8 L1262.3,794.5 L1265.6,794.1 L1269.0,793.8 L1272.3,793.4 L1275.6,793.0 L1278.9,792.6 L1282.2,792.2 L1285.6,791.8 L1288.9,791.3 L1292.2,790.9 L1295.5,790.4 L1298.8,789.9 L1302.2,789.4 L1305.5,788.9 L1308.8,788.4 L1312.1,787.8 L1315.4,787.3 L1318.8,786.8 L1322.1,786.2 L1325.4,785.6 L1328.7,785.1 L1332.0,784.5 L1335.4,783.9 L1338.7,783.4 L1342.0,782.8 L1345.3,782.3 L1348.6,781.7 L1351.9,781.2 L1355.3,780.7 L1358.6,780.2 L1361.9,779.7 L1365.2,779.3 L1368.5,778.9 L1371.9,778.5 L1375.2,778.1 L1378.5,777.8 L1381.8,777.5 L1385.1,777.3 L1388.5,777.0 L1391.8,776.9 L1395.1,776.7 L1398.4,776.6 L1401.7,776.6 L1405.1,776.6 L1408.4,776.6 L1411.7,776.7 L1415.0,776.9 L1418.3,777.0 L1421.7,777.3 L1425.0,777.5 L1428.3,777.8 L1431.6,778.1 L1434.9,778.5 L1438.3,778.9 L1441.6,779.3 L1444.9,779.7 L1448.2,780.2 L1451.5,780.7 L1454.9,781.2 L1458.2,781.7 L1461.5,782.3 L1464.8,782.8 L1468.1,783.4 L1471.4,783.9 L1474.8,784.5 L1478.1,785.1 L1481.4,785.6 L1484.7,786.2 L1488.0,786.8 L1491.4,787.3 L1494.7,787.8 L1498.0,788.4 L1501.3,788.9 L1504.6,789.4 L1508.0,789.9 L1511.3,790.4 L1514.6,790.9 L1517.9,791.3 L1521.2,791.8 L1524.6,792.2 L1527.9,792.6 L1531.2,793.0 L1534.5,793.4 L1537.8,793.8 L1541.2,794.1 L1544.5,794.5 L1547.8,794.8 L1551.1,795.1 L1554.4,795.4 L1557.8,795.7 L1561.1,796.0 L1564.4,796.2 L1567.7,796.5 L1571.0,796.7 L1574.3,796.9 L1577.7,797.2 L1581.0,797.4 L1584.3,797.6 L1587.6,797.7 L1590.9,797.9 L1594.3,798.1 L1597.6,798.2 L1600.9,798.4 L1604.2,798.5 L1607.5,798.7 L1610.9,798.8 L1614.2,798.9 L1617.5,799.0 L1620.8,799.1 L1624.1,799.2 L1627.5,799.3 L1630.8,799.4 L1634.1,799.5 L1637.4,799.6 L1640.7,799.7 L1644.1,799.7 L1647.4,799.8 L1650.7,799.9 L1654.0,799.9 L1657.3,800.0 L1660.7,800.1 L1664.0,800.1 L1667.3,800.2 L1670.6,800.2 L1673.9,800.2 L1677.2,800.3 L1680.6,800.3 L1683.9,800.4 L1687.2,800.4 L1690.5,800.4 L1693.8,800.5 L1697.2,800.5 L1700.5,800.5 L1703.8,800.5 L1707.1,800.6 L1710.4,800.6 L1713.8,800.6 L1717.1,800.6 L1720.4,800.7 L1723.7,800.7 L1727.0,800.7 L1730.4,800.7 L1733.7,800.7 L1737.0,800.7 L1740.3,800.7 L1743.6,800.8 L1747.0,800.8 L1750.3,800.8 L1753.6,800.8 L1756.9,800.8 L1760.2,800.8 L1763.6,800.8 L1766.9,800.8 L1770.2,800.8 L1773.5,800.8 L1776.8,800.9 L1780.1,800.9 L1783.5,800.9 L1786.8,800.9 L1790.1,800.9 L1793.4,800.9 L1796.7,800.9 L1800.1,800.9 L1803.4,800.9 L1806.7,800.9 L1810.0,800.9 L1813.3,800.9 L1816.7,800.9 L1820.0,800.9 L1823.3,800.9 L1826.6,800.9 L1829.9,800.9 L1833.3,800.9" fill="none" stroke="#a0c555" stroke-width="3.7" stroke-linejoin="round"/>
<path d="M973.5,800.9 L976.9,800.9 L980.2,800.9 L983.5,800.9 L986.8,800.9 L990.1,800.9 L993.5,800.9 L996.8,800.9 L1000.1,800.9 L1003.4,800.9 L1006.7,800.9 L1010.1,800.9 L1013.4,800.8 L1016.7,800.8 L1020.0,800.8 L1023.3,800.8 L1026.7,800.8 L1030.0,800.8 L1033.3,800.8 L1036.6,800.8 L1039.9,800.8 L1043.2,800.8 L1046.6,800.8 L1049.9,800.7 L1053.2,800.7 L1056.5,800.7 L1059.8,800.7 L1063.2,800.7 L1066.5,800.7 L1069.8,800.6 L1073.1,800.6 L1076.4,800.6 L1079.8,800.6 L1083.1,800.6 L1086.4,800.5 L1089.7,800.5 L1093.0,800.5 L1096.4,800.5 L1099.7,800.4 L1103.0,800.4 L1106.3,800.4 L1109.6,800.3 L1113.0,800.3 L1116.3,800.3 L1119.6,800.2 L1122.9,800.2 L1126.2,800.1 L1129.6,800.1 L1132.9,800.0 L1136.2,800.0 L1139.5,799.9 L1142.8,799.9 L1146.1,799.8 L1149.5,799.7 L1152.8,799.6 L1156.1,799.6 L1159.4,799.5 L1162.7,799.4 L1166.1,799.3 L1169.4,799.2 L1172.7,799.1 L1176.0,799.0 L1179.3,798.9 L1182.7,798.8 L1186.0,798.6 L1189.3,798.5 L1192.6,798.4 L1195.9,798.2 L1199.3,798.0 L1202.6,797.9 L1205.9,797.7 L1209.2,797.5 L1212.5,797.3 L1215.9,797.1 L1219.2,796.9 L1222.5,796.7 L1225.8,796.4 L1229.1,796.2 L1232.5,795.9 L1235.8,795.6 L1239.1,795.3 L1242.4,795.0 L1245.7,794.7 L1249.0,794.3 L1252.4,794.0 L1255.7,793.6 L1259.0,793.2 L1262.3,792.8 L1265.6,792.4 L1269.0,791.9 L1272.3,791.5 L1275.6,791.0 L1278.9,790.5 L1282.2,790.0 L1285.6,789.5 L1288.9,788.9 L1292.2,788.3 L1295.5,787.8 L1298.8,787.2 L1302.2,786.5 L1305.5,785.9 L1308.8,785.3 L1312.1,784.6 L1315.4,783.9 L1318.8,783.3 L1322.1,782.6 L1325.4,781.9 L1328.7,781.2 L1332.0,780.5 L1335.4,779.8 L1338.7,779.1 L1342.0,778.4 L1345.3,777.8 L1348.6,777.1 L1351.9,776.5 L1355.3,775.8 L1358.6,775.2 L1361.9,774.7 L1365.2,774.1 L1368.5,773.6 L1371.9,773.1 L1375.2,772.7 L1378.5,772.3 L1381.8,771.9 L1385.1,771.6 L1388.5,771.3 L1391.8,771.1 L1395.1,771.0 L1398.4,770.9 L1401.7,770.8 L1405.1,770.8 L1408.4,770.9 L1411.7,771.0 L1415.0,771.1 L1418.3,771.3 L1421.7,771.6 L1425.0,771.9 L1428.3,772.3 L1431.6,772.7 L1434.9,773.1 L1438.3,773.6 L1441.6,774.1 L1444.9,774.7 L1448.2,775.2 L1451.5,775.8 L1454.9,776.5 L1458.2,777.1 L1461.5,777.8 L1464.8,778.4 L1468.1,779.1 L1471.4,779.8 L1474.8,780.5 L1478.1,781.2 L1481.4,781.9 L1484.7,782.6 L1488.0,783.3 L1491.4,783.9 L1494.7,784.6 L1498.0,785.3 L1501.3,785.9 L1504.6,786.5 L1508.0,787.2 L1511.3,787.8 L1514.6,788.3 L1517.9,788.9 L1521.2,789.5 L1524.6,790.0 L1527.9,790.5 L1531.2,791.0 L1534.5,791.5 L1537.8,791.9 L1541.2,792.4 L1544.5,792.8 L1547.8,793.2 L1551.1,793.6 L1554.4,794.0 L1557.8,794.3 L1561.1,794.7 L1564.4,795.0 L1567.7,795.3 L1571.0,795.6 L1574.3,795.9 L1577.7,796.2 L1581.0,796.4 L1584.3,796.7 L1587.6,796.9 L1590.9,797.1 L1594.3,797.3 L1597.6,797.5 L1600.9,797.7 L1604.2,797.9 L1607.5,798.0 L1610.9,798.2 L1614.2,798.4 L1617.5,798.5 L1620.8,798.6 L1624.1,798.8 L1627.5,798.9 L1630.8,799.0 L1634.1,799.1 L1637.4,799.2 L1640.7,799.3 L1644.1,799.4 L1647.4,799.5 L1650.7,799.6 L1654.0,799.6 L1657.3,799.7 L1660.7,799.8 L1664.0,799.9 L1667.3,799.9 L1670.6,800.0 L1673.9,800.0 L1677.2,800.1 L1680.6,800.1 L1683.9,800.2 L1687.2,800.2 L1690.5,800.3 L1693.8,800.3 L1697.2,800.3 L1700.5,800.4 L1703.8,800.4 L1707.1,800.4 L1710.4,800.5 L1713.8,800.5 L1717.1,800.5 L1720.4,800.5 L1723.7,800.6 L1727.0,800.6 L1730.4,800.6 L1733.7,800.6 L1737.0,800.6 L1740.3,800.7 L1743.6,800.7 L1747.0,800.7 L1750.3,800.7 L1753.6,800.7 L1756.9,800.7 L1760.2,800.8 L1763.6,800.8 L1766.9,800.8 L1770.2,800.8 L1773.5,800.8 L1776.8,800.8 L1780.1,800.8 L1783.5,800.8 L1786.8,800.8 L1790.1,800.8 L1793.4,800.8 L1796.7,800.9 L1800.1,800.9 L1803.4,800.9 L1806.7,800.9 L1810.0,800.9 L1813.3,800.9 L1816.7,800.9 L1820.0,800.9 L1823.3,800.9 L1826.6,800.9 L1829.9,800.9 L1833.3,800.9" fill="none" stroke="#98c352" stroke-width="3.7" stroke-linejoin="round"/>
<path d="M973.5,800.9 L976.9,800.9 L980.2,800.9 L983.5,800.9 L986.8,800.9 L990.1,800.8 L993.5,800.8 L996.8,800.8 L1000.1,800.8 L1003.4,800.8 L1006.7,800.8 L1010.1,800.8 L1013.4,800.8 L1016.7,800.8 L1020.0,800.8 L1023.3,800.8 L1026.7,800.8 L1030.0,800.7 L1033.3,800.7 L1036.6,800.7 L1039.9,800.7 L1043.2,800.7 L1046.6,800.7 L1049.9,800.7 L1053.2,800.6 L1056.5,800.6 L1059.8,800.6 L1063.2,800.6 L1066.5,800.6 L1069.8,800.6 L1073.1,800.5 L1076.4,800.5 L1079.8,800.5 L1083.1,800.5 L1086.4,800.4 L1089.7,800.4 L1093.0,800.4 L1096.4,800.3 L1099.7,800.3 L1103.0,800.3 L1106.3,800.2 L1109.6,800.2 L1113.0,800.1 L1116.3,800.1 L1119.6,800.0 L1122.9,800.0 L1126.2,799.9 L1129.6,799.9 L1132.9,799.8 L1136.2,799.7 L1139.5,799.7 L1142.8,799.6 L1146.1,799.5 L1149.5,799.4 L1152.8,799.3 L1156.1,799.2 L1159.4,799.1 L1162.7,799.0 L1166.1,798.9 L1169.4,798.8 L1172.7,798.7 L1176.0,798.5 L1179.3,798.4 L1182.7,798.3 L1186.0,798.1 L1189.3,797.9 L1192.6,797.8 L1195.9,797.6 L1199.3,797.4 L1202.6,797.2 L1205.9,797.0 L1209.2,796.7 L1212.5,796.5 L1215.9,796.2 L1219.2,796.0 L1222.5,795.7 L1225.8,795.4 L1229.1,795.1 L1232.5,794.8 L1235.8,794.4 L1239.1,794.1 L1242.4,793.7 L1245.7,793.3 L1249.0,792.9 L1252.4,792.5 L1255.7,792.0 L1259.0,791.5 L1262.3,791.0 L1265.6,790.5 L1269.0,790.0 L1272.3,789.4 L1275.6,788.9 L1278.9,788.3 L1282.2,787.7 L1285.6,787.0 L1288.9,786.4 L1292.2,785.7 L1295.5,785.0 L1298.8,784.2 L1302.2,783.5 L1305.5,782.7 L1308.8,782.0 L1312.1,781.2 L1315.4,780.4 L1318.8,779.6 L1322.1,778.8 L1325.4,777.9 L1328.7,777.1 L1332.0,776.3 L1335.4,775.4 L1338.7,774.6 L1342.0,773.8 L1345.3,773.0 L1348.6,772.2 L1351.9,771.4 L1355.3,770.7 L1358.6,770.0 L1361.9,769.3 L1365.2,768.6 L1368.5,768.0 L1371.9,767.5 L1375.2,766.9 L1378.5,766.4 L1381.8,766.0 L1385.1,765.7 L1388.5,765.3 L1391.8,765.1 L1395.1,764.9 L1398.4,764.8 L1401.7,764.7 L1405.1,764.7 L1408.4,764.8 L1411.7,764.9 L1415.0,765.1 L1418.3,765.3 L1421.7,765.7 L1425.0,766.0 L1428.3,766.4 L1431.6,766.9 L1434.9,767.5 L1438.3,768.0 L1441.6,768.6 L1444.9,769.3 L1448.2,770.0 L1451.5,770.7 L1454.9,771.4 L1458.2,772.2 L1461.5,773.0 L1464.8,773.8 L1468.1,774.6 L1471.4,775.4 L1474.8,776.3 L1478.1,777.1 L1481.4,777.9 L1484.7,778.8 L1488.0,779.6 L1491.4,780.4 L1494.7,781.2 L1498.0,782.0 L1501.3,782.7 L1504.6,783.5 L1508.0,784.2 L1511.3,785.0 L1514.6,785.7 L1517.9,786.4 L1521.2,787.0 L1524.6,787.7 L1527.9,788.3 L1531.2,788.9 L1534.5,789.4 L1537.8,790.0 L1541.2,790.5 L1544.5,791.0 L1547.8,791.5 L1551.1,792.0 L1554.4,792.5 L1557.8,792.9 L1561.1,793.3 L1564.4,793.7 L1567.7,794.1 L1571.0,794.4 L1574.3,794.8 L1577.7,795.1 L1581.0,795.4 L1584.3,795.7 L1587.6,796.0 L1590.9,796.2 L1594.3,796.5 L1597.6,796.7 L1600.9,797.0 L1604.2,797.2 L1607.5,797.4 L1610.9,797.6 L1614.2,797.8 L1617.5,797.9 L1620.8,798.1 L1624.1,798.3 L1627.5,798.4 L1630.8,798.5 L1634.1,798.7 L1637.4,798.8 L1640.7,798.9 L1644.1,799.0 L1647.4,799.1 L1650.7,799.2 L1654.0,799.3 L1657.3,799.4 L1660.7,799.5 L1664.0,799.6 L1667.3,799.7 L1670.6,799.7 L1673.9,799.8 L1677.2,799.9 L1680.6,799.9 L1683.9,800.0 L1687.2,800.0 L1690.5,800.1 L1693.8,800.1 L1697.2,800.2 L1700.5,800.2 L1703.8,800.3 L1707.1,800.3 L1710.4,800.3 L1713.8,800.4 L1717.1,800.4 L1720.4,800.4 L1723.7,800.5 L1727.0,800.5 L1730.4,800.5 L1733.7,800.5 L1737.0,800.6 L1740.3,800.6 L1743.6,800.6 L1747.0,800.6 L1750.3,800.6 L1753.6,800.6 L1756.9,800.7 L1760.2,800.7 L1763.6,800.7 L1766.9,800.7 L1770.2,800.7 L1773.5,800.7 L1776.8,800.7 L1780.1,800.8 L1783.5,800.8 L1786.8,800.8 L1790.1,800.8 L1793.4,800.8 L1796.7,800.8 L1800.1,800.8 L1803.4,800.8 L1806.7,800.8 L1810.0,800.8 L1813.3,800.8 L1816.7,800.8 L1820.0,800.9 L1823.3,800.9 L1826.6,800.9 L1829.9,800.9 L1833.3,800.9" fill="none" stroke="#77bc53" stroke-width="3.7" stroke-linejoin="round"/>
<path d="M973.5,800.8 L976.9,800.8 L980.2,800.8 L983.5,800.8 L986.8,800.8 L990.1,800.7 L993.5,800.7 L996.8,800.7 L1000.1,800.7 L1003.4,800.7 L1006.7,800.7 L1010.1,800.7 L1013.4,800.7 L1016.7,800.7 L1020.0,800.6 L1023.3,800.6 L1026.7,800.6 L1030.0,800.6 L1033.3,800.6 L1036.6,800.6 L1039.9,800.5 L1043.2,800.5 L1046.6,800.5 L1049.9,800.5 L1053.2,800.5 L1056.5,800.4 L1059.8,800.4 L1063.2,800.4 L1066.5,800.3 L1069.8,800.3 L1073.1,800.3 L1076.4,800.2 L1079.8,800.2 L1083.1,800.2 L1086.4,800.1 L1089.7,800.1 L1093.0,800.0 L1096.4,800.0 L1099.7,799.9 L1103.0,799.9 L1106.3,799.8 L1109.6,799.8 L1113.0,799.7 L1116.3,799.6 L1119.6,799.6 L1122.9,799.5 L1126.2,799.4 L1129.6,799.3 L1132.9,799.2 L1136.2,799.1 L1139.5,799.0 L1142.8,798.9 L1146.1,798.8 L1149.5,798.7 L1152.8,798.6 L1156.1,798.4 L1159.4,798.3 L1162.7,798.1 L1166.1,798.0 L1169.4,797.8 L1172.7,797.6 L1176.0,797.4 L1179.3,797.2 L1182.7,797.0 L1186.0,796.8 L1189.3,796.6 L1192.6,796.3 L1195.9,796.1 L1199.3,795.8 L1202.6,795.5 L1205.9,795.2 L1209.2,794.9 L1212.5,794.6 L1215.9,794.2 L1219.2,793.9 L1222.5,793.5 L1225.8,793.1 L1229.1,792.6 L1232.5,792.2 L1235.8,791.7 L1239.1,791.2 L1242.4,790.7 L1245.7,790.1 L1249.0,789.6 L1252.4,789.0 L1255.7,788.4 L1259.0,787.7 L1262.3,787.0 L1265.6,786.3 L1269.0,785.6 L1272.3,784.8 L1275.6,784.1 L1278.9,783.2 L1282.2,782.4 L1285.6,781.5 L1288.9,780.6 L1292.2,779.7 L1295.5,778.7 L1298.8,777.8 L1302.2,776.7 L1305.5,775.7 L1308.8,774.7 L1312.1,773.6 L1315.4,772.5 L1318.8,771.4 L1322.1,770.3 L1325.4,769.2 L1328.7,768.1 L1332.0,767.0 L1335.4,765.9 L1338.7,764.8 L1342.0,763.7 L1345.3,762.6 L1348.6,761.6 L1351.9,760.5 L1355.3,759.5 L1358.6,758.6 L1361.9,757.7 L1365.2,756.8 L1368.5,756.0 L1371.9,755.2 L1375.2,754.5 L1378.5,753.9 L1381.8,753.3 L1385.1,752.9 L1388.5,752.4 L1391.8,752.1 L1395.1,751.9 L1398.4,751.7 L1401.7,751.6 L1405.1,751.6 L1408.4,751.7 L1411.7,751.9 L1415.0,752.1 L1418.3,752.4 L1421.7,752.9 L1425.0,753.3 L1428.3,753.9 L1431.6,754.5 L1434.9,755.2 L1438.3,756.0 L1441.6,756.8 L1444.9,757.7 L1448.2,758.6 L1451.5,759.5 L1454.9,760.5 L1458.2,761.6 L1461.5,762.6 L1464.8,763.7 L1468.1,764.8 L1471.4,765.9 L1474.8,767.0 L1478.1,768.1 L1481.4,769.2 L1484.7,770.3 L1488.0,771.4 L1491.4,772.5 L1494.7,773.6 L1498.0,774.7 L1501.3,775.7 L1504.6,776.7 L1508.0,777.8 L1511.3,778.7 L1514.6,779.7 L1517.9,780.6 L1521.2,781.5 L1524.6,782.4 L1527.9,783.2 L1531.2,784.1 L1534.5,784.8 L1537.8,785.6 L1541.2,786.3 L1544.5,787.0 L1547.8,787.7 L1551.1,788.4 L1554.4,789.0 L1557.8,789.6 L1561.1,790.1 L1564.4,790.7 L1567.7,791.2 L1571.0,791.7 L1574.3,792.2 L1577.7,792.6 L1581.0,793.1 L1584.3,793.5 L1587.6,793.9 L1590.9,794.2 L1594.3,794.6 L1597.6,794.9 L1600.9,795.2 L1604.2,795.5 L1607.5,795.8 L1610.9,796.1 L1614.2,796.3 L1617.5,796.6 L1620.8,796.8 L1624.1,797.0 L1627.5,797.2 L1630.8,797.4 L1634.1,797.6 L1637.4,797.8 L1640.7,798.0 L1644.1,798.1 L1647.4,798.3 L1650.7,798.4 L1654.0,798.6 L1657.3,798.7 L1660.7,798.8 L1664.0,798.9 L1667.3,799.0 L1670.6,799.1 L1673.9,799.2 L1677.2,799.3 L1680.6,799.4 L1683.9,799.5 L1687.2,799.6 L1690.5,799.6 L1693.8,799.7 L1697.2,799.8 L1700.5,799.8 L1703.8,799.9 L1707.1,799.9 L1710.4,800.0 L1713.8,800.0 L1717.1,800.1 L1720.4,800.1 L1723.7,800.2 L1727.0,800.2 L1730.4,800.2 L1733.7,800.3 L1737.0,800.3 L1740.3,800.3 L1743.6,800.4 L1747.0,800.4 L1750.3,800.4 L1753.6,800.5 L1756.9,800.5 L1760.2,800.5 L1763.6,800.5 L1766.9,800.5 L1770.2,800.6 L1773.5,800.6 L1776.8,800.6 L1780.1,800.6 L1783.5,800.6 L1786.8,800.6 L1790.1,800.7 L1793.4,800.7 L1796.7,800.7 L1800.1,800.7 L1803.4,800.7 L1806.7,800.7 L1810.0,800.7 L1813.3,800.7 L1816.7,800.7 L1820.0,800.8 L1823.3,800.8 L1826.6,800.8 L1829.9,800.8 L1833.3,800.8" fill="none" stroke="#64b450" stroke-width="3.7" stroke-linejoin="round"/>
<path d="M973.5,800.7 L976.9,800.6 L980.2,800.6 L983.5,800.6 L986.8,800.6 L990.1,800.6 L993.5,800.6 L996.8,800.6 L1000.1,800.6 L1003.4,800.5 L1006.7,800.5 L1010.1,800.5 L1013.4,800.5 L1016.7,800.5 L1020.0,800.5 L1023.3,800.4 L1026.7,800.4 L1030.0,800.4 L1033.3,800.4 L1036.6,800.3 L1039.9,800.3 L1043.2,800.3 L1046.6,800.2 L1049.9,800.2 L1053.2,800.2 L1056.5,800.2 L1059.8,800.1 L1063.2,800.1 L1066.5,800.0 L1069.8,800.0 L1073.1,799.9 L1076.4,799.9 L1079.8,799.8 L1083.1,799.8 L1086.4,799.7 L1089.7,799.7 L1093.0,799.6 L1096.4,799.5 L1099.7,799.5 L1103.0,799.4 L1106.3,799.3 L1109.6,799.2 L1113.0,799.1 L1116.3,799.1 L1119.6,799.0 L1122.9,798.9 L1126.2,798.7 L1129.6,798.6 L1132.9,798.5 L1136.2,798.4 L1139.5,798.2 L1142.8,798.1 L1146.1,797.9 L1149.5,797.8 L1152.8,797.6 L1156.1,797.4 L1159.4,797.2 L1162.7,797.0 L1166.1,796.8 L1169.4,796.6 L1172.7,796.4 L1176.0,796.1 L1179.3,795.8 L1182.7,795.6 L1186.0,795.3 L1189.3,795.0 L1192.6,794.6 L1195.9,794.3 L1199.3,793.9 L1202.6,793.5 L1205.9,793.1 L1209.2,792.7 L1212.5,792.3 L1215.9,791.8 L1219.2,791.3 L1222.5,790.8 L1225.8,790.3 L1229.1,789.7 L1232.5,789.1 L1235.8,788.5 L1239.1,787.8 L1242.4,787.1 L1245.7,786.4 L1249.0,785.6 L1252.4,784.8 L1255.7,784.0 L1259.0,783.2 L1262.3,782.3 L1265.6,781.4 L1269.0,780.4 L1272.3,779.4 L1275.6,778.4 L1278.9,777.3 L1282.2,776.2 L1285.6,775.0 L1288.9,773.9 L1292.2,772.6 L1295.5,771.4 L1298.8,770.1 L1302.2,768.8 L1305.5,767.5 L1308.8,766.1 L1312.1,764.7 L1315.4,763.3 L1318.8,761.9 L1322.1,760.5 L1325.4,759.1 L1328.7,757.6 L1332.0,756.2 L1335.4,754.8 L1338.7,753.4 L1342.0,752.0 L1345.3,750.6 L1348.6,749.2 L1351.9,747.9 L1355.3,746.7 L1358.6,745.5 L1361.9,744.3 L1365.2,743.2 L1368.5,742.2 L1371.9,741.2 L1375.2,740.3 L1378.5,739.5 L1381.8,738.8 L1385.1,738.2 L1388.5,737.7 L1391.8,737.3 L1395.1,736.9 L1398.4,736.7 L1401.7,736.6 L1405.1,736.6 L1408.4,736.7 L1411.7,736.9 L1415.0,737.3 L1418.3,737.7 L1421.7,738.2 L1425.0,738.8 L1428.3,739.5 L1431.6,740.3 L1434.9,741.2 L1438.3,742.2 L1441.6,743.2 L1444.9,744.3 L1448.2,745.5 L1451.5,746.7 L1454.9,747.9 L1458.2,749.2 L1461.5,750.6 L1464.8,752.0 L1468.1,753.4 L1471.4,754.8 L1474.8,756.2 L1478.1,757.6 L1481.4,759.1 L1484.7,760.5 L1488.0,761.9 L1491.4,763.3 L1494.7,764.7 L1498.0,766.1 L1501.3,767.5 L1504.6,768.8 L1508.0,770.1 L1511.3,771.4 L1514.6,772.6 L1517.9,773.9 L1521.2,775.0 L1524.6,776.2 L1527.9,777.3 L1531.2,778.4 L1534.5,779.4 L1537.8,780.4 L1541.2,781.4 L1544.5,782.3 L1547.8,783.2 L1551.1,784.0 L1554.4,784.8 L1557.8,785.6 L1561.1,786.4 L1564.4,787.1 L1567.7,787.8 L1571.0,788.5 L1574.3,789.1 L1577.7,789.7 L1581.0,790.3 L1584.3,790.8 L1587.6,791.3 L1590.9,791.8 L1594.3,792.3 L1597.6,792.7 L1600.9,793.1 L1604.2,793.5 L1607.5,793.9 L1610.9,794.3 L1614.2,794.6 L1617.5,795.0 L1620.8,795.3 L1624.1,795.6 L1627.5,795.8 L1630.8,796.1 L1634.1,796.4 L1637.4,796.6 L1640.7,796.8 L1644.1,797.0 L1647.4,797.2 L1650.7,797.4 L1654.0,797.6 L1657.3,797.8 L1660.7,797.9 L1664.0,798.1 L1667.3,798.2 L1670.6,798.4 L1673.9,798.5 L1677.2,798.6 L1680.6,798.7 L1683.9,798.9 L1687.2,799.0 L1690.5,799.1 L1693.8,799.1 L1697.2,799.2 L1700.5,799.3 L1703.8,799.4 L1707.1,799.5 L1710.4,799.5 L1713.8,799.6 L1717.1,799.7 L1720.4,799.7 L1723.7,799.8 L1727.0,799.8 L1730.4,799.9 L1733.7,799.9 L1737.0,800.0 L1740.3,800.0 L1743.6,800.1 L1747.0,800.1 L1750.3,800.2 L1753.6,800.2 L1756.9,800.2 L1760.2,800.2 L1763.6,800.3 L1766.9,800.3 L1770.2,800.3 L1773.5,800.4 L1776.8,800.4 L1780.1,800.4 L1783.5,800.4 L1786.8,800.5 L1790.1,800.5 L1793.4,800.5 L1796.7,800.5 L1800.1,800.5 L1803.4,800.5 L1806.7,800.6 L1810.0,800.6 L1813.3,800.6 L1816.7,800.6 L1820.0,800.6 L1823.3,800.6 L1826.6,800.6 L1829.9,800.6 L1833.3,800.7" fill="none" stroke="#60b455" stroke-width="3.7" stroke-linejoin="round"/>
<path d="M973.5,800.5 L976.9,800.5 L980.2,800.5 L983.5,800.5 L986.8,800.4 L990.1,800.4 L993.5,800.4 L996.8,800.4 L1000.1,800.4 L1003.4,800.3 L1006.7,800.3 L1010.1,800.3 L1013.4,800.3 L1016.7,800.3 L1020.0,800.2 L1023.3,800.2 L1026.7,800.2 L1030.0,800.1 L1033.3,800.1 L1036.6,800.1 L1039.9,800.0 L1043.2,800.0 L1046.6,800.0 L1049.9,799.9 L1053.2,799.9 L1056.5,799.8 L1059.8,799.8 L1063.2,799.7 L1066.5,799.7 L1069.8,799.6 L1073.1,799.6 L1076.4,799.5 L1079.8,799.4 L1083.1,799.4 L1086.4,799.3 L1089.7,799.2 L1093.0,799.1 L1096.4,799.0 L1099.7,799.0 L1103.0,798.9 L1106.3,798.8 L1109.6,798.6 L1113.0,798.5 L1116.3,798.4 L1119.6,798.3 L1122.9,798.2 L1126.2,798.0 L1129.6,797.9 L1132.9,797.7 L1136.2,797.5 L1139.5,797.4 L1142.8,797.2 L1146.1,797.0 L1149.5,796.8 L1152.8,796.6 L1156.1,796.3 L1159.4,796.1 L1162.7,795.8 L1166.1,795.6 L1169.4,795.3 L1172.7,795.0 L1176.0,794.7 L1179.3,794.3 L1182.7,794.0 L1186.0,793.6 L1189.3,793.2 L1192.6,792.8 L1195.9,792.4 L1199.3,791.9 L1202.6,791.4 L1205.9,790.9 L1209.2,790.4 L1212.5,789.8 L1215.9,789.3 L1219.2,788.6 L1222.5,788.0 L1225.8,787.3 L1229.1,786.6 L1232.5,785.9 L1235.8,785.1 L1239.1,784.3 L1242.4,783.4 L1245.7,782.5 L1249.0,781.6 L1252.4,780.6 L1255.7,779.6 L1259.0,778.5 L1262.3,777.4 L1265.6,776.3 L1269.0,775.1 L1272.3,773.9 L1275.6,772.6 L1278.9,771.3 L1282.2,769.9 L1285.6,768.5 L1288.9,767.1 L1292.2,765.6 L1295.5,764.1 L1298.8,762.5 L1302.2,760.9 L1305.5,759.3 L1308.8,757.6 L1312.1,756.0 L1315.4,754.3 L1318.8,752.6 L1322.1,750.9 L1325.4,749.1 L1328.7,747.4 L1332.0,745.7 L1335.4,744.0 L1338.7,742.3 L1342.0,740.6 L1345.3,739.0 L1348.6,737.4 L1351.9,735.9 L1355.3,734.4 L1358.6,732.9 L1361.9,731.5 L1365.2,730.2 L1368.5,729.0 L1371.9,727.9 L1375.2,726.9 L1378.5,725.9 L1381.8,725.1 L1385.1,724.4 L1388.5,723.8 L1391.8,723.3 L1395.1,722.9 L1398.4,722.6 L1401.7,722.5 L1405.1,722.5 L1408.4,722.6 L1411.7,722.9 L1415.0,723.3 L1418.3,723.8 L1421.7,724.4 L1425.0,725.1 L1428.3,725.9 L1431.6,726.9 L1434.9,727.9 L1438.3,729.0 L1441.6,730.2 L1444.9,731.5 L1448.2,732.9 L1451.5,734.4 L1454.9,735.9 L1458.2,737.4 L1461.5,739.0 L1464.8,740.6 L1468.1,742.3 L1471.4,744.0 L1474.8,745.7 L1478.1,747.4 L1481.4,749.1 L1484.7,750.9 L1488.0,752.6 L1491.4,754.3 L1494.7,756.0 L1498.0,757.6 L1501.3,759.3 L1504.6,760.9 L1508.0,762.5 L1511.3,764.1 L1514.6,765.6 L1517.9,767.1 L1521.2,768.5 L1524.6,769.9 L1527.9,771.3 L1531.2,772.6 L1534.5,773.9 L1537.8,775.1 L1541.2,776.3 L1544.5,777.4 L1547.8,778.5 L1551.1,779.6 L1554.4,780.6 L1557.8,781.6 L1561.1,782.5 L1564.4,783.4 L1567.7,784.3 L1571.0,785.1 L1574.3,785.9 L1577.7,786.6 L1581.0,787.3 L1584.3,788.0 L1587.6,788.6 L1590.9,789.3 L1594.3,789.8 L1597.6,790.4 L1600.9,790.9 L1604.2,791.4 L1607.5,791.9 L1610.9,792.4 L1614.2,792.8 L1617.5,793.2 L1620.8,793.6 L1624.1,794.0 L1627.5,794.3 L1630.8,794.7 L1634.1,795.0 L1637.4,795.3 L1640.7,795.6 L1644.1,795.8 L1647.4,796.1 L1650.7,796.3 L1654.0,796.6 L1657.3,796.8 L1660.7,797.0 L1664.0,797.2 L1667.3,797.4 L1670.6,797.5 L1673.9,797.7 L1677.2,797.9 L1680.6,798.0 L1683.9,798.2 L1687.2,798.3 L1690.5,798.4 L1693.8,798.5 L1697.2,798.6 L1700.5,798.8 L1703.8,798.9 L1707.1,799.0 L1710.4,799.0 L1713.8,799.1 L1717.1,799.2 L1720.4,799.3 L1723.7,799.4 L1727.0,799.4 L1730.4,799.5 L1733.7,799.6 L1737.0,799.6 L1740.3,799.7 L1743.6,799.7 L1747.0,799.8 L1750.3,799.8 L1753.6,799.9 L1756.9,799.9 L1760.2,800.0 L1763.6,800.0 L1766.9,800.0 L1770.2,800.1 L1773.5,800.1 L1776.8,800.1 L1780.1,800.2 L1783.5,800.2 L1786.8,800.2 L1790.1,800.3 L1793.4,800.3 L1796.7,800.3 L1800.1,800.3 L1803.4,800.3 L1806.7,800.4 L1810.0,800.4 L1813.3,800.4 L1816.7,800.4 L1820.0,800.4 L1823.3,800.5 L1826.6,800.5 L1829.9,800.5 L1833.3,800.5" fill="none" stroke="#69b964" stroke-width="3.7" stroke-linejoin="round"/>
<path d="M973.5,800.3 L976.9,800.3 L980.2,800.3 L983.5,800.2 L986.8,800.2 L990.1,800.2 L993.5,800.2 L996.8,800.1 L1000.1,800.1 L1003.4,800.1 L1006.7,800.1 L1010.1,800.0 L1013.4,800.0 L1016.7,800.0 L1020.0,799.9 L1023.3,799.9 L1026.7,799.9 L1030.0,799.8 L1033.3,799.8 L1036.6,799.7 L1039.9,799.7 L1043.2,799.6 L1046.6,799.6 L1049.9,799.5 L1053.2,799.5 L1056.5,799.4 L1059.8,799.4 L1063.2,799.3 L1066.5,799.2 L1069.8,799.2 L1073.1,799.1 L1076.4,799.0 L1079.8,798.9 L1083.1,798.8 L1086.4,798.7 L1089.7,798.6 L1093.0,798.5 L1096.4,798.4 L1099.7,798.3 L1103.0,798.2 L1106.3,798.1 L1109.6,797.9 L1113.0,797.8 L1116.3,797.6 L1119.6,797.5 L1122.9,797.3 L1126.2,797.1 L1129.6,797.0 L1132.9,796.8 L1136.2,796.6 L1139.5,796.3 L1142.8,796.1 L1146.1,795.9 L1149.5,795.6 L1152.8,795.3 L1156.1,795.1 L1159.4,794.8 L1162.7,794.4 L1166.1,794.1 L1169.4,793.8 L1172.7,793.4 L1176.0,793.0 L1179.3,792.6 L1182.7,792.1 L1186.0,791.7 L1189.3,791.2 L1192.6,790.7 L1195.9,790.2 L1199.3,789.6 L1202.6,789.0 L1205.9,788.4 L1209.2,787.7 L1212.5,787.0 L1215.9,786.3 L1219.2,785.6 L1222.5,784.8 L1225.8,783.9 L1229.1,783.1 L1232.5,782.1 L1235.8,781.2 L1239.1,780.2 L1242.4,779.1 L1245.7,778.1 L1249.0,776.9 L1252.4,775.7 L1255.7,774.5 L1259.0,773.2 L1262.3,771.9 L1265.6,770.5 L1269.0,769.1 L1272.3,767.6 L1275.6,766.0 L1278.9,764.5 L1282.2,762.8 L1285.6,761.1 L1288.9,759.4 L1292.2,757.6 L1295.5,755.8 L1298.8,754.0 L1302.2,752.1 L1305.5,750.2 L1308.8,748.2 L1312.1,746.2 L1315.4,744.3 L1318.8,742.2 L1322.1,740.2 L1325.4,738.2 L1328.7,736.2 L1332.0,734.2 L1335.4,732.2 L1338.7,730.2 L1342.0,728.3 L1345.3,726.4 L1348.6,724.6 L1351.9,722.8 L1355.3,721.0 L1358.6,719.4 L1361.9,717.8 L1365.2,716.3 L1368.5,714.9 L1371.9,713.6 L1375.2,712.5 L1378.5,711.4 L1381.8,710.4 L1385.1,709.6 L1388.5,708.9 L1391.8,708.4 L1395.1,707.9 L1398.4,707.7 L1401.7,707.5 L1405.1,707.5 L1408.4,707.7 L1411.7,707.9 L1415.0,708.4 L1418.3,708.9 L1421.7,709.6 L1425.0,710.4 L1428.3,711.4 L1431.6,712.5 L1434.9,713.6 L1438.3,714.9 L1441.6,716.3 L1444.9,717.8 L1448.2,719.4 L1451.5,721.0 L1454.9,722.8 L1458.2,724.6 L1461.5,726.4 L1464.8,728.3 L1468.1,730.2 L1471.4,732.2 L1474.8,734.2 L1478.1,736.2 L1481.4,738.2 L1484.7,740.2 L1488.0,742.2 L1491.4,744.3 L1494.7,746.2 L1498.0,748.2 L1501.3,750.2 L1504.6,752.1 L1508.0,754.0 L1511.3,755.8 L1514.6,757.6 L1517.9,759.4 L1521.2,761.1 L1524.6,762.8 L1527.9,764.5 L1531.2,766.0 L1534.5,767.6 L1537.8,769.1 L1541.2,770.5 L1544.5,771.9 L1547.8,773.2 L1551.1,774.5 L1554.4,775.7 L1557.8,776.9 L1561.1,778.1 L1564.4,779.1 L1567.7,780.2 L1571.0,781.2 L1574.3,782.1 L1577.7,783.1 L1581.0,783.9 L1584.3,784.8 L1587.6,785.6 L1590.9,786.3 L1594.3,787.0 L1597.6,787.7 L1600.9,788.4 L1604.2,789.0 L1607.5,789.6 L1610.9,790.2 L1614.2,790.7 L1617.5,791.2 L1620.8,791.7 L1624.1,792.1 L1627.5,792.6 L1630.8,793.0 L1634.1,793.4 L1637.4,793.8 L1640.7,794.1 L1644.1,794.4 L1647.4,794.8 L1650.7,795.1 L1654.0,795.3 L1657.3,795.6 L1660.7,795.9 L1664.0,796.1 L1667.3,796.3 L1670.6,796.6 L1673.9,796.8 L1677.2,797.0 L1680.6,797.1 L1683.9,797.3 L1687.2,797.5 L1690.5,797.6 L1693.8,797.8 L1697.2,797.9 L1700.5,798.1 L1703.8,798.2 L1707.1,798.3 L1710.4,798.4 L1713.8,798.5 L1717.1,798.6 L1720.4,798.7 L1723.7,798.8 L1727.0,798.9 L1730.4,799.0 L1733.7,799.1 L1737.0,799.2 L1740.3,799.2 L1743.6,799.3 L1747.0,799.4 L1750.3,799.4 L1753.6,799.5 L1756.9,799.5 L1760.2,799.6 L1763.6,799.6 L1766.9,799.7 L1770.2,799.7 L1773.5,799.8 L1776.8,799.8 L1780.1,799.9 L1783.5,799.9 L1786.8,799.9 L1790.1,800.0 L1793.4,800.0 L1796.7,800.0 L1800.1,800.1 L1803.4,800.1 L1806.7,800.1 L1810.0,800.1 L1813.3,800.2 L1816.7,800.2 L1820.0,800.2 L1823.3,800.2 L1826.6,800.3 L1829.9,800.3 L1833.3,800.3" fill="none" stroke="#92cea7" stroke-width="3.7" stroke-linejoin="round"/>
<path d="M973.5,800.0 L976.9,800.0 L980.2,800.0 L983.5,800.0 L986.8,799.9 L990.1,799.9 L993.5,799.9 L996.8,799.8 L1000.1,799.8 L1003.4,799.8 L1006.7,799.7 L1010.1,799.7 L1013.4,799.7 L1016.7,799.6 L1020.0,799.6 L1023.3,799.5 L1026.7,799.5 L1030.0,799.4 L1033.3,799.4 L1036.6,799.3 L1039.9,799.3 L1043.2,799.2 L1046.6,799.1 L1049.9,799.1 L1053.2,799.0 L1056.5,798.9 L1059.8,798.9 L1063.2,798.8 L1066.5,798.7 L1069.8,798.6 L1073.1,798.5 L1076.4,798.4 L1079.8,798.3 L1083.1,798.2 L1086.4,798.1 L1089.7,798.0 L1093.0,797.8 L1096.4,797.7 L1099.7,797.5 L1103.0,797.4 L1106.3,797.2 L1109.6,797.1 L1113.0,796.9 L1116.3,796.7 L1119.6,796.5 L1122.9,796.3 L1126.2,796.1 L1129.6,795.9 L1132.9,795.6 L1136.2,795.4 L1139.5,795.1 L1142.8,794.8 L1146.1,794.5 L1149.5,794.2 L1152.8,793.9 L1156.1,793.5 L1159.4,793.2 L1162.7,792.8 L1166.1,792.4 L1169.4,791.9 L1172.7,791.5 L1176.0,791.0 L1179.3,790.5 L1182.7,790.0 L1186.0,789.4 L1189.3,788.8 L1192.6,788.2 L1195.9,787.5 L1199.3,786.9 L1202.6,786.1 L1205.9,785.4 L1209.2,784.6 L1212.5,783.8 L1215.9,782.9 L1219.2,782.0 L1222.5,781.0 L1225.8,780.0 L1229.1,778.9 L1232.5,777.8 L1235.8,776.7 L1239.1,775.5 L1242.4,774.2 L1245.7,772.9 L1249.0,771.5 L1252.4,770.1 L1255.7,768.6 L1259.0,767.1 L1262.3,765.5 L1265.6,763.8 L1269.0,762.1 L1272.3,760.3 L1275.6,758.5 L1278.9,756.6 L1282.2,754.7 L1285.6,752.7 L1288.9,750.6 L1292.2,748.6 L1295.5,746.4 L1298.8,744.2 L1302.2,742.0 L1305.5,739.8 L1308.8,737.5 L1312.1,735.2 L1315.4,732.9 L1318.8,730.6 L1322.1,728.2 L1325.4,725.9 L1328.7,723.6 L1332.0,721.3 L1335.4,719.0 L1338.7,716.8 L1342.0,714.6 L1345.3,712.4 L1348.6,710.3 L1351.9,708.3 L1355.3,706.4 L1358.6,704.5 L1361.9,702.8 L1365.2,701.1 L1368.5,699.5 L1371.9,698.1 L1375.2,696.8 L1378.5,695.6 L1381.8,694.5 L1385.1,693.6 L1388.5,692.9 L1391.8,692.3 L1395.1,691.8 L1398.4,691.5 L1401.7,691.3 L1405.1,691.3 L1408.4,691.5 L1411.7,691.8 L1415.0,692.3 L1418.3,692.9 L1421.7,693.6 L1425.0,694.5 L1428.3,695.6 L1431.6,696.8 L1434.9,698.1 L1438.3,699.5 L1441.6,701.1 L1444.9,702.8 L1448.2,704.5 L1451.5,706.4 L1454.9,708.3 L1458.2,710.3 L1461.5,712.4 L1464.8,714.6 L1468.1,716.8 L1471.4,719.0 L1474.8,721.3 L1478.1,723.6 L1481.4,725.9 L1484.7,728.2 L1488.0,730.6 L1491.4,732.9 L1494.7,735.2 L1498.0,737.5 L1501.3,739.8 L1504.6,742.0 L1508.0,744.2 L1511.3,746.4 L1514.6,748.6 L1517.9,750.6 L1521.2,752.7 L1524.6,754.7 L1527.9,756.6 L1531.2,758.5 L1534.5,760.3 L1537.8,762.1 L1541.2,763.8 L1544.5,765.5 L1547.8,767.1 L1551.1,768.6 L1554.4,770.1 L1557.8,771.5 L1561.1,772.9 L1564.4,774.2 L1567.7,775.5 L1571.0,776.7 L1574.3,777.8 L1577.7,778.9 L1581.0,780.0 L1584.3,781.0 L1587.6,782.0 L1590.9,782.9 L1594.3,783.8 L1597.6,784.6 L1600.9,785.4 L1604.2,786.1 L1607.5,786.9 L1610.9,787.5 L1614.2,788.2 L1617.5,788.8 L1620.8,789.4 L1624.1,790.0 L1627.5,790.5 L1630.8,791.0 L1634.1,791.5 L1637.4,791.9 L1640.7,792.4 L1644.1,792.8 L1647.4,793.2 L1650.7,793.5 L1654.0,793.9 L1657.3,794.2 L1660.7,794.5 L1664.0,794.8 L1667.3,795.1 L1670.6,795.4 L1673.9,795.6 L1677.2,795.9 L1680.6,796.1 L1683.9,796.3 L1687.2,796.5 L1690.5,796.7 L1693.8,796.9 L1697.2,797.1 L1700.5,797.2 L1703.8,797.4 L1707.1,797.5 L1710.4,797.7 L1713.8,797.8 L1717.1,798.0 L1720.4,798.1 L1723.7,798.2 L1727.0,798.3 L1730.4,798.4 L1733.7,798.5 L1737.0,798.6 L1740.3,798.7 L1743.6,798.8 L1747.0,798.9 L1750.3,798.9 L1753.6,799.0 L1756.9,799.1 L1760.2,799.1 L1763.6,799.2 L1766.9,799.3 L1770.2,799.3 L1773.5,799.4 L1776.8,799.4 L1780.1,799.5 L1783.5,799.5 L1786.8,799.6 L1790.1,799.6 L1793.4,799.7 L1796.7,799.7 L1800.1,799.7 L1803.4,799.8 L1806.7,799.8 L1810.0,799.8 L1813.3,799.9 L1816.7,799.9 L1820.0,799.9 L1823.3,800.0 L1826.6,800.0 L1829.9,800.0 L1833.3,800.0" fill="none" stroke="#8ccba1" stroke-width="3.7" stroke-linejoin="round"/>
<path d="M973.5,799.8 L976.9,799.7 L980.2,799.7 L983.5,799.7 L986.8,799.6 L990.1,799.6 L993.5,799.6 L996.8,799.5 L1000.1,799.5 L1003.4,799.4 L1006.7,799.4 L1010.1,799.3 L1013.4,799.3 L1016.7,799.2 L1020.0,799.2 L1023.3,799.1 L1026.7,799.1 L1030.0,799.0 L1033.3,799.0 L1036.6,798.9 L1039.9,798.8 L1043.2,798.8 L1046.6,798.7 L1049.9,798.6 L1053.2,798.5 L1056.5,798.4 L1059.8,798.3 L1063.2,798.2 L1066.5,798.1 L1069.8,798.0 L1073.1,797.9 L1076.4,797.8 L1079.8,797.7 L1083.1,797.6 L1086.4,797.4 L1089.7,797.3 L1093.0,797.1 L1096.4,797.0 L1099.7,796.8 L1103.0,796.6 L1106.3,796.4 L1109.6,796.2 L1113.0,796.0 L1116.3,795.8 L1119.6,795.6 L1122.9,795.3 L1126.2,795.1 L1129.6,794.8 L1132.9,794.5 L1136.2,794.2 L1139.5,793.9 L1142.8,793.6 L1146.1,793.2 L1149.5,792.9 L1152.8,792.5 L1156.1,792.1 L1159.4,791.6 L1162.7,791.2 L1166.1,790.7 L1169.4,790.2 L1172.7,789.7 L1176.0,789.1 L1179.3,788.5 L1182.7,787.9 L1186.0,787.3 L1189.3,786.6 L1192.6,785.8 L1195.9,785.1 L1199.3,784.3 L1202.6,783.4 L1205.9,782.5 L1209.2,781.6 L1212.5,780.6 L1215.9,779.6 L1219.2,778.6 L1222.5,777.4 L1225.8,776.3 L1229.1,775.0 L1232.5,773.7 L1235.8,772.4 L1239.1,771.0 L1242.4,769.5 L1245.7,768.0 L1249.0,766.4 L1252.4,764.8 L1255.7,763.1 L1259.0,761.3 L1262.3,759.4 L1265.6,757.5 L1269.0,755.6 L1272.3,753.5 L1275.6,751.4 L1278.9,749.3 L1282.2,747.1 L1285.6,744.8 L1288.9,742.5 L1292.2,740.1 L1295.5,737.7 L1298.8,735.2 L1302.2,732.7 L1305.5,730.2 L1308.8,727.7 L1312.1,725.1 L1315.4,722.5 L1318.8,719.9 L1322.1,717.3 L1325.4,714.8 L1328.7,712.2 L1332.0,709.7 L1335.4,707.2 L1338.7,704.7 L1342.0,702.3 L1345.3,700.0 L1348.6,697.7 L1351.9,695.5 L1355.3,693.4 L1358.6,691.4 L1361.9,689.5 L1365.2,687.7 L1368.5,686.1 L1371.9,684.5 L1375.2,683.1 L1378.5,681.9 L1381.8,680.7 L1385.1,679.8 L1388.5,679.0 L1391.8,678.3 L1395.1,677.8 L1398.4,677.5 L1401.7,677.3 L1405.1,677.3 L1408.4,677.5 L1411.7,677.8 L1415.0,678.3 L1418.3,679.0 L1421.7,679.8 L1425.0,680.7 L1428.3,681.9 L1431.6,683.1 L1434.9,684.5 L1438.3,686.1 L1441.6,687.7 L1444.9,689.5 L1448.2,691.4 L1451.5,693.4 L1454.9,695.5 L1458.2,697.7 L1461.5,700.0 L1464.8,702.3 L1468.1,704.7 L1471.4,707.2 L1474.8,709.7 L1478.1,712.2 L1481.4,714.8 L1484.7,717.3 L1488.0,719.9 L1491.4,722.5 L1494.7,725.1 L1498.0,727.7 L1501.3,730.2 L1504.6,732.7 L1508.0,735.2 L1511.3,737.7 L1514.6,740.1 L1517.9,742.5 L1521.2,744.8 L1524.6,747.1 L1527.9,749.3 L1531.2,751.4 L1534.5,753.5 L1537.8,755.6 L1541.2,757.5 L1544.5,759.4 L1547.8,761.3 L1551.1,763.1 L1554.4,764.8 L1557.8,766.4 L1561.1,768.0 L1564.4,769.5 L1567.7,771.0 L1571.0,772.4 L1574.3,773.7 L1577.7,775.0 L1581.0,776.3 L1584.3,777.4 L1587.6,778.6 L1590.9,779.6 L1594.3,780.6 L1597.6,781.6 L1600.9,782.5 L1604.2,783.4 L1607.5,784.3 L1610.9,785.1 L1614.2,785.8 L1617.5,786.6 L1620.8,787.3 L1624.1,787.9 L1627.5,788.5 L1630.8,789.1 L1634.1,789.7 L1637.4,790.2 L1640.7,790.7 L1644.1,791.2 L1647.4,791.6 L1650.7,792.1 L1654.0,792.5 L1657.3,792.9 L1660.7,793.2 L1664.0,793.6 L1667.3,793.9 L1670.6,794.2 L1673.9,794.5 L1677.2,794.8 L1680.6,795.1 L1683.9,795.3 L1687.2,795.6 L1690.5,795.8 L1693.8,796.0 L1697.2,796.2 L1700.5,796.4 L1703.8,796.6 L1707.1,796.8 L1710.4,797.0 L1713.8,797.1 L1717.1,797.3 L1720.4,797.4 L1723.7,797.6 L1727.0,797.7 L1730.4,797.8 L1733.7,797.9 L1737.0,798.0 L1740.3,798.1 L1743.6,798.2 L1747.0,798.3 L1750.3,798.4 L1753.6,798.5 L1756.9,798.6 L1760.2,798.7 L1763.6,798.8 L1766.9,798.8 L1770.2,798.9 L1773.5,799.0 L1776.8,799.0 L1780.1,799.1 L1783.5,799.1 L1786.8,799.2 L1790.1,799.2 L1793.4,799.3 L1796.7,799.3 L1800.1,799.4 L1803.4,799.4 L1806.7,799.5 L1810.0,799.5 L1813.3,799.6 L1816.7,799.6 L1820.0,799.6 L1823.3,799.7 L1826.6,799.7 L1829.9,799.7 L1833.3,799.8" fill="none" stroke="#55b589" stroke-width="3.7" stroke-linejoin="round"/>
<path d="M973.5,799.4 L976.9,799.3 L980.2,799.3 L983.5,799.2 L986.8,799.2 L990.1,799.2 L993.5,799.1 L996.8,799.1 L1000.1,799.0 L1003.4,799.0 L1006.7,798.9 L1010.1,798.9 L1013.4,798.8 L1016.7,798.7 L1020.0,798.7 L1023.3,798.6 L1026.7,798.5 L1030.0,798.5 L1033.3,798.4 L1036.6,798.3 L1039.9,798.2 L1043.2,798.1 L1046.6,798.0 L1049.9,798.0 L1053.2,797.9 L1056.5,797.7 L1059.8,797.6 L1063.2,797.5 L1066.5,797.4 L1069.8,797.3 L1073.1,797.1 L1076.4,797.0 L1079.8,796.9 L1083.1,796.7 L1086.4,796.5 L1089.7,796.4 L1093.0,796.2 L1096.4,796.0 L1099.7,795.8 L1103.0,795.6 L1106.3,795.4 L1109.6,795.1 L1113.0,794.9 L1116.3,794.6 L1119.6,794.4 L1122.9,794.1 L1126.2,793.8 L1129.6,793.4 L1132.9,793.1 L1136.2,792.8 L1139.5,792.4 L1142.8,792.0 L1146.1,791.6 L1149.5,791.1 L1152.8,790.7 L1156.1,790.2 L1159.4,789.7 L1162.7,789.1 L1166.1,788.6 L1169.4,788.0 L1172.7,787.3 L1176.0,786.7 L1179.3,785.9 L1182.7,785.2 L1186.0,784.4 L1189.3,783.6 L1192.6,782.7 L1195.9,781.8 L1199.3,780.9 L1202.6,779.9 L1205.9,778.8 L1209.2,777.7 L1212.5,776.6 L1215.9,775.3 L1219.2,774.1 L1222.5,772.7 L1225.8,771.3 L1229.1,769.9 L1232.5,768.3 L1235.8,766.7 L1239.1,765.1 L1242.4,763.3 L1245.7,761.5 L1249.0,759.7 L1252.4,757.7 L1255.7,755.7 L1259.0,753.6 L1262.3,751.4 L1265.6,749.2 L1269.0,746.9 L1272.3,744.5 L1275.6,742.0 L1278.9,739.5 L1282.2,737.0 L1285.6,734.3 L1288.9,731.6 L1292.2,728.9 L1295.5,726.1 L1298.8,723.3 L1302.2,720.5 L1305.5,717.6 L1308.8,714.7 L1312.1,711.8 L1315.4,708.9 L1318.8,706.0 L1322.1,703.1 L1325.4,700.2 L1328.7,697.4 L1332.0,694.6 L1335.4,691.9 L1338.7,689.2 L1342.0,686.6 L1345.3,684.0 L1348.6,681.6 L1351.9,679.2 L1355.3,677.0 L1358.6,674.8 L1361.9,672.8 L1365.2,670.9 L1368.5,669.2 L1371.9,667.5 L1375.2,666.1 L1378.5,664.7 L1381.8,663.6 L1385.1,662.6 L1388.5,661.7 L1391.8,661.0 L1395.1,660.5 L1398.4,660.2 L1401.7,660.0 L1405.1,660.0 L1408.4,660.2 L1411.7,660.5 L1415.0,661.0 L1418.3,661.7 L1421.7,662.6 L1425.0,663.6 L1428.3,664.7 L1431.6,666.1 L1434.9,667.5 L1438.3,669.2 L1441.6,670.9 L1444.9,672.8 L1448.2,674.8 L1451.5,677.0 L1454.9,679.2 L1458.2,681.6 L1461.5,684.0 L1464.8,686.6 L1468.1,689.2 L1471.4,691.9 L1474.8,694.6 L1478.1,697.4 L1481.4,700.2 L1484.7,703.1 L1488.0,706.0 L1491.4,708.9 L1494.7,711.8 L1498.0,714.7 L1501.3,717.6 L1504.6,720.5 L1508.0,723.3 L1511.3,726.1 L1514.6,728.9 L1517.9,731.6 L1521.2,734.3 L1524.6,737.0 L1527.9,739.5 L1531.2,742.0 L1534.5,744.5 L1537.8,746.9 L1541.2,749.2 L1544.5,751.4 L1547.8,753.6 L1551.1,755.7 L1554.4,757.7 L1557.8,759.7 L1561.1,761.5 L1564.4,763.3 L1567.7,765.1 L1571.0,766.7 L1574.3,768.3 L1577.7,769.9 L1581.0,771.3 L1584.3,772.7 L1587.6,774.1 L1590.9,775.3 L1594.3,776.6 L1597.6,777.7 L1600.9,778.8 L1604.2,779.9 L1607.5,780.9 L1610.9,781.8 L1614.2,782.7 L1617.5,783.6 L1620.8,784.4 L1624.1,785.2 L1627.5,785.9 L1630.8,786.7 L1634.1,787.3 L1637.4,788.0 L1640.7,788.6 L1644.1,789.1 L1647.4,789.7 L1650.7,790.2 L1654.0,790.7 L1657.3,791.1 L1660.7,791.6 L1664.0,792.0 L1667.3,792.4 L1670.6,792.8 L1673.9,793.1 L1677.2,793.4 L1680.6,793.8 L1683.9,794.1 L1687.2,794.4 L1690.5,794.6 L1693.8,794.9 L1697.2,795.1 L1700.5,795.4 L1703.8,795.6 L1707.1,795.8 L1710.4,796.0 L1713.8,796.2 L1717.1,796.4 L1720.4,796.5 L1723.7,796.7 L1727.0,796.9 L1730.4,797.0 L1733.7,797.1 L1737.0,797.3 L1740.3,797.4 L1743.6,797.5 L1747.0,797.6 L1750.3,797.7 L1753.6,797.9 L1756.9,798.0 L1760.2,798.0 L1763.6,798.1 L1766.9,798.2 L1770.2,798.3 L1773.5,798.4 L1776.8,798.5 L1780.1,798.5 L1783.5,798.6 L1786.8,798.7 L1790.1,798.7 L1793.4,798.8 L1796.7,798.9 L1800.1,798.9 L1803.4,799.0 L1806.7,799.0 L1810.0,799.1 L1813.3,799.1 L1816.7,799.2 L1820.0,799.2 L1823.3,799.2 L1826.6,799.3 L1829.9,799.3 L1833.3,799.4" fill="none" stroke="#55ae5e" stroke-width="3.7" stroke-linejoin="round"/>
<path d="M973.5,799.0 L976.9,799.0 L980.2,798.9 L983.5,798.9 L986.8,798.8 L990.1,798.8 L993.5,798.7 L996.8,798.7 L1000.1,798.6 L1003.4,798.5 L1006.7,798.5 L1010.1,798.4 L1013.4,798.4 L1016.7,798.3 L1020.0,798.2 L1023.3,798.1 L1026.7,798.1 L1030.0,798.0 L1033.3,797.9 L1036.6,797.8 L1039.9,797.7 L1043.2,797.6 L1046.6,797.5 L1049.9,797.4 L1053.2,797.3 L1056.5,797.2 L1059.8,797.0 L1063.2,796.9 L1066.5,796.8 L1069.8,796.6 L1073.1,796.5 L1076.4,796.3 L1079.8,796.1 L1083.1,796.0 L1086.4,795.8 L1089.7,795.6 L1093.0,795.4 L1096.4,795.2 L1099.7,795.0 L1103.0,794.7 L1106.3,794.5 L1109.6,794.2 L1113.0,793.9 L1116.3,793.6 L1119.6,793.3 L1122.9,793.0 L1126.2,792.7 L1129.6,792.3 L1132.9,791.9 L1136.2,791.5 L1139.5,791.1 L1142.8,790.7 L1146.1,790.2 L1149.5,789.7 L1152.8,789.2 L1156.1,788.6 L1159.4,788.0 L1162.7,787.4 L1166.1,786.8 L1169.4,786.1 L1172.7,785.4 L1176.0,784.6 L1179.3,783.8 L1182.7,783.0 L1186.0,782.1 L1189.3,781.2 L1192.6,780.2 L1195.9,779.2 L1199.3,778.1 L1202.6,776.9 L1205.9,775.7 L1209.2,774.5 L1212.5,773.2 L1215.9,771.8 L1219.2,770.3 L1222.5,768.8 L1225.8,767.2 L1229.1,765.6 L1232.5,763.8 L1235.8,762.0 L1239.1,760.1 L1242.4,758.2 L1245.7,756.1 L1249.0,754.0 L1252.4,751.8 L1255.7,749.5 L1259.0,747.1 L1262.3,744.7 L1265.6,742.2 L1269.0,739.6 L1272.3,736.9 L1275.6,734.2 L1278.9,731.4 L1282.2,728.5 L1285.6,725.6 L1288.9,722.6 L1292.2,719.6 L1295.5,716.5 L1298.8,713.4 L1302.2,710.3 L1305.5,707.2 L1308.8,704.1 L1312.1,700.9 L1315.4,697.8 L1318.8,694.7 L1322.1,691.6 L1325.4,688.5 L1328.7,685.5 L1332.0,682.6 L1335.4,679.7 L1338.7,676.9 L1342.0,674.1 L1345.3,671.5 L1348.6,669.0 L1351.9,666.5 L1355.3,664.2 L1358.6,662.0 L1361.9,660.0 L1365.2,658.1 L1368.5,656.3 L1371.9,654.6 L1375.2,653.2 L1378.5,651.8 L1381.8,650.7 L1385.1,649.7 L1388.5,648.8 L1391.8,648.1 L1395.1,647.6 L1398.4,647.3 L1401.7,647.1 L1405.1,647.1 L1408.4,647.3 L1411.7,647.6 L1415.0,648.1 L1418.3,648.8 L1421.7,649.7 L1425.0,650.7 L1428.3,651.8 L1431.6,653.2 L1434.9,654.6 L1438.3,656.3 L1441.6,658.1 L1444.9,660.0 L1448.2,662.0 L1451.5,664.2 L1454.9,666.5 L1458.2,669.0 L1461.5,671.5 L1464.8,674.1 L1468.1,676.9 L1471.4,679.7 L1474.8,682.6 L1478.1,685.5 L1481.4,688.5 L1484.7,691.6 L1488.0,694.7 L1491.4,697.8 L1494.7,700.9 L1498.0,704.1 L1501.3,707.2 L1504.6,710.3 L1508.0,713.4 L1511.3,716.5 L1514.6,719.6 L1517.9,722.6 L1521.2,725.6 L1524.6,728.5 L1527.9,731.4 L1531.2,734.2 L1534.5,736.9 L1537.8,739.6 L1541.2,742.2 L1544.5,744.7 L1547.8,747.1 L1551.1,749.5 L1554.4,751.8 L1557.8,754.0 L1561.1,756.1 L1564.4,758.2 L1567.7,760.1 L1571.0,762.0 L1574.3,763.8 L1577.7,765.6 L1581.0,767.2 L1584.3,768.8 L1587.6,770.3 L1590.9,771.8 L1594.3,773.2 L1597.6,774.5 L1600.9,775.7 L1604.2,776.9 L1607.5,778.1 L1610.9,779.2 L1614.2,780.2 L1617.5,781.2 L1620.8,782.1 L1624.1,783.0 L1627.5,783.8 L1630.8,784.6 L1634.1,785.4 L1637.4,786.1 L1640.7,786.8 L1644.1,787.4 L1647.4,788.0 L1650.7,788.6 L1654.0,789.2 L1657.3,789.7 L1660.7,790.2 L1664.0,790.7 L1667.3,791.1 L1670.6,791.5 L1673.9,791.9 L1677.2,792.3 L1680.6,792.7 L1683.9,793.0 L1687.2,793.3 L1690.5,793.6 L1693.8,793.9 L1697.2,794.2 L1700.5,794.5 L1703.8,794.7 L1707.1,795.0 L1710.4,795.2 L1713.8,795.4 L1717.1,795.6 L1720.4,795.8 L1723.7,796.0 L1727.0,796.1 L1730.4,796.3 L1733.7,796.5 L1737.0,796.6 L1740.3,796.8 L1743.6,796.9 L1747.0,797.0 L1750.3,797.2 L1753.6,797.3 L1756.9,797.4 L1760.2,797.5 L1763.6,797.6 L1766.9,797.7 L1770.2,797.8 L1773.5,797.9 L1776.8,798.0 L1780.1,798.1 L1783.5,798.1 L1786.8,798.2 L1790.1,798.3 L1793.4,798.4 L1796.7,798.4 L1800.1,798.5 L1803.4,798.5 L1806.7,798.6 L1810.0,798.7 L1813.3,798.7 L1816.7,798.8 L1820.0,798.8 L1823.3,798.9 L1826.6,798.9 L1829.9,799.0 L1833.3,799.0" fill="none" stroke="#59b25a" stroke-width="3.7" stroke-linejoin="round"/>
<path d="M973.5,798.7 L976.9,798.6 L980.2,798.6 L983.5,798.5 L986.8,798.4 L990.1,798.4 L993.5,798.3 L996.8,798.3 L1000.1,798.2 L1003.4,798.1 L1006.7,798.1 L1010.1,798.0 L1013.4,797.9 L1016.7,797.9 L1020.0,797.8 L1023.3,797.7 L1026.7,797.6 L1030.0,797.5 L1033.3,797.4 L1036.6,797.3 L1039.9,797.2 L1043.2,797.1 L1046.6,797.0 L1049.9,796.9 L1053.2,796.7 L1056.5,796.6 L1059.8,796.5 L1063.2,796.3 L1066.5,796.2 L1069.8,796.0 L1073.1,795.9 L1076.4,795.7 L1079.8,795.5 L1083.1,795.3 L1086.4,795.1 L1089.7,794.9 L1093.0,794.7 L1096.4,794.4 L1099.7,794.2 L1103.0,793.9 L1106.3,793.6 L1109.6,793.4 L1113.0,793.1 L1116.3,792.7 L1119.6,792.4 L1122.9,792.0 L1126.2,791.7 L1129.6,791.3 L1132.9,790.9 L1136.2,790.4 L1139.5,789.9 L1142.8,789.5 L1146.1,788.9 L1149.5,788.4 L1152.8,787.8 L1156.1,787.2 L1159.4,786.6 L1162.7,785.9 L1166.1,785.2 L1169.4,784.4 L1172.7,783.6 L1176.0,782.8 L1179.3,781.9 L1182.7,781.0 L1186.0,780.0 L1189.3,779.0 L1192.6,777.9 L1195.9,776.7 L1199.3,775.5 L1202.6,774.2 L1205.9,772.9 L1209.2,771.5 L1212.5,770.0 L1215.9,768.5 L1219.2,766.9 L1222.5,765.2 L1225.8,763.4 L1229.1,761.6 L1232.5,759.6 L1235.8,757.6 L1239.1,755.5 L1242.4,753.3 L1245.7,751.0 L1249.0,748.7 L1252.4,746.2 L1255.7,743.7 L1259.0,741.1 L1262.3,738.4 L1265.6,735.6 L1269.0,732.7 L1272.3,729.8 L1275.6,726.8 L1278.9,723.7 L1282.2,720.6 L1285.6,717.4 L1288.9,714.2 L1292.2,710.9 L1295.5,707.6 L1298.8,704.3 L1302.2,700.9 L1305.5,697.6 L1308.8,694.2 L1312.1,690.9 L1315.4,687.6 L1318.8,684.3 L1322.1,681.1 L1325.4,677.9 L1328.7,674.8 L1332.0,671.7 L1335.4,668.8 L1338.7,665.9 L1342.0,663.1 L1345.3,660.4 L1348.6,657.9 L1351.9,655.4 L1355.3,653.1 L1358.6,650.9 L1361.9,648.9 L1365.2,647.0 L1368.5,645.3 L1371.9,643.6 L1375.2,642.2 L1378.5,640.9 L1381.8,639.8 L1385.1,638.8 L1388.5,638.0 L1391.8,637.3 L1395.1,636.8 L1398.4,636.5 L1401.7,636.3 L1405.1,636.3 L1408.4,636.5 L1411.7,636.8 L1415.0,637.3 L1418.3,638.0 L1421.7,638.8 L1425.0,639.8 L1428.3,640.9 L1431.6,642.2 L1434.9,643.6 L1438.3,645.3 L1441.6,647.0 L1444.9,648.9 L1448.2,650.9 L1451.5,653.1 L1454.9,655.4 L1458.2,657.9 L1461.5,660.4 L1464.8,663.1 L1468.1,665.9 L1471.4,668.8 L1474.8,671.7 L1478.1,674.8 L1481.4,677.9 L1484.7,681.1 L1488.0,684.3 L1491.4,687.6 L1494.7,690.9 L1498.0,694.2 L1501.3,697.6 L1504.6,700.9 L1508.0,704.3 L1511.3,707.6 L1514.6,710.9 L1517.9,714.2 L1521.2,717.4 L1524.6,720.6 L1527.9,723.7 L1531.2,726.8 L1534.5,729.8 L1537.8,732.7 L1541.2,735.6 L1544.5,738.4 L1547.8,741.1 L1551.1,743.7 L1554.4,746.2 L1557.8,748.7 L1561.1,751.0 L1564.4,753.3 L1567.7,755.5 L1571.0,757.6 L1574.3,759.6 L1577.7,761.6 L1581.0,763.4 L1584.3,765.2 L1587.6,766.9 L1590.9,768.5 L1594.3,770.0 L1597.6,771.5 L1600.9,772.9 L1604.2,774.2 L1607.5,775.5 L1610.9,776.7 L1614.2,777.9 L1617.5,779.0 L1620.8,780.0 L1624.1,781.0 L1627.5,781.9 L1630.8,782.8 L1634.1,783.6 L1637.4,784.4 L1640.7,785.2 L1644.1,785.9 L1647.4,786.6 L1650.7,787.2 L1654.0,787.8 L1657.3,788.4 L1660.7,788.9 L1664.0,789.5 L1667.3,789.9 L1670.6,790.4 L1673.9,790.9 L1677.2,791.3 L1680.6,791.7 L1683.9,792.0 L1687.2,792.4 L1690.5,792.7 L1693.8,793.1 L1697.2,793.4 L1700.5,793.6 L1703.8,793.9 L1707.1,794.2 L1710.4,794.4 L1713.8,794.7 L1717.1,794.9 L1720.4,795.1 L1723.7,795.3 L1727.0,795.5 L1730.4,795.7 L1733.7,795.9 L1737.0,796.0 L1740.3,796.2 L1743.6,796.3 L1747.0,796.5 L1750.3,796.6 L1753.6,796.7 L1756.9,796.9 L1760.2,797.0 L1763.6,797.1 L1766.9,797.2 L1770.2,797.3 L1773.5,797.4 L1776.8,797.5 L1780.1,797.6 L1783.5,797.7 L1786.8,797.8 L1790.1,797.9 L1793.4,797.9 L1796.7,798.0 L1800.1,798.1 L1803.4,798.1 L1806.7,798.2 L1810.0,798.3 L1813.3,798.3 L1816.7,798.4 L1820.0,798.4 L1823.3,798.5 L1826.6,798.6 L1829.9,798.6 L1833.3,798.7" fill="none" stroke="#5394c9" stroke-width="3.7" stroke-linejoin="round"/>
<path d="M973.5,798.4 L976.9,798.4 L980.2,798.3 L983.5,798.2 L986.8,798.2 L990.1,798.1 L993.5,798.1 L996.8,798.0 L1000.1,797.9 L1003.4,797.9 L1006.7,797.8 L1010.1,797.7 L1013.4,797.6 L1016.7,797.5 L1020.0,797.5 L1023.3,797.4 L1026.7,797.3 L1030.0,797.2 L1033.3,797.1 L1036.6,797.0 L1039.9,796.9 L1043.2,796.7 L1046.6,796.6 L1049.9,796.5 L1053.2,796.4 L1056.5,796.2 L1059.8,796.1 L1063.2,795.9 L1066.5,795.8 L1069.8,795.6 L1073.1,795.4 L1076.4,795.2 L1079.8,795.1 L1083.1,794.9 L1086.4,794.6 L1089.7,794.4 L1093.0,794.2 L1096.4,793.9 L1099.7,793.7 L1103.0,793.4 L1106.3,793.1 L1109.6,792.8 L1113.0,792.5 L1116.3,792.2 L1119.6,791.8 L1122.9,791.4 L1126.2,791.0 L1129.6,790.6 L1132.9,790.2 L1136.2,789.7 L1139.5,789.2 L1142.8,788.7 L1146.1,788.1 L1149.5,787.6 L1152.8,787.0 L1156.1,786.3 L1159.4,785.6 L1162.7,784.9 L1166.1,784.2 L1169.4,783.4 L1172.7,782.5 L1176.0,781.6 L1179.3,780.7 L1182.7,779.7 L1186.0,778.6 L1189.3,777.5 L1192.6,776.4 L1195.9,775.1 L1199.3,773.8 L1202.6,772.5 L1205.9,771.0 L1209.2,769.5 L1212.5,768.0 L1215.9,766.3 L1219.2,764.6 L1222.5,762.7 L1225.8,760.8 L1229.1,758.8 L1232.5,756.7 L1235.8,754.6 L1239.1,752.3 L1242.4,749.9 L1245.7,747.5 L1249.0,744.9 L1252.4,742.3 L1255.7,739.6 L1259.0,736.7 L1262.3,733.8 L1265.6,730.9 L1269.0,727.8 L1272.3,724.6 L1275.6,721.4 L1278.9,718.1 L1282.2,714.8 L1285.6,711.4 L1288.9,708.0 L1292.2,704.5 L1295.5,701.0 L1298.8,697.5 L1302.2,694.0 L1305.5,690.5 L1308.8,687.0 L1312.1,683.5 L1315.4,680.1 L1318.8,676.7 L1322.1,673.4 L1325.4,670.1 L1328.7,666.9 L1332.0,663.8 L1335.4,660.8 L1338.7,657.9 L1342.0,655.1 L1345.3,652.5 L1348.6,649.9 L1351.9,647.5 L1355.3,645.2 L1358.6,643.0 L1361.9,641.0 L1365.2,639.2 L1368.5,637.5 L1371.9,635.9 L1375.2,634.5 L1378.5,633.2 L1381.8,632.1 L1385.1,631.2 L1388.5,630.4 L1391.8,629.8 L1395.1,629.3 L1398.4,629.0 L1401.7,628.8 L1405.1,628.8 L1408.4,629.0 L1411.7,629.3 L1415.0,629.8 L1418.3,630.4 L1421.7,631.2 L1425.0,632.1 L1428.3,633.2 L1431.6,634.5 L1434.9,635.9 L1438.3,637.5 L1441.6,639.2 L1444.9,641.0 L1448.2,643.0 L1451.5,645.2 L1454.9,647.5 L1458.2,649.9 L1461.5,652.5 L1464.8,655.1 L1468.1,657.9 L1471.4,660.8 L1474.8,663.8 L1478.1,666.9 L1481.4,670.1 L1484.7,673.4 L1488.0,676.7 L1491.4,680.1 L1494.7,683.5 L1498.0,687.0 L1501.3,690.5 L1504.6,694.0 L1508.0,697.5 L1511.3,701.0 L1514.6,704.5 L1517.9,708.0 L1521.2,711.4 L1524.6,714.8 L1527.9,718.1 L1531.2,721.4 L1534.5,724.6 L1537.8,727.8 L1541.2,730.9 L1544.5,733.8 L1547.8,736.7 L1551.1,739.6 L1554.4,742.3 L1557.8,744.9 L1561.1,747.5 L1564.4,749.9 L1567.7,752.3 L1571.0,754.6 L1574.3,756.7 L1577.7,758.8 L1581.0,760.8 L1584.3,762.7 L1587.6,764.6 L1590.9,766.3 L1594.3,768.0 L1597.6,769.5 L1600.9,771.0 L1604.2,772.5 L1607.5,773.8 L1610.9,775.1 L1614.2,776.4 L1617.5,777.5 L1620.8,778.6 L1624.1,779.7 L1627.5,780.7 L1630.8,781.6 L1634.1,782.5 L1637.4,783.4 L1640.7,784.2 L1644.1,784.9 L1647.4,785.6 L1650.7,786.3 L1654.0,787.0 L1657.3,787.6 L1660.7,788.1 L1664.0,788.7 L1667.3,789.2 L1670.6,789.7 L1673.9,790.2 L1677.2,790.6 L1680.6,791.0 L1683.9,791.4 L1687.2,791.8 L1690.5,792.2 L1693.8,792.5 L1697.2,792.8 L1700.5,793.1 L1703.8,793.4 L1707.1,793.7 L1710.4,793.9 L1713.8,794.2 L1717.1,794.4 L1720.4,794.6 L1723.7,794.9 L1727.0,795.1 L1730.4,795.2 L1733.7,795.4 L1737.0,795.6 L1740.3,795.8 L1743.6,795.9 L1747.0,796.1 L1750.3,796.2 L1753.6,796.4 L1756.9,796.5 L1760.2,796.6 L1763.6,796.7 L1766.9,796.9 L1770.2,797.0 L1773.5,797.1 L1776.8,797.2 L1780.1,797.3 L1783.5,797.4 L1786.8,797.5 L1790.1,797.5 L1793.4,797.6 L1796.7,797.7 L1800.1,797.8 L1803.4,797.9 L1806.7,797.9 L1810.0,798.0 L1813.3,798.1 L1816.7,798.1 L1820.0,798.2 L1823.3,798.2 L1826.6,798.3 L1829.9,798.4 L1833.3,798.4" fill="none" stroke="#3b6cb5" stroke-width="3.7" stroke-linejoin="round"/>
<path d="M973.5,797.9 L976.9,797.8 L980.2,797.8 L983.5,797.7 L986.8,797.6 L990.1,797.6 L993.5,797.5 L996.8,797.4 L1000.1,797.4 L1003.4,797.3 L1006.7,797.2 L1010.1,797.1 L1013.4,797.0 L1016.7,796.9 L1020.0,796.8 L1023.3,796.7 L1026.7,796.6 L1030.0,796.5 L1033.3,796.4 L1036.6,796.3 L1039.9,796.2 L1043.2,796.1 L1046.6,795.9 L1049.9,795.8 L1053.2,795.6 L1056.5,795.5 L1059.8,795.3 L1063.2,795.2 L1066.5,795.0 L1069.8,794.8 L1073.1,794.6 L1076.4,794.4 L1079.8,794.2 L1083.1,794.0 L1086.4,793.8 L1089.7,793.5 L1093.0,793.3 L1096.4,793.0 L1099.7,792.7 L1103.0,792.4 L1106.3,792.1 L1109.6,791.8 L1113.0,791.5 L1116.3,791.1 L1119.6,790.7 L1122.9,790.3 L1126.2,789.9 L1129.6,789.4 L1132.9,788.9 L1136.2,788.4 L1139.5,787.9 L1142.8,787.3 L1146.1,786.7 L1149.5,786.1 L1152.8,785.4 L1156.1,784.7 L1159.4,784.0 L1162.7,783.2 L1166.1,782.3 L1169.4,781.4 L1172.7,780.5 L1176.0,779.5 L1179.3,778.4 L1182.7,777.3 L1186.0,776.2 L1189.3,774.9 L1192.6,773.6 L1195.9,772.2 L1199.3,770.7 L1202.6,769.2 L1205.9,767.6 L1209.2,765.8 L1212.5,764.0 L1215.9,762.1 L1219.2,760.1 L1222.5,758.0 L1225.8,755.8 L1229.1,753.5 L1232.5,751.1 L1235.8,748.6 L1239.1,746.0 L1242.4,743.3 L1245.7,740.4 L1249.0,737.5 L1252.4,734.4 L1255.7,731.3 L1259.0,728.0 L1262.3,724.7 L1265.6,721.3 L1269.0,717.8 L1272.3,714.2 L1275.6,710.5 L1278.9,706.8 L1282.2,703.0 L1285.6,699.2 L1288.9,695.4 L1292.2,691.6 L1295.5,687.7 L1298.8,683.9 L1302.2,680.1 L1305.5,676.3 L1308.8,672.5 L1312.1,668.9 L1315.4,665.3 L1318.8,661.7 L1322.1,658.3 L1325.4,655.0 L1328.7,651.8 L1332.0,648.7 L1335.4,645.7 L1338.7,642.8 L1342.0,640.1 L1345.3,637.5 L1348.6,635.1 L1351.9,632.8 L1355.3,630.7 L1358.6,628.7 L1361.9,626.8 L1365.2,625.1 L1368.5,623.6 L1371.9,622.2 L1375.2,620.9 L1378.5,619.8 L1381.8,618.8 L1385.1,618.0 L1388.5,617.3 L1391.8,616.7 L1395.1,616.3 L1398.4,616.1 L1401.7,615.9 L1405.1,615.9 L1408.4,616.1 L1411.7,616.3 L1415.0,616.7 L1418.3,617.3 L1421.7,618.0 L1425.0,618.8 L1428.3,619.8 L1431.6,620.9 L1434.9,622.2 L1438.3,623.6 L1441.6,625.1 L1444.9,626.8 L1448.2,628.7 L1451.5,630.7 L1454.9,632.8 L1458.2,635.1 L1461.5,637.5 L1464.8,640.1 L1468.1,642.8 L1471.4,645.7 L1474.8,648.7 L1478.1,651.8 L1481.4,655.0 L1484.7,658.3 L1488.0,661.7 L1491.4,665.3 L1494.7,668.9 L1498.0,672.5 L1501.3,676.3 L1504.6,680.1 L1508.0,683.9 L1511.3,687.7 L1514.6,691.6 L1517.9,695.4 L1521.2,699.2 L1524.6,703.0 L1527.9,706.8 L1531.2,710.5 L1534.5,714.2 L1537.8,717.8 L1541.2,721.3 L1544.5,724.7 L1547.8,728.0 L1551.1,731.3 L1554.4,734.4 L1557.8,737.5 L1561.1,740.4 L1564.4,743.3 L1567.7,746.0 L1571.0,748.6 L1574.3,751.1 L1577.7,753.5 L1581.0,755.8 L1584.3,758.0 L1587.6,760.1 L1590.9,762.1 L1594.3,764.0 L1597.6,765.8 L1600.9,767.6 L1604.2,769.2 L1607.5,770.7 L1610.9,772.2 L1614.2,773.6 L1617.5,774.9 L1620.8,776.2 L1624.1,777.3 L1627.5,778.4 L1630.8,779.5 L1634.1,780.5 L1637.4,781.4 L1640.7,782.3 L1644.1,783.2 L1647.4,784.0 L1650.7,784.7 L1654.0,785.4 L1657.3,786.1 L1660.7,786.7 L1664.0,787.3 L1667.3,787.9 L1670.6,788.4 L1673.9,788.9 L1677.2,789.4 L1680.6,789.9 L1683.9,790.3 L1687.2,790.7 L1690.5,791.1 L1693.8,791.5 L1697.2,791.8 L1700.5,792.1 L1703.8,792.4 L1707.1,792.7 L1710.4,793.0 L1713.8,793.3 L1717.1,793.5 L1720.4,793.8 L1723.7,794.0 L1727.0,794.2 L1730.4,794.4 L1733.7,794.6 L1737.0,794.8 L1740.3,795.0 L1743.6,795.2 L1747.0,795.3 L1750.3,795.5 L1753.6,795.6 L1756.9,795.8 L1760.2,795.9 L1763.6,796.1 L1766.9,796.2 L1770.2,796.3 L1773.5,796.4 L1776.8,796.5 L1780.1,796.6 L1783.5,796.7 L1786.8,796.8 L1790.1,796.9 L1793.4,797.0 L1796.7,797.1 L1800.1,797.2 L1803.4,797.3 L1806.7,797.4 L1810.0,797.4 L1813.3,797.5 L1816.7,797.6 L1820.0,797.6 L1823.3,797.7 L1826.6,797.8 L1829.9,797.8 L1833.3,797.9" fill="none" stroke="#3862ae" stroke-width="3.7" stroke-linejoin="round"/>
<path d="M973.5,797.3 L976.9,797.2 L980.2,797.1 L983.5,797.1 L986.8,797.0 L990.1,796.9 L993.5,796.8 L996.8,796.8 L1000.1,796.7 L1003.4,796.6 L1006.7,796.5 L1010.1,796.4 L1013.4,796.3 L1016.7,796.2 L1020.0,796.1 L1023.3,796.0 L1026.7,795.9 L1030.0,795.8 L1033.3,795.7 L1036.6,795.6 L1039.9,795.4 L1043.2,795.3 L1046.6,795.2 L1049.9,795.0 L1053.2,794.9 L1056.5,794.7 L1059.8,794.5 L1063.2,794.4 L1066.5,794.2 L1069.8,794.0 L1073.1,793.8 L1076.4,793.6 L1079.8,793.4 L1083.1,793.2 L1086.4,792.9 L1089.7,792.7 L1093.0,792.4 L1096.4,792.2 L1099.7,791.9 L1103.0,791.6 L1106.3,791.3 L1109.6,790.9 L1113.0,790.6 L1116.3,790.2 L1119.6,789.8 L1122.9,789.4 L1126.2,789.0 L1129.6,788.5 L1132.9,788.0 L1136.2,787.5 L1139.5,786.9 L1142.8,786.3 L1146.1,785.7 L1149.5,785.1 L1152.8,784.4 L1156.1,783.6 L1159.4,782.8 L1162.7,782.0 L1166.1,781.1 L1169.4,780.1 L1172.7,779.1 L1176.0,778.1 L1179.3,776.9 L1182.7,775.7 L1186.0,774.4 L1189.3,773.0 L1192.6,771.6 L1195.9,770.0 L1199.3,768.4 L1202.6,766.6 L1205.9,764.8 L1209.2,762.8 L1212.5,760.7 L1215.9,758.5 L1219.2,756.2 L1222.5,753.7 L1225.8,751.1 L1229.1,748.4 L1232.5,745.5 L1235.8,742.5 L1239.1,739.4 L1242.4,736.1 L1245.7,732.7 L1249.0,729.1 L1252.4,725.4 L1255.7,721.6 L1259.0,717.7 L1262.3,713.6 L1265.6,709.5 L1269.0,705.3 L1272.3,701.0 L1275.6,696.6 L1278.9,692.2 L1282.2,687.8 L1285.6,683.3 L1288.9,678.9 L1292.2,674.5 L1295.5,670.2 L1298.8,665.9 L1302.2,661.7 L1305.5,657.7 L1308.8,653.7 L1312.1,649.8 L1315.4,646.1 L1318.8,642.6 L1322.1,639.2 L1325.4,635.9 L1328.7,632.8 L1332.0,629.9 L1335.4,627.2 L1338.7,624.6 L1342.0,622.2 L1345.3,620.0 L1348.6,617.9 L1351.9,616.0 L1355.3,614.2 L1358.6,612.6 L1361.9,611.1 L1365.2,609.8 L1368.5,608.6 L1371.9,607.5 L1375.2,606.6 L1378.5,605.7 L1381.8,605.0 L1385.1,604.4 L1388.5,603.9 L1391.8,603.5 L1395.1,603.2 L1398.4,603.0 L1401.7,602.9 L1405.1,602.9 L1408.4,603.0 L1411.7,603.2 L1415.0,603.5 L1418.3,603.9 L1421.7,604.4 L1425.0,605.0 L1428.3,605.7 L1431.6,606.6 L1434.9,607.5 L1438.3,608.6 L1441.6,609.8 L1444.9,611.1 L1448.2,612.6 L1451.5,614.2 L1454.9,616.0 L1458.2,617.9 L1461.5,620.0 L1464.8,622.2 L1468.1,624.6 L1471.4,627.2 L1474.8,629.9 L1478.1,632.8 L1481.4,635.9 L1484.7,639.2 L1488.0,642.6 L1491.4,646.1 L1494.7,649.8 L1498.0,653.7 L1501.3,657.7 L1504.6,661.7 L1508.0,665.9 L1511.3,670.2 L1514.6,674.5 L1517.9,678.9 L1521.2,683.3 L1524.6,687.8 L1527.9,692.2 L1531.2,696.6 L1534.5,701.0 L1537.8,705.3 L1541.2,709.5 L1544.5,713.6 L1547.8,717.7 L1551.1,721.6 L1554.4,725.4 L1557.8,729.1 L1561.1,732.7 L1564.4,736.1 L1567.7,739.4 L1571.0,742.5 L1574.3,745.5 L1577.7,748.4 L1581.0,751.1 L1584.3,753.7 L1587.6,756.2 L1590.9,758.5 L1594.3,760.7 L1597.6,762.8 L1600.9,764.8 L1604.2,766.6 L1607.5,768.4 L1610.9,770.0 L1614.2,771.6 L1617.5,773.0 L1620.8,774.4 L1624.1,775.7 L1627.5,776.9 L1630.8,778.1 L1634.1,779.1 L1637.4,780.1 L1640.7,781.1 L1644.1,782.0 L1647.4,782.8 L1650.7,783.6 L1654.0,784.4 L1657.3,785.1 L1660.7,785.7 L1664.0,786.3 L1667.3,786.9 L1670.6,787.5 L1673.9,788.0 L1677.2,788.5 L1680.6,789.0 L1683.9,789.4 L1687.2,789.8 L1690.5,790.2 L1693.8,790.6 L1697.2,790.9 L1700.5,791.3 L1703.8,791.6 L1707.1,791.9 L1710.4,792.2 L1713.8,792.4 L1717.1,792.7 L1720.4,792.9 L1723.7,793.2 L1727.0,793.4 L1730.4,793.6 L1733.7,793.8 L1737.0,794.0 L1740.3,794.2 L1743.6,794.4 L1747.0,794.5 L1750.3,794.7 L1753.6,794.9 L1756.9,795.0 L1760.2,795.2 L1763.6,795.3 L1766.9,795.4 L1770.2,795.6 L1773.5,795.7 L1776.8,795.8 L1780.1,795.9 L1783.5,796.0 L1786.8,796.1 L1790.1,796.2 L1793.4,796.3 L1796.7,796.4 L1800.1,796.5 L1803.4,796.6 L1806.7,796.7 L1810.0,796.8 L1813.3,796.8 L1816.7,796.9 L1820.0,797.0 L1823.3,797.1 L1826.6,797.1 L1829.9,797.2 L1833.3,797.3" fill="none" stroke="#3356a4" stroke-width="3.7" stroke-linejoin="round"/>
<path d="M973.5,796.9 L976.9,796.8 L980.2,796.8 L983.5,796.7 L986.8,796.6 L990.1,796.5 L993.5,796.5 L996.8,796.4 L1000.1,796.3 L1003.4,796.2 L1006.7,796.1 L1010.1,796.0 L1013.4,795.9 L1016.7,795.8 L1020.0,795.7 L1023.3,795.6 L1026.7,795.5 L1030.0,795.4 L1033.3,795.2 L1036.6,795.1 L1039.9,795.0 L1043.2,794.9 L1046.6,794.7 L1049.9,794.6 L1053.2,794.4 L1056.5,794.3 L1059.8,794.1 L1063.2,794.0 L1066.5,793.8 L1069.8,793.6 L1073.1,793.4 L1076.4,793.2 L1079.8,793.0 L1083.1,792.8 L1086.4,792.6 L1089.7,792.3 L1093.0,792.1 L1096.4,791.8 L1099.7,791.5 L1103.0,791.3 L1106.3,791.0 L1109.6,790.6 L1113.0,790.3 L1116.3,790.0 L1119.6,789.6 L1122.9,789.2 L1126.2,788.8 L1129.6,788.3 L1132.9,787.9 L1136.2,787.4 L1139.5,786.9 L1142.8,786.3 L1146.1,785.7 L1149.5,785.1 L1152.8,784.4 L1156.1,783.7 L1159.4,782.9 L1162.7,782.1 L1166.1,781.3 L1169.4,780.3 L1172.7,779.4 L1176.0,778.3 L1179.3,777.2 L1182.7,776.0 L1186.0,774.7 L1189.3,773.3 L1192.6,771.8 L1195.9,770.2 L1199.3,768.5 L1202.6,766.7 L1205.9,764.7 L1209.2,762.6 L1212.5,760.4 L1215.9,758.0 L1219.2,755.5 L1222.5,752.8 L1225.8,749.9 L1229.1,746.9 L1232.5,743.7 L1235.8,740.3 L1239.1,736.7 L1242.4,732.9 L1245.7,729.0 L1249.0,724.8 L1252.4,720.5 L1255.7,716.1 L1259.0,711.5 L1262.3,706.7 L1265.6,701.8 L1269.0,696.9 L1272.3,691.9 L1275.6,686.8 L1278.9,681.7 L1282.2,676.6 L1285.6,671.6 L1288.9,666.6 L1292.2,661.7 L1295.5,656.9 L1298.8,652.3 L1302.2,647.9 L1305.5,643.6 L1308.8,639.5 L1312.1,635.7 L1315.4,632.0 L1318.8,628.6 L1322.1,625.4 L1325.4,622.4 L1328.7,619.6 L1332.0,617.0 L1335.4,614.7 L1338.7,612.5 L1342.0,610.5 L1345.3,608.8 L1348.6,607.1 L1351.9,605.6 L1355.3,604.3 L1358.6,603.1 L1361.9,602.1 L1365.2,601.1 L1368.5,600.3 L1371.9,599.5 L1375.2,598.9 L1378.5,598.3 L1381.8,597.9 L1385.1,597.5 L1388.5,597.1 L1391.8,596.9 L1395.1,596.7 L1398.4,596.6 L1401.7,596.5 L1405.1,596.5 L1408.4,596.6 L1411.7,596.7 L1415.0,596.9 L1418.3,597.1 L1421.7,597.5 L1425.0,597.9 L1428.3,598.3 L1431.6,598.9 L1434.9,599.5 L1438.3,600.3 L1441.6,601.1 L1444.9,602.1 L1448.2,603.1 L1451.5,604.3 L1454.9,605.6 L1458.2,607.1 L1461.5,608.8 L1464.8,610.5 L1468.1,612.5 L1471.4,614.7 L1474.8,617.0 L1478.1,619.6 L1481.4,622.4 L1484.7,625.4 L1488.0,628.6 L1491.4,632.0 L1494.7,635.7 L1498.0,639.5 L1501.3,643.6 L1504.6,647.9 L1508.0,652.3 L1511.3,656.9 L1514.6,661.7 L1517.9,666.6 L1521.2,671.6 L1524.6,676.6 L1527.9,681.7 L1531.2,686.8 L1534.5,691.9 L1537.8,696.9 L1541.2,701.8 L1544.5,706.7 L1547.8,711.5 L1551.1,716.1 L1554.4,720.5 L1557.8,724.8 L1561.1,729.0 L1564.4,732.9 L1567.7,736.7 L1571.0,740.3 L1574.3,743.7 L1577.7,746.9 L1581.0,749.9 L1584.3,752.8 L1587.6,755.5 L1590.9,758.0 L1594.3,760.4 L1597.6,762.6 L1600.9,764.7 L1604.2,766.7 L1607.5,768.5 L1610.9,770.2 L1614.2,771.8 L1617.5,773.3 L1620.8,774.7 L1624.1,776.0 L1627.5,777.2 L1630.8,778.3 L1634.1,779.4 L1637.4,780.3 L1640.7,781.3 L1644.1,782.1 L1647.4,782.9 L1650.7,783.7 L1654.0,784.4 L1657.3,785.1 L1660.7,785.7 L1664.0,786.3 L1667.3,786.9 L1670.6,787.4 L1673.9,787.9 L1677.2,788.3 L1680.6,788.8 L1683.9,789.2 L1687.2,789.6 L1690.5,790.0 L1693.8,790.3 L1697.2,790.6 L1700.5,791.0 L1703.8,791.3 L1707.1,791.5 L1710.4,791.8 L1713.8,792.1 L1717.1,792.3 L1720.4,792.6 L1723.7,792.8 L1727.0,793.0 L1730.4,793.2 L1733.7,793.4 L1737.0,793.6 L1740.3,793.8 L1743.6,794.0 L1747.0,794.1 L1750.3,794.3 L1753.6,794.4 L1756.9,794.6 L1760.2,794.7 L1763.6,794.9 L1766.9,795.0 L1770.2,795.1 L1773.5,795.2 L1776.8,795.4 L1780.1,795.5 L1783.5,795.6 L1786.8,795.7 L1790.1,795.8 L1793.4,795.9 L1796.7,796.0 L1800.1,796.1 L1803.4,796.2 L1806.7,796.3 L1810.0,796.4 L1813.3,796.5 L1816.7,796.5 L1820.0,796.6 L1823.3,796.7 L1826.6,796.8 L1829.9,796.8 L1833.3,796.9" fill="none" stroke="#2b4897" stroke-width="3.7" stroke-linejoin="round"/>
</g>
<g clip-path="url(#clipSEM)">
<rect x="630.3" y="151.2" width="332.70000000000005" height="280.2" fill="#3c3c3c"/>
<rect x="630.3" y="151.2" width="332.70000000000005" height="280.2" filter="url(#semsmooth)" opacity="0.35"/>
<path d="M855,151 L963,151 L963,170 L940,176 L935,190 L924,221 L903,220 L876,213 L858,205 L850,185 Z" fill="#444444"/>
<path d="M907,300 L963,296 L963,431 L870,431 L876,380 L880,330 Z" fill="#414141"/>
<clipPath id="porA"><path d="M630,184 L655,183 L685,186 L688,200 L683,215 L670,225 L660,232 L648,238 L640,255 L630,262 Z"/></clipPath>
<clipPath id="porB"><path d="M845,206 L876,213 L903,220 L924,221 L935,190 L940,176 L963,170 L963,296 L907,300 L880,330 L876,380 L870,431 L800,431 L790,410 L760,398 L745,380 L742,350 L748,330 L760,318 L790,300 L800,292 L830,290 L858,288 L850,250 Z"/></clipPath>
<clipPath id="porC"><path d="M630,330 L640,318 L652,325 L660,345 L655,360 L640,362 L630,372 Z M630,405 L650,410 L665,431 L630,431 Z"/></clipPath>
<rect x="630.3" y="151.2" width="332.70000000000005" height="280.2" filter="url(#porous)" clip-path="url(#porA)"/>
<rect x="630.3" y="151.2" width="332.70000000000005" height="280.2" filter="url(#speck)" clip-path="url(#porA)" opacity="0.45"/>
<rect x="630.3" y="151.2" width="332.70000000000005" height="280.2" filter="url(#porous)" clip-path="url(#porB)"/>
<rect x="630.3" y="151.2" width="332.70000000000005" height="280.2" filter="url(#speck)" clip-path="url(#porB)" opacity="0.45"/>
<rect x="630.3" y="151.2" width="332.70000000000005" height="280.2" filter="url(#porous)" clip-path="url(#porC)"/>
<rect x="630.3" y="151.2" width="332.70000000000005" height="280.2" filter="url(#speck)" clip-path="url(#porC)" opacity="0.45"/>
<path d="M735,151 L785,151 L800,170 L835,215 L862,288 L850,292 L830,270 L800,235 L770,200 L748,170 Z" fill="#4a4a4a"/>
<path d="M740,151 L790,200 L830,245 L855,290" fill="none" stroke="#8c8c8c" stroke-width="1.1" opacity="0.8"/>
<path d="M755,151 L800,195 L838,250 L860,288" fill="none" stroke="#8c8c8c" stroke-width="1.1" opacity="0.8"/>
<path d="M770,151 L812,196 L845,245" fill="none" stroke="#8c8c8c" stroke-width="1.1" opacity="0.8"/>
<path d="M748,163 L795,215 L835,265" fill="none" stroke="#8c8c8c" stroke-width="1.1" opacity="0.8"/>
<path d="M784,151 L820,190 L848,232" fill="none" stroke="#8c8c8c" stroke-width="1.1" opacity="0.8"/>
<path d="M661,323 L676,325 L686,333 L680,339 L668,336 Z" fill="#a4a4a4"/>
<path d="M693,393 L712,384 L740,373 L745,376 L735,392 L700,402 Z" fill="#a8a8a8"/>
<path d="M690,380 L715,372 L725,376 L700,386 Z" fill="#8a8a8a"/>
<path d="M645,395 L660,388 L672,390 L668,400 L648,402 Z" fill="#a0a0a0"/>
<path d="M773,176 L780,178 L783,191 L777,192 Z" fill="#8e8e8e"/>
<path d="M737,300 L752,296 L755,306 L740,307 Z" fill="#7d7d7d"/>
<path d="M630,184 L660,183 L690,186 L720,183 L760,178 L790,172" fill="none" stroke="#9a9a9a" stroke-width="1.2" stroke-linejoin="round" opacity="0.85"/>
<path d="M688,186 L690,210 L680,222 L668,232 L648,240 L640,256 L632,262" fill="none" stroke="#9a9a9a" stroke-width="1.2" stroke-linejoin="round" opacity="0.85"/>
<path d="M712,222 L722,218 L740,214 L752,219 L745,230 L733,238 L716,244 L707,248" fill="none" stroke="#9a9a9a" stroke-width="1.2" stroke-linejoin="round" opacity="0.85"/>
<path d="M735,230 L745,216 L760,210 L778,217 L789,224 L800,226" fill="none" stroke="#9a9a9a" stroke-width="1.2" stroke-linejoin="round" opacity="0.85"/>
<path d="M719,262 L730,255 L748,245 L766,232" fill="none" stroke="#9a9a9a" stroke-width="1.2" stroke-linejoin="round" opacity="0.85"/>
<path d="M720,260 L721,270 L735,275 L760,265 L783,260 L800,255" fill="none" stroke="#9a9a9a" stroke-width="1.2" stroke-linejoin="round" opacity="0.85"/>
<path d="M845,206 L876,213 L903,220 L924,221 L935,190 L940,176 L963,170" fill="none" stroke="#9a9a9a" stroke-width="1.2" stroke-linejoin="round" opacity="0.85"/>
<path d="M850,190 L880,183 L905,176 L930,168 L955,160" fill="none" stroke="#9a9a9a" stroke-width="1.2" stroke-linejoin="round" opacity="0.85"/>
<path d="M908,300 L895,318 L880,332 L877,360 L876,390 L872,420" fill="none" stroke="#9a9a9a" stroke-width="1.2" stroke-linejoin="round" opacity="0.85"/>
<path d="M907,300 L935,298 L963,296" fill="none" stroke="#9a9a9a" stroke-width="1.2" stroke-linejoin="round" opacity="0.85"/>
<path d="M648,288 L662,300 L672,318 L685,323 L700,306 L718,296 L745,291 L760,295" fill="none" stroke="#9a9a9a" stroke-width="1.2" stroke-linejoin="round" opacity="0.85"/>
<path d="M660,345 L680,351 L700,342 L718,355 L700,370 L680,372 L660,380 L640,379" fill="none" stroke="#9a9a9a" stroke-width="1.2" stroke-linejoin="round" opacity="0.85"/>
<path d="M644,388 L668,392 L690,380 L720,372 L745,374" fill="none" stroke="#9a9a9a" stroke-width="1.2" stroke-linejoin="round" opacity="0.85"/>
<path d="M700,402 L730,398 L748,392 L760,380" fill="none" stroke="#9a9a9a" stroke-width="1.2" stroke-linejoin="round" opacity="0.85"/>
<path d="M740,330 L748,350 L758,365 L752,385" fill="none" stroke="#9a9a9a" stroke-width="1.2" stroke-linejoin="round" opacity="0.85"/>
<path d="M880,250 L900,262 L915,255 L930,260 L940,280" fill="none" stroke="#9a9a9a" stroke-width="1.2" stroke-linejoin="round" opacity="0.85"/>
<path d="M640,160 L648,165 L646,172" fill="none" stroke="#9a9a9a" stroke-width="1.2" stroke-linejoin="round" opacity="0.85"/>
<path d="M676,168 L684,171 L682,176 L676,175 L676,168" fill="none" stroke="#9a9a9a" stroke-width="1.2" stroke-linejoin="round" opacity="0.85"/>
<path d="M915,368 L918,378 L921,376 L918,367 L915,368" fill="none" stroke="#9a9a9a" stroke-width="1.2" stroke-linejoin="round" opacity="0.85"/>
<path d="M930,350 L945,345 L963,340" fill="none" stroke="#9a9a9a" stroke-width="1.2" stroke-linejoin="round" opacity="0.85"/>
</g>
<line x1="849.6" y1="416.7" x2="952" y2="416.7" stroke="#fff" stroke-width="3.6"/>
<text x="859.09" y="402.90" font-size="33" font-family="Liberation Sans, sans-serif" fill="#fff" textLength="86.00" lengthAdjust="spacingAndGlyphs">20μm</text>
<rect x="223.6" y="191.0" width="252.70000000000002" height="169.7" fill="#fff" stroke="#6a6a6a" stroke-width="1.3"/>
<path d="M265.5,360.7L265.5,356.7 M265.5,191.0L265.5,195.0 M307.8,360.7L307.8,356.7 M307.8,191.0L307.8,195.0 M350.0,360.7L350.0,356.7 M350.0,191.0L350.0,195.0 M392.2,360.7L392.2,356.7 M392.2,191.0L392.2,195.0 M434.5,360.7L434.5,356.7 M434.5,191.0L434.5,195.0 M223.6,344.7L227.6,344.7 M476.3,344.7L472.3,344.7 M223.6,310.6L227.6,310.6 M476.3,310.6L472.3,310.6 M223.6,276.5L227.6,276.5 M476.3,276.5L472.3,276.5 M223.6,242.4L227.6,242.4 M476.3,242.4L472.3,242.4 M223.6,208.3L227.6,208.3 M476.3,208.3L472.3,208.3" stroke="#6a6a6a" stroke-width="1.2" fill="none"/>
<path d="M223.2,357.7 L224.3,357.2 L225.4,356.6 L226.4,356.0 L227.5,355.4 L228.5,354.8 L229.6,354.2 L230.6,353.6 L231.7,353.0 L232.8,352.4 L233.8,351.8 L234.9,351.2 L235.9,350.7 L237.0,350.1 L238.0,349.5 L239.1,348.9 L240.2,348.3 L241.2,347.7 L242.3,347.1 L243.3,346.5 L244.4,345.9 L245.4,345.3 L246.5,344.7 L247.5,344.1 L248.6,343.5 L249.7,342.9 L250.7,342.3 L251.8,341.7 L252.8,341.2 L253.9,340.6 L254.9,340.0 L256.0,339.4 L257.1,338.8 L258.1,338.2 L259.2,337.6 L260.2,337.0 L261.3,336.4 L262.3,335.8 L263.4,335.2 L264.4,334.6 L265.5,334.0 L266.6,333.4 L267.6,332.8 L268.7,332.2 L269.7,331.6 L270.8,331.0 L271.8,330.3 L272.9,329.7 L273.9,329.1 L275.0,328.5 L276.1,327.9 L277.1,327.3 L278.2,326.7 L279.2,326.1 L280.3,325.5 L281.3,324.9 L282.4,324.2 L283.5,323.6 L284.5,323.0 L285.6,322.4 L286.6,321.8 L287.7,321.1 L288.7,320.5 L289.8,319.9 L290.9,319.3 L291.9,318.6 L293.0,318.0 L294.0,317.4 L295.1,316.7 L296.1,316.1 L297.2,315.5 L298.2,314.8 L299.3,314.2 L300.4,313.5 L301.4,312.9 L302.5,312.2 L303.5,311.6 L304.6,310.9 L305.6,310.2 L306.7,309.6 L307.8,308.9 L308.8,308.2 L309.9,307.6 L310.9,306.9 L312.0,306.2 L313.0,305.5 L314.1,304.8 L315.1,304.1 L316.2,303.4 L317.3,302.7 L318.3,302.0 L319.4,301.3 L320.4,300.5 L321.5,299.8 L322.5,299.0 L323.6,298.3 L324.6,297.5 L325.7,296.8 L326.8,296.0 L327.8,295.2 L328.9,294.4 L329.9,293.6 L331.0,292.8 L332.0,292.0 L333.1,291.2 L334.2,290.3 L335.2,289.5 L336.3,288.6 L337.3,287.7 L338.4,286.9 L339.4,285.9 L340.5,285.0 L341.6,284.1 L342.6,283.1 L343.7,282.2 L344.7,281.2 L345.8,280.2 L346.8,279.2 L347.9,278.1 L348.9,277.0 L350.0,276.0 L351.1,274.9 L352.1,273.8 L353.2,272.8 L354.2,271.7 L355.3,270.7 L356.3,269.7 L357.4,268.8 L358.4,267.8 L359.5,266.9 L360.6,266.0 L361.6,265.1 L362.7,264.2 L363.7,263.3 L364.8,262.4 L365.8,261.6 L366.9,260.7 L368.0,259.9 L369.0,259.1 L370.1,258.3 L371.1,257.5 L372.2,256.7 L373.2,255.9 L374.3,255.1 L375.4,254.4 L376.4,253.6 L377.5,252.9 L378.5,252.1 L379.6,251.4 L380.6,250.7 L381.7,249.9 L382.7,249.2 L383.8,248.5 L384.9,247.8 L385.9,247.1 L387.0,246.4 L388.0,245.7 L389.1,245.0 L390.1,244.3 L391.2,243.7 L392.2,243.0 L393.3,242.3 L394.4,241.7 L395.4,241.0 L396.5,240.3 L397.5,239.7 L398.6,239.0 L399.6,238.4 L400.7,237.7 L401.8,237.1 L402.8,236.4 L403.9,235.8 L404.9,235.2 L406.0,234.5 L407.0,233.9 L408.1,233.3 L409.1,232.6 L410.2,232.0 L411.3,231.4 L412.3,230.8 L413.4,230.1 L414.4,229.5 L415.5,228.9 L416.5,228.3 L417.6,227.7 L418.7,227.1 L419.7,226.4 L420.8,225.8 L421.8,225.2 L422.9,224.6 L423.9,224.0 L425.0,223.4 L426.1,222.8 L427.1,222.2 L428.2,221.6 L429.2,221.0 L430.3,220.4 L431.3,219.7 L432.4,219.1 L433.4,218.5 L434.5,217.9 L435.6,217.3 L436.6,216.7 L437.7,216.1 L438.7,215.5 L439.8,214.9 L440.8,214.3 L441.9,213.7 L442.9,213.1 L444.0,212.5 L445.1,211.9 L446.1,211.4 L447.2,210.8 L448.2,210.2 L449.3,209.6 L450.3,209.0 L451.4,208.4 L452.5,207.8 L453.5,207.2 L454.6,206.6 L455.6,206.0 L456.7,205.4 L457.7,204.8 L458.8,204.2 L459.9,203.6 L460.9,203.0 L462.0,202.4 L463.0,201.8 L464.1,201.3 L465.1,200.7 L466.2,200.1 L467.2,199.5 L468.3,198.9 L469.4,198.3 L470.4,197.7 L471.5,197.1 L472.5,196.5 L473.6,195.9 L474.6,195.3 L475.7,194.8 L476.8,194.2" fill="none" stroke="#dc3d38" stroke-width="3.6" clip-path="url(#clipIA)"/>
<text class="t" x="243.15" y="392.60" font-size="25" font-family="Liberation Serif, serif" fill="#303030" textLength="51.60" lengthAdjust="spacingAndGlyphs">−20</text>
<text class="t" x="341.78" y="392.60" font-size="25" font-family="Liberation Serif, serif" fill="#303030" textLength="15.24" lengthAdjust="spacingAndGlyphs">0</text>
<text class="t" x="423.53" y="392.60" font-size="25" font-family="Liberation Serif, serif" fill="#303030" textLength="29.13" lengthAdjust="spacingAndGlyphs">20</text>
<text class="t" x="182.41" y="217.80" font-size="25" font-family="Liberation Serif, serif" fill="#303030" textLength="37.07" lengthAdjust="spacingAndGlyphs">0.2</text>
<text class="t" x="206.66" y="287.70" font-size="25" font-family="Liberation Serif, serif" fill="#303030" textLength="14.29" lengthAdjust="spacingAndGlyphs">0</text>
<text class="t" x="161.60" y="354.80" font-size="25" font-family="Liberation Serif, serif" fill="#303030" textLength="58.13" lengthAdjust="spacingAndGlyphs">−0.2</text>
<text class="t" x="234.97" y="423.70" font-size="26" font-family="Liberation Serif, serif" fill="#303030" textLength="223.34" lengthAdjust="spacingAndGlyphs">Bias voltage/meV</text>
<text class="t" transform="translate(160.00,347.29) rotate(-90)" font-size="27.5" font-family="Liberation Serif, serif" fill="#303030" textLength="155.67" lengthAdjust="spacingAndGlyphs">Current/mA</text>
<text class="t" x="349.11" y="331.70" font-size="31" font-family="Liberation Serif, serif" font-style="italic" fill="#303030" textLength="22.14" lengthAdjust="spacingAndGlyphs">T</text>
<text class="t" x="376.43" y="331.70" font-size="31" font-family="Liberation Serif, serif" fill="#303030" textLength="25.56" lengthAdjust="spacingAndGlyphs">=</text>
<text class="t" x="407.54" y="332.00" font-size="31" font-family="Liberation Serif, serif" fill="#303030" textLength="16.38" lengthAdjust="spacingAndGlyphs">5</text>
<text class="t" x="434.63" y="331.70" font-size="31" font-family="Liberation Serif, serif" fill="#303030" textLength="23.36" lengthAdjust="spacingAndGlyphs">K</text>
<rect x="1236.1" y="43.3" width="519.5" height="394.2" fill="#fff" stroke="#262626" stroke-width="2"/>
<path d="M1322.6,437.5L1322.6,430.5 M1322.6,43.3L1322.6,50.3 M1409.3,437.5L1409.3,430.5 M1409.3,43.3L1409.3,50.3 M1496.0,437.5L1496.0,430.5 M1496.0,43.3L1496.0,50.3 M1582.7,437.5L1582.7,430.5 M1582.7,43.3L1582.7,50.3 M1669.4,437.5L1669.4,430.5 M1669.4,43.3L1669.4,50.3 M1236.1,279.6L1244.1,279.6 M1755.6,279.6L1747.6,279.6 M1236.1,82.8L1244.1,82.8 M1755.6,82.8L1747.6,82.8 M1236.1,181.2L1240.1,181.2 M1755.6,181.2L1751.6,181.2" stroke="#262626" stroke-width="2" fill="none"/>
<g clip-path="url(#clipIB)"><path d="M1235.9,394.9h0M1236.7,393.0h0M1237.5,385.7h0M1238.2,393.0h0M1239.0,382.7h0M1239.8,388.7h0M1240.6,383.5h0M1241.4,384.0h0M1242.1,372.5h0M1242.9,374.8h0M1243.7,365.4h0M1244.5,372.1h0M1245.3,370.2h0M1246.0,369.4h0M1246.8,375.0h0M1247.6,372.2h0M1248.4,365.6h0M1249.2,372.9h0M1249.9,370.2h0M1250.7,371.0h0M1251.5,368.2h0M1252.3,372.3h0M1253.1,371.4h0M1253.8,369.7h0M1254.6,370.2h0M1255.4,374.4h0M1256.2,366.7h0M1257.0,376.0h0M1257.7,375.4h0M1258.5,375.6h0M1259.3,365.6h0M1260.1,371.1h0M1260.9,373.4h0M1261.6,373.8h0M1262.4,366.8h0M1263.2,372.9h0M1264.0,373.6h0M1264.8,365.2h0M1265.6,372.9h0M1266.3,369.0h0M1267.1,367.7h0M1267.9,369.7h0M1268.7,368.1h0M1269.5,362.4h0M1270.2,359.0h0M1271.0,374.4h0M1271.8,377.5h0M1272.6,371.0h0M1273.4,372.3h0M1274.1,370.4h0M1274.9,374.3h0M1275.7,375.1h0M1276.5,376.9h0M1277.3,376.8h0M1278.0,374.6h0M1278.8,377.6h0M1279.6,376.1h0M1280.4,368.8h0M1281.2,375.4h0M1281.9,384.6h0M1282.7,386.2h0M1283.5,376.5h0M1284.3,366.3h0M1285.1,373.8h0M1285.8,377.4h0M1286.6,379.7h0M1287.4,379.3h0M1288.2,380.2h0M1289.0,375.0h0M1289.7,369.8h0M1290.5,375.1h0M1291.3,371.0h0M1292.1,363.9h0M1292.9,376.4h0M1293.6,369.2h0M1294.4,370.8h0M1295.2,373.3h0M1296.0,372.4h0M1296.8,367.3h0M1297.5,364.8h0M1298.3,368.4h0M1299.1,365.4h0M1299.9,362.1h0M1300.7,363.7h0M1301.4,360.9h0M1302.2,362.5h0M1303.0,362.2h0M1303.8,356.3h0M1304.6,361.5h0M1305.3,363.6h0M1306.1,361.1h0M1306.9,368.2h0M1307.7,365.7h0M1308.5,360.9h0M1309.2,361.6h0M1310.0,357.7h0M1310.8,364.4h0M1311.6,370.8h0M1312.4,356.1h0M1313.1,359.9h0M1313.9,369.2h0M1314.7,358.7h0M1315.5,364.6h0M1316.3,372.7h0M1317.1,366.8h0M1317.8,367.4h0M1318.6,358.5h0M1319.4,369.0h0M1320.2,367.0h0M1321.0,367.4h0M1321.7,368.2h0M1322.5,371.0h0M1323.3,366.6h0M1324.1,363.4h0M1324.9,365.9h0M1325.6,373.2h0M1326.4,374.7h0M1327.2,369.8h0M1328.0,374.0h0M1328.8,374.2h0M1329.5,379.3h0M1330.3,364.0h0M1331.1,368.9h0M1331.9,377.4h0M1332.7,369.5h0M1333.4,367.8h0M1334.2,383.9h0M1335.0,375.9h0M1335.8,374.9h0M1336.6,370.1h0M1337.3,372.9h0M1338.1,372.7h0M1338.9,371.2h0M1339.7,362.0h0M1340.5,359.7h0M1341.2,370.2h0M1342.0,370.7h0M1342.8,353.8h0M1343.6,368.4h0M1344.4,365.3h0M1345.1,361.2h0M1345.9,357.9h0M1346.7,354.2h0M1347.5,355.6h0M1348.3,359.8h0M1349.0,352.6h0M1349.8,352.6h0M1350.6,344.6h0M1351.4,351.8h0M1352.2,356.8h0M1352.9,354.9h0M1353.7,343.5h0M1354.5,351.8h0M1355.3,358.3h0M1356.1,351.6h0M1356.8,349.1h0M1357.6,344.1h0M1358.4,353.9h0M1359.2,347.0h0M1360.0,347.0h0M1360.7,354.1h0M1361.5,352.5h0M1362.3,344.8h0M1363.1,345.9h0M1363.9,350.5h0M1364.6,353.7h0M1365.4,351.1h0M1366.2,357.6h0M1367.0,358.4h0M1367.8,362.7h0M1368.6,359.8h0M1369.3,361.1h0M1370.1,349.6h0M1370.9,363.2h0M1371.7,357.6h0M1372.5,358.1h0M1373.2,365.2h0M1374.0,359.7h0M1374.8,374.6h0M1375.6,365.0h0M1376.4,361.8h0M1377.1,376.0h0M1377.9,370.5h0M1378.7,360.6h0M1379.5,365.9h0M1380.3,369.0h0M1381.0,365.2h0M1381.8,365.1h0M1382.6,358.7h0M1383.4,358.8h0M1384.2,360.7h0M1384.9,361.1h0M1385.7,357.0h0M1386.5,349.5h0M1387.3,352.2h0M1388.1,349.2h0M1388.8,351.0h0M1389.6,354.2h0M1390.4,350.0h0M1391.2,342.4h0M1392.0,343.1h0M1392.7,345.9h0M1393.5,347.5h0M1394.3,338.5h0M1395.1,339.2h0M1395.9,338.1h0M1396.6,337.0h0M1397.4,333.4h0M1398.2,332.7h0M1399.0,329.3h0M1399.8,329.1h0M1400.5,327.1h0M1401.3,329.4h0M1402.1,334.6h0M1402.9,333.6h0M1403.7,331.7h0M1404.4,335.7h0M1405.2,332.6h0M1406.0,330.6h0M1406.8,340.0h0M1407.6,345.0h0M1408.3,332.7h0M1409.1,338.7h0M1409.9,336.3h0M1410.7,345.9h0M1411.5,332.9h0M1412.2,337.7h0M1413.0,341.7h0M1413.8,342.8h0M1414.6,340.7h0M1415.4,341.8h0M1416.1,341.9h0M1416.9,345.1h0M1417.7,333.8h0M1418.5,338.8h0M1419.3,337.3h0M1420.1,336.2h0M1420.8,346.0h0M1421.6,331.8h0M1422.4,334.3h0M1423.2,332.8h0M1424.0,329.8h0M1424.7,333.2h0M1425.5,323.6h0M1426.3,329.3h0M1427.1,329.0h0M1427.9,327.7h0M1428.6,322.0h0M1429.4,318.3h0M1430.2,323.6h0M1431.0,327.0h0M1431.8,314.5h0M1432.5,323.7h0M1433.3,312.7h0M1434.1,318.1h0M1434.9,320.6h0M1435.7,320.0h0M1436.4,314.4h0M1437.2,312.0h0M1438.0,316.7h0M1438.8,310.8h0M1439.6,304.9h0M1440.3,315.1h0M1441.1,318.8h0M1441.9,317.5h0M1442.7,318.0h0M1443.5,313.3h0M1444.2,312.3h0M1445.0,313.8h0M1445.8,303.1h0M1446.6,316.6h0M1447.4,308.3h0M1448.1,289.9h0M1448.9,292.5h0M1449.7,292.6h0M1450.5,290.5h0M1451.3,281.4h0M1452.0,284.9h0M1452.8,284.5h0M1453.6,288.3h0M1454.4,279.8h0M1455.2,280.4h0M1455.9,277.5h0M1456.7,274.8h0M1457.5,268.6h0M1458.3,267.4h0M1459.1,258.5h0M1459.8,267.0h0M1460.6,258.3h0M1461.4,245.1h0M1462.2,251.7h0M1463.0,242.9h0M1463.7,240.3h0M1464.5,236.4h0M1465.3,236.3h0M1466.1,244.2h0M1466.9,235.0h0M1467.6,232.2h0M1468.4,234.7h0M1469.2,225.2h0M1470.0,225.3h0M1470.8,223.3h0M1471.6,209.1h0M1472.3,205.9h0M1473.1,204.5h0M1473.9,201.0h0M1474.7,193.9h0M1475.5,188.0h0M1476.2,182.8h0M1477.0,175.7h0M1477.8,172.3h0M1478.6,162.8h0M1479.4,156.9h0M1480.1,152.4h0M1480.9,152.0h0M1481.7,146.6h0M1482.5,136.8h0M1483.3,134.8h0M1484.0,129.4h0M1484.8,135.2h0M1485.6,131.5h0M1486.4,115.1h0M1487.2,111.4h0M1487.9,103.9h0M1488.7,103.3h0M1489.5,102.1h0M1490.3,100.2h0M1491.1,102.6h0M1491.8,93.0h0M1492.6,96.0h0M1493.4,91.1h0M1494.2,90.9h0M1495.0,89.9h0M1495.7,87.6h0M1496.5,91.6h0M1497.3,91.4h0M1498.1,93.4h0M1498.9,92.6h0M1499.6,87.2h0M1500.4,95.0h0M1501.2,91.5h0M1502.0,94.5h0M1502.8,96.9h0M1503.5,99.0h0M1504.3,108.5h0M1505.1,106.1h0M1505.9,104.4h0M1506.7,117.1h0M1507.4,118.1h0M1508.2,124.9h0M1509.0,124.7h0M1509.8,135.5h0M1510.6,127.7h0M1511.3,141.9h0M1512.1,152.7h0M1512.9,141.8h0M1513.7,151.3h0M1514.5,159.3h0M1515.2,165.1h0M1516.0,175.6h0M1516.8,181.1h0M1517.6,182.3h0M1518.4,187.5h0M1519.1,193.6h0M1519.9,203.6h0M1520.7,213.3h0M1521.5,217.8h0M1522.3,216.8h0M1523.1,220.8h0M1523.8,235.6h0M1524.6,241.6h0M1525.4,237.5h0M1526.2,245.0h0M1527.0,249.6h0M1527.7,264.2h0M1528.5,263.2h0M1529.3,267.5h0M1530.1,267.1h0M1530.9,279.9h0M1531.6,267.4h0M1532.4,275.0h0M1533.2,276.7h0M1534.0,287.1h0M1534.8,283.2h0M1535.5,278.1h0M1536.3,294.5h0M1537.1,286.7h0M1537.9,286.3h0M1538.7,294.7h0M1539.4,288.6h0M1540.2,295.7h0M1541.0,289.4h0M1541.8,294.2h0M1542.6,297.0h0M1543.3,289.6h0M1544.1,296.7h0M1544.9,295.8h0M1545.7,309.2h0M1546.5,307.8h0M1547.2,301.9h0M1548.0,302.8h0M1548.8,308.5h0M1549.6,305.6h0M1550.4,315.4h0M1551.1,310.2h0M1551.9,317.5h0M1552.7,311.3h0M1553.5,315.8h0M1554.3,317.1h0M1555.0,314.4h0M1555.8,306.5h0M1556.6,320.1h0M1557.4,318.5h0M1558.2,310.9h0M1558.9,318.0h0M1559.7,308.0h0M1560.5,315.3h0M1561.3,316.0h0M1562.1,315.0h0M1562.8,308.8h0M1563.6,314.0h0M1564.4,314.9h0M1565.2,316.4h0M1566.0,325.1h0M1566.7,322.5h0M1567.5,312.3h0M1568.3,316.0h0M1569.1,318.2h0M1569.9,318.4h0M1570.6,324.7h0M1571.4,321.7h0M1572.2,328.4h0M1573.0,323.7h0M1573.8,329.9h0M1574.6,328.9h0M1575.3,327.2h0M1576.1,332.0h0M1576.9,329.0h0M1577.7,331.2h0M1578.5,332.9h0M1579.2,329.9h0M1580.0,343.5h0M1580.8,345.3h0M1581.6,336.7h0M1582.4,336.4h0M1583.1,332.8h0M1583.9,339.4h0M1584.7,340.0h0M1585.5,348.5h0M1586.3,342.2h0M1587.0,343.5h0M1587.8,351.9h0M1588.6,351.9h0M1589.4,349.3h0M1590.2,348.2h0M1590.9,363.0h0M1591.7,350.5h0M1592.5,350.4h0M1593.3,352.8h0M1594.1,351.4h0M1594.8,351.1h0M1595.6,357.9h0M1596.4,352.1h0M1597.2,355.4h0M1598.0,358.7h0M1598.7,353.8h0M1599.5,348.4h0M1600.3,361.3h0M1601.1,362.1h0M1601.9,362.0h0M1602.6,346.0h0M1603.4,355.4h0M1604.2,354.1h0M1605.0,356.8h0M1605.8,356.9h0M1606.5,361.0h0M1607.3,350.8h0M1608.1,349.8h0M1608.9,358.7h0M1609.7,354.0h0M1610.4,352.0h0M1611.2,348.2h0M1612.0,346.4h0M1612.8,342.1h0M1613.6,340.6h0M1614.3,341.6h0M1615.1,340.2h0M1615.9,351.1h0M1616.7,348.6h0M1617.5,341.5h0M1618.2,345.7h0M1619.0,347.6h0M1619.8,357.0h0M1620.6,357.5h0M1621.4,347.4h0M1622.1,350.3h0M1622.9,354.5h0M1623.7,356.4h0M1624.5,363.6h0M1625.3,356.1h0M1626.0,354.8h0M1626.8,353.7h0M1627.6,362.0h0M1628.4,364.5h0M1629.2,369.6h0M1630.0,360.7h0M1630.7,359.5h0M1631.5,370.3h0M1632.3,366.9h0M1633.1,368.0h0M1633.9,371.0h0M1634.6,379.2h0M1635.4,369.6h0M1636.2,364.8h0M1637.0,372.9h0M1637.8,369.3h0M1638.5,378.7h0M1639.3,357.7h0M1640.1,359.7h0M1640.9,360.3h0M1641.7,360.2h0M1642.4,360.4h0M1643.2,356.6h0M1644.0,356.2h0M1644.8,354.8h0M1645.6,352.8h0M1646.3,351.2h0M1647.1,344.3h0M1647.9,356.8h0M1648.7,349.1h0M1649.5,352.9h0M1650.2,355.4h0M1651.0,361.1h0M1651.8,348.9h0M1652.6,356.7h0M1653.4,356.8h0M1654.1,352.7h0M1654.9,360.8h0M1655.7,357.5h0M1656.5,359.6h0M1657.3,357.5h0M1658.0,358.3h0M1658.8,368.1h0M1659.6,362.0h0M1660.4,368.0h0M1661.2,368.5h0M1661.9,371.4h0M1662.7,368.4h0M1663.5,378.1h0M1664.3,372.7h0M1665.1,369.5h0M1665.8,376.5h0M1666.6,367.0h0M1667.4,379.2h0M1668.2,375.3h0M1669.0,378.4h0M1669.7,378.9h0M1670.5,380.9h0M1671.3,378.2h0M1672.1,375.8h0M1672.9,378.7h0M1673.6,371.1h0M1674.4,368.0h0M1675.2,380.9h0M1676.0,370.4h0M1676.8,373.0h0M1677.5,372.6h0M1678.3,362.9h0M1679.1,368.3h0M1679.9,372.1h0M1680.7,372.8h0M1681.5,383.1h0M1682.2,370.5h0M1683.0,377.3h0M1683.8,373.5h0M1684.6,374.0h0M1685.4,370.4h0M1686.1,365.9h0M1686.9,370.4h0M1687.7,369.1h0M1688.5,375.5h0M1689.3,372.2h0M1690.0,370.5h0M1690.8,379.5h0M1691.6,363.8h0M1692.4,374.9h0M1693.2,376.4h0M1693.9,362.7h0M1694.7,359.5h0M1695.5,370.4h0M1696.3,368.7h0M1697.1,351.2h0M1697.8,362.7h0M1698.6,370.4h0M1699.4,363.0h0M1700.2,350.3h0M1701.0,354.8h0M1701.7,353.2h0M1702.5,350.0h0M1703.3,351.5h0M1704.1,339.3h0M1704.9,359.9h0M1705.6,362.4h0M1706.4,357.2h0M1707.2,352.6h0M1708.0,344.9h0M1708.8,350.6h0M1709.5,353.3h0M1710.3,354.1h0M1711.1,352.2h0M1711.9,352.6h0M1712.7,363.6h0M1713.4,358.6h0M1714.2,353.5h0M1715.0,359.4h0M1715.8,367.7h0M1716.6,369.1h0M1717.3,376.9h0M1718.1,373.2h0M1718.9,364.6h0M1719.7,373.6h0M1720.5,378.6h0M1721.2,367.2h0M1722.0,378.5h0M1722.8,379.9h0M1723.6,382.3h0M1724.4,385.3h0M1725.1,380.3h0M1725.9,377.3h0M1726.7,387.3h0M1727.5,387.9h0M1728.3,381.1h0M1729.0,393.1h0M1729.8,389.7h0M1730.6,389.1h0M1731.4,387.0h0M1732.2,389.1h0M1733.0,391.9h0M1733.7,386.7h0M1734.5,393.2h0M1735.3,395.5h0M1736.1,396.7h0M1736.9,384.5h0M1737.6,395.1h0M1738.4,385.5h0M1739.2,384.3h0M1740.0,383.4h0M1740.8,387.4h0M1741.5,388.7h0M1742.3,385.6h0M1743.1,388.1h0M1743.9,390.7h0M1744.7,379.2h0M1745.4,388.0h0M1746.2,375.9h0M1747.0,380.9h0M1747.8,384.5h0M1748.6,380.0h0M1749.3,375.9h0M1750.1,386.5h0M1750.9,383.8h0M1751.7,383.6h0M1752.5,377.6h0M1753.2,375.9h0M1754.0,376.7h0M1754.8,379.3h0M1755.6,377.7h0" stroke="#87888c" stroke-width="8" stroke-linecap="round" fill="none"/>
<path d="M1235.9,362.2 L1236.8,362.2 L1237.6,362.1 L1238.5,362.1 L1239.4,362.1 L1240.2,362.1 L1241.1,362.0 L1242.0,362.0 L1242.8,362.0 L1243.7,362.0 L1244.6,362.0 L1245.5,361.9 L1246.3,361.9 L1247.2,361.9 L1248.1,361.9 L1248.9,361.8 L1249.8,361.8 L1250.7,361.8 L1251.5,361.8 L1252.4,361.7 L1253.3,361.7 L1254.1,361.7 L1255.0,361.7 L1255.9,361.6 L1256.7,361.6 L1257.6,361.6 L1258.5,361.6 L1259.3,361.5 L1260.2,361.5 L1261.1,361.5 L1262.0,361.4 L1262.8,361.4 L1263.7,361.4 L1264.6,361.3 L1265.4,361.3 L1266.3,361.3 L1267.2,361.3 L1268.0,361.2 L1268.9,361.2 L1269.8,361.2 L1270.6,361.1 L1271.5,361.1 L1272.4,361.0 L1273.2,361.0 L1274.1,361.0 L1275.0,360.9 L1275.8,360.9 L1276.7,360.9 L1277.6,360.8 L1278.5,360.8 L1279.3,360.7 L1280.2,360.7 L1281.1,360.7 L1281.9,360.6 L1282.8,360.6 L1283.7,360.5 L1284.5,360.5 L1285.4,360.5 L1286.3,360.4 L1287.1,360.4 L1288.0,360.3 L1288.9,360.3 L1289.7,360.2 L1290.6,360.2 L1291.5,360.1 L1292.3,360.1 L1293.2,360.0 L1294.1,360.0 L1295.0,359.9 L1295.8,359.9 L1296.7,359.8 L1297.6,359.8 L1298.4,359.7 L1299.3,359.7 L1300.2,359.6 L1301.0,359.5 L1301.9,359.5 L1302.8,359.4 L1303.6,359.4 L1304.5,359.3 L1305.4,359.2 L1306.2,359.2 L1307.1,359.1 L1308.0,359.0 L1308.8,359.0 L1309.7,358.9 L1310.6,358.8 L1311.5,358.8 L1312.3,358.7 L1313.2,358.6 L1314.1,358.5 L1314.9,358.5 L1315.8,358.4 L1316.7,358.3 L1317.5,358.2 L1318.4,358.2 L1319.3,358.1 L1320.1,358.0 L1321.0,357.9 L1321.9,357.8 L1322.7,357.7 L1323.6,357.6 L1324.5,357.5 L1325.4,357.5 L1326.2,357.4 L1327.1,357.3 L1328.0,357.2 L1328.8,357.1 L1329.7,357.0 L1330.6,356.9 L1331.4,356.7 L1332.3,356.6 L1333.2,356.5 L1334.0,356.4 L1334.9,356.3 L1335.8,356.2 L1336.6,356.1 L1337.5,356.0 L1338.4,355.8 L1339.2,355.7 L1340.1,355.6 L1341.0,355.4 L1341.9,355.3 L1342.7,355.2 L1343.6,355.0 L1344.5,354.9 L1345.3,354.8 L1346.2,354.6 L1347.1,354.5 L1347.9,354.3 L1348.8,354.2 L1349.7,354.0 L1350.5,353.8 L1351.4,353.7 L1352.3,353.5 L1353.1,353.3 L1354.0,353.2 L1354.9,353.0 L1355.7,352.8 L1356.6,352.6 L1357.5,352.4 L1358.4,352.2 L1359.2,352.0 L1360.1,351.8 L1361.0,351.6 L1361.8,351.4 L1362.7,351.2 L1363.6,351.0 L1364.4,350.8 L1365.3,350.5 L1366.2,350.3 L1367.0,350.1 L1367.9,349.8 L1368.8,349.6 L1369.6,349.3 L1370.5,349.1 L1371.4,348.8 L1372.2,348.6 L1373.1,348.3 L1374.0,348.0 L1374.9,347.7 L1375.7,347.4 L1376.6,347.1 L1377.5,346.8 L1378.3,346.5 L1379.2,346.2 L1380.1,345.9 L1380.9,345.5 L1381.8,345.2 L1382.7,344.8 L1383.5,344.5 L1384.4,344.1 L1385.3,343.7 L1386.1,343.4 L1387.0,343.0 L1387.9,342.6 L1388.7,342.2 L1389.6,341.8 L1390.5,341.3 L1391.4,340.9 L1392.2,340.5 L1393.1,340.0 L1394.0,339.5 L1394.8,339.1 L1395.7,338.6 L1396.6,338.1 L1397.4,337.6 L1398.3,337.0 L1399.2,336.5 L1400.0,336.0 L1400.9,335.4 L1401.8,334.8 L1402.6,334.3 L1403.5,333.7 L1404.4,333.0 L1405.2,332.4 L1406.1,331.8 L1407.0,331.1 L1407.9,330.5 L1408.7,329.8 L1409.6,329.1 L1410.5,328.4 L1411.3,327.6 L1412.2,326.9 L1413.1,326.1 L1413.9,325.3 L1414.8,324.5 L1415.7,323.7 L1416.5,322.9 L1417.4,322.0 L1418.3,321.2 L1419.1,320.3 L1420.0,319.4 L1420.9,318.4 L1421.7,317.5 L1422.6,316.5 L1423.5,315.5 L1424.4,314.5 L1425.2,313.5 L1426.1,312.4 L1427.0,311.3 L1427.8,310.2 L1428.7,309.1 L1429.6,308.0 L1430.4,306.8 L1431.3,305.6 L1432.2,304.4 L1433.0,303.2 L1433.9,301.9 L1434.8,300.6 L1435.6,299.3 L1436.5,298.0 L1437.4,296.7 L1438.2,295.3 L1439.1,293.9 L1440.0,292.5 L1440.9,291.1 L1441.7,289.6 L1442.6,288.1 L1443.5,286.6 L1444.3,285.1 L1445.2,283.6 L1446.1,282.0 L1446.9,280.5 L1447.8,278.9 L1448.7,277.3 L1449.5,275.7 L1450.4,274.0 L1451.3,272.4 L1452.1,270.8 L1453.0,269.1 L1453.9,267.4 L1454.7,265.8 L1455.6,264.1 L1456.5,262.4 L1457.4,260.7 L1458.2,259.0 L1459.1,257.4 L1460.0,255.7 L1460.8,254.0 L1461.7,252.4 L1462.6,250.8 L1463.4,249.2 L1464.3,247.6 L1465.2,246.0 L1466.0,244.4 L1466.9,242.9 L1467.8,241.4 L1468.6,240.0 L1469.5,238.5 L1470.4,237.1 L1471.2,235.8 L1472.1,234.5 L1473.0,233.3 L1473.9,232.1 L1474.7,230.9 L1475.6,229.8 L1476.5,228.8 L1477.3,227.8 L1478.2,226.9 L1479.1,226.1 L1479.9,225.3 L1480.8,224.6 L1481.7,224.0 L1482.5,223.4 L1483.4,223.0 L1484.3,222.6 L1485.1,222.2 L1486.0,222.0 L1486.9,221.8 L1487.7,221.8 L1488.6,221.8 L1489.5,221.8 L1490.4,222.0 L1491.2,222.2 L1492.1,222.5 L1493.0,222.9 L1493.8,223.4 L1494.7,224.0 L1495.6,224.6 L1496.4,224.6 L1497.3,224.0 L1498.2,223.4 L1499.0,222.9 L1499.9,222.5 L1500.8,222.2 L1501.6,222.0 L1502.5,221.8 L1503.4,221.8 L1504.3,221.8 L1505.1,221.8 L1506.0,222.0 L1506.9,222.2 L1507.7,222.6 L1508.6,223.0 L1509.5,223.4 L1510.3,224.0 L1511.2,224.6 L1512.1,225.3 L1512.9,226.1 L1513.8,226.9 L1514.7,227.8 L1515.5,228.8 L1516.4,229.8 L1517.3,230.9 L1518.1,232.1 L1519.0,233.3 L1519.9,234.5 L1520.8,235.8 L1521.6,237.1 L1522.5,238.5 L1523.4,240.0 L1524.2,241.4 L1525.1,242.9 L1526.0,244.4 L1526.8,246.0 L1527.7,247.6 L1528.6,249.2 L1529.4,250.8 L1530.3,252.4 L1531.2,254.0 L1532.0,255.7 L1532.9,257.4 L1533.8,259.0 L1534.6,260.7 L1535.5,262.4 L1536.4,264.1 L1537.3,265.8 L1538.1,267.4 L1539.0,269.1 L1539.9,270.8 L1540.7,272.4 L1541.6,274.0 L1542.5,275.7 L1543.3,277.3 L1544.2,278.9 L1545.1,280.5 L1545.9,282.0 L1546.8,283.6 L1547.7,285.1 L1548.5,286.6 L1549.4,288.1 L1550.3,289.6 L1551.1,291.1 L1552.0,292.5 L1552.9,293.9 L1553.8,295.3 L1554.6,296.7 L1555.5,298.0 L1556.4,299.3 L1557.2,300.6 L1558.1,301.9 L1559.0,303.2 L1559.8,304.4 L1560.7,305.6 L1561.6,306.8 L1562.4,308.0 L1563.3,309.1 L1564.2,310.2 L1565.0,311.3 L1565.9,312.4 L1566.8,313.5 L1567.6,314.5 L1568.5,315.5 L1569.4,316.5 L1570.3,317.5 L1571.1,318.4 L1572.0,319.4 L1572.9,320.3 L1573.7,321.2 L1574.6,322.0 L1575.5,322.9 L1576.3,323.7 L1577.2,324.5 L1578.1,325.3 L1578.9,326.1 L1579.8,326.9 L1580.7,327.6 L1581.5,328.4 L1582.4,329.1 L1583.3,329.8 L1584.1,330.5 L1585.0,331.1 L1585.9,331.8 L1586.8,332.4 L1587.6,333.0 L1588.5,333.7 L1589.4,334.3 L1590.2,334.8 L1591.1,335.4 L1592.0,336.0 L1592.8,336.5 L1593.7,337.0 L1594.6,337.6 L1595.4,338.1 L1596.3,338.6 L1597.2,339.1 L1598.0,339.5 L1598.9,340.0 L1599.8,340.5 L1600.6,340.9 L1601.5,341.3 L1602.4,341.8 L1603.3,342.2 L1604.1,342.6 L1605.0,343.0 L1605.9,343.4 L1606.7,343.7 L1607.6,344.1 L1608.5,344.5 L1609.3,344.8 L1610.2,345.2 L1611.1,345.5 L1611.9,345.9 L1612.8,346.2 L1613.7,346.5 L1614.5,346.8 L1615.4,347.1 L1616.3,347.4 L1617.1,347.7 L1618.0,348.0 L1618.9,348.3 L1619.8,348.6 L1620.6,348.8 L1621.5,349.1 L1622.4,349.3 L1623.2,349.6 L1624.1,349.8 L1625.0,350.1 L1625.8,350.3 L1626.7,350.5 L1627.6,350.8 L1628.4,351.0 L1629.3,351.2 L1630.2,351.4 L1631.0,351.6 L1631.9,351.8 L1632.8,352.0 L1633.6,352.2 L1634.5,352.4 L1635.4,352.6 L1636.3,352.8 L1637.1,353.0 L1638.0,353.2 L1638.9,353.3 L1639.7,353.5 L1640.6,353.7 L1641.5,353.8 L1642.3,354.0 L1643.2,354.2 L1644.1,354.3 L1644.9,354.5 L1645.8,354.6 L1646.7,354.8 L1647.5,354.9 L1648.4,355.0 L1649.3,355.2 L1650.1,355.3 L1651.0,355.4 L1651.9,355.6 L1652.8,355.7 L1653.6,355.8 L1654.5,356.0 L1655.4,356.1 L1656.2,356.2 L1657.1,356.3 L1658.0,356.4 L1658.8,356.5 L1659.7,356.6 L1660.6,356.7 L1661.4,356.9 L1662.3,357.0 L1663.2,357.1 L1664.0,357.2 L1664.9,357.3 L1665.8,357.4 L1666.6,357.5 L1667.5,357.5 L1668.4,357.6 L1669.3,357.7 L1670.1,357.8 L1671.0,357.9 L1671.9,358.0 L1672.7,358.1 L1673.6,358.2 L1674.5,358.2 L1675.3,358.3 L1676.2,358.4 L1677.1,358.5 L1677.9,358.5 L1678.8,358.6 L1679.7,358.7 L1680.5,358.8 L1681.4,358.8 L1682.3,358.9 L1683.2,359.0 L1684.0,359.0 L1684.9,359.1 L1685.8,359.2 L1686.6,359.2 L1687.5,359.3 L1688.4,359.4 L1689.2,359.4 L1690.1,359.5 L1691.0,359.5 L1691.8,359.6 L1692.7,359.7 L1693.6,359.7 L1694.4,359.8 L1695.3,359.8 L1696.2,359.9 L1697.0,359.9 L1697.9,360.0 L1698.8,360.0 L1699.7,360.1 L1700.5,360.1 L1701.4,360.2 L1702.3,360.2 L1703.1,360.3 L1704.0,360.3 L1704.9,360.4 L1705.7,360.4 L1706.6,360.5 L1707.5,360.5 L1708.3,360.5 L1709.2,360.6 L1710.1,360.6 L1710.9,360.7 L1711.8,360.7 L1712.7,360.7 L1713.5,360.8 L1714.4,360.8 L1715.3,360.9 L1716.2,360.9 L1717.0,360.9 L1717.9,361.0 L1718.8,361.0 L1719.6,361.0 L1720.5,361.1 L1721.4,361.1 L1722.2,361.2 L1723.1,361.2 L1724.0,361.2 L1724.8,361.3 L1725.7,361.3 L1726.6,361.3 L1727.4,361.3 L1728.3,361.4 L1729.2,361.4 L1730.0,361.4 L1730.9,361.5 L1731.8,361.5 L1732.7,361.5 L1733.5,361.6 L1734.4,361.6 L1735.3,361.6 L1736.1,361.6 L1737.0,361.7 L1737.9,361.7 L1738.7,361.7 L1739.6,361.7 L1740.5,361.8 L1741.3,361.8 L1742.2,361.8 L1743.1,361.8 L1743.9,361.9 L1744.8,361.9 L1745.7,361.9 L1746.5,361.9 L1747.4,362.0 L1748.3,362.0 L1749.2,362.0 L1750.0,362.0 L1750.9,362.0 L1751.8,362.1 L1752.6,362.1 L1753.5,362.1 L1754.4,362.1 L1755.2,362.2 L1756.1,362.2" fill="none" stroke="#dc3d38" stroke-width="4"/></g>
<circle cx="1549" cy="77.9" r="4.6" fill="#87888c"/>
<text class="t" x="1571.48" y="82.50" font-size="27" font-family="Liberation Serif, serif" fill="#303030" textLength="137.67" lengthAdjust="spacingAndGlyphs">experiment</text>
<line x1="1530.6" y1="118.8" x2="1567.2" y2="118.8" stroke="#dc3d38" stroke-width="4" stroke-linecap="round"/>
<text class="t" x="1572.85" y="125.40" font-size="25" font-family="Liberation Serif, serif" fill="#303030" textLength="148.92" lengthAdjust="spacingAndGlyphs">BTK fitting</text>
<text class="t" x="1214.88" y="466.80" font-size="25" font-family="Liberation Serif, serif" fill="#303030" textLength="50.75" lengthAdjust="spacingAndGlyphs">−15</text>
<text class="t" x="1296.95" y="466.80" font-size="25" font-family="Liberation Serif, serif" fill="#303030" textLength="51.60" lengthAdjust="spacingAndGlyphs">−10</text>
<text class="t" x="1389.25" y="466.80" font-size="25" font-family="Liberation Serif, serif" fill="#303030" textLength="37.29" lengthAdjust="spacingAndGlyphs">−5</text>
<text class="t" x="1483.38" y="466.80" font-size="25" font-family="Liberation Serif, serif" fill="#303030" textLength="15.24" lengthAdjust="spacingAndGlyphs">0</text>
<text class="t" x="1574.68" y="466.80" font-size="25" font-family="Liberation Serif, serif" fill="#303030" textLength="14.37" lengthAdjust="spacingAndGlyphs">5</text>
<text class="t" x="1656.23" y="466.80" font-size="25" font-family="Liberation Serif, serif" fill="#303030" textLength="28.51" lengthAdjust="spacingAndGlyphs">10</text>
<text class="t" x="1742.30" y="466.80" font-size="25" font-family="Liberation Serif, serif" fill="#303030" textLength="27.82" lengthAdjust="spacingAndGlyphs">15</text>
<text class="t" x="1175.62" y="95.00" font-size="25" font-family="Liberation Serif, serif" fill="#303030" textLength="50.12" lengthAdjust="spacingAndGlyphs">1.85</text>
<text class="t" x="1172.21" y="287.70" font-size="25" font-family="Liberation Serif, serif" fill="#303030" textLength="52.28" lengthAdjust="spacingAndGlyphs">1.80</text>
<text class="t" x="1389.58" y="499.00" font-size="26" font-family="Liberation Serif, serif" fill="#303030" textLength="221.73" lengthAdjust="spacingAndGlyphs">Bias voltage/meV</text>
<text class="t" transform="translate(1156.0,377.85) rotate(-90)" font-size="25.5" font-family="Liberation Serif, serif" fill="#303030" textLength="271.54" lengthAdjust="spacingAndGlyphs">(d<tspan font-style="italic">I</tspan>/d<tspan font-style="italic">V</tspan>)/arb. units</text>
<text class="t" x="1539.88" y="412.80" font-size="35" font-family="Liberation Serif, serif" font-style="italic" fill="#303030" textLength="24.77" lengthAdjust="spacingAndGlyphs">T</text>
<text class="t" x="1570.38" y="412.80" font-size="35" font-family="Liberation Serif, serif" fill="#303030" textLength="29.52" lengthAdjust="spacingAndGlyphs">=</text>
<text class="t" x="1606.59" y="413.00" font-size="35" font-family="Liberation Serif, serif" fill="#303030" textLength="37.72" lengthAdjust="spacingAndGlyphs">20</text>
<text class="t" x="1652.18" y="412.80" font-size="35" font-family="Liberation Serif, serif" fill="#303030" textLength="26.98" lengthAdjust="spacingAndGlyphs">K</text>
<text class="t" x="90.52" y="951.00" font-size="35" font-family="Liberation Serif, serif" fill="#303030" textLength="68.19" lengthAdjust="spacingAndGlyphs">−50</text>
<text class="t" x="290.14" y="951.00" font-size="35" font-family="Liberation Serif, serif" fill="#303030" textLength="67.56" lengthAdjust="spacingAndGlyphs">−25</text>
<text class="t" x="536.51" y="951.00" font-size="35" font-family="Liberation Serif, serif" fill="#303030" textLength="21.07" lengthAdjust="spacingAndGlyphs">0</text>
<text class="t" x="748.77" y="951.00" font-size="35" font-family="Liberation Serif, serif" fill="#303030" textLength="38.15" lengthAdjust="spacingAndGlyphs">25</text>
<text class="t" x="952.94" y="951.00" font-size="35" font-family="Liberation Serif, serif" fill="#303030" textLength="39.33" lengthAdjust="spacingAndGlyphs">50</text>
<text class="t" x="1059.30" y="951.00" font-size="35" font-family="Liberation Serif, serif" fill="#303030" textLength="48.96" lengthAdjust="spacingAndGlyphs">−6</text>
<text class="t" x="1213.41" y="951.00" font-size="35" font-family="Liberation Serif, serif" fill="#303030" textLength="50.89" lengthAdjust="spacingAndGlyphs">−3</text>
<text class="t" x="1390.75" y="951.00" font-size="35" font-family="Liberation Serif, serif" fill="#303030" textLength="20.60" lengthAdjust="spacingAndGlyphs">0</text>
<text class="t" x="1551.25" y="951.00" font-size="35" font-family="Liberation Serif, serif" fill="#303030" textLength="20.49" lengthAdjust="spacingAndGlyphs">3</text>
<text class="t" x="1724.46" y="951.00" font-size="35" font-family="Liberation Serif, serif" fill="#303030" textLength="19.30" lengthAdjust="spacingAndGlyphs">6</text>
<text class="t" x="78.18" y="190.10" font-size="35" font-family="Liberation Serif, serif" fill="#303030" textLength="18.09" lengthAdjust="spacingAndGlyphs">4</text>
<text class="t" x="77.45" y="396.50" font-size="35" font-family="Liberation Serif, serif" fill="#303030" textLength="19.51" lengthAdjust="spacingAndGlyphs">3</text>
<text class="t" x="77.74" y="604.80" font-size="35" font-family="Liberation Serif, serif" fill="#303030" textLength="19.51" lengthAdjust="spacingAndGlyphs">2</text>
<text class="t" x="76.65" y="806.80" font-size="35" font-family="Liberation Serif, serif" fill="#303030" textLength="20.29" lengthAdjust="spacingAndGlyphs">1</text>
<text class="t" x="424.76" y="1011.00" font-size="35" font-family="Liberation Serif, serif" fill="#303030" textLength="297.79" lengthAdjust="spacingAndGlyphs">Bias voltage/meV</text>
<text class="t" x="1275.26" y="1011.00" font-size="35" font-family="Liberation Serif, serif" fill="#303030" textLength="297.79" lengthAdjust="spacingAndGlyphs">Bias voltage/meV</text>
<text class="t" transform="translate(28.5,624.26) rotate(-90)" font-size="35" font-family="Liberation Serif, serif" fill="#303030" textLength="308.46" lengthAdjust="spacingAndGlyphs">(d<tspan font-style="italic">I</tspan>/d<tspan font-style="italic">V</tspan>)/arb. units</text>
<text class="t" x="165.08" y="81.50" font-size="36" font-family="Liberation Serif, serif" fill="#303030" textLength="44.93" lengthAdjust="spacingAndGlyphs">(a)</text>
<text class="t" x="1023.77" y="81.50" font-size="36" font-family="Liberation Serif, serif" fill="#303030" textLength="47.39" lengthAdjust="spacingAndGlyphs">(b)</text>
<text class="t" x="583.13" y="56.70" font-size="30" font-family="Liberation Serif, serif" fill="#303030" textLength="41.91" lengthAdjust="spacingAndGlyphs">(Li</text>
<text x="623.77" y="64.50" font-size="20" font-family="Liberation Serif, serif" fill="#303030" textLength="26.31" lengthAdjust="spacingAndGlyphs">1−</text>
<text x="649.73" y="64.50" font-size="20" font-family="Liberation Serif, serif" font-style="italic" fill="#303030" textLength="10.36" lengthAdjust="spacingAndGlyphs">x</text>
<text class="t" x="659.88" y="56.70" font-size="30" font-family="Liberation Serif, serif" fill="#303030" textLength="37.23" lengthAdjust="spacingAndGlyphs">Fe</text>
<text x="697.64" y="64.50" font-size="20" font-family="Liberation Serif, serif" font-style="italic" fill="#303030" textLength="10.46" lengthAdjust="spacingAndGlyphs">x</text>
<text class="t" x="707.88" y="56.70" font-size="30" font-family="Liberation Serif, serif" fill="#303030" textLength="226.01" lengthAdjust="spacingAndGlyphs">)OHFeSe/Pt_Ir</text>
<text class="t" x="588.24" y="100.30" font-size="30" font-family="Liberation Serif, serif" fill="#303030" textLength="210.06" lengthAdjust="spacingAndGlyphs">crystal sample</text>
<text class="t" x="242.61" y="548.30" font-size="35" font-family="Liberation Serif, serif" fill="#303030" textLength="18.25" lengthAdjust="spacingAndGlyphs">5</text>
<text class="t" x="274.87" y="547.90" font-size="35" font-family="Liberation Serif, serif" fill="#303030" textLength="27.29" lengthAdjust="spacingAndGlyphs">K</text>
<text class="t" x="364.05" y="873.40" font-size="35" font-family="Liberation Serif, serif" fill="#303030" textLength="37.45" lengthAdjust="spacingAndGlyphs">40</text>
<text class="t" x="414.97" y="873.00" font-size="35" font-family="Liberation Serif, serif" fill="#303030" textLength="27.19" lengthAdjust="spacingAndGlyphs">K</text>
<text class="t" x="770.17" y="622.90" font-size="34.5" font-family="Liberation Serif, serif" font-style="italic" fill="#303030" textLength="24.87" lengthAdjust="spacingAndGlyphs">T</text>
<text x="794.15" y="634.30" font-size="18" font-family="Liberation Serif, serif" fill="#303030" textLength="10.56" lengthAdjust="spacingAndGlyphs">c</text>
<text class="t" x="812.44" y="623.00" font-size="34.5" font-family="Liberation Serif, serif" fill="#303030" textLength="28.92" lengthAdjust="spacingAndGlyphs">=</text>
<text class="t" x="849.29" y="623.30" font-size="34.5" font-family="Liberation Serif, serif" fill="#303030" textLength="38.24" lengthAdjust="spacingAndGlyphs">38</text>
<text class="t" x="900.87" y="622.90" font-size="34.5" font-family="Liberation Serif, serif" fill="#303030" textLength="27.29" lengthAdjust="spacingAndGlyphs">K</text>
<text class="t" x="1014.29" y="594.30" font-size="35" font-family="Liberation Serif, serif" fill="#303030" textLength="269.32" lengthAdjust="spacingAndGlyphs">Andreev spectra</text>
<text class="t" x="1012.15" y="640.10" font-size="35" font-family="Liberation Serif, serif" fill="#303030" textLength="200.75" lengthAdjust="spacingAndGlyphs">BTK theory</text>
<text class="t" x="1637.07" y="620.90" font-size="34.5" font-family="Liberation Serif, serif" font-style="italic" fill="#303030" textLength="24.87" lengthAdjust="spacingAndGlyphs">T</text>
<text class="t" x="1667.68" y="621.00" font-size="34.5" font-family="Liberation Serif, serif" fill="#303030" textLength="29.52" lengthAdjust="spacingAndGlyphs">=</text>
<text class="t" x="1703.55" y="621.20" font-size="34.5" font-family="Liberation Serif, serif" fill="#303030" textLength="48.50" lengthAdjust="spacingAndGlyphs">0.5</text>
<text class="t" x="1761.67" y="620.90" font-size="34.5" font-family="Liberation Serif, serif" font-style="italic" fill="#303030" textLength="24.87" lengthAdjust="spacingAndGlyphs">T</text>
<text x="1785.69" y="632.60" font-size="18" font-family="Liberation Serif, serif" fill="#303030" textLength="10.08" lengthAdjust="spacingAndGlyphs">c</text>
<path d="M312,562.2 Q379.5,715.3 393.4,815.7" fill="none" stroke="#262626" stroke-width="2.4"/>
<path d="M395.9,833.5 L387.7,814.4 L398.6,812.9 Z" fill="#262626"/>
<path d="M1735.3,641 Q1690,730 1672.6,815.6" fill="none" stroke="#262626" stroke-width="2.4"/>
<path d="M1669.0,833.2 L1667.6,812.5 L1678.4,814.7 Z" fill="#262626"/>
</svg>
</body></html>
